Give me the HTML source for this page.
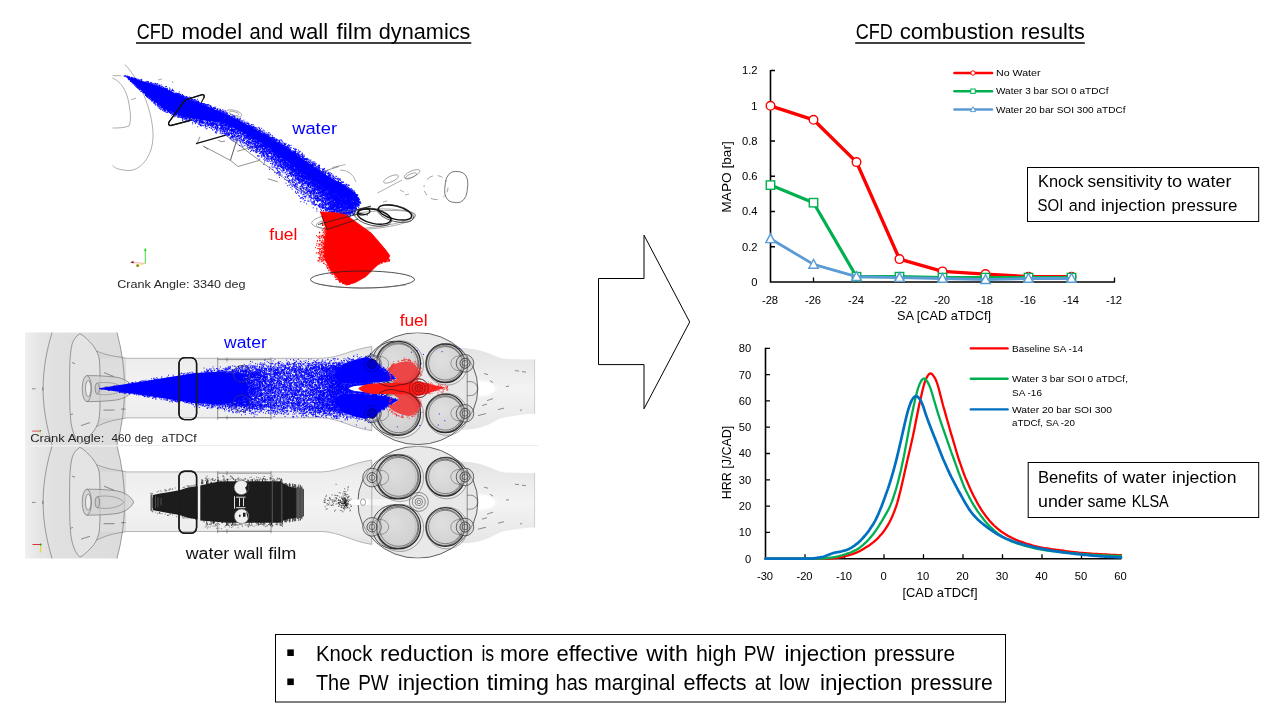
<!DOCTYPE html>
<html lang="en"><head><meta charset="utf-8"><title>CFD model and combustion results</title>
<style>html,body{margin:0;padding:0;background:#fff;overflow:hidden}svg{display:block}text{font-family:"Liberation Sans", sans-serif;}</style></head>
<body>
<svg width="1280" height="720" viewBox="0 0 1280 720">
<rect width="1280" height="720" fill="#fff"/>
<g id="img1">
<path d="M125 64.6C140 80 152 110 153 133S140 172 127 170.5S115 167 112.5 165.6" fill="none" stroke="#6a6a6a" stroke-width="0.55"/>
<path d="M112.5 75.7H121M112.5 78C122 82 127 92 129 104S131 120 129 126C124 128 118 128 112.5 128" fill="none" stroke="#6a6a6a" stroke-width="0.55"/>
<path d="M131 100l5 -2M158 80l4 -1M172 81l1 2" fill="none" stroke="#6a6a6a" stroke-width="0.55"/>
<path d="M202.9 145.9L230.4 160.4L238 166.5L259.4 160.4M237.3 151.3L256.4 145.9L257.2 152.8M242.6 132.9L258.7 129.1M225.8 135.2L259.4 160.4L287 180.3L309.9 195.6M267.9 178.8L277.8 181.8M199.9 136.7L196.8 144.4M204 146.5l4 3M309.9 175.7L338.9 166.5M309.9 175.7L318 182M300 186l22 14M218 140q3 3 7 1" fill="none" stroke="#6a6a6a" stroke-width="0.55"/>
<path d="M196 143.6L225.8 135.2" fill="none" stroke="#111" stroke-width="1.2"/>
<path d="M230.4 160.4L237.3 138.3" fill="none" stroke="#333" stroke-width="0.8"/>
<ellipse cx="234" cy="113.5" rx="8" ry="3.2" transform="rotate(14 234 113.5)" fill="none" stroke="#6a6a6a" stroke-width="0.55"/>
<ellipse cx="234" cy="113.5" rx="5" ry="1.8" transform="rotate(14 234 113.5)" fill="none" stroke="#6a6a6a" stroke-width="0.55"/>
<path d="M171 125.5Q167.5 125.5 169 122L184 101.5Q185.5 99.5 188 99L201.5 94.8Q205 94 204 97.5L193 118Q192 120 190 120.5Z" fill="none" stroke="#111" stroke-width="1.1"/>
<path d="M124.5 75.5L150.0 83.3L162.5 87.5L183.0 96.5L204.0 104.9L225.0 113.6L246.0 123.9L267.0 135.7L287.5 148.6L300.0 157.0L325.0 174.2L350.0 189.6L357.0 195.6L361.0 204.0L352.0 200.5L340.0 196.1L325.0 188.9L300.0 171.9L287.5 161.7L267.0 146.4L246.0 134.4L225.0 123.6L204.0 120.6L183.0 117.1L162.5 108.1L150.0 98.3L124.5 75.8Z" fill="#0000ff"/>
<path d="M124.1 76.1h0m.7 .2h0m.3-.7h0m.6 .3h0m1.5 .1h0m.4 .3h0m.8 3.1h0m.1-2.6h0m.4 0h0m0 3h0m.5-3.2h0m.8 4.4h0m.4 .4h0m.5 .3h0m.5-4.3h0m.2 0h0m0 .3h0m.1 4.7h0m.9-4.9h0m.1 6.2h0m.3-.2h0m.3 .4h0m.5-5.6h0m.3 0h0m0 0h0m.2 6.6h0m.4-6.5h0m0 7.1h0m.3-6.9h0m.5 .3h0m0 0h0m.2 7.2h0m.1 .2h0m.1-7.6h0m.1 7.5h0m.6 1.2h0m.3-.1h0m.1-8.1h0m.2 8.2h0m.6 .5h0m0 .3h0m.3 .1h0m.1-9h0m.2 9.7h0m.9 .5h0m0 .4h0m.6-10.4h0m.7 11.7h0m.2-11.4h0m.1 11.5h0m.2 .1h0m.3-11.1h0m0 .2h0m.1-1.1h0m1 12.9h0m.5 0h0m.2 .4h0m0 .1h0m1.3 .9h0m.8 1.6h0m0 .1h0m.1-.5h0m.1-.2h0m.1 .4h0m.1-13.1h0m.2-.4h0m.4 13.8h0m0 .9h0m.3-.4h0m.1 .2h0m.1 0h0m.2-14.8h0m0 15.6h0m.2 .3h0m.1-15h0m0 14.2h0m.2-14.6h0m.2 15.8h0m.3-.3h0m.2-14.5h0m.1-1.1h0m.6 15.9h0m.1 .6h0m0 .4h0m.1-.4h0m.2-15.1h0m0 15.1h0m.5 .8h0m.7 .4h0m.1-17h0m0 .8h0m.2 0h0m.1-.3h0m0 16.4h0m.1 .8h0m.2-17.1h0m.2 16.7h0m.1 1.3h0m.3-.8h0m0 .9h0m.2-17.2h0m.3 16.6h0m0 .1h0m0 .3h0m.4-17.6h0m.1 1h0m.3-.7h0m.2 19.2h0m.4-1.2h0m.2 1.3h0m.3-1h0m.1 .7h0m.2-18.1h0m.2 18.1h0m.1 1h0m.1-20.3h0m0 20.2h0m.1-20h0m0 19.1h0m0 2.1h0m.1-20.3h0m.3 20.6h0m.3-21.5h0m.6 1.9h0m.2-1h0m.2 .9h0m0 19.3h0m.1-19.3h0m.3-1.1h0m.4-.6h0m0 20.9h0m0 1h0m0 .3h0m.3 1h0m.1-21.1h0m.1 19.2h0m.4 .9h0m.2 .1h0m.2 1.8h0m.1-22.8h0m.1 .4h0m0 .9h0m0 20.4h0m.2-20.2h0m0 22.2h0m.1-23.1h0m.1 1h0m.2 20h0m.3 1.1h0m.2 .3h0m.1-22h0m.3 22h0m0 1.7h0m.2-22.7h0m.2 22.4h0m.2-24.4h0m.2 22.6h0m.1-.1h0m.2 .5h0m.1-20.9h0m.2-.7h0m0 .2h0m.1 21.7h0m.5 2.1h0m.4-1h0m.1 .2h0m0 .3h0m.2-22.5h0m0 .5h0m0 20.7h0m.4 1.1h0m.2-21.7h0m0 21.1h0m.1 2.4h0m.1-.4h0m.2-1.7h0m0 .6h0m.2-.6h0m0 1.2h0m.1-1.4h0m0 1h0m.1-21.6h0m.2-.4h0m.2 22.2h0m0 .6h0m.1-1.4h0m.1-22.8h0m0 1.9h0m.2 23.3h0m.1-1.2h0m.1-21.8h0m.1 20.9h0m.2 1h0m.2-22h0m.1-2.3h0m0 2.3h0m.3 23.5h0m.1-23h0m.2-1.1h0m0 .5h0m.2 .6h0m0 23.1h0m.1-.2h0m.1-23h0m0 21.1h0m.4 .3h0m0 .6h0m.3 0h0m.1-.6h0m.1 0h0m.1 .4h0m.1 .6h0m.5 .2h0m0 .2h0m.2-21.7h0m0 20.9h0m.2 .9h0m.2-24.1h0m0 2.2h0m0 21.7h0m.1 0h0m.1-22.3h0m0 22.5h0m.2-23.1h0m0 22.8h0m.2 1.2h0m.3 .5h0m.3-22.4h0m.1 21.3h0m.2 0h0m.1 .8h0m.1-22.7h0m.1 22.4h0m.1 2.2h0m.1-23.7h0m.2 21.3h0m.3 0h0m.1 .5h0m.1-23.2h0m.1-.8h0m.1 25.4h0m.1-24.3h0m.1-.2h0m.1 23.2h0m.2-22.7h0m0 23.7h0m.2-23.6h0m.5 23.2h0m0 .5h0m0 .2h0m0 .6h0m.2-1.5h0m.1-22.5h0m0 22.4h0m.3 1.2h0m.3-.1h0m.1-.7h0m.1 2.7h0m.4-2h0m.1 1.4h0m.1-2h0m.3 .8h0m.1-21.8h0m.2 21.7h0m.1-21.5h0m0 21.9h0m.1-.7h0m.3 .1h0m.1-21.4h0m.5 22.4h0m.1-22h0m.1 22.9h0m.1-22.6h0m0 .1h0m.4 .2h0m0 23.1h0m.3-23.1h0m0 21h0m.2-21.6h0m.2 23.5h0m.1-1.6h0m.2 1.1h0m.1-23.2h0m0 1h0m0 21.5h0m.2-21.5h0m0 21.6h0m0 1.3h0m.1-25.3h0m0 2.2h0m.3 0h0m0 22h0m.3-.5h0m.6-21.2h0m0 22.8h0m.2-22.4h0m.1 .3h0m.1-1.1h0m.1 22.7h0m.2 .6h0m.1-.5h0m0 .2h0m.3-21.4h0m0 21.6h0m.6-22h0m0 21.7h0m0 .2h0m.2 1.2h0m.1-23.1h0m.1-.8h0m0 23.3h0m.1 2.2h0m0 .6h0m.1-2.8h0m.1-21.6h0m.1 0h0m0 21.3h0m.1 .8h0m0 1.3h0m.2-2.5h0m.1-20.7h0m.1-.7h0m.1 .6h0m.1 .4h0m.2 .1h0m.1 20.6h0m.3 .2h0m.1 1.3h0m.1-1.3h0m.3-21.3h0m.2 23.3h0m.2-.9h0m.1-.6h0m.1-21.4h0m0 21.1h0m.2 .7h0m.1-21h0m.2 21.4h0m.1 1.5h0m.3-2.5h0m.3-20.7h0m.1-.5h0m0 .3h0m0 21.1h0m.1 .3h0m0 .4h0m.1 .9h0m.1 .4h0m.2-2.1h0m.2-20h0m.2-.7h0m.3 .1h0m0 20.6h0m.2 3.6h0m.1-3.4h0m.2-19.9h0m0 20.9h0m.7 1.3h0m.1-22.8h0m.3-.6h0m.2 22.3h0m0 .3h0m0 .5h0m.1-1.7h0m0 0h0m.2-19.4h0m0 21.1h0m.3-1.7h0m0 0h0m.3-19.8h0m.1 19.7h0m0 1.5h0m.3-22.5h0m0 .2h0m.3 1.4h0m.3 .5h0m0 .2h0m.1 20.8h0m.3-21.1h0m0 21h0m.6-20.8h0m.1 22.7h0m0 1.6h0m.1-24.6h0m.3 20.8h0m.1-19.6h0m0 20.3h0m.2-1.6h0m0 1.4h0m.2-20.5h0m.2 20.2h0m0 .2h0m.4-1.1h0m.1-19.6h0m.1 21.7h0m.1 .4h0m.2-21.9h0m0 19.5h0m.3-19.6h0m.1-.2h0m0 .2h0m0 21.1h0m.2-20.5h0m0 20.6h0m.1-.1h0m.1 2.5h0m.1-22.1h0m.2 21.2h0m.1-1.2h0m.2-.9h0m0 .9h0m.1-1.7h0m0 .2h0m0 2.8h0m.1-1.2h0m.1-.4h0m0 .3h0m.1-20.6h0m0 20.7h0m.1-19.7h0m.1 18.7h0m0 1.1h0m.1-20.1h0m0 18.1h0m.3 .3h0m.1-18.9h0m.2 1.2h0m0 20.6h0m.1-1.9h0m.1-21.7h0m0 21.4h0m.2 6.2h0m.2-25.4h0m0 .8h0m.1-.2h0m0 .2h0m0 17.6h0m.2-17.4h0m.2-1.3h0m0 19.1h0m.1 3.9h0m.1-22.7h0m0 1.1h0m.1-.1h0m.2 19.6h0m.1-19.3h0m.1 18.2h0m0 2.5h0m.1 .8h0m.1-1.9h0m0 .6h0m.1-20.1h0m.2 17.3h0m0 4.2h0m.2-3.6h0m0 .6h0m0 1.4h0m.1-2.5h0m0 1.1h0m.1-1.1h0m0 2h0m.1-.1h0m0 .7h0m.1-1.6h0m0 4.3h0m.1-4.7h0m0 .7h0m.1-18.3h0m.1 17.1h0m0 .7h0m0 4.3h0m.1-.9h0m.1 1.3h0m.1-4.8h0m.2 3h0m.2-20.2h0m0 21.8h0m.2-3.7h0m.1-.7h0m0 1h0m.1 .2h0m.1-19h0m0 22.7h0m.1-22.1h0m.1 17.1h0m0 1.1h0m.1-1.8h0m0 1.7h0m.1-.2h0m0 1.7h0m0 1.6h0m0 .4h0m.1-21.9h0m0 16.7h0m.1 2.5h0m.2-1.1h0m0 .9h0m.1-18.7h0m0 17.6h0m.1 1.6h0m.1-2.2h0m.2-17.3h0m.2 18.6h0m.1 .3h0m.1-18.5h0m0 18.1h0m.1 0h0m0 3.6h0m.1-21.2h0m0 .3h0m.1 17.8h0m.1 1h0m.1-19.8h0m0 19.9h0m.1-20h0m0 .3h0m.1 .2h0m.2 18.6h0m.3-.6h0m.3-17.7h0m.1 20.1h0m0 1h0m.1-20.3h0m.1-1.2h0m0 23.7h0m.1-2.6h0m.1-3.3h0m.1 4.8h0m.1-2.7h0m0 1.3h0m.1-20.4h0m0 .5h0m.1 15.6h0m0 2.3h0m.1-18.6h0m.2 21.8h0m.2-2.9h0m.1 5.3h0m.1-23.8h0m0 .2h0m.1 18.8h0m.1-1.9h0m.1 .6h0m.2-18.2h0m0 1.5h0m0 16.5h0m.1 .2h0m0 3.1h0m.1-3.8h0m0 6.1h0m.1-6.1h0m0 .4h0m.1-1h0m0 .3h0m.1-.2h0m.1 1.6h0m0 1.3h0m.1-1.1h0m0 2.5h0m.1-21.3h0m0 .3h0m0 .5h0m.2 .8h0m0 16.2h0m.3 2.6h0m.1-20.6h0m0 19.5h0m0 1.1h0m.1 .8h0m.1-1.4h0m.2-17.7h0m0 16.3h0m.1 1.9h0m.1-19.9h0m0 16.4h0m.2 3.7h0m.1-3.7h0m.1 6h0m.1-3.8h0m0 .7h0m.1-2.1h0m0 5.3h0m.1-6h0m.1-15.7h0m.2 .1h0m.3 18.6h0m0 1h0m.1-2.3h0m.1-1h0m.1-15.4h0m0 14.9h0m0 3.4h0m.1-2h0m.1-17.3h0m0 .5h0m0 .3h0m0 .8h0m.1 16h0m0 2.3h0m.1-18.8h0m0 16.4h0m0 1.7h0m0 1.1h0m.1-2.4h0m.1-15.8h0m0 0h0m0 20.4h0m.1-5.7h0m0 4.5h0m0 1.2h0m.1-3.5h0m0 0h0m.1-16.9h0m0 15.7h0m.1 1.5h0m.2-17.2h0m.1 15.7h0m0 1.1h0m.2-1.4h0m.1 3.4h0m.1-3.3h0m.1-.9h0m0 .2h0m0 1.7h0m.1 1.6h0m.2-17.7h0m0 21h0m.1-3.3h0m0 1.2h0m0 3h0m.1-4.6h0m0 .1h0m.1-17.6h0m0 15h0m0 1h0m.1-.2h0m.1-15.2h0m0 14.4h0m0 1.3h0m0 .6h0m0 .6h0m.2-1.2h0m.2-16.9h0m0 16.3h0m0 3.8h0m.1-4.9h0m0 .5h0m0 .9h0m.1 3.5h0m.1-19.8h0m0 15.3h0m0 1.6h0m.1-15.9h0m0 14.5h0m.1 .5h0m.1-16.4h0m.1 15.7h0m0 1.6h0m.1 1.5h0m.1-17.7h0m0 20.8h0m.2-6.3h0m.3 4.8h0m.1-4.8h0m.1-14.6h0m.1-1.3h0m0 16.1h0m.1-14.7h0m0 15.3h0m0 4.4h0m.1-19.9h0m0 18.6h0m0 .6h0m0 4.8h0m.1-23.8h0m0 17.5h0m0 .9h0m.1 5.8h0m.1-10.1h0m0 1.8h0m0 .2h0m0 3.8h0m.1-.9h0m0 3.9h0m.1-7h0m0 4.2h0m.3-4.7h0m0 2.4h0m0 2.7h0m0 4.1h0m.1-8.5h0m.1 .9h0m0 4.2h0m.1-5.9h0m.1 .3h0m0 4.8h0m0 1.1h0m0 2.2h0m.1-2.1h0m.1-4.6h0m0 1.6h0m.1-17.6h0m0 13.6h0m0 1.9h0m.1 2.4h0m.1-18.4h0m0 .3h0m0 15.9h0m.1-15.1h0m0 13h0m0 8h0m.1-3.9h0m0 .6h0m.1-18.6h0m0 .6h0m0 16.7h0m0 3.4h0m.1-3.9h0m.1-2.7h0m0 4.3h0m0 .8h0m.1-3h0m0 2.9h0m.1-2.9h0m.1-14.8h0m0 12.1h0m.1 2.1h0m0 .8h0m.2 4.5h0m.3-2.9h0m.3-18.3h0m.1 1.6h0m0 14.2h0m.2-1.5h0m.2-12.9h0m0 13.4h0m0 1.7h0m.2 3.5h0m.1-17.9h0m.1 17.2h0m0 .3h0m.1-4.4h0m.1 .9h0m0 4.3h0m.1-19.6h0m0 14.4h0m0 7.1h0m0 2h0m.1-8.4h0m0 3.8h0m.1-3.4h0m0 .2h0m0 5.2h0m.1-21.3h0m0 2.1h0m0 12.1h0m.1-13.1h0m0 13.3h0m0 3.6h0m.1 2.9h0m.1-6.4h0m0 .8h0m0 1.7h0m0 2.4h0m0 3.5h0m.2-21h0m0 20.5h0m.2-19.9h0m.2 16h0m0 5.9h0m.1-5.7h0m.1 .5h0m.1-17.9h0m0 12.8h0m0 2.1h0m0 .7h0m.1-2.8h0m0 .5h0m0 1.2h0m0 1h0m0 1.4h0m0 2.3h0m0 .4h0m.1-4h0m.1-2.3h0m0 0h0m0 1.5h0m0 3.5h0m.1-.9h0m.1-3.1h0m0 1.9h0m.1-2.9h0m0 3.1h0m.1-15.6h0m0 12.1h0m0 2.3h0m.1-2.4h0m0 2.5h0m0 .6h0m0 5.1h0m.1-2.9h0m0 4.6h0m.1-23.4h0m0 17.4h0m0 8.4h0m.1-9.6h0m.1 1.4h0m0 2.4h0m0 2.3h0m.1-20.5h0m0 13.9h0m0 .3h0m0 .1h0m.1 3.7h0m.1-18.2h0m0 .7h0m0 13.9h0m0 2h0m.1-16.2h0m0 .6h0m0 11.4h0m0 6.1h0m0 1.3h0m.1-2.5h0m.1-4.9h0m0 5.1h0m.1-17h0m0 13.8h0m.1 4h0m0 .2h0m.1-18.3h0m0 18.1h0m0 3.9h0m.1-10h0m.1-13.5h0m0 17.4h0m0 .6h0m.1-3.7h0m0 6.4h0m.1-6.4h0m0 7.4h0m.1-4.3h0m.1-14.8h0m0 12.9h0m0 1.8h0m0 3.6h0m.1-18.1h0m.1-.9h0m0 19.7h0m.1-6.6h0m0 8.2h0m.1-3.8h0m0 1.9h0m0 1.2h0m.1-1.9h0m.1-6.3h0m0 1.7h0m.1-2.3h0m0 2.2h0m0 1.3h0m0 1h0m.1-3.3h0m0 9.5h0m.1-10.7h0m.1 .1h0m0 4.1h0m0 1.8h0m0 4.1h0m.1-23.2h0m0 13.9h0m0 4.9h0m0 4.4h0m.2-20.4h0m0 10.9h0m0 1.2h0m0 2.8h0m.1-3.9h0m.1-12.6h0m0 .9h0m0 12h0m.1 .5h0m0 .3h0m0 5.4h0m.1-4.1h0m0 .6h0m0 .8h0m0 2.6h0m0 3.3h0m.1-8.9h0m0 3.4h0m0 .1h0m0 0h0m0 3h0m0 1.7h0m.1-9.3h0m0 7.9h0m.2-7.6h0m0 .9h0m0 .5h0m0 1.3h0m.1-1.9h0m0 9.6h0m.1-21h0m0 19.9h0m.1-9.2h0m0 .8h0m0 4.8h0m0 2.5h0m.1-19.4h0m.1 .4h0m0 14.3h0m.1-15.6h0m0 1.6h0m0 15h0m.1-2.4h0m0 6.8h0m.1-3.9h0m.1 .6h0m.1-4.8h0m0 6.5h0m0 1.2h0m.1-2.3h0m0 4h0m.1-20.6h0m0 21.7h0m.1-10.8h0m0 1.7h0m0 2.2h0m0 1.2h0m.1-15.2h0m0 10.7h0m0 2.3h0m0 3.1h0m.1-2.9h0m0 1.1h0m0 5.1h0m.2-5.1h0m0 3.9h0m0 2.1h0m.2-9.7h0m0 3.1h0m0 .1h0m0 4.1h0m.1-5.4h0m.1 5.7h0m.1-6.8h0m0 .9h0m0 .6h0m0 .7h0m0 .8h0m0 5.1h0m.1-7.9h0m.1 0h0m0 6.9h0m.1 .3h0m.1-5.5h0m0 4.8h0m0 1.3h0m0 .4h0m0 .5h0m0 .3h0m.1-7.7h0m0 1.2h0m.1-2.3h0m.1-.8h0m0 1h0m.1-11.2h0m0 10.3h0m0 .1h0m0 5.1h0m.1-15.7h0m0 14.8h0m0 2.4h0m0 1.6h0m.1-7.1h0m0 1.6h0m.1-2.8h0m.3 4h0m0 7.8h0m.3-11.4h0m0 .5h0m0 11.9h0m.1-12h0m0 10.5h0m.1-10.8h0m0 3.6h0m0 2.8h0m.1-3.2h0m0 3.6h0m.1-19.2h0m0 15.9h0m.1 3.5h0m.1 4.7h0m.2-10.5h0m0 2.5h0m0 .8h0m0 .1h0m0 5.6h0m.1-20.4h0m0 13.7h0m0 2.5h0m0 .9h0m.1-6.3h0m0 2.7h0m0 .1h0m0 1.1h0m.1-3.4h0m0 1.8h0m0 5h0m0 1.6h0m.1 1.5h0m.1-4.5h0m0 .9h0m.1-2.8h0m.1-3.4h0m0 .1h0m0 .6h0m0 7.7h0m0 3.8h0m.1-23.6h0m0 11.1h0m0 .8h0m0 1.3h0m0 .1h0m0 2.1h0m0 0h0m.1-2h0m0 1.3h0m0 5.8h0m.1-7.4h0m.1 .1h0m0 6.8h0m.1-19.2h0m0 13.5h0m0 .3h0m0 6.6h0m.1-4h0m0 3.4h0m.1-7.8h0m0 .5h0m0 5.6h0m.1-6h0m0 1h0m0 6.5h0m.1-21.7h0m0 2h0m0 13.1h0m0 5.1h0m0 .5h0m.2-2.5h0m0 4.5h0m.1 .5h0m.1 2.7h0m.1-6.9h0m.1-4.7h0m0 .9h0m0 6.2h0m.1-4.7h0m0 .2h0m0 1.1h0m.2-16.9h0m.1-.2h0m0 13h0m0 1.4h0m0 1.3h0m0 .5h0m0 7.2h0m.1-9.5h0m0 4.3h0m.1-1.8h0m0 .5h0m0 3.7h0m0 0h0m.1-7h0m.1-12.8h0m0 13.1h0m0 2.1h0m0 4h0m0 1.5h0m.1-8.1h0m0 .1h0m.1-11.7h0m0 13.2h0m0 4.6h0m.1-19.3h0m0 1.4h0m0 13.1h0m0 4.1h0m.2-3.4h0m.1-13.2h0m0 12.1h0m0 4.8h0m.1-18.4h0m0 12.6h0m.1-.4h0m0 5.6h0m0 1.2h0m.1 .6h0m.1 3.3h0m0 .4h0m.1-6.5h0m.1-3.4h0m0 5.2h0m0 3.4h0m.2-20.6h0m0 11.3h0m0 3.9h0m.1-4.2h0m0 2.9h0m0 .3h0m.1 .5h0m0 4.4h0m.1-7.3h0m.1 2.4h0m.1-.8h0m0 .7h0m0 7h0m.1-20.3h0m0 11.9h0m.1 3.1h0m.2-4.3h0m0 7.3h0m.2-.4h0m.2-17.7h0m0 14.1h0m0 3.7h0m.1-4.5h0m0 1.8h0m.1 4.5h0m.1-4.4h0m0 7.8h0m.1-11.9h0m0 5.6h0m.1-16.4h0m0 14.3h0m.1-15h0m0 .2h0m.1 .5h0m0 17.5h0m.1-5.3h0m0 4.4h0m.1-16.5h0m0 11.7h0m0 1.6h0m0 7.4h0m.1-9.3h0m0 1.3h0m.1 4h0m0 3.7h0m.1-7.5h0m0 4.8h0m0 3.6h0m.1-20.7h0m0 0h0m.1 11.2h0m0 2.4h0m.1-2.7h0m0 .2h0m.1 5.7h0m.1-3.2h0m0 2.2h0m.2-5h0m0 .4h0m0 3.6h0m.1-3.8h0m.1 .4h0m.1-11.3h0m0 15.5h0m0 3.2h0m.1-20.3h0m0 1.3h0m0 17h0m0 1.9h0m.2-3.1h0m.1-15.4h0m0 18.5h0m.1-5.6h0m0 7.7h0m0 4.8h0m.1-9.7h0m0 2.9h0m.1-18h0m0 11.3h0m.1 5.5h0m.1-17.8h0m.2 .2h0m0 12.5h0m0 .8h0m0 5.1h0m0 3.3h0m.2-9.7h0m0 .9h0m0 .1h0m0 .8h0m0 9.2h0m.1-.6h0m.1-24h0m.1 14.1h0m0 2.7h0m.1 4.2h0m.1-7h0m0 1.7h0m0 2.8h0m.1-3.3h0m0 1.8h0m0 5.1h0m.1-3h0m0 .1h0m0 4.2h0m.1-21.4h0m.1 16.4h0m0 8.5h0m.1-23.8h0m0 15.1h0m.2-1.1h0m0 3.5h0m.2 .9h0m0 4.2h0m.2-7.7h0m.1-2.9h0m0 1.1h0m0 5.3h0m.1-19.2h0m.1 13.7h0m0 6.8h0m.1-19.2h0m.1 11.8h0m.1 .9h0m.1 5.8h0m0 .4h0m.1-18.8h0m0 20.5h0m0 3.6h0m.1-11.9h0m.1-.8h0m.1 1.2h0m.1 12.3h0m.1-11.2h0m.1 1.3h0m0 4.6h0m.1-1.1h0m.1-5.7h0m.1-1.2h0m0 4.8h0m0 1.2h0m.1-6.3h0m0 .2h0m0 5.3h0m.1-18.6h0m0 18.9h0m.1-17.2h0m0 21.8h0m.1-9h0m.1-1.2h0m0 5.5h0m0 3.9h0m.1-.5h0m.1-7.2h0m.1 .5h0m0 1.8h0m0 2.5h0m.1-4h0m0 4.5h0m0 2h0m.1-19.9h0m.1 .5h0m0 13.5h0m0 1.2h0m.1 7.7h0m.1-10.3h0m.1 1.6h0m.2-14.7h0m0 1.3h0m0 15.7h0m.1 4.6h0m.3-8.4h0m0 2.3h0m.1-.4h0m.1-2.1h0m0 3.5h0m0 3.2h0m.2-5.5h0m0 6.6h0m.1 .4h0m.1-7.9h0m0 .3h0m0 3.5h0m.1-3.5h0m0 8.6h0m.2-8h0m0 6.9h0m.1-19.9h0m0 14.1h0m0 4h0m.1-3.7h0m0 4.3h0m.1-3.4h0m0 3.3h0m0 1.7h0m.1-21.4h0m0 13h0m0 2.6h0m0 0h0m.1-2.5h0m0 1.2h0m0 9.6h0m.1-10.5h0m.1 4.8h0m.2-3.4h0m0 8.6h0m.1-22.4h0m0 .4h0m0 12.9h0m0 8h0m0 2.7h0m.1-11.3h0m0 4.6h0m0 .1h0m0 1.6h0m.1-6.1h0m0 2.7h0m.1-3.4h0m0 .4h0m0 .3h0m.1 .1h0m0 .2h0m0 1.9h0m0 2.4h0m0 1.1h0m.2-5.9h0m0 1.2h0m.1-1.4h0m0 1h0m0 .8h0m0 4.2h0m.1-16.6h0m.1-1h0m0 18.2h0m0 .7h0m0 2.7h0m0 3.9h0m.1-9.7h0m.1-3.9h0m0 .1h0m0 8h0m0 1.2h0m.1-21.9h0m0 1.2h0m0 11.7h0m0 2.1h0m.1-15.3h0m0 14.6h0m0 1.3h0m0 2.7h0m0 1.6h0m0 4.1h0m.1-7.8h0m0 2h0m0 1.9h0m.1-4.5h0m0 5.8h0m.1-19.3h0m0 .1h0m0 11.1h0m0 5.2h0m.2-4.7h0m0 6.1h0m.2-2.2h0m0 6.8h0m0 .1h0m.2-10.8h0m0 4.8h0m0 .5h0m0 3.7h0m.1-21.2h0m0 .4h0m0 12h0m0 2h0m.1-2.2h0m0 1.3h0m.1-12.6h0m0 11.4h0m0 1.8h0m0 2.2h0m.2-2h0m0 .2h0m0 .4h0m0 4.4h0m.1-18.4h0m0 12.5h0m0 .9h0m.1 .1h0m0 3.3h0m.1-16.8h0m0 12.8h0m0 3.9h0m.1 5.3h0m0 3.6h0m.1-12.9h0m0 8h0m.1-9.4h0m0 6.5h0m0 2.4h0m.1-.6h0m0 2.9h0m.3-21.8h0m0 15.6h0m.1-3.9h0m0 5.4h0m0 3h0m0 3.2h0m.1-12.3h0m0 12.9h0m.1-25.9h0m0 1.9h0m0 15.4h0m0 1.4h0m.1-2.5h0m.1-14.9h0m0 1h0m0 20.5h0m.1-.5h0m.1-8.5h0m.1-12h0m0 11.7h0m0 1h0m0 1.1h0m.1-1.9h0m0 4.1h0m.1-4.2h0m0 6h0m.1-6.2h0m0 3.2h0m.1 5.4h0m0 2.2h0m.1-21.4h0m0 13.1h0m0 3.7h0m0 2.3h0m0 .5h0m.1-20h0m0 .5h0m0 12.4h0m0 7.9h0m.1-7.7h0m0 .5h0m0 3.4h0m.1-2.6h0m.2-16.8h0m0 .1h0m0 16.4h0m0 .5h0m0 5.2h0m0 1.2h0m0 2.6h0m.1-9.7h0m0 4.7h0m0 4.4h0m.1-11.5h0m0 .3h0m0 .6h0m0 3.9h0m.1-4.2h0m0 3.7h0m.1-15.4h0m0 .6h0m.1 10.8h0m0 12h0m.1-24.2h0m0 12.6h0m0 4.6h0m.1-16.6h0m0 24h0m.1-23.2h0m.1 11.1h0m0 .1h0m0 4.2h0m.1-17.2h0m.1 15.2h0m0 .9h0m0 4.6h0m0 1.4h0m.2-21h0m0 .8h0m0 11.5h0m0 1.3h0m0 .4h0m0 2.7h0m0 1h0m.2-.8h0m.1-2.6h0m.1 3.7h0m0 2.4h0m.1-6.9h0m0 2.9h0m0 6.9h0m.1-6.1h0m0 1.5h0m0 0h0m.1-3.2h0m.1-15.3h0m0 17.4h0m.1-4.5h0m0 1.5h0m0 1.4h0m.1-14.4h0m0 12.1h0m0 6.4h0m.1-1h0m0 3.2h0m.1-9.5h0m0 1.5h0m0 3h0m.1-15.8h0m0 16.1h0m.1-17.1h0m0 17h0m0 2.3h0m0 .2h0m0 .3h0m0 3.7h0m.1-7.4h0m0 8.8h0m.1-24.6h0m0 13.7h0m0 .1h0m0 .6h0m0 8.8h0m.1-23.2h0m0 .8h0m0 14.6h0m0 6.1h0m.2-3.7h0m0 1.2h0m.1 .2h0m.1-4.9h0m0 .6h0m0 5.3h0m0 2h0m0 .8h0m.1-8.7h0m0 4.3h0m.1-4.9h0m0 4.8h0m0 5.8h0m.1-11.5h0m0 6.9h0m0 4.9h0m.1-2.9h0m.1-20.3h0m0 16.1h0m.1-17.7h0m0 17.6h0m0 0h0m0 2.8h0m.1-7.2h0m0 1.3h0m.1 6.3h0m.1-19.6h0m0 15.4h0m0 1.2h0m0 2.1h0m0 1h0m0 2.4h0m.1-8.3h0m0 5.4h0m0 1.8h0m.1-6.2h0m.1-2.8h0m0 5.2h0m0 2h0m.1-6.5h0m0 .1h0m0 1.8h0m0 1.9h0m0 2.7h0m0 7.2h0m.1-10h0m.1-.7h0m0 4.8h0m0 6.8h0m.1-12.5h0m.1-2.4h0m0 .2h0m0 6h0m.1-17.1h0m0 15.9h0m.1-4.9h0m0 1.2h0m.1-1.1h0m0 .3h0m0 1.4h0m0 .2h0m.1 3.6h0m.1 8.7h0m.1-24.9h0m0 10.8h0m0 0h0m0 .5h0m0 5.7h0m0 1.8h0m.1-22.4h0m0 14.5h0m0 .8h0m0 8.9h0m.1-7.1h0m0 2.3h0m0 .5h0m.2-17.1h0m0 13.1h0m0 2.6h0m0 .1h0m0 .8h0m.1-16.8h0m0 15.7h0m0 .8h0m0 5.1h0m0 4.4h0m.1-12.2h0m.1-15.8h0m0 3h0m0 16h0m0 6.4h0m.1-3.1h0m.1-21.8h0m0 21.6h0m.1-4.2h0m0 .6h0m0 6.9h0m0 5.7h0m.1-28.4h0m0 .3h0m0 12.6h0m0 2.1h0m0 .1h0m0 .3h0m0 3.7h0m.1-18.6h0m0 14.9h0m0 .6h0m0 4.1h0m.1-20.3h0m0 1.2h0m0 16.6h0m0 .9h0m.2-19.1h0m0 23.4h0m.1-23.9h0m0 16.6h0m.1-.3h0m0 .4h0m.1-15.5h0m0 13h0m0 .3h0m0 1h0m.1 .8h0m0 1.5h0m0 2.2h0m.1-5.1h0m.1 1.5h0m0 2.3h0m0 4.5h0m.1-20.8h0m0 11.5h0m0 1.9h0m0 6.9h0m.1-5.8h0m0 1.3h0m0 3.9h0m.1-6.7h0m0 1h0m0 1.7h0m0 4.4h0m.1-.5h0m0 3.4h0m.1-9.9h0m.1-13.7h0m0 13.1h0m0 12.6h0m.1-12.8h0m0 0h0m0 .6h0m0 6.4h0m0 .1h0m0 .6h0m.1-23.7h0m0 27.6h0m.1-10.3h0m.1 .6h0m0 .1h0m0 1h0m.1-1.3h0m0 9.4h0m.1-10.3h0m0 1h0m0 6.4h0m.1-21.7h0m0 17.5h0m0 1.4h0m0 1.7h0m0 1.9h0m0 3.7h0m.1-25.7h0m0 12.9h0m0 2.4h0m.1-13.6h0m0 12.7h0m0 2.7h0m0 5.8h0m.2-9h0m0 3.4h0m0 2.5h0m0 .8h0m.1-4.3h0m0 6.1h0m.1-21.7h0m0 14.5h0m0 2.7h0m0 4.9h0m.1-21.8h0m.1 12h0m0 1.6h0m0 1.8h0m0 2.1h0m0 .5h0m.1-4.4h0m0 5.7h0m.1-6.9h0m0 2h0m0 5.6h0m0 .9h0m.1-8.1h0m0 .3h0m0 5.6h0m.1-20.9h0m0 24.1h0m0 1.7h0m0 .2h0m.1-11h0m0 4.2h0m.1-.6h0m0 1h0m.1-3.3h0m0 7.2h0m0 1.7h0m.1-22.2h0m0 11.5h0m0 .6h0m0 .4h0m0 .4h0m0 6h0m0 1.3h0m.1-20.2h0m0 .3h0m0 .4h0m0 12.7h0m0 5.5h0m0 2.5h0m0 4.9h0m.1-13.4h0m0 6.3h0m0 2.7h0m0 .2h0m0 9.3h0m.2-19.1h0m0 10.3h0m.1-24.8h0m0 18.2h0m0 .6h0m0 1.8h0m.1-2.7h0m.1-3.5h0m0 4.7h0m0 6h0m0 2.7h0m.1-25.4h0m0 14.9h0m0 1.6h0m0 1.7h0m0 3.5h0m0 1.2h0m.1-9.5h0m0 15.4h0m.1-15.6h0m.1-14.3h0m0 2h0m0 .1h0m0 12.8h0m0 3.4h0m0 10h0m.1-14.3h0m0 7.2h0m.1-7.8h0m0 2.8h0m0 .2h0m0 2.7h0m0 6.1h0m.1-23.2h0m0 11.9h0m0 1.2h0m0 .9h0m.1 .5h0m0 2.9h0m0 1h0m.1-17.9h0m0 11.2h0m0 .1h0m0 2.3h0m0 3.9h0m0 4.8h0m.1-22.9h0m0 .6h0m.1 18.2h0m0 7h0m.1-14.1h0m0 .1h0m.1 5.4h0m.1-3.5h0m0 6.4h0m.1-19.2h0m0 11.2h0m0 3.2h0m0 1.7h0m.1-3.9h0m.1 .2h0m.1-12.9h0m0 13.5h0m0 10.2h0m.1-25.4h0m0 2.2h0m0 11h0m0 2.2h0m0 4.5h0m0 2.2h0m.1-8.4h0m0 .8h0m0 5.7h0m0 1.8h0m.1-4.4h0m0 3.1h0m.1-19.2h0m0 16.1h0m.1 8h0m0 1h0m.1-24.1h0m0 13h0m0 .6h0m0 7.3h0m0 1.8h0m.1-10.7h0m0 1.8h0m0 .5h0m0 2.1h0m.1-4.9h0m0 0h0m0 3.6h0m0 1.4h0m0 3.7h0m0 5.6h0m.1-13.5h0m.1-13.1h0m0 12.5h0m0 2.8h0m0 1.9h0m0 .1h0m0 4.8h0m0 4h0m.2-26.7h0m0 14.1h0m0 1.1h0m0 5.3h0m0 .4h0m.1-19h0m0 18.6h0m0 1.4h0m0 2h0m.1-22.4h0m0 .5h0m0 15.7h0m0 2.5h0m0 1.4h0m.1-8.2h0m0 6.8h0m.1-3.4h0m0 8h0m.1-5.2h0m.1 2.9h0m0 2.8h0m0 2.2h0m.1-8.6h0m.1-17h0m0 .6h0m0 11.1h0m0 1.4h0m0 10.3h0m.1-9.7h0m0 4.6h0m0 2.5h0m.1-22.2h0m0 1.9h0m.1 21.8h0m.1-7.3h0m.1-17.9h0m0 2.2h0m0 .7h0m0 13.4h0m0 1.3h0m0 5.3h0m.1-7.7h0m0 1.8h0m0 .7h0m0 .4h0m0 2.1h0m0 2.8h0m0 2h0m.1-21h0m0 19.5h0m0 4.9h0m.1-28.7h0m0 4.1h0m0 14h0m0 1.4h0m0 .7h0m.1-1.9h0m.1 2.3h0m.1-1.6h0m0 1.7h0m.1-4h0m0 10.9h0m.1-8.1h0m0 17.2h0m.1-33.3h0m0 1.2h0m0 11.6h0m0 .7h0m0 2.2h0m0 5.2h0m.1-4.6h0m0 6.6h0m.1 .1h0m0 8.1h0m.1-32.1h0m.1-1.1h0m0 15.1h0m0 2.6h0m0 1.9h0m.1-2.5h0m0 .8h0m0 2h0m.1-16.1h0m0 13.4h0m.1 1.3h0m.1-2.9h0m0 7.1h0m.1-6.7h0m0 13.6h0m.1-28.9h0m0 3.4h0m.1-.7h0m0 14h0m0 2.2h0m0 2.9h0m0 5.2h0m.1-9.7h0m0 .5h0m0 5.8h0m.1-.1h0m0 .7h0m.2-21.1h0m0 14.1h0m.1-1.4h0m0 2.8h0m0 5h0m.1-7.8h0m0 3.3h0m0 .2h0m.1-3.5h0m0 2.8h0m0 6.4h0m.1-21.9h0m0 18.4h0m0 1.2h0m.1-3.1h0m0 .8h0m0 3.1h0m0 1.9h0m.1-22.3h0m0 16h0m0 6h0m.1-9.2h0m0 10.3h0m.1-22.2h0m0 11.8h0m0 1h0m.1-.9h0m0 1.1h0m0 3.4h0m0 8.4h0m0 2.6h0m.1-14.1h0m0 5.4h0m0 .3h0m0 .1h0m.1-22h0m0 15.1h0m0 5.9h0m0 .9h0m0 3.2h0m0 .4h0m0 2.7h0m0 3.4h0m.1-29h0m0 .6h0m0 12h0m0 6.3h0m.1-21.1h0m0 1.5h0m0 13.4h0m0 6.6h0m0 1h0m.1-7h0m0 2.3h0m0 2.2h0m.1-5.1h0m.1-13.1h0m.1-.6h0m0 25.9h0m0 1.3h0m0 4.8h0m.1-16.8h0m0 .5h0m0 10h0m.1-11.3h0m0 7.8h0m.2-20.9h0m0 21h0m.1-20.8h0m0 12.4h0m0 4.2h0m0 .9h0m.1-18.1h0m0 17.2h0m.1 1.9h0m0 .5h0m.1 .3h0m0 1.4h0m.1-19.9h0m0 11.9h0m0 .3h0m0 .5h0m0 .8h0m0 .4h0m0 .9h0m0 .6h0m0 .9h0m.1-.5h0m0 .5h0m0 3.2h0m0 0h0m0 3.4h0m.1-24.7h0m0 29.4h0m.1-29.5h0m0 14.1h0m.1-12.4h0m0 14.4h0m0 7.6h0m.1-6.4h0m.1-.2h0m0 6.3h0m0 5.1h0m.1-26.1h0m0 12.9h0m0 1.5h0m0 1.3h0m.1-3.7h0m0 .4h0m0 1.9h0m0 5.1h0m0 1h0m0 4.7h0m.1-26.3h0m0 16.5h0m0 .8h0m.1-18.3h0m0 2.5h0m0 13.7h0m.1 1.6h0m0 5.1h0m0 11.8h0m.1-32.8h0m0 14.3h0m.1-13.7h0m0 13.1h0m0 4.3h0m0 1h0m0 1.2h0m.1-20.8h0m0 .7h0m0 12.6h0m0 1.6h0m0 .5h0m0 7.8h0m0 1.4h0m0 1h0m.1-24h0m0 12.3h0m0 5.3h0m0 5.8h0m0 3.2h0m.1-13h0m0 2.1h0m.1-1.8h0m0 1.9h0m0 3h0m0 3h0m.1-9.8h0m0 3.7h0m0 1.7h0m0 4.1h0m0 3.4h0m.1-12.5h0m0 9.8h0m.1-22.6h0m0 14.1h0m0 .2h0m0 2.8h0m.1-.2h0m0 4.2h0m.1-7.7h0m.2 .6h0m0 .9h0m0 4.3h0m0 1.5h0m.1-22h0m0 16.5h0m0 .6h0m0 3.8h0m0 8.7h0m.1-15.3h0m0 3.9h0m0 4.5h0m0 6.5h0m.1-29.1h0m0 1.1h0m0 23.2h0m.1-4.8h0m0 3.7h0m.1-21.9h0m0 13.7h0m0 1h0m0 8.7h0m0 .9h0m0 8.9h0m.1-18.8h0m.1 2h0m0 1.5h0m0 2.7h0m.1-21.5h0m0 2.1h0m0 12.4h0m0 1.1h0m0 5.2h0m.1-18.6h0m0 25.4h0m.1-27.6h0m0 21h0m0 8.3h0m.1-28.6h0m.1 15.8h0m0 1.3h0m0 1.7h0m0 4.8h0m0 5.3h0m.1-12.9h0m0 16.3h0m.1-18.1h0m0 1.2h0m0 1.5h0m0 2.8h0m0 8.1h0m0 2.5h0m.1-15.8h0m.1 7.3h0m0 .3h0m0 2.9h0m.1-9.6h0m0 1h0m0 2.9h0m0 1h0m0 4.6h0m0 .7h0m0 6.7h0m.1-16.1h0m.1-.8h0m0 3.3h0m0 7.5h0m.1-9.4h0m0 13.8h0m0 2h0m.1-16.8h0m0 1h0m0 .4h0m0 8.4h0m0 .3h0m.1-26h0m0 14.9h0m0 5.8h0m0 7.2h0m.1-25.7h0m0 12.6h0m0 .6h0m0 1h0m0 .6h0m0 2.8h0m0 .4h0m0 .3h0m.1-5.4h0m0 7.8h0m.1-5.4h0m0 6.4h0m0 2.2h0m.1-23.7h0m0 17.1h0m.1-3.7h0m0 .1h0m0 1.6h0m0 .7h0m.1-16.3h0m0 16h0m0 1.9h0m0 1.5h0m.1-18.4h0m0 29.2h0m0 3h0m.1-18.8h0m0 .8h0m0 2.3h0m0 1.5h0m0 1h0m0 9.5h0m0 .6h0m0 0h0m.1-14.7h0m0 .8h0m0 .8h0m0 5h0m0 .8h0m.1-24.6h0m0 .1h0m.1 1h0m0 .4h0m0 .5h0m0 16.4h0m0 2.4h0m0 7.7h0m.1-26.8h0m0 14h0m0 21.4h0m.1-35.4h0m0 .5h0m0 .8h0m0 14.2h0m.1-.8h0m0 .1h0m0 4.6h0m.1-19h0m0 1.3h0m0 12.6h0m0 5.9h0m0 1h0m0 2.8h0m0 2.4h0m.1-10.4h0m0 4h0m0 .2h0m0 11.4h0m.1-31.5h0m0 19.5h0m0 3.6h0m0 .2h0m0 .7h0m0 8.1h0m.1 .7h0m.1-18.2h0m0 6.5h0m0 1.4h0m0 2.1h0m.1-6.6h0m0 2.1h0m.1-2.2h0m0 3.1h0m.1-23.2h0m0 4.2h0m0 13.9h0m0 2.1h0m0 1.4h0m0 5.1h0m.1-22.4h0m0 18.9h0m0 .9h0m0 5.9h0m.1-5.3h0m0 8.1h0m.1-15.9h0m0 2.5h0m0 7.4h0m.1-23.8h0m0 14.4h0m0 4.2h0m0 1h0m.1-19.1h0m0 14.2h0m0 4h0m0 5h0m.1-9.6h0m0 3.5h0m0 .2h0m.1-16.5h0m0 13h0m0 2.1h0m0 5.8h0m.1-5.8h0m0 5.9h0m0 2.1h0m.1-9.9h0m0 3h0m0 4.9h0m.1-25.2h0m0 20.7h0m0 .5h0m0 4.1h0m0 .7h0m0 .8h0m0 .2h0m.1-7.2h0m.1-16h0m0 23h0m.1-26h0m0 18.8h0m0 4h0m.1-6.1h0m0 2.7h0m0 6.4h0m0 1.1h0m0 2.8h0m.1-25.9h0m0 .2h0m0 0h0m0 12.9h0m0 8.6h0m0 1.1h0m0 3.5h0m0 4.1h0m.1-32h0m0 18.1h0m0 .5h0m0 3h0m.1-6.7h0m0 1.2h0m0 1.1h0m0 1.6h0m.1-20.6h0m0 19.6h0m0 1.8h0m0 5.4h0m.1-1.3h0m.1-21.4h0m0 13h0m0 8.8h0m.1-8.9h0m0 2.5h0m0 11.2h0m.1-12.2h0m.1 .1h0m0 2.4h0m0 1.9h0m0 2.5h0m.1-7.4h0m0 .2h0m0 8.8h0m.1-24.4h0m0 21.3h0m0 3.9h0m.1-10.4h0m0 2h0m0 .1h0m0 2h0m0 .8h0m0 6h0m.1-26.9h0m.1 20h0m0 1.6h0m0 .1h0m.1-19.1h0m0 .2h0m0 14.4h0m0 10.9h0m.1-10.8h0m0 2.4h0m0 .6h0m0 2.3h0m0 2h0m0 .1h0m.1-21.9h0m0 23.2h0m.1-22.6h0m0 18.1h0m0 3.6h0m0 .2h0m0 1.1h0m0 1h0m.1-8.3h0m0 2.2h0m0 2.1h0m.1-20.2h0m0 14.1h0m0 5.9h0m0 4.8h0m.1-25.9h0m0 18.8h0m0 6.4h0m.1-9.7h0m0 3.5h0m0 6.1h0m0 3h0m.1-26.9h0m0 16.1h0m.1-18.8h0m0 16.7h0m0 5.1h0m.1-4.7h0m0 1.2h0m.1-1.9h0m0 2.5h0m0 .2h0m0 3.5h0m.1-22.1h0m0 .4h0m0 1.6h0m0 15.4h0m0 3.5h0m.1-2.8h0m.1-18h0m0 17.1h0m0 4.3h0m.1-1.8h0m0 3.9h0m0 12.3h0m.1-18.7h0m0 1.5h0m0 4.8h0m.1-22.3h0m0 20.8h0m0 2.8h0m0 8h0m.1-32.2h0m0 18.3h0m0 1.8h0m0 3.4h0m.1-21.7h0m0 .1h0m0 13.9h0m0 2.4h0m0 1.6h0m0 2.2h0m0 1.1h0m0 .8h0m.1-23.9h0m0 17.1h0m0 1h0m0 9.8h0m.1-25.7h0m0 13.9h0m0 16.7h0m.1-15.3h0m0 .9h0m0 .5h0m0 4.3h0m.1-6.7h0m0 .8h0m0 3.4h0m0 .6h0m.1-21.3h0m0 18.5h0m0 10h0m.1-26h0m0 16.5h0m.1-20.1h0m0 18.6h0m0 4.9h0m0 2.1h0m0 14.3h0m.1-17.2h0m0 0h0m0 .3h0m0 .3h0m.1-19.1h0m0 14.9h0m0 1.3h0m0 2.3h0m.1-18.6h0m0 16.1h0m0 11h0m.1-27.7h0m0 15.7h0m0 3.9h0m0 3.2h0m.1-21.8h0m0 14.6h0m0 2.6h0m0 4.4h0m0 .3h0m.1 .7h0m.1-23.6h0m0 .2h0m0 .4h0m0 0h0m0 .6h0m0 14.9h0m0 2.1h0m0 6.3h0m.1-23.6h0m0 19.2h0m0 1.9h0m0 6h0m.1-10.6h0m0 1.4h0m.1 12.3h0m0 2.5h0m.1-15h0m0 6.6h0m.1-5.6h0m0 2h0m.1-20.2h0m0 17.8h0m0 1.6h0m0 .1h0m0 8.5h0m.1-30.4h0m0 .8h0m0 15.3h0m0 1h0m0 1h0m0 2.5h0m0 7.4h0m0 2.9h0m.1-28.8h0m0 16h0m.1 .9h0m0 .4h0m0 12.2h0m0 8.3h0m.1-21.5h0m0 3.5h0m0 1.9h0m.1-5.9h0m0 5.6h0m.1-6.7h0m0 .3h0m0 7h0m0 .8h0m.1-25h0m0 2.3h0m0 18.1h0m.1-20.4h0m0 19.8h0m0 3.6h0m0 6.7h0m.1-28.4h0m0 16.6h0m0 7.1h0m.1-6.1h0m0 .7h0m.1-18.4h0m0 16.8h0m0 1.2h0m0 3.2h0m0 1.5h0m0 11.1h0m.1-32.9h0m0 14.7h0m0 3.1h0m0 10.2h0m.1-.6h0m0 3.1h0m0 3.6h0m.1-16.7h0m0 1.5h0m0 .5h0m0 6.2h0m.1-29.3h0m0 3.2h0m0 1.5h0m0 15.7h0m.1-.7h0m0 3.9h0m.1-21.9h0m0 3.4h0m0 15.6h0m0 2.1h0m0 .3h0m0 1.1h0m.1-22.8h0m0 2h0m0 .9h0m0 0h0m0 19.1h0m0 13.7h0m.1-11.8h0m0 15.4h0m.1-21.2h0m0 3.2h0m0 8.5h0m0 5.1h0m.1-16h0m0 1h0m0 7.7h0m0 7h0m.2-30.5h0m0 16.4h0m0 2h0m0 11.4h0m0 .7h0m.1-31h0m0 0h0m0 16.2h0m0 5.7h0m0 1.6h0m.1-27.5h0m0 22.3h0m0 4.3h0m0 1h0m.1-5.3h0m0 .5h0m0 1.6h0m0 3.7h0m.1-9.8h0m0 17.3h0m.1-31.3h0m0 14.2h0m0 7.7h0m.1-21.5h0m0 16.7h0m0 2.6h0m0 .4h0m0 4.9h0m.1-8.3h0m0 16.5h0m0 1.3h0m.1-36.5h0m0 16.9h0m0 1h0m0 1h0m0 7.6h0m.1-6.4h0m0 2.3h0m0 2.4h0m0 1.1h0m.1-23.7h0m0 .4h0m0 14.6h0m0 0h0m0 .8h0m.1-15.3h0m0 14.6h0m0 9.3h0m.1-25.5h0m0 16.4h0m0 .4h0m0 2.4h0m.1-1.2h0m0 2.4h0m0 3.6h0m0 1.9h0m.1-8.9h0m0 3.8h0m0 10.8h0m0 7.2h0m.1-42.3h0m0 27h0m0 2.7h0m0 1.3h0m.1-28.8h0m0 18.6h0m0 .8h0m0 1.5h0m.1-1.9h0m0 3h0m0 3.4h0m.1-7.1h0m0 .7h0m0 .7h0m0 .5h0m0 17.3h0m.1-34h0m0 15.1h0m.1 .5h0m0 .2h0m0 .9h0m0 .4h0m0 2.5h0m0 1.7h0m0 .4h0m0 3.7h0m.1-10.5h0m0 .2h0m0 1.6h0m0 .3h0m0 7.2h0m.1-9.8h0m0 .9h0m0 3.6h0m0 1.3h0m0 1.6h0m0 .5h0m0 2.7h0m0 3.4h0m.1 1.9h0m.1-15.8h0m0 1h0m0 1.1h0m0 7.6h0m.1-4.9h0m0 2h0m0 .5h0m0 1.2h0m0 12h0m.1-17.1h0m0 .5h0m0 19.6h0m.1-19.9h0m0 2.3h0m0 1.7h0m.1-4.5h0m.1-2.6h0m0 1.9h0m0 1.2h0m0 1.3h0m0 1.1h0m0 3.2h0m0 6h0m0 1.6h0m.1-30.4h0m0 14.6h0m0 4.3h0m0 7.7h0m.1-8.8h0m0 .5h0m0 .4h0m0 9h0m0 1.1h0m.1-30.2h0m0 1.4h0m0 14.3h0m0 .5h0m0 2.9h0m0 .1h0m0 4.1h0m0 12.5h0m.1-19.9h0m0 .6h0m0 1.1h0m.1-.3h0m0 .4h0m0 2h0m0 1.1h0m0 3.3h0m0 2.9h0m0 7.5h0m.1-18.2h0m0 14.7h0m.1-29.9h0m0 20.8h0m0 12.2h0m.1-15.9h0m0 6.3h0m.1-7.6h0m0 .1h0m0 1.6h0m0 9.9h0m0 3.8h0m.1-30.4h0m0 14.1h0m0 1.3h0m0 .3h0m0 .1h0m0 .1h0m0 1.1h0m0 1.8h0m0 4.2h0m.1-27h0m0 2.6h0m0 16.7h0m.1 2.9h0m0 4h0m0 .2h0m.1-22.7h0m0 19h0m0 5.1h0m.1-24.6h0m.1 .2h0m0 18.4h0m0 2.1h0m0 3.2h0m0 6.4h0m.1-12.3h0m0 6.3h0m0 9h0m.1-32.3h0m0 18.5h0m0 .5h0m0 7.5h0m.1-27.8h0m0 34.5h0m.1-32.8h0m0 17.4h0m0 .6h0m0 .6h0m0 1.5h0m0 .7h0m0 8.7h0m.1-13.1h0m0 15.8h0m.1-33h0m0 1h0m0 17.2h0m0 .6h0m0 9.3h0m.1-.1h0m.1-30.7h0m0 2h0m0 18.5h0m0 .6h0m0 .2h0m0 3.2h0m0 1.2h0m0 11.5h0m.1-38.5h0m0 5.2h0m0 15h0m0 2.3h0m0 1h0m0 4.1h0m.1-7.9h0m0 1.7h0m0 5.2h0m0 11.8h0m0 .8h0m.1-35.9h0m0 .2h0m0 .4h0m0 17.9h0m0 3.1h0m0 3.6h0m.1-24.7h0m0 17h0m0 .5h0m.1-19.1h0m0 27.2h0m0 .2h0m.1-28.5h0m0 4.4h0m0 14.9h0m0 1.6h0m0 3.3h0m0 .6h0m0 1.7h0m0 7.7h0m.1-31.7h0m0 .2h0m0 17.4h0m0 3.7h0m0 2.5h0m0 8.7h0m0 1.4h0m0 5.5h0m.1-39.2h0m0 1.7h0m0 15.3h0m0 1.5h0m0 2.5h0m0 3.9h0m0 3.8h0m0 11.9h0m.1-41h0m0 1.6h0m0 .3h0m0 17.5h0m0 .1h0m0 .8h0m0 6.9h0m0 5.5h0m.1-30.5h0m0 18.9h0m0 5.6h0m0 .7h0m0 .9h0m.1-30.5h0m0 .2h0m0 19.6h0m0 4.6h0m0 1.7h0m0 9.3h0m.1-33.6h0m0 18.3h0m0 18.9h0m.1-12.7h0m0 13.1h0m.1-39.7h0m0 20.6h0m0 12h0m0 4.2h0m.1-15.7h0m0 .8h0m0 .6h0m0 5.4h0m0 1.1h0m0 5.1h0m.1-28.9h0m0 15.3h0m0 2h0m.1 .5h0m0 1.5h0m0 13.4h0m0 6.3h0m.1-39.7h0m.1 17.3h0m0 4.2h0m.1-5.4h0m0 3.1h0m0 2.2h0m0 1.7h0m0 12.7h0m.1-35.6h0m0 16.8h0m0 1.4h0m0 .6h0m0 1.2h0m0 1.2h0m0 0h0m0 3.7h0m0 5.9h0m.1-10.7h0m0 2.1h0m0 2.4h0m0 .2h0m0 .9h0m.1-25.2h0m0 16h0m0 11.9h0m.1-6.7h0m0 8h0m.2-13.8h0m0 3.6h0m.1-1.5h0m0 5.3h0m0 7.8h0m0 2.2h0m.1-33.6h0m0 22.3h0m0 3.4h0m0 10.6h0m0 1.9h0m.1-18.2h0m0 .7h0m0 4.7h0m0 .7h0m.1-27.7h0m0 22.9h0m0 2.5h0m0 15h0m.1-37.9h0m0 .5h0m0 15.9h0m0 7.7h0m.1-6.3h0m0 4.6h0m0 1.1h0m0 1.3h0m.1-26.4h0m0 1.6h0m0 16.1h0m0 7.5h0m0 2.4h0m0 8.7h0m.1-15.5h0m0 2.6h0m0 1.8h0m.1-25.9h0m0 1.4h0m0 17.8h0m0 2h0m0 2h0m.1-19.7h0m0 15.6h0m0 1.7h0m0 .7h0m0 19.3h0m.1-42.9h0m0 4.7h0m0 17.1h0m0 .4h0m0 .1h0m0 .9h0m0 1.3h0m0 3.3h0m0 .4h0m0 .6h0m0 3.7h0m.1-27.6h0m0 19.3h0m0 1.8h0m0 1.9h0m0 2.7h0m.1-25.3h0m0 15.4h0m0 .1h0m0 1.2h0m0 .2h0m0 0h0m0 1.6h0m0 5.6h0m0 .4h0m0 15.8h0m.1-22.5h0m0 1.2h0m0 .3h0m0 5.3h0m.1-7.7h0m0 .9h0m0 .1h0m0 6.2h0m0 1.4h0m0 9.6h0m.1-14.6h0m0 1.4h0m0 6.1h0m.1-12h0m0 3h0m.1 7h0m0 1.4h0m.1-27.6h0m0 1h0m0 19.5h0m0 2.3h0m.1-22.2h0m0 15.6h0m0 2h0m.1 1.3h0m0 .9h0m0 3.9h0m0 16.7h0m.1-44.4h0m0 .3h0m0 2h0m0 18.5h0m.1-.3h0m0 8.1h0m0 2h0m0 .8h0m.1-10.2h0m0 3.5h0m.1-20.1h0m0 26.4h0m0 8.5h0m.1-36.1h0m0 22h0m0 1.4h0m0 2.8h0m0 4.9h0m.1-14.3h0m0 4.3h0m0 0h0m0 4.5h0m0 .3h0m0 6.2h0m.1-13.6h0m0 .1h0m0 2.2h0m0 .4h0m0 1.9h0m0 1.4h0m0 1.8h0m0 7.1h0m.1-37.4h0m0 24.3h0m0 3.6h0m0 10.1h0m0 9.2h0m.2-42.4h0m0 16.7h0m0 3.2h0m0 2.6h0m.1-21.8h0m0 17.1h0m0 4.2h0m.2-2.3h0m0 25.9h0m.1-24.5h0m0 5.6h0m0 5.6h0m0 9.4h0m.1-21h0m0 6.4h0m0 3.5h0m0 1.9h0m0 5h0m.1-36.8h0m0 16.5h0m0 0h0m0 3.1h0m0 3.7h0m.1-23.2h0m0 18.1h0m0 1.8h0m0 3.4h0m0 1.1h0m.1-26.8h0m0 35.3h0m0 .7h0m0 .6h0m0 1.2h0m.1-16.2h0m0 16.7h0m.1-13.4h0m0 1.4h0m0 4.3h0m0 0h0m.1-30.2h0m0 18.7h0m0 0h0m0 .6h0m0 1.3h0m0 4.4h0m.1-5.6h0m0 3.2h0m0 3.8h0m0 4.6h0m0 .2h0m.1-10.4h0m0 2h0m0 3.1h0m0 .1h0m0 17.2h0m.1-22.3h0m0 1.6h0m0 .7h0m0 4.7h0m0 9.2h0m0 5.6h0m.1-17.3h0m.1-5.4h0m0 1.6h0m.1-23.1h0m0 1.7h0m0 1h0m0 2.1h0m0 18.6h0m0 4.4h0m0 16.6h0m.1-44.6h0m0 21h0m0 .9h0m0 3.3h0m0 1.7h0m0 2.5h0m0 2.1h0m0 10.2h0m.1-38.5h0m0 1.3h0m0 18.4h0m0 0h0m0 5h0m.1-7.4h0m0 2.8h0m0 1.3h0m0 6.7h0m0 1.8h0m.1-29.3h0m0 17.6h0m0 3.9h0m.1-23.8h0m0 1.2h0m0 2h0m0 19.4h0m0 2.4h0m0 1.1h0m0 5.5h0m.1-30.4h0m0 2.5h0m0 18.3h0m0 .4h0m0 3h0m.1-22.4h0m0 17.1h0m0 3.7h0m0 .5h0m0 1.7h0m0 6.2h0m0 1h0m.1-13.7h0m0 1.1h0m0 2.5h0m0 3.6h0m0 1.8h0m0 .8h0m0 7.2h0m0 8h0m.1-40.6h0m0 16.4h0m0 1.1h0m0 3.8h0m0 3.8h0m0 0h0m0 4.9h0m.1-12h0m0 4.7h0m0 2.5h0m0 12.9h0m.1-21h0m0 12.4h0m0 3h0m.1-33h0m0 20.6h0m0 .1h0m0 1.5h0m0 14.1h0m0 4.3h0m.1-23.3h0m0 4.6h0m0 4.1h0m0 5.2h0m.2-11.4h0m0 .3h0m0 16h0m.1-37.3h0m0 18.5h0m0 4.4h0m0 8.1h0m0 4.8h0m.1-35.9h0m0 18.9h0m0 1.3h0m0 .4h0m0 2.6h0m0 .6h0m0 4.5h0m.1-26.5h0m0 18.2h0m0 6.5h0m.1-26.9h0m0 2.4h0m0 .9h0m0 17.7h0m0 .7h0m0 2.8h0m0 .2h0m0 4.6h0m0 9.1h0m0 7.5h0m.1-47.1h0m0 20.1h0m0 2.6h0m0 3.3h0m.1-22.5h0m0 .7h0m0 16.1h0m0 3.2h0m.1-.6h0m.1-18.7h0m0 33.5h0m.1-16.3h0m0 2.7h0m0 3.1h0m0 1.4h0m0 12.7h0m.1-19.8h0m0 11h0m.1-10.7h0m0 3.3h0m0 .5h0m0 2h0m0 .6h0m0 8h0m0 9.1h0m.2-41.2h0m0 37.4h0m.1-17.3h0m0 2.3h0m0 1.6h0m0 6h0m0 7.7h0m0 3.5h0m.1-41.7h0m0 17.5h0m0 3.2h0m0 16.8h0m0 1.9h0m.1-39.7h0m0 18.2h0m0 .9h0m0 .6h0m0 .4h0m0 15h0m.1-17.5h0m0 1.4h0m0 12.6h0m.1-30.5h0m0 16.8h0m0 8.7h0m0 8.2h0m.1-14.6h0m0 3h0m0 1.1h0m.1-5.3h0m0 4.6h0m0 14.8h0m.1-18.9h0m0 5.7h0m.1-5.5h0m0 4.9h0m.1-22.2h0m0 26.8h0m0 1.4h0m.1-5.9h0m0 4.3h0m0 6.7h0m.1-17.3h0m0 .3h0m0 .5h0m.1 3.2h0m0 .5h0m0 .1h0m0 .2h0m0 1.8h0m0 7.6h0m.1-31.7h0m0 18.2h0m0 18.4h0m.1-36.4h0m0 17.1h0m0 .5h0m0 1.4h0m0 8.4h0m0 1.6h0m0 1.5h0m.1-30.1h0m0 18.3h0m0 1.2h0m0 24.5h0m.1-44.6h0m0 .8h0m0 16.8h0m0 1.1h0m.1-19.5h0m0 3h0m0 15.1h0m0 1.1h0m0 5.2h0m0 10h0m.1-14.6h0m0 1.3h0m0 .5h0m0 2.9h0m0 1.1h0m0 3.6h0m.1-29.4h0m0 3.4h0m0 16.1h0m0 2.5h0m0 1.2h0m0 11h0m0 .1h0m.1-15.5h0m0 2.8h0m0 3.8h0m0 1.5h0m.1-7.9h0m.1 5h0m0 6.8h0m.1-12.1h0m.1 8.1h0m0 2.8h0m0 4.1h0m.1-12.8h0m0 .5h0m0 1.9h0m0 2.4h0m0 .8h0m0 .4h0m0 6.3h0m.1-32.7h0m0 .9h0m0 18.7h0m0 1.3h0m0 10.2h0m0 5.1h0m.1-16.3h0m0 4.6h0m.1 1.7h0m0 15.2h0m.1-37.9h0m0 20.2h0m.1-22.8h0m0 1.4h0m0 24.6h0m0 .9h0m0 14.8h0m.1-23.8h0m0 1.1h0m0 3.1h0m0 1.7h0m0 7h0m0 3.1h0m0 4.3h0m.1-16.9h0m0 3.3h0m0 .6h0m0 .3h0m0 1.3h0m0 .4h0m0 4.7h0m.1-13.3h0m0 .8h0m0 9.8h0m.1-11.2h0m0 .3h0m0 8h0m.1-24.7h0m0 22.8h0m0 2.1h0m.1-24.3h0m0 17.3h0m0 .7h0m0 .1h0m0 3h0m0 8.5h0m.1-29.6h0m0 16.7h0m0 1.8h0m0 4.5h0m0 .1h0m0 1.1h0m0 9.7h0m.1-13h0m0 8.8h0m.1-31.9h0m0 18.6h0m0 .7h0m0 0h0m0 4.3h0m0 6.2h0m0 .5h0m0 1.1h0m0 10.1h0m.1-20.6h0m0 .3h0m0 2.4h0m0 .7h0m0 .2h0m0 .8h0m0 6.6h0m.1-11.8h0m0 2.6h0m0 .4h0m.1-20h0m0 16.1h0m0 5.5h0m0 3h0m.1-2.9h0m0 7.3h0m0 4.2h0m.1-12.5h0m.1-4.6h0m0 3.5h0m.1-3.4h0m0 5.7h0m0 6.6h0m.1-30.6h0m0 1.6h0m0 .3h0m0 16h0m0 .1h0m0 4.3h0m0 10.6h0m0 2.8h0m.1-14.9h0m0 2.6h0m0 6.3h0m.1-7.9h0m0 4.9h0m0 .5h0m0 1.4h0m0 7.2h0m.1-5.4h0m0 1.2h0m0 3.5h0m0 1.5h0m0 .1h0m0 .5h0m.1-18.4h0m0 0h0m0 13h0m.1-31.7h0m0 19h0m0 2.3h0m0 4.2h0m0 1.2h0m.1-23.6h0m0 15.9h0m0 11.4h0m0 4.1h0m0 4.6h0m.1-14.6h0m0 .1h0m0 8.2h0m.1-29.8h0m0 15.4h0m0 2.6h0m0 .9h0m0 3.8h0m0 .6h0m0 5.5h0m.1-30.7h0m0 19.4h0m0 2.1h0m.1-3h0m0 1h0m0 1.1h0m0 1.7h0m0 9.2h0m0 1.3h0m.1-34.7h0m0 22.4h0m0 10.6h0m0 6.9h0m.1-35.5h0m0 17h0m0 2.7h0m0 7.7h0m0 2.2h0m0 1.9h0m0 5.2h0m.1-18.7h0m0 1.2h0m0 6.8h0m0 5h0m.2-15.3h0m0 2h0m0 1.8h0m.1-19.2h0m0 16.4h0m.1 16.5h0m.1-34.8h0m0 28.6h0m0 0h0m0 10.9h0m.1-21.6h0m0 4.3h0m0 1h0m0 2.2h0m0 2.9h0m0 1h0m0 4.8h0m0 1.2h0m.1-33.1h0m0 16.1h0m0 .5h0m0 3.9h0m0 2.3h0m0 1.4h0m0 3.2h0m0 6h0m.1-36.6h0m0 22.3h0m.1-2.8h0m0 2.1h0m0 10.7h0m0 10h0m.1-23.9h0m0 .9h0m0 .1h0m0 .3h0m0 5.2h0m.1-5.3h0m0 .1h0m0 1.7h0m0 6.9h0m0 .3h0m0 8.2h0m0 3.4h0m.1-37.2h0m0 15.5h0m0 .5h0m0 .7h0m0 1.2h0m0 .2h0m0 11h0m.1-29.2h0m0 16.2h0m0 .3h0m0 .3h0m0 .1h0m0 .3h0m0 .4h0m0 2.4h0m0 .9h0m0 .3h0m0 5.8h0m.1-9.5h0m0 1h0m0 2.8h0m0 2.6h0m.1-24.9h0m0 1.7h0m0 23h0m0 13.9h0m.1-17.4h0m0 8.2h0m.1-28.9h0m0 .7h0m0 .6h0m0 38.2h0m.1-41.8h0m0 22.6h0m0 .9h0m0 3h0m0 1.2h0m0 .7h0m.1-26.8h0m0 .9h0m0 18.2h0m.1-20.2h0m0 1.5h0m0 1.1h0m0 .8h0m0 17.4h0m0 2.3h0m0 3.3h0m.1-6.3h0m0 .2h0m0 2.5h0m0 13.4h0m.1-15.7h0m0 .5h0m0 4.3h0m0 4h0m0 5.5h0m0 10.6h0m.1-26h0m0 1.3h0m0 3.3h0m0 7.6h0m.1-4.6h0m0 .8h0m0 .7h0m0 1h0m0 2h0m0 1.8h0m0 3.4h0m0 2.9h0m0 2.2h0m.1-12.9h0m0 12.6h0m.1-20.4h0m0 .2h0m0 9h0m.1-9.1h0m0 2.5h0m0 4.6h0m0 2.4h0m0 8.1h0m.1-39.4h0m0 19.6h0m0 .4h0m0 2h0m0 .4h0m0 .5h0m0 .5h0m0 6.6h0m.1-25.9h0m0 15.9h0m0 4.8h0m0 6.3h0m0 5.4h0m0 3.2h0m.1-38h0m0 1.3h0m0 21.4h0m0 3.7h0m0 5h0m0 1.1h0m.1-32.6h0m0 19.5h0m0 7.5h0m0 6.3h0m0 5.1h0m0 .8h0m.1-19.7h0m0 2h0m0 15.5h0m0 3.7h0m.1-39.5h0m0 17.6h0m0 2.5h0m0 3.7h0m0 .3h0m0 2.6h0m0 1.3h0m0 5.1h0m0 4.3h0m.1-18.7h0m0 .5h0m0 2.9h0m0 4.1h0m0 2h0m.1-8.5h0m0 5.3h0m0 .4h0m.1-8h0m0 2.4h0m0 1.6h0m0 1.3h0m0 2.2h0m0 14.4h0m0 1.4h0m.1-39.8h0m0 19.9h0m0 .7h0m0 .2h0m0 1.5h0m0 5.7h0m0 .2h0m0 3.6h0m.1-35.1h0m0 4.6h0m.2 16.9h0m0 .4h0m0 4.2h0m0 1.7h0m0 1.8h0m.1-5.9h0m0 2.1h0m0 6.9h0m0 3.4h0m0 .6h0m.1-35.1h0m0 25.2h0m0 .1h0m0 9.9h0m.1-33.8h0m0 .4h0m0 17.2h0m0 1.8h0m0 2.5h0m0 9.1h0m0 1.9h0m.1-33.9h0m0 2.8h0m0 16.8h0m0 14.3h0m0 .4h0m0 6h0m.1-20.5h0m0 1.2h0m0 6.4h0m0 4.9h0m0 8.8h0m.1-21.7h0m0 .9h0m0 1.4h0m.1-18.1h0m0 17.6h0m0 .5h0m0 3.8h0m0 10.5h0m.1-16.7h0m0 1.8h0m0 .8h0m0 3h0m0 1.4h0m0 2.9h0m0 1.8h0m0 3.9h0m.1-10.8h0m0 8.3h0m0 2.2h0m.1-12.3h0m0 .1h0m0 .9h0m0 5h0m.1-3.1h0m.1-21.5h0m0 15.7h0m0 .2h0m0 .6h0m0 10.6h0m.1-31.1h0m0 3.9h0m0 15.3h0m0 1.3h0m0 1.9h0m0 6.3h0m0 7.9h0m.1-13.9h0m0 7h0m0 10.9h0m.1-37.8h0m0 20.3h0m0 3h0m0 3.2h0m0 5.3h0m.1-30.1h0m0 16.1h0m0 2.6h0m0 10.8h0m0 .8h0m0 5.5h0m0 .3h0m0 3.7h0m.1-24.6h0m0 4.9h0m0 1.1h0m0 6.5h0m.1-9h0m0 24.1h0m.1-21.9h0m0 6.2h0m0 4.2h0m0 9.5h0m.1-24.1h0m0 1.6h0m0 13.2h0m.1-13.5h0m0 2.8h0m0 9.3h0m.1-31.6h0m0 23.3h0m0 5.4h0m0 1.6h0m0 .6h0m0 .3h0m0 .3h0m0 3.4h0m.1-16.9h0m0 2h0m0 6.1h0m0 7.3h0m0 .2h0m.1-15.5h0m0 .1h0m0 2.4h0m0 1.3h0m0 .2h0m0 .9h0m0 3.5h0m.1-7.8h0m0 .3h0m0 1.6h0m0 6.2h0m.1-27.6h0m0 18.2h0m0 .3h0m0 1.6h0m0 1.2h0m0 14.2h0m.1-33.2h0m0 15.7h0m0 1.2h0m0 .7h0m0 5.5h0m0 4.6h0m0 1h0m.1-2.1h0m0 1.6h0m0 .7h0m0 1h0m0 .1h0m0 3h0m.1-33.2h0m0 21.2h0m0 .3h0m0 7.7h0m.1-28.4h0m0 .1h0m0 20.8h0m0 8h0m0 1h0m0 1.1h0m0 .2h0m.1-32.7h0m0 1.5h0m0 16.4h0m0 1.9h0m0 .8h0m0 2.6h0m0 10.2h0m0 4.4h0m0 .5h0m.1-40.2h0m0 1.2h0m0 .2h0m0 23.7h0m0 1.5h0m0 .7h0m0 .3h0m0 5.8h0m.1-13.5h0m0 2.1h0m0 2.8h0m0 2.2h0m0 1.2h0m.1 11.6h0m.1-40.3h0m0 20.6h0m0 .8h0m0 2.5h0m0 4.4h0m0 12.7h0m.1-38.2h0m0 20.9h0m0 4.2h0m0 5.4h0m.1-3.4h0m.1-25.4h0m0 18.3h0m0 4.5h0m.1-24.4h0m.1-2.5h0m0 1.7h0m0 2.6h0m0 15.7h0m0 1.9h0m0 1.4h0m0 6.6h0m0 5h0m0 5h0m.1-37.6h0m0 19.6h0m0 .5h0m0 2.9h0m0 1.2h0m0 7.3h0m.1-31.6h0m0 18.2h0m0 13.9h0m.1-33.7h0m0 19.3h0m0 1.7h0m0 5.5h0m0 .3h0m0 3.6h0m0 9.7h0m0 1.1h0m.1-42.1h0m0 3h0m0 1.6h0m0 17.1h0m0 .2h0m0 1.9h0m0 1.2h0m0 4h0m0 6.3h0m0 4h0m0 1.6h0m.1-40.1h0m0 4.3h0m0 16.3h0m0 1.9h0m0 3.9h0m.1-21.8h0m0 22.4h0m.1-2.7h0m0 1.4h0m0 6.5h0m0 1.8h0m.1 6.4h0m.1-16.9h0m0 2.4h0m0 2.1h0m0 6.1h0m0 .7h0m0 3h0m0 .4h0m0 .6h0m0 1h0m0 1h0m.1-21h0m0 .8h0m0 2.1h0m0 .5h0m0 2.1h0m0 5.2h0m0 7.1h0m.1-32.7h0m0 16.5h0m0 .1h0m0 1.4h0m0 .8h0m0 7.1h0m.1-3.6h0m0 2.3h0m0 3.9h0m.1-12.4h0m0 9.5h0m0 15.4h0m.1-24.7h0m0 .2h0m0 1.5h0m0 3.8h0m0 1.3h0m0 2.3h0m0 .4h0m0 2.7h0m0 .9h0m0 7.5h0m.1-37.5h0m0 16.7h0m0 .1h0m0 1.6h0m0 .5h0m0 2.3h0m0 .3h0m0 .4h0m.1-2.7h0m0 3.8h0m0 .1h0m0 2.4h0m.1-3.2h0m0 13h0m0 3.8h0m.1-23.2h0m0 2.3h0m0 1.4h0m.1-21.3h0m0 19.7h0m0 .2h0m0 1.3h0m0 5.9h0m.1-7.7h0m0 .7h0m.1 2.2h0m0 .7h0m0 2.9h0m.1 1.1h0m0 2.3h0m0 3.1h0m0 1h0m0 4.4h0m.1-7.4h0m0 5.6h0m.1-13.9h0m0 5.1h0m0 14.6h0m.1-20.1h0m0 3.6h0m.1-22.1h0m0 15.1h0m0 .3h0m0 .1h0m0 5h0m0 3.8h0m0 8.8h0m0 2.4h0m.1-35.7h0m0 16.1h0m0 3.9h0m0 0h0m0 .8h0m0 3.7h0m0 .7h0m0 4.2h0m.1-12h0m0 .8h0m0 2.2h0m.1-3.6h0m0 6.6h0m0 3.1h0m0 1h0m0 1.6h0m0 .2h0m0 1.4h0m0 4.4h0m.1-34.5h0m0 21.1h0m0 8.4h0m.1-13.1h0m0 .3h0m0 1.6h0m0 .2h0m0 3.8h0m0 8.9h0m0 1.4h0m0 2.9h0m.1-20.5h0m0 1.7h0m0 1.2h0m0 10.5h0m0 2.4h0m0 .6h0m0 .5h0m0 3.8h0m.1-18.8h0m0 1.3h0m0 1.8h0m0 4.8h0m0 1.6h0m0 7.8h0m0 2h0m.1-17.4h0m0 4.5h0m0 .5h0m0 2.3h0m.1-29.2h0m0 1h0m0 .8h0m0 22h0m0 .1h0m0 2.4h0m0 5.4h0m0 4.4h0m0 .4h0m.1-33.7h0m0 15.6h0m0 2.9h0m0 2.6h0m0 1.2h0m0 5.4h0m0 2h0m.1-13.9h0m0 1.4h0m0 .2h0m0 .4h0m0 1.1h0m0 .7h0m0 15.4h0m.1-37.2h0m0 1.9h0m0 16.8h0m0 3h0m0 1.6h0m0 1.9h0m0 12.4h0m0 1h0m0 4.5h0m.1-19.2h0m0 .2h0m0 1.6h0m0 3.4h0m0 2.6h0m.1-29.2h0m0 19.8h0m0 3.6h0m0 2.4h0m0 9.2h0m.1-17.3h0m0 2h0m0 .8h0m0 2.4h0m0 2.4h0m0 14.6h0m.1-42.3h0m0 22.1h0m0 5.8h0m0 3.6h0m0 6.2h0m.1-37.7h0m0 2.4h0m0 .6h0m0 17.9h0m0 .2h0m0 .2h0m0 .4h0m0 .8h0m0 14.6h0m.1-15.2h0m0 2.7h0m0 6h0m0 1.2h0m0 8.9h0m.1-20.4h0m0 5.6h0m0 6.5h0m0 3.4h0m.1-33.8h0m0 17.6h0m0 3h0m0 .1h0m0 1.7h0m0 .6h0m0 3.9h0m.1-29.9h0m0 19.4h0m0 .3h0m0 1.5h0m0 1h0m0 .6h0m0 3.9h0m0 7h0m0 1.4h0m0 .7h0m0 .7h0m0 3.2h0m.1-39.2h0m0 21.7h0m0 6.4h0m0 10.1h0m.1-37.6h0m0 18.7h0m0 5.2h0m.1-22.4h0m0 26.7h0m0 .7h0m0 8.2h0m.1-17h0m0 .1h0m0 8.6h0m0 5.8h0m.1-11.6h0m0 .8h0m0 1.4h0m.1-.5h0m0 8.3h0m0 2.2h0m.1-36.7h0m0 22h0m0 9.7h0m0 2.5h0m.1-13.6h0m0 2h0m0 7.9h0m.1-26.5h0m0 22.1h0m0 8.1h0m.1-28.8h0m0 15.6h0m0 .6h0m0 1.5h0m0 1.2h0m0 3.2h0m0 .4h0m0 1.8h0m0 .2h0m0 4.3h0m0 11.1h0m.1-39.8h0m0 .1h0m0 16.1h0m0 .9h0m0 1.3h0m0 .5h0m0 2.7h0m0 8.1h0m0 3.7h0m0 .9h0m0 1h0m.1-9.6h0m0 .1h0m.1-9.5h0m.1-.7h0m0 2.5h0m0 4.2h0m0 4.5h0m0 1.2h0m0 .6h0m0 4.4h0m.1-16.7h0m0 .2h0m0 3.1h0m0 14.3h0m0 1.9h0m.1-37.8h0m0 1.4h0m0 1h0m0 16.1h0m0 6.3h0m0 2.1h0m0 6h0m.1-31.8h0m0 .8h0m0 17.1h0m0 3.5h0m0 .7h0m0 1.1h0m0 5.3h0m0 5.2h0m0 3.2h0m.1-36.9h0m0 16.6h0m0 15h0m0 5.6h0m.1-37.2h0m0 16.7h0m0 7.4h0m0 3.5h0m0 2.8h0m.1-10.3h0m0 3.1h0m0 2h0m0 .3h0m0 2.2h0m0 3.4h0m.1-13.1h0m0 4.2h0m0 5.8h0m0 4.8h0m0 8.6h0m0 .9h0m.1-43.5h0m0 20.5h0m0 1.3h0m0 4.3h0m0 2.3h0m0 1.3h0m0 1.1h0m0 1h0m0 1.8h0m.1-15.4h0m0 1h0m0 2.9h0m0 6h0m0 4.5h0m0 3.1h0m0 2.6h0m0 1.8h0m.1-40.6h0m0 18.8h0m0 2.4h0m0 1h0m0 4.2h0m.1-2.4h0m0 1.2h0m0 2.4h0m0 9.2h0m0 .3h0m0 1.3h0m.1-17.1h0m0 1.5h0m0 4.5h0m0 9.5h0m.1-18.2h0m0 14.4h0m0 9.8h0m.1-24.1h0m0 2.4h0m0 3h0m0 14.7h0m.1-19h0m0 13.2h0m0 6.6h0m.1-20.2h0m0 4h0m0 3.2h0m0 1.2h0m.1-25.9h0m0 21.2h0m0 8h0m.1-6h0m0 1.2h0m0 1.3h0m0 1h0m0 8.5h0m.1-13.4h0m0 6.1h0m0 3h0m0 1h0m0 4.6h0m.1-9.3h0m0 3.1h0m.1-11.6h0m0 2.6h0m0 2h0m0 1.2h0m0 .6h0m0 11.3h0m.1-15.9h0m0 .4h0m0 2h0m0 .5h0m0 2.6h0m0 .1h0m0 8.6h0m0 2.6h0m.1-17.5h0m0 15.5h0m.1-18h0m0 1.5h0m0 2.3h0m0 1.7h0m0 7.1h0m.1-32.2h0m0 22.7h0m0 .1h0m0 3.7h0m.1-24.2h0m0 1.9h0m0 18.8h0m0 2h0m0 1.7h0m0 5.7h0m.1-11.9h0m0 3.9h0m0 .3h0m0 2.5h0m0 1h0m0 1.7h0m0 12.2h0m.1-39.4h0m0 23.2h0m0 .9h0m0 .4h0m0 3.5h0m0 2.7h0m.1-7.3h0m0 2.9h0m0 .7h0m.1-5.7h0m0 2.4h0m0 8.9h0m.1-14.8h0m0 1.1h0m0 6.6h0m0 .1h0m0 3.3h0m.1-28.8h0m0 17.3h0m0 .9h0m0 2.4h0m0 1.8h0m0 6.8h0m0 .3h0m0 .5h0m0 4.1h0m0 1.8h0m0 1.7h0m0 1.9h0m.1-40.8h0m0 1.1h0m0 19.7h0m0 10h0m0 .8h0m0 3.4h0m0 .5h0m0 .2h0m.1-32.3h0m0 .7h0m0 17.1h0m.1-18.1h0m0 19.5h0m0 3.5h0m0 6.1h0m0 4.4h0m0 .2h0m.1-16.1h0m0 12.5h0m.1-31.9h0m0 1.2h0m0 16.8h0m0 .4h0m0 .7h0m0 1.2h0m0 4.4h0m0 4.3h0m0 10.1h0m.1-38.9h0m0 17h0m0 2.4h0m0 5.7h0m0 1h0m.1-8.7h0m0 1.4h0m0 5.4h0m0 4h0m0 2.2h0m0 4.1h0m.1-11.5h0m0 1.1h0m0 1.6h0m0 3.1h0m0 6.8h0m.1-17.1h0m0 2.5h0m0 1.1h0m0 1.1h0m0 0h0m0 1.5h0m0 .2h0m0 1.1h0m0 1.1h0m0 3.1h0m.1-28.2h0m0 .3h0m0 15.4h0m0 4.1h0m0 1.6h0m0 .8h0m0 0h0m0 .9h0m0 1h0m0 2.7h0m0 5.5h0m0 1.6h0m.1-34.5h0m0 16.9h0m0 1.5h0m0 0h0m0 1h0m0 5h0m0 1.3h0m0 5.1h0m.1 3.1h0m.1-34.6h0m0 20h0m0 4.9h0m0 7.6h0m0 3.2h0m0 1.2h0m0 2.1h0m.1-40.5h0m0 19.3h0m.1-18.1h0m0 19.4h0m0 .2h0m0 .2h0m0 7.7h0m0 .5h0m0 1.1h0m0 9.4h0m.1-40h0m0 20.9h0m0 .1h0m0 4.1h0m0 1.8h0m0 3.5h0m0 1.6h0m0 1.4h0m0 1.2h0m0 2.8h0m.1-18.8h0m0 .2h0m0 4.2h0m0 9.6h0m0 2h0m0 1.4h0m0 .2h0m0 2.8h0m.1-35h0m0 .6h0m0 16.1h0m0 2h0m0 1.1h0m0 7.2h0m0 2.7h0m0 .3h0m.1-29.9h0m0 14.6h0m0 7.3h0m0 3.2h0m0 .8h0m0 3.6h0m.1-30.6h0m0 17.7h0m0 .5h0m0 4.1h0m0 1.8h0m0 2h0m0 1.4h0m0 5.3h0m.1-33.3h0m0 16.3h0m0 .4h0m0 5.8h0m0 3.9h0m0 4h0m0 3h0m0 6.5h0m.1-22.5h0m0 .9h0m0 4.7h0m0 9.5h0m0 .9h0m.1-10.7h0m0 6.7h0m0 2.8h0m.1-14.6h0m0 2.1h0m0 .2h0m0 1.9h0m0 6.5h0m0 .5h0m0 5.2h0m0 1.8h0m.1-17.5h0m0 2.9h0m0 .9h0m0 4.6h0m0 2.9h0m.1-30.2h0m0 18.1h0m0 4.4h0m0 .6h0m0 2.7h0m0 2.6h0m0 1h0m0 .8h0m0 6h0m.1-19h0m0 .5h0m0 0h0m0 .3h0m0 0h0m0 3.4h0m0 9.3h0m0 .5h0m.1-28.2h0m0 14.8h0m0 2h0m0 .2h0m0 .1h0m0 1.7h0m0 1h0m0 .7h0m0 2.7h0m0 2.8h0m0 8.6h0m.1-17.7h0m0 1.3h0m0 2.2h0m0 .8h0m0 3.1h0m0 1.3h0m0 6h0m0 5.7h0m.1-3.6h0m0 .2h0m.1-18.8h0m0 2h0m0 14.1h0m0 .9h0m.1-36.3h0m0 19h0m0 6.7h0m0 1.4h0m0 6.6h0m0 1.4h0m.1-16.3h0m0 1.8h0m0 .1h0m0 2.2h0m0 .3h0m0 2.1h0m0 2.6h0m0 3.4h0m0 1.6h0m0 1h0m0 .4h0m0 1.5h0m.1-15.4h0m0 1.9h0m0 .4h0m0 3.8h0m0 2.4h0m0 5.7h0m.1-12.5h0m0 0h0m0 5.8h0m0 6.6h0m0 1.5h0m.1-33.5h0m0 17h0m0 10.2h0m0 3.5h0m0 6h0m.1-34.6h0m0 14.3h0m0 2.8h0m0 2.2h0m0 3.5h0m0 4.6h0m0 .4h0m.1-12.2h0m0 .8h0m0 1.7h0m0 0h0m0 2.9h0m0 4.6h0m.1-26.6h0m0 18.2h0m0 13.6h0m0 3.5h0m.1-19.8h0m0 3.9h0m0 0h0m0 2.7h0m0 9.8h0m0 2.1h0m0 .4h0m.1-18.5h0m0 5.1h0m0 2.8h0m0 .1h0m0 1.9h0m0 2.9h0m.1-2.6h0m0 1.3h0m0 .3h0m.1-11.3h0m0 2.8h0m0 5.3h0m0 3.5h0m0 .6h0m0 1.6h0m0 .1h0m0 2.4h0m.1-15.8h0m0 .5h0m0 1.2h0m0 1.7h0m0 1.5h0m0 8h0m0 .1h0m.1-31.3h0m0 17.5h0m0 0h0m0 .6h0m0 .3h0m0 1.7h0m0 2h0m0 4.2h0m0 .4h0m0 4.2h0m0 1.5h0m0 .4h0m.1-33.5h0m0 3.3h0m0 14.6h0m0 .1h0m0 2h0m0 .3h0m0 2.7h0m0 0h0m0 5h0m0 2.3h0m0 .4h0m0 0h0m0 .2h0m0 7.6h0m.1-17.5h0m0 2.1h0m0 12.6h0m.1-17.3h0m0 .2h0m0 1.9h0m0 .5h0m0 2.6h0m0 10h0m0 .7h0m0 .2h0m0 3.3h0m0 .3h0m.1-34.6h0m0 19h0m0 2.6h0m0 1.5h0m0 .8h0m0 5.3h0m.1-31.2h0m0 16.6h0m0 5.4h0m0 1.2h0m0 5.8h0m0 .6h0m0 1.7h0m0 3.7h0m.1-9.3h0m0 .6h0m0 2.2h0m0 2.6h0m0 1.7h0m0 1.8h0m0 4.2h0m.1-37.5h0m0 .9h0m0 16.7h0m0 1.5h0m0 3.8h0m0 1.7h0m0 1.2h0m0 .8h0m0 .5h0m0 .8h0m0 6.2h0m0 6.9h0m.1-21.9h0m0 .2h0m0 2.7h0m0 9.4h0m0 1.9h0m.1-32.3h0m0 15.8h0m0 2.2h0m0 3.4h0m0 6.9h0m0 2.4h0m0 .1h0m.1-30.8h0m0 14.5h0m0 2.2h0m0 5.5h0m0 7.9h0m.1-.9h0m.1-28.6h0m0 14.1h0m0 2.2h0m0 4.1h0m0 .4h0m0 2.3h0m0 4h0m.1-11.2h0m0 3.2h0m0 1.3h0m0 .1h0m0 .1h0m0 3h0m0 1.6h0m0 12.6h0m.1-37.6h0m0 14.3h0m0 .9h0m0 3.9h0m0 3.9h0m0 2.3h0m0 .1h0m0 5.6h0m0 3.1h0m.1-7.4h0m0 3.2h0m0 3.4h0m.1-35.6h0m0 18h0m0 1.7h0m0 3.1h0m0 4.8h0m0 .6h0m0 1.1h0m0 .6h0m0 4.3h0m.1-15.9h0m0 2.2h0m0 8.3h0m0 4.5h0m.1-14.8h0m0 .6h0m0 2.2h0m0 .6h0m0 5.3h0m0 5.3h0m0 2.8h0m0 1.9h0m.1-18.9h0m0 7.9h0m0 2.9h0m0 5h0m0 .2h0m.1-17.7h0m0 9.1h0m0 .1h0m0 2h0m0 5.2h0m.1-16.5h0m0 2.2h0m0 1.6h0m0 3.8h0m0 1.2h0m0 .7h0m0 1.9h0m0 2.9h0m0 1.7h0m.1-14.7h0m0 1.4h0m0 1.3h0m0 .3h0m0 .5h0m0 3.8h0m0 .9h0m0 1.4h0m0 6.6h0m0 5.5h0m.1-18.6h0m0 1.8h0m0 .1h0m0 6.2h0m0 8.5h0m.1-19.8h0m0 .2h0m0 .1h0m0 1.9h0m0 8.5h0m0 2.4h0m0 1.2h0m.1-9.9h0m0 0h0m0 9.4h0m.1-30.6h0m0 16.7h0m0 .3h0m0 .3h0m0 1h0m0 1.6h0m0 .1h0m0 2.6h0m0 1.3h0m0 .3h0m0 1.7h0m0 1.1h0m.1-24.8h0m0 32.5h0m.1-18.8h0m0 2.1h0m0 .1h0m0 2.5h0m0 2.5h0m0 4.4h0m0 3.9h0m0 .9h0m.1-32.1h0m0 18.7h0m0 .8h0m0 2.1h0m0 4.6h0m0 4.9h0m0 4.8h0m.1-18.1h0m0 1.6h0m0 .5h0m0 .4h0m0 .1h0m0 .1h0m0 1.5h0m0 1.1h0m0 1.2h0m0 12.3h0m.1-38.8h0m0 19h0m0 3.6h0m0 .3h0m0 5.6h0m0 .5h0m0 .6h0m0 .4h0m0 .9h0m0 7.4h0m.1-15.5h0m0 5.7h0m0 2h0m0 0h0m.1-30.2h0m0 18.2h0m0 2.1h0m0 2.9h0m0 .5h0m0 4.2h0m0 .4h0m0 2.5h0m.1-28.4h0m0 16h0m0 .1h0m0 2.8h0m0 3.1h0m0 .8h0m0 2.4h0m0 3h0m0 6.8h0m.1-18.7h0m0 3h0m0 2.8h0m.1-4.5h0m0 1.3h0m0 .6h0m0 .7h0m0 1.9h0m0 8h0m0 2.1h0m0 2.8h0m.1-6.7h0m0 0h0m0 2.8h0m0 2.8h0m0 .3h0m.1-31.8h0m0 15.2h0m0 3.9h0m0 1.2h0m0 .6h0m0 .5h0m0 1.4h0m0 .4h0m0 3.3h0m0 .3h0m0 .7h0m0 1.7h0m0 3.9h0m0 2.6h0m0 1.5h0m.1-22.4h0m0 2.6h0m0 3.5h0m0 .5h0m0 3.3h0m0 5.9h0m0 .5h0m.1-31h0m0 13.8h0m0 2.2h0m0 .2h0m0 2.7h0m0 2.6h0m0 .7h0m0 2.7h0m0 .6h0m0 4.4h0m0 3.1h0m.1-16.3h0m0 1h0m0 .9h0m0 2.3h0m0 1.3h0m0 4.7h0m0 8.6h0m.1-14.8h0m0 2.3h0m0 1.2h0m0 9.3h0m.1-36.1h0m0 20.7h0m0 6h0m0 2.6h0m0 1.6h0m0 1.8h0m.1-16.8h0m0 .8h0m0 1.1h0m0 .8h0m0 .2h0m0 1.4h0m0 .1h0m0 5h0m0 .4h0m0 2.6h0m0 2.9h0m0 2.6h0m0 .4h0m.1-16.4h0m0 3.2h0m0 2.6h0m0 3.6h0m0 2.3h0m0 2.1h0m0 1.2h0m0 3.1h0m0 2.7h0m.1-22.3h0m0 4.2h0m0 4.6h0m0 .3h0m0 4.5h0m.1-12.8h0m0 .9h0m0 3.6h0m0 .2h0m0 3.4h0m0 1.5h0m0 4.3h0m0 1.3h0m.1-31.4h0m0 15.9h0m0 1.5h0m0 3.5h0m0 2.8h0m0 .2h0m0 1.4h0m0 1.8h0m0 .5h0m0 10h0m.1-20.2h0m0 .4h0m0 8.4h0m.1-27.8h0m0 3.4h0m0 16.8h0m0 .7h0m0 3.1h0m0 .1h0m.1-23.5h0m0 17.4h0m0 3.5h0m0 2h0m0 1.8h0m0 1.2h0m0 2.3h0m0 1.7h0m0 2.5h0m0 5.8h0m.1-21.3h0m0 3.8h0m0 .3h0m0 2.1h0m0 .5h0m0 .1h0m0 2.2h0m0 3.2h0m0 2.7h0m.1-28.7h0m0 .3h0m0 17.1h0m0 .3h0m0 .2h0m0 8.8h0m.1-29.7h0m0 2.6h0m0 16.3h0m0 .7h0m0 .7h0m0 1.6h0m0 4.2h0m0 8.8h0m.1-32h0m0 .7h0m0 19.2h0m0 3.7h0m0 0h0m0 .1h0m0 8.5h0m.1-33.1h0m0 .3h0m0 14.4h0m0 .5h0m0 7.8h0m0 .1h0m0 1.8h0m0 .8h0m0 .9h0m0 .3h0m0 1h0m0 .2h0m0 4.2h0m.1-15h0m0 .3h0m0 2.4h0m0 2.6h0m0 1.3h0m0 1.7h0m0 1.2h0m0 5.9h0m.1-31h0m0 19.7h0m0 3h0m0 5.3h0m0 1h0m0 1.3h0m.1-16h0m0 6.2h0m0 1.8h0m0 3.2h0m0 3.4h0m0 2.4h0m.1-33.7h0m0 16.5h0m0 2.1h0m0 2.1h0m0 1h0m0 .3h0m0 2.9h0m0 8.6h0m0 1.9h0m.1-19.8h0m0 .6h0m0 1.1h0m0 1.3h0m0 .4h0m0 .4h0m0 3.6h0m0 1.1h0m0 2.9h0m0 .3h0m0 .1h0m0 .8h0m0 2.9h0m.1-15.5h0m0 4.3h0m0 .6h0m0 7h0m0 .7h0m0 3.3h0m.1-29.1h0m0 15.8h0m0 1h0m0 3.7h0m0 3.2h0m0 3.3h0m.1-11.6h0m0 3.8h0m0 .5h0m0 .9h0m0 .3h0m0 5.5h0m0 1.4h0m.1-30.7h0m0 19.1h0m0 .4h0m0 1.3h0m0 11h0m0 1.3h0m0 .3h0m0 1.3h0m.1-17.8h0m0 2.6h0m0 1.6h0m0 1.2h0m0 7.5h0m0 .1h0m0 2.1h0m0 1.2h0m.1-30.5h0m0 14h0m0 .2h0m0 5.3h0m0 .6h0m0 1.1h0m0 1h0m0 6.8h0m0 0h0m.1-15h0m0 6.5h0m0 .9h0m0 3.5h0m.1-28.2h0m0 20h0m0 2.7h0m0 4.7h0m0 5.9h0m0 1.6h0m.1-30.6h0m0 14.5h0m0 .8h0m0 3.8h0m0 4.4h0m0 2.9h0m0 1.8h0m.1-13.7h0m0 .1h0m0 1.9h0m0 2.2h0m0 1.6h0m0 .9h0m0 .7h0m0 2h0m0 2.7h0m0 2.5h0m0 1.3h0m.1-34.8h0m0 1h0m0 16.3h0m.1 1.9h0m0 .4h0m0 .6h0m0 1.2h0m0 .6h0m0 1.4h0m0 2.5h0m0 2.7h0m0 3.9h0m.1-28h0m0 .2h0m0 13.9h0m0 0h0m0 7.8h0m0 4.1h0m.1-29.1h0m0 17.5h0m0 2.9h0m.1-17.9h0m0 .8h0m0 12.9h0m0 8.7h0m0 2.5h0m0 5.8h0m.1-31h0m0 14.8h0m0 .8h0m0 6.1h0m0 1.1h0m0 2.4h0m0 4.5h0m0 .6h0m.1-15.3h0m0 .4h0m0 .5h0m0 .6h0m0 4.8h0m0 .4h0m0 1.7h0m0 1.1h0m0 3.2h0m0 .3h0m0 2.5h0m.1-15.6h0m0 .2h0m0 2.2h0m0 1.8h0m0 1.3h0m0 .1h0m0 8.9h0m0 1.5h0m0 3.2h0m.1-19.1h0m0 7.2h0m.1-20.8h0m0 14.5h0m0 1.7h0m0 .9h0m0 .4h0m0 0h0m0 .4h0m0 .5h0m0 4.4h0m.1-24.7h0m0 1.7h0m0 20.1h0m0 2.7h0m0 1.5h0m0 4.1h0m.1-11.5h0m0 4h0m0 .2h0m0 1h0m0 1.8h0m0 .3h0m0 1.5h0m0 .9h0m0 .6h0m0 1.7h0m0 .2h0m.1-30h0m0 16h0m0 .8h0m0 4.1h0m0 1.5h0m0 5.3h0m0 2.3h0m.1-15.8h0m0 1.2h0m0 3.5h0m0 2.4h0m0 1.3h0m0 1.7h0m0 2.9h0m0 3.6h0m.1-17h0m0 1.4h0m0 4.9h0m0 1.7h0m0 4.9h0m0 .3h0m0 1.3h0m0 2.6h0m.1-31.8h0m0 2.2h0m0 .2h0m0 12.5h0m0 3.9h0m0 4.1h0m0 .3h0m0 8.7h0m.1-16h0m0 7.7h0m0 0h0m0 .4h0m0 1h0m0 3.5h0m0 4h0m0 .6h0m.1-14.8h0m0 1h0m0 9.2h0m0 3.6h0m.1-15.7h0m0 5.9h0m0 .3h0m0 2.8h0m0 6.7h0m.1-29.3h0m0 21h0m0 5.7h0m.1-13h0m0 .2h0m0 2.6h0m0 1.3h0m0 5.6h0m0 6.2h0m.1-29.8h0m0 14.1h0m0 5.4h0m0 4.1h0m0 .8h0m0 1h0m.1-12.2h0m0 1.1h0m0 .1h0m0 5.7h0m0 .6h0m0 1.2h0m0 4.2h0m0 3.3h0m.1-31.8h0m0 .6h0m0 15.6h0m0 1.1h0m0 .5h0m0 1.2h0m0 1.8h0m0 3h0m0 2.2h0m0 6.7h0m0 1.2h0m.1-18.9h0m0 1.3h0m0 1.4h0m0 0h0m0 2.4h0m0 .4h0m0 .4h0m0 7.2h0m0 .2h0m.1-12.9h0m0 .6h0m0 .4h0m0 2.3h0m0 5.6h0m0 .6h0m0 2.9h0m0 .3h0m0 4.8h0m.1-15.9h0m0 .1h0m0 .5h0m0 .2h0m0 9.1h0m0 1.6h0m0 1.4h0m0 2.5h0m0 1.2h0m.1-18.6h0m0 1.1h0m0 2.4h0m0 .2h0m0 .4h0m0 .7h0m0 1.4h0m0 .2h0m0 3.5h0m0 5.4h0m0 3.7h0m.1-16h0m0 3.1h0m0 .2h0m0 .8h0m0 2.6h0m0 4.3h0m0 1.6h0m.1-15.4h0m0 1.3h0m0 1.2h0m0 1.8h0m0 3.5h0m0 6h0m.1-12.4h0m0 6.4h0m0 1.2h0m0 2.1h0m0 5.4h0m.1-31.4h0m0 2.7h0m0 15h0m0 .5h0m0 2.6h0m0 1.4h0m0 4.2h0m0 2.7h0m.1-10h0m0 5.5h0m0 1h0m0 2h0m0 3h0m0 .4h0m0 .7h0m.1-14.9h0m0 .4h0m0 3.9h0m0 6.4h0m0 2.8h0m.1-30.7h0m0 2.9h0m0 14.3h0m0 1h0m0 1.2h0m0 .8h0m0 .6h0m0 .3h0m0 .8h0m0 3.9h0m0 6.6h0m0 6.1h0m.1-35h0m0 14h0m0 2.7h0m.1-4.6h0m0 2.9h0m0 .1h0m0 5.4h0m0 3.1h0m.1-24.6h0m0 14.5h0m0 .3h0m0 1.6h0m0 0h0m0 5.5h0m0 1h0m0 1.6h0m0 .5h0m0 2.3h0m.1-14.2h0m0 .5h0m0 5.5h0m0 9.9h0m0 1.1h0m.1-13.4h0m0 5h0m0 1.9h0m.1-9.6h0m0 1.8h0m0 2.7h0m0 .2h0m0 2h0m0 5.1h0m0 1.9h0m0 1.1h0m0 .5h0m.1-12.8h0m0 4.7h0m0 8h0m.1-29.3h0m0 15h0m0 3.2h0m0 2.2h0m.1-7h0m0 3.9h0m0 1.8h0m0 1.6h0m0 .4h0m0 2.5h0m0 4.6h0m.1-14.2h0m0 6.4h0m0 1.5h0m0 .6h0m0 4.8h0m0 1h0m0 2.9h0m.1-16.5h0m0 .2h0m0 10.2h0m0 .6h0m0 1.1h0m0 4.4h0m0 1h0m.1-18.5h0m0 .2h0m0 4.2h0m0 .1h0m0 3.7h0m0 .1h0m0 1.6h0m0 .5h0m0 4.4h0m0 .6h0m0 .6h0m.1-28.6h0m0 14.4h0m0 1.7h0m0 1.7h0m0 4.6h0m0 1.7h0m.1-23.5h0m0 13.4h0m0 13.9h0m0 .3h0m.1-15h0m0 1.8h0m0 1.9h0m0 .3h0m0 9.1h0m0 5.5h0m.1-31.8h0m0 12.5h0m0 2.5h0m0 .9h0m0 .6h0m0 14.6h0m.1-30h0m0 13.9h0m0 2.5h0m0 .8h0m0 5h0m0 5h0m.1-28.5h0m0 16.7h0m0 0h0m0 .3h0m0 .6h0m0 0h0m0 .6h0m0 3.4h0m0 1.2h0m.1-22.1h0m0 14.7h0m0 5.2h0m0 1.4h0m.1-20.8h0m0 16.1h0m0 2.8h0m0 2h0m0 0h0m.1-3.6h0m0 .5h0m0 6.1h0m0 .2h0m0 .7h0m.1-24.9h0m0 15.7h0m0 .2h0m0 2.2h0m0 .1h0m0 3.8h0m0 1.6h0m0 3h0m.1-9.8h0m0 5.3h0m0 5.6h0m.1-14.8h0m0 6.7h0m0 .9h0m0 1.5h0m0 1.9h0m0 2h0m0 3.6h0m.1-28.8h0m0 13.7h0m0 .3h0m.1-2.6h0m0 .5h0m0 2.1h0m0 .5h0m0 2.5h0m0 6.3h0m0 .2h0m0 1h0m.1-27.5h0m0 15h0m0 .2h0m0 12.7h0m0 .4h0m.1-28h0m0 .3h0m0 1.8h0m0 14.4h0m0 4.2h0m0 .2h0m0 3h0m0 1.3h0m0 .6h0m0 3.3h0m.1-13.2h0m0 3.2h0m.1-3.7h0m0 .5h0m0 1.5h0m0 8.6h0m0 1.9h0m0 .5h0m0 .9h0m0 1.3h0m.1-15.2h0m0 .4h0m0 1.4h0m0 .5h0m0 1.1h0m0 .2h0m0 1.9h0m0 .7h0m0 1.6h0m0 .4h0m0 10.7h0m.1-19.9h0m0 .6h0m0 3.7h0m0 .7h0m0 1.6h0m0 2.1h0m0 .4h0m0 4h0m0 2.7h0m.1-29.3h0m0 13.9h0m0 4.6h0m0 .6h0m0 3.2h0m0 7.7h0m0 1.6h0m.1-32.2h0m0 2.9h0m0 13.3h0m0 1h0m0 2.7h0m0 3h0m0 2.3h0m.1-9.7h0m0 1.8h0m0 .8h0m0 2.8h0m0 1.2h0m0 2.2h0m0 3.3h0m0 1.2h0m0 1.5h0m.1-14.2h0m0 4.8h0m0 8.2h0m.1-13.6h0m0 0h0m0 1.1h0m0 1.1h0m0 3.7h0m0 2.9h0m0 5.8h0m.1-15.6h0m0 6h0m0 1.5h0m0 .6h0m0 3.7h0m.1-7.5h0m0 .1h0m0 5.4h0m0 .1h0m.1-9.8h0m0 .5h0m0 2.8h0m0 4.8h0m0 .4h0m0 1.5h0m.1-22.9h0m0 1.6h0m0 11.3h0m0 1.1h0m0 2.6h0m0 3.6h0m0 1.3h0m0 1h0m0 .6h0m0 3.2h0m.1-12.6h0m0 0h0m0 .8h0m0 .7h0m0 9.4h0m0 3.8h0m.1-13.2h0m0 6.6h0m0 8.1h0m.1-12.1h0m0 2.9h0m0 1.4h0m0 2.6h0m0 2.9h0m.1-26h0m0 12.3h0m0 .5h0m0 1.8h0m0 1.3h0m0 .3h0m0 3h0m0 .6h0m0 4.8h0m0 1.4h0m0 1.4h0m.1-14.7h0m0 2.6h0m0 1.1h0m0 2.1h0m0 3.2h0m0 3.3h0m.1-27.9h0m0 14.6h0m0 8.3h0m.1-8.8h0m0 .5h0m0 .2h0m0 1.4h0m0 1.5h0m0 .6h0m0 3.9h0m0 1.2h0m0 4.1h0m.1-12.5h0m0 2.3h0m0 1.6h0m0 0h0m0 4.3h0m.1-23.1h0m0 2.2h0m0 14.9h0m0 .6h0m0 .7h0m0 0h0m0 1.9h0m0 1.2h0m0 3.9h0m0 .2h0m0 1.5h0m0 1.4h0m.1-14.4h0m0 0h0m0 .2h0m0 .6h0m0 5.2h0m0 6.4h0m0 3h0m.1-26.5h0m0 11.9h0m0 1.5h0m0 3.6h0m0 2.1h0m0 .1h0m0 5.2h0m.1-12.5h0m0 1.4h0m0 .3h0m0 5.2h0m0 1.4h0m.1-5.8h0m0 10.2h0m.1-12h0m0 1.7h0m0 .3h0m0 .2h0m0 .7h0m0 2.1h0m0 .5h0m0 1.4h0m0 .2h0m.1-19.7h0m0 11.7h0m0 7.1h0m0 1.8h0m0 2.4h0m0 5.4h0m.1-8.1h0m0 4.3h0m.1-27.5h0m0 15.3h0m0 .8h0m0 .8h0m0 1.1h0m0 1.2h0m0 .3h0m0 1.7h0m0 5.5h0m.1-11.8h0m0 .3h0m0 1.7h0m0 .9h0m0 2.4h0m0 3.2h0m0 1.5h0m0 2h0m0 .6h0m.1-13h0m0 1.6h0m0 5.6h0m0 .1h0m0 1.6h0m0 4.4h0m0 1.7h0m0 3.2h0m.1-28.9h0m0 16.1h0m0 .8h0m0 4.3h0m0 2.8h0m.1-10.9h0m0 1h0m0 .1h0m0 2.2h0m0 1.4h0m.1-18.3h0m0 11.5h0m0 2h0m0 1.9h0m0 2h0m0 .7h0m0 5.8h0m0 .6h0m.1-24h0m0 11.7h0m0 3.5h0m0 5.4h0m0 1.4h0m0 1.2h0m0 1.8h0m.1-13.2h0m0 5.1h0m0 5.8h0m0 2.1h0m0 3.2h0m.1-27.5h0m0 10.5h0m0 0h0m0 1h0m0 14.6h0m.1-13.6h0m0 6.3h0m0 2.7h0m.1-21.9h0m0 11.2h0m0 4h0m0 .5h0m0 5.7h0m0 3.2h0m.1-13.9h0m0 7.2h0m0 6.6h0m.1-12.5h0m0 7h0m0 2.3h0m0 2.1h0m.1-11.9h0m0 1.7h0m0 2.8h0m0 .6h0m0 7.1h0m0 .8h0m0 1.3h0m0 .1h0m.1-25.1h0m0 10.5h0m0 2.3h0m0 .3h0m0 1.6h0m0 1.1h0m0 1.3h0m0 .4h0m0 1.5h0m0 4.3h0m.1-11.1h0m0 1.6h0m0 2.1h0m0 .4h0m0 1.2h0m0 .4h0m0 1.2h0m0 4.7h0m.1-10.6h0m0 1.9h0m0 .6h0m0 1.5h0m0 .7h0m0 .7h0m.1-6.2h0m0 .5h0m0 1.2h0m0 .8h0m0 1.9h0m.1-4.5h0m0 2.6h0m0 0h0m0 2.5h0m0 1.1h0m0 4.2h0m.1-9.3h0m0 .2h0m0 1h0m0 1.7h0m0 6.5h0m.1-6.9h0m0 .2h0m0 .4h0m0 .8h0m0 4.5h0m.1-23.1h0m0 1.4h0m0 .6h0m0 13.8h0m0 1.4h0m0 2.2h0m0 .9h0m0 1.3h0m0 1.2h0m0 .5h0m.1-9.5h0m0 .6h0m0 3.8h0m0 0h0m0 1h0m0 3.7h0m.1-11h0m0 9.4h0m.1-9.5h0m0 1h0m0 .8h0m0 5.7h0m0 1.6h0m0 2.1h0m0 .9h0m.1-11.8h0m0 1.1h0m0 1.4h0m0 4.6h0m0 1.6h0m0 2.7h0m.1-9.2h0m0 .5h0m0 1.7h0m0 5.1h0m0 1.2h0m.1-22.2h0m0 1.6h0m0 14.8h0m.1-15.4h0m0 12.9h0m0 6h0m0 .7h0m.1-6.9h0m0 1.1h0m0 2h0m0 3.5h0m0 1.7h0m0 1.2h0m.1-9.5h0m0 2.3h0m0 .3h0m0 .3h0m0 1.5h0m0 3.4h0m.1-20.4h0m0 11.7h0m0 .1h0m0 3.5h0m0 5.6h0m0 2h0m.1-11.1h0m0 2.5h0m0 1.9h0m0 .4h0m0 3.9h0m.1-9.4h0m0 3.3h0m0 .7h0m0 1.4h0m0 .8h0m0 0h0m0 .8h0m0 1.2h0m.1-3.5h0m0 3.9h0m0 .8h0m0 1.5h0m0 1.5h0m.1-21.9h0m0 18.2h0m0 .5h0m0 1.5h0m0 1.2h0m0 1.8h0m.1-24.8h0m0 1.1h0m0 10.5h0m0 1.2h0m0 4h0m0 2.8h0m0 1.5h0m.1-8h0m0 4.2h0m0 2.9h0m0 .2h0m.1-18.6h0m0 8.8h0m0 4.8h0m0 2.2h0m.1-6h0m0 .5h0m0 4.3h0m0 1.3h0m.1-15.9h0m0 10.8h0m0 .3h0m.1 5.5h0m0 5.6h0m.1-10.5h0m0 6.8h0m0 2.6h0m.1-10.8h0m0 1.6h0m0 .8h0m0 .3h0m0 1h0m0 1.3h0m0 7.2h0m.1-11.9h0m0 1.1h0m0 1.9h0m0 8.5h0m.1-21.8h0m0 16h0m.1-4.7h0m0 6.2h0m.1-18h0m0 1.1h0m0 9.2h0m0 .3h0m0 .3h0m0 .2h0m0 2h0m0 .8h0m0 2.5h0m.1 1.7h0m.1-19.3h0m0 13.2h0m0 3.2h0m0 3h0m0 3h0m.1-21.4h0m0 9.8h0m0 2.3h0m0 6.7h0m0 .5h0m0 .2h0m.1-8.6h0m.1 1.5h0m.1-11.4h0m0 9.1h0m0 1.3h0m0 1.1h0m0 .2h0m0 .5h0m.1-12.5h0m0 1.1h0m0 9.3h0m0 .7h0m0 4.4h0m0 3.1h0m.1-3.5h0m0 .3h0m.1-14.2h0m0 12.2h0m0 .2h0m0 1.8h0m.1-15h0m0 10.1h0m0 2.6h0m0 1.5h0m0 1.8h0m.1-6.5h0m0 1.3h0m0 6.1h0m0 2.2h0m.1-10.3h0m0 1.7h0m0 1.3h0m0 .3h0m0 .4h0m0 5.1h0m.2-16.3h0m0 8.6h0m0 .5h0m0 2.9h0m0 .2h0m.2 .2h0m0 2h0m0 .1h0m.1-3.2h0m0 1.4h0m0 1.7h0m0 1.4h0m0 1.2h0m.1-17.2h0m0 8.2h0m0 1h0m0 1.2h0m0 .6h0m0 1.9h0m0 .1h0m0 .2h0m0 1.1h0m0 .3h0m.1-14.1h0m0 8.2h0m0 .8h0m0 .7h0m0 1.1h0m0 .9h0m.1-2.5h0m0 1h0m0 3.9h0m.1-4h0m0 1.5h0m0 2h0m.1-3.4h0m0 3.8h0m0 .7h0m.1-5.2h0m.1-9.4h0m0 .4h0m0 7.7h0m0 1.1h0m0 4.6h0m0 1.2h0m.1-14.4h0m0 8.7h0m0 .1h0m.2-9.5h0m0 .2h0m.1 8.9h0m.1 1.2h0m.1-10h0m0 .7h0m0 10.7h0m.1-3h0m0 2.6h0m.1-2.7h0m.1 1.6h0m.1-.7h0m0 .4h0m.1-1.2h0m.1-7.7h0m0 11h0m.1-11.5h0m.1 2.2h0m0 6.2h0m.1 1.1h0m0 1.2h0m.1-1.6h0m.1-6.2h0m0 6.6h0m.1 .8h0m.1-1.6h0m.1-5.2h0m0 7.1h0m.1-1.6h0m.1-6.1h0m0 6.7h0m0 1.2h0m0 1.7h0m.1-8.8h0m.3 .5h0m0 .4h0m.1-.2h0m0 .2h0m0 4.3h0m0 .2h0m0 1.2h0m0 .4h0m1-4.3h0m.3 .9h0m.4 .9h0" stroke="#0000ff" stroke-width="0.9" stroke-linecap="square" fill="none"/>
<path d="M202.9 145.9L230.4 160.4L238 166.5L259.4 160.4M237.3 151.3L256.4 145.9L257.2 152.8M242.6 132.9L258.7 129.1M225.8 135.2L259.4 160.4L287 180.3L309.9 195.6M267.9 178.8L277.8 181.8M199.9 136.7L196.8 144.4M204 146.5l4 3M309.9 175.7L338.9 166.5M309.9 175.7L318 182M300 186l22 14M218 140q3 3 7 1" fill="none" stroke="#223" stroke-width="0.5" opacity="0.35"/>
<path d="M190 120.5L171 125.5Q167.5 125.5 169 122L184 101.5Q185.5 99.5 188 99L201.5 94.8Q205 94 204 97.5" fill="none" stroke="#111" stroke-width="1.3" stroke-linecap="round"/>
<ellipse cx="363.5" cy="219.5" rx="52" ry="10" transform="rotate(-4 363.5 219.5)" fill="none" stroke="#6a6a6a" stroke-width="0.55"/>
<ellipse cx="366" cy="220" rx="50" ry="8" transform="rotate(-6 366 220)" fill="none" stroke="#6a6a6a" stroke-width="0.55"/>
<path d="M320.4 211.9L333.0 212.5L344.9 214.5L352.8 219.8L362.0 226.4L371.2 233.0L379.2 242.2L385.8 250.1L389.7 255.4L388.4 259.4L379.2 263.3L373.9 268.6L366.0 276.5L355.4 282.5L346.2 285.1L339.6 280.5L332.5 272.0L327.5 264.5L324.5 256.0L324.0 248.0L325.0 240.0L326.4 231.0L325.5 225.0L323.0 219.0Z" fill="#ff0000" stroke="#ff0000" stroke-width="0.8" stroke-linejoin="round"/>
<path d="M315.5 247.7h0m.8 5.2h0m.1-7.6h0m.1-9.7h0m.3 7.9h0m.1 9.5h0m.4-16.2h0m0 4.9h0m.3-1.1h0m.1 8h0m.2 12.1h0m.3-14.4h0m0 2.1h0m0 12.6h0m.1-8.4h0m.1 .1h0m.2 7.8h0m.1-22.9h0m0 20h0m.2-21.4h0m0 17.9h0m.1-10.3h0m0 .3h0m0 4.7h0m.2-12.1h0m0 8.2h0m.1-.4h0m.1-12.2h0m0 6.4h0m0 19.3h0m.1-21h0m0 3.7h0m0 19.2h0m.1-27.5h0m0 16.5h0m0 1.9h0m.1-18.5h0m0 .8h0m0 18.2h0m0 1.6h0m0 .8h0m0 4.2h0m.1-12.8h0m0 13.8h0m.1-22.6h0m0 2.1h0m0 2.3h0m0 6h0m0 2.9h0m0 3.6h0m0 4.7h0m0 4h0m.1-26.2h0m0 21.5h0m.1-2h0m.1-16.2h0m0 10.3h0m0 9.7h0m.1-18.4h0m0 8.8h0m0 7.4h0m.1-1.7h0m.1-11h0m.1 10.8h0m.1-3.2h0m.1-27.9h0m.1 24.9h0m.1-5.8h0m0 12.2h0m0 4.8h0m.2-6.8h0m0 1.3h0m0 3.1h0m.1-20.3h0m0 7.2h0m0 8h0m0 7.1h0m.2-18.2h0m.1-4.3h0m0 5.5h0m0 5.7h0m0 11.8h0m0 1.7h0m.1-16.1h0m0 2.6h0m0 3h0m0 .8h0m0 .5h0m0 .7h0m.1-18h0m0 15.4h0m.1-14.1h0m0 1.3h0m0 7.7h0m0 12.6h0m.1-36.1h0m0 30.2h0m.1 8.8h0m.1-37.5h0m0 11.8h0m0 10.9h0m0 2.3h0m0 2.3h0m0 5.6h0m.1-8.6h0m0 9.5h0m.1-27.1h0m0 .1h0m.1-4.9h0m0 10.2h0m0 4.4h0m.1-15.5h0m0 17.8h0m0 6.6h0m0 3.5h0m.1-30.3h0m0 2.9h0m0 .5h0m0 27.4h0m0 1.9h0m0 4h0m.1-16.5h0m0 1.9h0m0 17.1h0m.1-20.2h0m0 19.5h0m.1-27.9h0m.1 2.5h0m0 3h0m0 2.7h0m0 2.9h0m0 5.9h0m0 9.5h0m.1-15.6h0m0 2.9h0m0 2h0m0 7.1h0m0 3.5h0m.2-24h0m0 8.2h0m0 3.7h0m0 .1h0m0 4.7h0m0 .4h0m0 5.8h0m.1-21.1h0m0 .2h0m0 9.9h0m0 4.6h0m0 3.9h0m.1-26.4h0m0 3.2h0m0 4.7h0m0 7.1h0m0 8.1h0m0 3.8h0m0 7.3h0m.1-6.6h0m0 3.6h0m.1-14.2h0m.1-14.7h0m0 16.1h0m0 5.6h0m0 6.6h0m0 3.7h0m.1-37.9h0m0 10.8h0m0 1.8h0m0 4.5h0m0 .2h0m0 1.1h0m0 2.4h0m0 3.2h0m0 4.8h0m0 2.5h0m0 6.2h0m.1-40.5h0m0 2.2h0m0 31.5h0m0 .3h0m.1-34.4h0m0 6.8h0m0 26.1h0m0 .3h0m0 4.3h0m.1-29.3h0m0 3.3h0m0 3.5h0m0 .3h0m0 6.5h0m.1-16.6h0m0 9.6h0m0 .6h0m0 20h0m.1-34.2h0m0 13.1h0m0 2.6h0m.1 .7h0m.1-10.9h0m0 2.1h0m0 3.2h0m0 4.6h0m0 2.3h0m0 .7h0m0 15.1h0m0 .6h0m0 1.7h0m.2-34.4h0m0 7.5h0m0 25.7h0m.1-25.8h0m0 4.3h0m0 3.6h0m.1-15.5h0m0 12.8h0m0 .7h0m0 21.3h0m.1 1.6h0m.1-26.6h0m0 30.2h0m.1-29.2h0m0 24.4h0m0 1h0m.2-30.9h0m0 1.4h0m0 .8h0m0 2.1h0m.1-4.1h0m0 29.9h0m0 .2h0m.1-30.8h0m0 3.4h0m.1-4.3h0m.1 32.1h0m.1-31.3h0m0 31.4h0m.1-30.7h0m.1 32.1h0m.1-.4h0m.2 .5h0m.1 2.9h0m0 1.8h0m.4-1.3h0m.2 2.8h0m.1-.5h0m.3-2.2h0m.2 2.1h0m0 .3h0m.2-.3h0m.1-.7h0m.3 3.7h0m.3-1.7h0m.7-.8h0m.3 2h0m.4-1.5h0m0 1.5h0m.1-1.4h0m0 .9h0m.3-.1h0m.1 1.4h0m.2 2.3h0m.1-.8h0m.3-1.6h0m0 2.1h0m.2-2.5h0m.6 .9h0m0 .4h0m0 2.2h0m0 .4h0m.1-1.8h0m.1-.4h0m.4 .5h0m0 1.4h0m.2 .5h0m.4-1.4h0m1.1 1.1h0m0 0h0m.4 1.9h0m0 .7h0m.3-1.6h0m.6 2.5h0m.1-.4h0m.1 2.2h0m.2-2.7h0m.3 2.5h0m.5-.4h0m.2 .5h0m.5-.5h0m1.1 .6h0m0 .3h0m.4 .6h0m.1 .3h0m.3 .2h0m0 0h0m0 1.2h0m.1-1.4h0m.3 .3h0m0 0h0m.4 .8h0m0 .2h0m.1-.7h0m.3 .1h0m.7 .6h0m1.1 1.4h0m.1-.6h0m.5 .3h0m.4 .4h0m.4 .1h0m2.8 3.8h0m1.2-3.5h0m.1 .3h0m.1-.5h0m0 .4h0m0 .4h0m.1-.8h0m.3 .1h0m.8 .2h0m.1 .3h0m.3-.5h0m.3-.4h0m.2-.5h0m.1-.5h0m0 .1h0m0 .2h0m.2-.3h0m.1-.4h0m.5 .9h0m.1-1.1h0m0 .6h0m.5 .4h0m1-2h0m.1 0h0m0 .1h0m0 .6h0m0 1.1h0m.4-1.7h0m.2 .4h0m.1-1.1h0m0 .1h0m.2-.2h0m.3 0h0m0 .1h0m.3 .1h0m0 .5h0m.3-.8h0m.4-.2h0m.3-.4h0m.1-.6h0m.1 .5h0m.1-.6h0m.1 0h0m.1-.2h0m.3-.3h0m.1 0h0m.1 .6h0m.1-.8h0m0 .8h0m.1-.5h0m.2-.1h0m.1-.4h0m0 .2h0m.1-.3h0m0 1.1h0m.3-.4h0m.1-.6h0m.1-.2h0m.3-.3h0m.1 .3h0m0 .1h0m.3-.6h0m.6-.3h0m.3 .6h0m.3-.9h0m.6-.7h0m0 .1h0m.4 0h0m.2-.4h0m.2 .7h0m.1-1.1h0m.4-.2h0m.1 1.9h0m.2-1.5h0m.3-.5h0m.2 .3h0m.4 .2h0m.7-1.1h0m.1-.8h0m0 1h0m.3-.9h0m0 1.9h0m.1-1.6h0m.2-.7h0m.2 0h0m.2-.1h0m0 .7h0m1-1.2h0m.2 .2h0m.1 0h0m.2-.8h0m0 .3h0m0 .4h0m.1-.7h0m.2-.3h0m0 .6h0m.1-.5h0m.2 .3h0m.2 .8h0m.3-1.8h0m0 .6h0m0 .1h0m.1-.1h0m.1 .1h0m.3-.9h0m0 .4h0m.1-.1h0m.4-.2h0m.3 .5h0m.5-1.3h0m.8-.4h0m0 .3h0m.1-.1h0m.1 .2h0m.1-1h0m0 1h0m.2-1.2h0m.6-.3h0m.2-.2h0m.1 0h0m0 .3h0m.2-.1h0m.1-.5h0m0 .3h0m.1-.1h0m.3-.2h0m0 .2h0m.5-.7h0m.3-.2h0m.1-.1h0m0 .2h0m0 .3h0m.1-.6h0m.4 .3h0m.5-.6h0m.6-.8h0m.1 1.4h0m.6-1.8h0m0 .8h0m.1-.9h0m.2-.2h0m.2 1h0m.2-.4h0m.2-.8h0m0 0h0m.2-.3h0m.5-.4h0m0 .6h0m.1 .5h0m.1-1.3h0m.7 .3h0m.2-.4h0m.4-.6h0m0 .5h0m.1-.5h0m.2 .1h0m.1 .2h0m.3-.8h0m.5 .6h0m.1-.6h0m.2-.5h0m0 .8h0m.5 .7h0m.1-1.5h0m.3-.1h0m.1 .1h0m.7-.3h0m.4 1h0m.3-1h0m.6 .7h0m.4-1.6h0m0 .4h0m.2-.3h0m1.2 .2h0m.2-.8h0m.1 .4h0m.2-.1h0m.4 .7h0m.1 .2h0m.3-1.3h0m.1 .6h0m.1-.4h0m.3 .2h0m.1-.4h0m.1 .5h0m.3-.6h0m.5 .2h0m.1 .8h0m.5-.8h0m.8 .1h0m.1-1.3h0m0 1h0m.6 0h0m.1-1.2h0m0 1h0m.2-.7h0m0 1.2h0m.1-.5h0m.1 .1h0m.2-1h0" stroke="#ff0000" stroke-width="0.9" stroke-linecap="square" fill="none"/>
<path d="M322 216L327 229.5L358 219M318 224.5L360 213.5" fill="none" stroke="#222" stroke-width="0.8"/>
<ellipse cx="374" cy="216.5" rx="17" ry="7" transform="rotate(12 374 216.5)" fill="none" stroke="#111" stroke-width="1.4"/>
<ellipse cx="373" cy="217" rx="19" ry="8.5" transform="rotate(12 373 217)" fill="none" stroke="#222" stroke-width="0.7"/>
<ellipse cx="395" cy="212.5" rx="17" ry="6.5" transform="rotate(14 395 212.5)" fill="none" stroke="#111" stroke-width="1.4"/>
<ellipse cx="395.5" cy="213.5" rx="18.5" ry="8" transform="rotate(14 395.5 213.5)" fill="none" stroke="#222" stroke-width="0.7"/>
<ellipse cx="364" cy="212" rx="6" ry="2.6" transform="rotate(-10 364 212)" fill="none" stroke="#111" stroke-width="1.2"/>
<path d="M357 210l14 -4M358 213l10 2" fill="none" stroke="#111" stroke-width="0.9"/>
<ellipse cx="362.5" cy="279.5" rx="52" ry="8.5" fill="none" stroke="#222" stroke-width="0.8"/>
<path d="M318 284q40 8 88 1" fill="none" stroke="#6a6a6a" stroke-width="0.55"/>
<rect x="445" y="171.5" width="22.5" height="31" rx="9" ry="12" fill="none" stroke="#444" stroke-width="0.7" transform="rotate(6 456 187)"/>
<circle cx="436" cy="187.5" r="12" fill="none" stroke="#666" stroke-width="0.6" stroke-dasharray="5 4 2 6 7 5"/>
<ellipse cx="391" cy="179" rx="8" ry="2.8" transform="rotate(-24 391 179)" fill="none" stroke="#6a6a6a" stroke-width="0.55"/>
<ellipse cx="412" cy="174" rx="8.5" ry="3" transform="rotate(-24 412 174)" fill="none" stroke="#6a6a6a" stroke-width="0.55"/>
<ellipse cx="411" cy="176" rx="6" ry="2" transform="rotate(-24 411 176)" fill="none" stroke="#6a6a6a" stroke-width="0.55"/>
<path d="M377.5 193L402 180M332 167.5L345.5 164.5M340 170q12 0 16 12M400 190l4 2M405 195l4 -1M383 202l4 -1" fill="none" stroke="#6a6a6a" stroke-width="0.55"/>
<path d="M145.3 250V263.4" stroke="#22dd22" stroke-width="0.9"/><path d="M143.9 251l1.4 -3.2l1.4 3.2z" fill="#22dd22"/>
<path d="M133 262.5L145.3 263.4" stroke="#ee9999" stroke-width="0.8"/><path d="M133.5 261l-3.3 1.2l3.3 1.4z" fill="#7a1010"/>
<path d="M145.3 263.4L138 265.5" stroke="#e6e060" stroke-width="0.8"/><circle cx="137.6" cy="265.7" r="1.4" fill="#8a8a00"/>
<text x="117.2" y="287.5" font-size="10.4" fill="#2a2a2a" textLength="128.4" lengthAdjust="spacingAndGlyphs">Crank Angle: 3340 deg</text>
<text x="292.2" y="134" font-size="17.2" fill="#0000ff" textLength="44.8" lengthAdjust="spacingAndGlyphs">water</text>
<text x="269.3" y="239.9" font-size="17.4" fill="#ff0000" textLength="28.1" lengthAdjust="spacingAndGlyphs">fuel</text>
</g>
<defs><linearGradient id="gl" x1="0" x2="1" y1="0" y2="0"><stop offset="0" stop-color="#f0f0f0"/><stop offset="0.12" stop-color="#e6e6e6"/><stop offset="0.3" stop-color="#e0e0e0"/><stop offset="1" stop-color="#dcdcdc"/></linearGradient><linearGradient id="gt" x1="0" x2="0" y1="0" y2="1"><stop offset="0" stop-color="#e3e3e3"/><stop offset="0.15" stop-color="#ededed"/><stop offset="0.5" stop-color="#f3f3f3"/><stop offset="0.85" stop-color="#ededed"/><stop offset="1" stop-color="#e2e2e2"/></linearGradient><linearGradient id="ge" x1="0" x2="0" y1="0" y2="1"><stop offset="0" stop-color="#e4e4e4"/><stop offset="0.5" stop-color="#f3f3f3"/><stop offset="1" stop-color="#e6e6e6"/></linearGradient><radialGradient id="gv" cx="0.4" cy="0.4" r="0.7"><stop offset="0" stop-color="#dedede"/><stop offset="1" stop-color="#cacaca"/></radialGradient></defs>
<g id="img2">
<clipPath id="ca"><rect x="25" y="332.5" width="513.5" height="112.7"/></clipPath>
<g clip-path="url(#ca)"><g transform="translate(0 388.6)">
<path d="M25 -60H116A216.5 216.5 0 0 1 116 60H25Z" fill="url(#gl)"/>
<path d="M100 -30.3H322C340 -31 352 -39.5 371.8 -42.2V42.2C352 39.5 340 30 322 29.3H100Z" fill="url(#gt)"/>
<path d="M461 -40.6C472 -40.5 480 -38.5 489 -35.3C496 -32.5 499 -30.5 505 -29.8C515 -29 524 -29.2 534.8 -29.2V25.2C524 25.5 515 27 504 29C498 30.5 494 33.5 489 35.8C480 39.5 472 41 461 41.1Z" fill="url(#ge)"/>
<path d="M466 -9H480C491 -8.5 497.5 -4 497.5 0S491 8.5 480 9H466Z" fill="#f6f6f6"/><path d="M467 -7H481C490 -6.8 495 -3 495 0S490 6.8 481 7H467Z" fill="#fff"/>
<path d="M534.6 -29.2V25.2" stroke="#aaa" stroke-width="0.5"/>
<ellipse cx="417.8" cy="0" rx="60" ry="56" fill="#e7e7e7" fill-opacity="0.9" stroke="#3a3a3a" stroke-width="0.8"/>
<path d="M366 -2.8C380 -3.6 398 -3.8 410 -3.2V3.2C398 3.8 380 3.6 366 2.8Z" fill="#f5f5f5"/>
<path d="M96.4 -37.6C101 -35.8 105 -34.3 110.3 -33.2C115 -32.2 119 -31.8 126 -30.5V29.5C119 30.6 115 31.4 110.3 32.6C105 34 101 36 96.4 38C100.5 30 100.6 -29 96.4 -37.6Z" fill="#d2d2d2" opacity="0.6"/>
<path d="M79.9 -54.9C84 -53 87 -49.5 89.4 -47.1C93 -43.5 95 -40.5 96.4 -37.6C98.5 -34 99.3 -30.5 99.5 -27.1C100.3 -18 100.3 18 99.5 26.7C99.2 30.5 98.3 34.5 96.4 38C95 41 93 44 89.4 47.4C87 49.8 84 53 79.9 54.9C76.5 52 74.2 47 72.6 41.5C71 36 70.6 31 70.4 26.7C69.4 18 69.4 -18 70 -28.9C70.3 -33 70.8 -39 72.1 -44.5C73.6 -49 76 -52.5 79.9 -54.9Z" fill="#e6e6e6" opacity="0.75"/>
<path d="M79.9 -54.9C84 -53 87 -49.5 89.4 -47.1C93 -43.5 95 -40.5 96.4 -37.6C98.5 -34 99.3 -30.5 99.5 -27.1C100.3 -18 100.3 18 99.5 26.7C99.2 30.5 98.3 34.5 96.4 38C95 41 93 44 89.4 47.4C87 49.8 84 53 79.9 54.9C76.5 52 74.2 47 72.6 41.5C71 36 70.6 31 70.4 26.7C69.4 18 69.4 -18 70 -28.9C70.3 -33 70.8 -39 72.1 -44.5C73.6 -49 76 -52.5 79.9 -54.9Z" fill="none" stroke="#5a5a5a" stroke-width="0.55"/>
<path d="M96.4 -37.6C101 -35.8 105 -34.3 110.3 -33.2C115 -32.2 119 -31.8 126 -30.5M96.4 38C101 36 105 34 110.3 32.6C115 31.4 119 30.6 126 29.5" fill="none" stroke="#6a6a6a" stroke-width="0.5"/>
<path d="M52.3 -57C46.5 -38 43.1 -19 43.1 0S46.5 38 52.3 57M116.8 -57A216.5 216.5 0 0 1 116.8 57" fill="none" stroke="#5a5a5a" stroke-width="0.55"/>
<path d="M32 0.2h3.5M42.8 -1.5v3.5M72 -26l3 1M70.5 26l2.5 -0.7M81 37l9 -3M103.5 21.5h11M121 20.5h4.5M104 -16l10 4" fill="none" stroke="#4a4a4a" stroke-width="0.6"/>
<path d="M86.8 -13C98 -13 108 -12.5 117 -11.3C126 -9.5 131.5 -5 133.7 0C131.5 5 126 9.5 117 11.3C108 12.5 98 13 86.8 13Z" fill="#d0d0d0" opacity="0.75"/>
<path d="M86.8 -13C98 -13 108 -12.5 117 -11.3C126 -9.5 131.5 -5 133.7 0C131.5 5 126 9.5 117 11.3C108 12.5 98 13 86.8 13Z" fill="none" stroke="#5a5a5a" stroke-width="0.55"/>
<path d="M97.3 -5.5C108 -7.5 120 -5 124 0C120 5 108 7.5 97.3 5.5" fill="none" stroke="#6a6a6a" stroke-width="0.45"/>
<ellipse cx="86.8" cy="0" rx="4.6" ry="13" fill="#d4d4d4" stroke="#5a5a5a" stroke-width="0.55"/>
<ellipse cx="88.2" cy="0" rx="2.7" ry="8" fill="#ececec" stroke="#5a5a5a" stroke-width="0.55"/>
<ellipse cx="97.3" cy="0" rx="2.2" ry="5.5" fill="#c8c8c8" stroke="#5a5a5a" stroke-width="0.55"/>
<path d="M126 -30.3H322C340 -31 352 -39.5 371.8 -42.2V42.2C352 39.5 340 30 322 29.3H126" fill="none" stroke="#777" stroke-width="0.5"/>
<circle cx="394.0" cy="-25.3" r="22" fill="#d6d6d6" fill-opacity="0.6" stroke="#3a3a3a" stroke-width="0.9"/>
<circle cx="398.5" cy="-25.3" r="22" fill="url(#gv)" fill-opacity="0.85" stroke="#2a2a2a" stroke-width="1.3"/>
<circle cx="398.5" cy="-25.3" r="19.4" fill="none" stroke="#444" stroke-width="0.6"/>
<circle cx="397.9" cy="-24.900000000000002" r="20.8" fill="none" stroke="#333" stroke-width="0.6"/>
<circle cx="400.0" cy="-24.3" r="23.6" fill="none" stroke="#555" stroke-width="0.5"/>
<circle cx="394.0" cy="24.7" r="22" fill="#d6d6d6" fill-opacity="0.6" stroke="#3a3a3a" stroke-width="0.9"/>
<circle cx="398.5" cy="24.7" r="22" fill="url(#gv)" fill-opacity="0.85" stroke="#2a2a2a" stroke-width="1.3"/>
<circle cx="398.5" cy="24.7" r="19.4" fill="none" stroke="#444" stroke-width="0.6"/>
<circle cx="397.9" cy="25.099999999999998" r="20.8" fill="none" stroke="#333" stroke-width="0.6"/>
<circle cx="400.0" cy="25.7" r="23.6" fill="none" stroke="#555" stroke-width="0.5"/>
<circle cx="445.3" cy="-25.3" r="19.3" fill="url(#gv)" fill-opacity="0.85" stroke="#2a2a2a" stroke-width="1.3"/>
<circle cx="445.3" cy="-25.3" r="16.7" fill="none" stroke="#444" stroke-width="0.6"/>
<circle cx="444.7" cy="-24.900000000000002" r="18.1" fill="none" stroke="#333" stroke-width="0.6"/>
<circle cx="446.8" cy="-24.3" r="20.900000000000002" fill="none" stroke="#555" stroke-width="0.5"/>
<circle cx="445.3" cy="24.8" r="19.3" fill="url(#gv)" fill-opacity="0.85" stroke="#2a2a2a" stroke-width="1.3"/>
<circle cx="445.3" cy="24.8" r="16.7" fill="none" stroke="#444" stroke-width="0.6"/>
<circle cx="444.7" cy="25.2" r="18.1" fill="none" stroke="#333" stroke-width="0.6"/>
<circle cx="446.8" cy="25.8" r="20.900000000000002" fill="none" stroke="#555" stroke-width="0.5"/>
<circle cx="372" cy="-24.6" r="9.3" fill="#cdcdcd" fill-opacity="0.5" stroke="#333" stroke-width="0.7"/>
<circle cx="372" cy="-24.6" r="5" fill="none" stroke="#333" stroke-width="0.8"/>
<circle cx="372" cy="-24.6" r="2.8" fill="none" stroke="#333" stroke-width="0.6"/>
<circle cx="372" cy="24.7" r="9.3" fill="#cdcdcd" fill-opacity="0.5" stroke="#333" stroke-width="0.7"/>
<circle cx="372" cy="24.7" r="5" fill="none" stroke="#333" stroke-width="0.8"/>
<circle cx="372" cy="24.7" r="2.8" fill="none" stroke="#333" stroke-width="0.6"/>
<circle cx="465" cy="-25.3" r="8.8" fill="#cdcdcd" fill-opacity="0.5" stroke="#333" stroke-width="0.7"/>
<circle cx="465" cy="-25.3" r="5" fill="none" stroke="#333" stroke-width="0.8"/>
<circle cx="465" cy="-25.3" r="2.8" fill="none" stroke="#333" stroke-width="0.6"/>
<circle cx="465" cy="24.8" r="8.8" fill="#cdcdcd" fill-opacity="0.5" stroke="#333" stroke-width="0.7"/>
<circle cx="465" cy="24.8" r="5" fill="none" stroke="#333" stroke-width="0.8"/>
<circle cx="465" cy="24.8" r="2.8" fill="none" stroke="#333" stroke-width="0.6"/>
<ellipse cx="380" cy="-24.6" rx="8.7" ry="7.5" fill="none" stroke="#555" stroke-width="0.5"/>
<ellipse cx="380" cy="24.7" rx="8.7" ry="7.5" fill="none" stroke="#555" stroke-width="0.5"/>
<ellipse cx="459.5" cy="-25.3" rx="8.7" ry="7.5" fill="none" stroke="#555" stroke-width="0.5"/>
<ellipse cx="459.5" cy="24.8" rx="8.7" ry="7.5" fill="none" stroke="#555" stroke-width="0.5"/>
<circle cx="418.8" cy="-0.3" r="9.5" fill="none" stroke="#444" stroke-width="0.6"/>
<circle cx="418.8" cy="-0.3" r="6.5" fill="none" stroke="#444" stroke-width="0.6"/>
<circle cx="418.8" cy="-0.3" r="3.8" fill="none" stroke="#444" stroke-width="0.6"/>
<circle cx="418.8" cy="-0.3" r="1.8" fill="none" stroke="#444" stroke-width="0.6"/>
<path d="M467.2 -33V33M467.2 -7H470.5A7 7 0 0 1 470.5 7H467.2" fill="none" stroke="#4a4a4a" stroke-width="0.6"/>
<path d="M484 -15l4 1M490 -8l3 2M487 12l6 -2M482 17l5 -1.5M498 21l6 -1.5M515 -18l4 0.5M522 -17l4 0.5M520 22l2 -1M506 -2l3 -0.5M478 27l8 -2" fill="none" stroke="#4a4a4a" stroke-width="0.6"/>
<rect x="179" y="-31" width="17.6" height="62" rx="5.5" ry="6" fill="none" stroke="#1a1a1a" stroke-width="1.4"/>
<path d="M217.7 -31V31M271 -31V31M217.7 -29H271M217.7 29H271M227 -31v4M227 31v-4" fill="none" stroke="#555" stroke-width="0.6"/>
<circle cx="241.5" cy="-14.8" r="8.3" fill="none" stroke="#555" stroke-width="0.6"/>
<circle cx="241.5" cy="14.7" r="8.3" fill="none" stroke="#555" stroke-width="0.6"/>
<path d="M99.0 -0.4L150.0 -8.4L195.0 -15.6L222.0 -17.0L238.0 -14.5L246.0 -8.0L249.0 0.0L246.0 8.0L238.0 13.5L222.0 16.0L195.0 14.6L150.0 7.6L99.0 0.4Z" fill="#0000ff"/>
<path d="M335.0 -16.0L344.0 -25.0L356.0 -29.0L366.0 -31.5L374.0 -28.0L378.0 -21.5L384.0 -17.0L391.0 -13.0L396.4 -10.0L390.0 -7.8L380.0 -6.3L366.0 -5.6L352.0 -4.6L345.0 -5.0L338.0 -7.0L335.0 -11.0Z" fill="#0000ff"/>
<path d="M335.0 16.0L344.0 24.5L356.0 28.5L366.0 30.5L374.0 27.0L381.0 21.5L389.0 17.0L398.7 11.4L390.0 8.6L381.0 6.8L366.0 5.6L352.0 4.6L345.0 5.0L338.0 7.0L335.0 11.0Z" fill="#0000ff"/>
<clipPath id="ctube"><path d="M100 -29.8H322C340 -30.5 352 -39 371.8 -41.7V-50H480V50H371.8V41.7C352 39 340 29.5 322 28.8H100Z"/></clipPath>
<g clip-path="url(#ctube)">
<path d="M101.8 1.0h0m3.3-2.5h0m1.8-.3h0m1.5 3.5h0m.8 .1h0m5-4.9h0m2.6-.1h0m2.8 7.2h0m.3-.6h0m.1 .4h0m.9 0h0m1-.1h0m.8 .3h0m.5 .3h0m.9-.2h0m.4 .2h0m.3 .8h0m.9-.9h0m.3 .1h0m0 .1h0m2.7-9.7h0m.1 9.9h0m.7 .7h0m.2-.3h0m.3 .1h0m1.9-11.2h0m.4 0h0m.7 .1h0m1.1 11.7h0m.6-.2h0m.9-12h0m1 12.7h0m2 .2h0m1.4-.1h0m.2-13.5h0m.1 .2h0m.1-.1h0m1.5-.7h0m.3 14.4h0m.5 .1h0m.2 0h0m.2-14.4h0m.6 14.8h0m.2-.3h0m.2-14.6h0m.3 15.8h0m0 0h0m.6-.1h0m.1-.4h0m.8-15.9h0m1.1 16.7h0m.5-.8h0m0 .3h0m.7 .6h0m.7-.6h0m.2-16.1h0m0 16.7h0m.8-.5h0m1.6-17.7h0m1 19.6h0m.6-.5h0m.3-.7h0m.4-18.5h0m.1-.5h0m.5 18.9h0m.1-17.6h0m.3 18h0m.3-18.3h0m.3 17.9h0m.2-17.8h0m.1 19.5h0m.2 .3h0m.4-1.8h0m.3-19.4h0m1.1 .4h0m2 19.9h0m1.4 1.4h0m.3-1.5h0m.1-20.1h0m.4-1.1h0m2.1 22.9h0m.1-.7h0m1.6 .8h0m.8 .1h0m.6-.7h0m.1-22.1h0m.3 23.1h0m.1-1h0m.4-22h0m.5-2.1h0m1.2 26.5h0m.5-2h0m.9 1.5h0m.6-.5h0m.5 .2h0m.2 1.1h0m.1-2.2h0m.7-24.7h0m0 24.9h0m.2-23.7h0m.4 23.8h0m.1 .3h0m.5-.3h0m.7 .8h0m.1 .6h0m.3-.6h0m.1 .1h0m.3-.4h0m1 .4h0m0 .9h0m.1-.3h0m.5-.7h0m0 .1h0m.2 .8h0m1.3-27.3h0m.2 27.4h0m.4-.4h0m.1 0h0m0 .2h0m.1-.5h0m.9-27.3h0m.8-.8h0m.6 .5h0m1.2 27.8h0m.1 .1h0m.1-27.3h0m.3-.4h0m1-.5h0m.2 29h0m.1 .4h0m1.2-28.5h0m.2 28.4h0m.4-.2h0m.3 .1h0m.1-29.5h0m.3 29.6h0m.4-28.5h0m.2-.4h0m0 .4h0m.8 28.8h0m.1 .3h0m.2-30.6h0m1 .4h0m1 30.1h0m0 .5h0m.1-.9h0m.3 1h0m.3-31.6h0m.1 30.8h0m.7-29.9h0m.1 31.2h0m.5-31h0m0 31.7h0m1.3 1.9h0m.8-2.7h0m.1-.5h0m.3 2.3h0m.1-1.1h0m.3-32.7h0m.4 33.5h0m0 0h0m1.5-1.9h0m.1-.3h0m.4 .3h0m0 2h0m.3-1.2h0m.3 3h0m.4-3.2h0m.7 0h0m.5 1.3h0m.2-1.6h0m.5-31.8h0m0 31.7h0m.3-.2h0m.3 2.1h0m.3-.5h0m.5-.7h0m.3 .6h0m.1-1.1h0m0 1.8h0m.3-1.8h0m.3-36h0m.3 3.1h0m.2 35.1h0m.2-34.6h0m.6 .6h0m.2 33.6h0m.4-1.2h0m.2-33h0m0 34.1h0m.4-36.6h0m.1 3.1h0m0 31.6h0m.2-31.8h0m0 33.5h0m.2-35.1h0m.2 37.5h0m.2-36.2h0m0 36.5h0m.1-36.8h0m0 32.5h0m0 4h0m.3-2.3h0m.1-35.8h0m0 34.7h0m.1-34.4h0m.2 1.7h0m0 33.9h0m.2-33.8h0m.1-1.4h0m.1 34.8h0m.2-1.4h0m.1 3.7h0m.2-2.6h0m.1 1.1h0m.4-34h0m.1-3.2h0m.1 35.8h0m.2-35.5h0m0 34.8h0m.7-33.8h0m.2 37.7h0m.1-37.2h0m0 .3h0m.2-2.2h0m.2 35.9h0m0 2h0m.1-35.2h0m0 34.4h0m.2 1.2h0m.2-36.2h0m0 33.8h0m.1 .5h0m0 2.5h0m.2-35.9h0m.1 32.2h0m.2 1h0m0 1.8h0m.2-.6h0m.2-35.5h0m0 34h0m0 2.1h0m.1-40h0m.2 37.5h0m.3-.2h0m.1 2.7h0m.2-38.1h0m0 36h0m.1 .2h0m.3 .4h0m.2-.9h0m.1-33.8h0m.2-.8h0m0 35.8h0m.6 1.1h0m.1-1.8h0m.8-.5h0m.3 .7h0m.3-36.7h0m0 .1h0m.1 35.9h0m.1-33.4h0m.3 34.3h0m0 2.6h0m.2 .5h0m.2-39.1h0m.2 2.1h0m.1 33.2h0m.3-34h0m0 .8h0m0 35.7h0m.2-2.6h0m.2 .4h0m.2-34.5h0m0 38.3h0m.1-37.6h0m.1 33.3h0m0 2.9h0m.1-38.4h0m.1 2.2h0m0 35h0m.2-35.3h0m.4 34.5h0m0 .4h0m.2-.9h0m0 2.3h0m.3-40.3h0m.1 37.7h0m.1 3h0m.1 .5h0m.2-.7h0m.1-36.9h0m0 .9h0m.3-.9h0m.2 34.1h0m.5-34.5h0m0 38.7h0m.1-4.2h0m0 .6h0m.1 0h0m0 1.4h0m.2-36.1h0m0 .4h0m0 0h0m.1 36.4h0m.1-36.3h0m.3 35.2h0m.1 .4h0m.3-37.9h0m0 2.3h0m.1 .2h0m.1 37.2h0m.1-3.4h0m.3-.1h0m.1-.6h0m.3 0h0m0 4.7h0m.1-4.2h0m.1 4.7h0m.1-40.4h0m.1 2.2h0m0 33.1h0m.2 4h0m0 2.5h0m.1-40.6h0m.1 1.7h0m0 34.5h0m.1-35h0m0 .5h0m.2-2.4h0m0 35.5h0m0 .1h0m0 .9h0m.2-.2h0m.1 1.2h0m.1-38.3h0m0 38.5h0m.1-1.4h0m.1-38.1h0m0 .6h0m.2 .6h0m.1 1.9h0m.1 .7h0m.1 37.6h0m.2-39.2h0m.1 34.3h0m.2 .3h0m0 1.8h0m.1-37.1h0m0 .5h0m.3 34h0m0 .4h0m.1 1.8h0m.1 .2h0m.1-37.1h0m0 2.7h0m.2-2.4h0m0 34.7h0m0 .2h0m0 .4h0m.1-33.3h0m.2-4.5h0m0 .9h0m0 36.7h0m.1-36.2h0m.1 40.2h0m0 2.2h0m.2-38.1h0m.1 31.1h0m.1-33.9h0m.1 34.5h0m0 1.1h0m0 .1h0m0 1.5h0m0 .1h0m.1 4.3h0m.1-44.5h0m.1 1.4h0m0 38.9h0m0 .6h0m.1-40.7h0m0 1.5h0m0 3h0m.1 34.4h0m.1-34.1h0m0 35.8h0m0 3.2h0m.2-38.4h0m0 31.3h0m0 .3h0m0 .5h0m0 1.2h0m.2 4h0m.1-41.3h0m0 36.1h0m0 2.1h0m.1-.6h0m.1-2.1h0m.1-37.7h0m0 5.1h0m.1-3.9h0m0 39.3h0m.4-1.1h0m.1-36.4h0m0 2.6h0m0 0h0m0 .7h0m0 35.3h0m.1-1.6h0m.1-1.2h0m.1-1.5h0m.3 1.9h0m0 4.7h0m.1-38.8h0m0 34.4h0m.1-32.9h0m0 32.1h0m0 .1h0m0 2.1h0m0 1.1h0m.1 1.2h0m.2-38.9h0m0 2.1h0m0 30.9h0m0 3.2h0m.1-3.3h0m0 0h0m0 .3h0m0 2.9h0m.1-3.4h0m0 1.1h0m.1-34.2h0m0 2.3h0m.1-6.7h0m0 6.3h0m0 30.9h0m0 1.5h0m.1-33.9h0m0 1.3h0m0 32.7h0m0 6.8h0m.1-5.9h0m.1-.6h0m.1-35.1h0m0 .8h0m.1-1.2h0m0 2.2h0m0 32.4h0m.1 1.1h0m0 4.5h0m0 3.1h0m.2-41.5h0m0 .9h0m0 32.2h0m0 1.2h0m0 1.6h0m0 1.3h0m.1-4h0m0 7.7h0m.1-41.5h0m0 32.7h0m0 0h0m0 1.5h0m.1-1.2h0m.1 .1h0m0 1.1h0m.1-32.5h0m0 32.7h0m.1 .5h0m.2-33.9h0m0 36.6h0m.1-34.9h0m.1-7h0m0 3.2h0m0 34.5h0m.2-.5h0m0 1.7h0m.1 .8h0m.1-36.1h0m0 1.3h0m0 2.1h0m0 30.2h0m0 4.6h0m.1-4.3h0m.1 .4h0m.1-32.3h0m0 31.4h0m0 .6h0m0 .3h0m0 .3h0m0 2.7h0m.2-37.2h0m0 35.1h0m0 4.7h0m.1-43.5h0m0 7.1h0m0 30.5h0m.1-33.3h0m0 1.2h0m0 1.8h0m.1 30.1h0m.1 .6h0m0 1.3h0m0 .5h0m0 .7h0m0 5.4h0m.1-39.8h0m.1 1.1h0m0 .2h0m0 31.3h0m.1-36.7h0m0 3.9h0m0 31.1h0m.1-31.5h0m0 32.1h0m0 3.8h0m.1-3.9h0m0 .1h0m.1-35.1h0m0 38.6h0m.1-35.8h0m0 1.7h0m0 31.6h0m0 .1h0m.1-35.4h0m.1 .8h0m0 32.2h0m0 1.8h0m0 .5h0m0 3h0m.1-34.7h0m0 .6h0m0 29.5h0m0 0h0m0 1.7h0m0 1.6h0m.1-36.7h0m0 2.8h0m0 30.1h0m.1 .2h0m0 1.4h0m0 .8h0m0 .5h0m0 .2h0m0 6h0m.1-8.6h0m.1-33.5h0m0 39.2h0m.1-6.4h0m0 2.5h0m0 .2h0m.1-32.1h0m0 29.3h0m0 .5h0m0 8.5h0m0 1.3h0m.1-44.3h0m0 38.3h0m.1-34h0m0 29.6h0m0 7.6h0m.1-6.4h0m.2-29.8h0m0 28.8h0m.1-30.9h0m.1 1.1h0m.1-2h0m0 .9h0m0 31.7h0m0 1.6h0m.1-36.2h0m0 3.7h0m0 .5h0m0 30.5h0m.1-33h0m0 2h0m0 1.3h0m0 28.9h0m0 7.4h0m.1-6.2h0m0 1.2h0m.1-34.8h0m0 2h0m.1 .2h0m0 .9h0m0 .1h0m0 32.4h0m.1-39.3h0m0 .5h0m0 .1h0m0 3.2h0m0 .8h0m.1 2.2h0m0 31.5h0m0 3.3h0m.1-41.5h0m0 6.4h0m0 29.3h0m0 .4h0m0 2.4h0m.1-36.1h0m0 5.4h0m0 0h0m0 27.6h0m0 .3h0m0 3.6h0m.2-.8h0m.1-.3h0m.1-.5h0m0 8.2h0m.1-44.5h0m0 33.7h0m.1-33.2h0m0 5.3h0m0 27.9h0m0 1.1h0m0 1.4h0m.1-30.5h0m0 27.7h0m0 2.1h0m0 1.7h0m.1-4.1h0m0 1.1h0m0 1.2h0m0 5.2h0m.1-35.4h0m0 1.8h0m0 .3h0m0 31.6h0m.1-38.4h0m0 3.4h0m0 2h0m0 .4h0m0 1.1h0m0 29.3h0m0 1.4h0m.1-39.1h0m0 6.3h0m0 31.4h0m.1-31.5h0m0 1.9h0m0 28.5h0m0 .9h0m.1-35.3h0m0 3.4h0m0 .5h0m0 1.3h0m0 .1h0m0 .1h0m0 28.4h0m.1-1.1h0m0 2.5h0m.1-34.8h0m.1 .7h0m0 5.4h0m0 28h0m0 2.1h0m.1-34.4h0m0 31.4h0m0 1.8h0m.1-33.1h0m0 .1h0m0 2.4h0m0 26.4h0m0 .3h0m0 1.2h0m0 .5h0m0 8.4h0m.1-9.9h0m0 3.3h0m.1-29.7h0m0 1.5h0m0 24.3h0m0 .3h0m0 2h0m0 .8h0m0 .4h0m.1-36.5h0m0 32.7h0m0 4.1h0m0 .2h0m0 2h0m.1-36.9h0m0 5.2h0m0 1.2h0m0 24.9h0m.1-30.5h0m0 2.5h0m0 3.8h0m0 26.6h0m0 1.9h0m0 5.4h0m.1-34.6h0m0 25.8h0m0 5.1h0m.1-31.7h0m0 27.8h0m0 1.9h0m0 2.3h0m.1-40.5h0m0 5h0m0 2.3h0m0 35.2h0m.1-35h0m0 .4h0m0 .2h0m0 .6h0m0 25.1h0m0 2.9h0m0 2.3h0m0 1.2h0m0 8.1h0m.1-44.5h0m0 5.4h0m0 .7h0m0 23.2h0m0 2.3h0m.1-34.2h0m0 6.7h0m0 29.2h0m0 .6h0m0 2.7h0m.1-36h0m0 29.4h0m0 .4h0m0 .8h0m0 1.2h0m0 .5h0m0 2.3h0m0 .8h0m.1-4.3h0m.1-36.2h0m0 2.6h0m.1 4.8h0m0 1.7h0m0 25h0m0 1h0m0 1.7h0m0 1.8h0m.1-5.1h0m0 .4h0m0 3.8h0m0 .6h0m0 1h0m.1-28.9h0m0 29.4h0m.1-35h0m0 1.1h0m0 3.6h0m0 23.9h0m0 .9h0m0 2.3h0m0 1.4h0m.1-38.2h0m0 3.3h0m0 6.9h0m0 1.6h0m0 24.6h0m0 2.2h0m.1-37.4h0m0 3.5h0m0 4.3h0m0 0h0m0 .7h0m0 1.9h0m0 26.4h0m0 .4h0m0 1.5h0m.1-38.1h0m0 3.8h0m0 3.1h0m0 2.6h0m0 23.4h0m0 1.9h0m0 0h0m0 7.2h0m.1-40.4h0m0 4.4h0m0 1.2h0m0 .7h0m0 1.8h0m0 26.2h0m0 1.1h0m.1-33.8h0m0 3.4h0m0 3.7h0m0 21.4h0m0 6.7h0m0 3.5h0m.1-34.3h0m0 .8h0m0 .6h0m0 23h0m.1-28.5h0m0 .5h0m0 1.9h0m0 4.3h0m0 24.4h0m.1-1.3h0m0 3.4h0m.1-37.9h0m0 5.1h0m0 1.2h0m0 27.8h0m0 1.2h0m0 .7h0m.1-31.2h0m0 .8h0m0 3.8h0m0 .1h0m0 28.7h0m.1-29.6h0m0 27.7h0m0 .2h0m0 8.3h0m0 .8h0m.1-38.7h0m0 1.8h0m0 .1h0m0 23.9h0m0 8.6h0m.1-37.6h0m0 4.1h0m0 1.5h0m0 .8h0m0 .1h0m0 29.4h0m.1-4.2h0m0 .4h0m.1-2.7h0m0 0h0m0 3.3h0m0 2.9h0m0 2.2h0m0 1.9h0m.1-38.3h0m0 2.5h0m0 1.6h0m0 29h0m0 .1h0m0 1.2h0m0 6.7h0m.1-39.4h0m0 2.3h0m0 2.9h0m0 .3h0m0 25h0m0 1.8h0m.1-41h0m0 6.3h0m0 .7h0m0 7.5h0m0 .2h0m0 18.8h0m0 .3h0m0 6.7h0m0 2h0m0 0h0m.1-34.7h0m0 4.7h0m0 .1h0m0 21.4h0m0 1h0m0 3h0m.1-31.5h0m0 5.5h0m0 .2h0m0 1h0m0 1.5h0m0 28.9h0m.1-37h0m0 27.4h0m0 4.2h0m0 1.9h0m0 2h0m0 1h0m.1-31.5h0m0 1.8h0m0 23h0m0 .2h0m.1-25.9h0m0 3.9h0m0 18.9h0m0 4.6h0m0 5.3h0m.1-33.4h0m0 24.1h0m.1-29.6h0m0 6.5h0m0 1h0m0 .6h0m0 24.8h0m0 .1h0m.1-33.7h0m0 7.4h0m0 23.5h0m0 .8h0m0 2.1h0m0 2.9h0m.1-35.5h0m0 3.8h0m0 1.1h0m0 1.3h0m0 .7h0m0 2.4h0m0 20.7h0m0 6.5h0m0 .3h0m0 5.7h0m0 .5h0m.1-40.2h0m0 26.7h0m.1-24.9h0m0 .3h0m0 1h0m0 .5h0m0 .2h0m0 3.6h0m0 19.1h0m0 1h0m0 1.3h0m0 1.9h0m0 2.4h0m0 9.1h0m.1-48.2h0m0 4.4h0m0 1.4h0m0 3.2h0m0 2.8h0m0 1.2h0m0 18.3h0m0 2.7h0m0 1.9h0m0 3h0m0 5.4h0m0 1.2h0m.1-40h0m0 2.5h0m0 .9h0m.1-8h0m0 3.6h0m0 4.4h0m0 .4h0m0 21.7h0m0 1.2h0m0 3.6h0m.1-31.2h0m0 .7h0m0 6.8h0m0 .3h0m0 .5h0m0 .6h0m0 .5h0m0 0h0m0 17.3h0m0 1.5h0m0 .8h0m0 3.2h0m0 1.7h0m.1-34.4h0m0 8.2h0m0 26.5h0m0 1.3h0m0 2.9h0m.1-43.6h0m0 9.5h0m0 .1h0m0 27h0m.1-32.4h0m0 .8h0m0 2.1h0m0 29.3h0m0 4.1h0m.1-32h0m0 2.5h0m0 20.3h0m0 3.9h0m0 .4h0m0 1.9h0m0 3h0m.1-37.3h0m0 1.6h0m0 3.7h0m0 24.5h0m0 2.1h0m0 4.9h0m0 2.6h0m.1-38.5h0m0 6.2h0m0 23h0m0 11h0m.1-38.1h0m0 1.3h0m0 2.5h0m0 0h0m0 3.6h0m0 19.9h0m0 3.7h0m0 1.2h0m.1-8.5h0m0 .1h0m0 .6h0m0 3.1h0m0 .6h0m0 3.8h0m0 3.3h0m.1-35h0m0 .8h0m0 1h0m0 4.5h0m0 2.3h0m0 18.8h0m0 1.7h0m0 .3h0m.1-35.8h0m0 1.3h0m0 4h0m0 1h0m0 25.5h0m0 .8h0m0 6.5h0m0 0h0m0 1.6h0m0 1h0m.1-33.3h0m0 2.8h0m0 1.8h0m0 0h0m0 16h0m0 2.7h0m.1-21.4h0m0 .3h0m0 2h0m0 4.5h0m0 12.5h0m0 2.5h0m0 4.7h0m0 5.9h0m.1-37.2h0m0 .2h0m0 7.9h0m0 1.8h0m0 2.3h0m0 13.5h0m0 .7h0m0 4.5h0m0 .1h0m0 0h0m0 2.5h0m0 5.4h0m.1-38.8h0m0 4.1h0m0 3.7h0m0 3.9h0m0 18h0m0 2.3h0m0 1.6h0m0 3h0m.1-31.6h0m0 2.9h0m0 17.6h0m0 6h0m0 .3h0m0 .2h0m.1-36.7h0m0 1h0m0 8.6h0m0 2.9h0m0 .6h0m0 .2h0m0 2h0m0 12.4h0m0 1.1h0m0 .3h0m0 2.8h0m0 4.7h0m.1-34.4h0m0 7.3h0m0 0h0m0 .5h0m0 2.5h0m0 .5h0m0 .1h0m0 .5h0m0 .4h0m0 13.7h0m0 .1h0m0 1.4h0m0 3.5h0m0 2.3h0m0 3h0m0 .3h0m0 5.2h0m.1-43.9h0m0 13.3h0m0 13.3h0m0 2.3h0m0 1.4h0m0 5.9h0m0 3.6h0m.1-30.6h0m0 2.7h0m0 1.1h0m0 .4h0m0 19.5h0m0 1h0m0 .9h0m0 .4h0m.1-31.8h0m0 1.5h0m0 7.7h0m0 5.1h0m0 9.7h0m0 1.7h0m0 2.8h0m0 1.9h0m0 .5h0m0 5.3h0m0 3.5h0m.1-34.4h0m0 4.3h0m0 2.7h0m0 .9h0m0 2.1h0m0 0h0m0 8.1h0m0 .8h0m0 0h0m0 1.1h0m0 1.3h0m.1-21.7h0m0 .4h0m0 3.4h0m0 3.3h0m0 1.3h0m0 9.6h0m0 3.9h0m0 3.8h0m0 .8h0m0 1.3h0m0 2.8h0m.1-27.9h0m0 .6h0m0 19.1h0m0 5.6h0m.1-33.9h0m0 4.1h0m0 3h0m0 1.9h0m0 1.3h0m0 5.8h0m0 7.6h0m0 1.1h0m0 4h0m0 2.8h0m0 .4h0m0 2.3h0m0 2.4h0m0 1h0m.1-35.1h0m0 1.7h0m0 4.9h0m0 2.6h0m0 2.5h0m0 2.1h0m0 6.2h0m0 1.6h0m0 1.4h0m0 5.7h0m0 3.5h0m0 5.2h0m.1-33.7h0m0 .7h0m0 2.4h0m0 1.6h0m0 2.5h0m0 .6h0m0 1.1h0m0 13h0m0 .6h0m0 6.3h0m0 .7h0m.1-37h0m0 11.7h0m0 2.7h0m0 5h0m0 10.5h0m0 6h0m0 2h0m.1-37.2h0m0 8.9h0m0 9.7h0m0 3.7h0m0 4.6h0m0 5.7h0m0 1.7h0m.1-30.5h0m0 1.3h0m0 10.1h0m0 7.3h0m0 5.3h0m0 0h0m0 2.4h0m0 .1h0m0 .9h0m0 .6h0m0 3.6h0m.1-34.9h0m0 6.4h0m0 4.4h0m0 2.9h0m0 1.1h0m0 0h0m0 4.1h0m0 6.4h0m0 13.8h0m.1-42.4h0m0 7.4h0m0 19.6h0m0 1.8h0m0 .1h0m0 7.4h0m0 .2h0m0 .2h0m0 3.1h0m.1-32h0m0 1.3h0m0 .3h0m0 .5h0m0 1.8h0m0 1.4h0m0 .3h0m0 9h0m0 8.6h0m0 .3h0m0 6.5h0m0 1.4h0m.1-35h0m0 1.8h0m0 2.5h0m0 8.9h0m0 5h0m0 2.1h0m0 6.1h0m0 1h0m.1-29.7h0m0 6.2h0m0 4.7h0m0 1.3h0m0 1.3h0m0 3h0m0 1.4h0m0 .1h0m0 1.8h0m0 5.6h0m0 2.3h0m.1-8.6h0m0 20.4h0m.1-28.6h0m0 3h0m0 8.4h0m0 .7h0m0 1.4h0m0 7.7h0m0 3h0m0 1.1h0m0 1.5h0m0 .5h0m0 1.7h0m0 2.7h0m0 .5h0m0 1.2h0m.1-41.1h0m0 13.2h0m0 2.5h0m0 15.2h0m0 2.5h0m0 1.3h0m.1-34.9h0m0 2.1h0m0 9.8h0m0 .3h0m0 2.1h0m0 2h0m0 6.7h0m0 4.6h0m0 2.8h0m0 3.4h0m0 .2h0m0 3.8h0m.1-27.6h0m0 .3h0m0 .8h0m0 .5h0m0 5.4h0m0 .7h0m0 4.1h0m0 3.9h0m0 8h0m0 3.2h0m0 1.4h0m.1-18.3h0m0 1.3h0m0 2.3h0m0 2.6h0m0 1.3h0m0 1.5h0m0 .4h0m0 5.8h0m0 .2h0m0 1.1h0m0 .9h0m0 5.7h0m.1-45.2h0m0 1.9h0m0 6.7h0m0 1.2h0m0 1.2h0m0 2.6h0m0 3.6h0m0 2h0m0 3.5h0m0 .9h0m0 .5h0m0 11.1h0m0 4.1h0m.1-33.9h0m0 .1h0m0 9.5h0m0 3.4h0m0 5h0m0 5.8h0m0 2h0m0 4.5h0m0 3.9h0m.1-43.8h0m0 8.4h0m0 6.5h0m0 .8h0m0 4.1h0m0 7h0m0 1.4h0m0 5.1h0m0 1.9h0m0 1.5h0m0 2.7h0m0 .8h0m.1-30.8h0m0 11.6h0m0 10.1h0m0 10.8h0m0 4.4h0m0 .6h0m.1-21.9h0m0 1.4h0m0 6.2h0m0 7.7h0m0 1.5h0m.1-34.1h0m0 2.4h0m0 2.5h0m0 1.5h0m0 4.5h0m0 .8h0m0 9h0m0 5.3h0m0 .2h0m0 7.1h0m0 3.2h0m.1-40.9h0m0 3.8h0m0 3.7h0m0 1.8h0m0 7.1h0m0 1.7h0m0 .1h0m0 2.2h0m0 2.3h0m0 1.3h0m0 .4h0m0 6h0m0 .1h0m0 2.7h0m0 4.2h0m.1-43.3h0m0 9.5h0m0 .3h0m0 .3h0m0 1.6h0m0 4h0m0 3.8h0m0 7h0m0 .1h0m0 7.4h0m0 16h0m.1-44.8h0m0 8.4h0m0 2.5h0m0 6.3h0m0 5.9h0m0 3.6h0m0 .8h0m0 3.9h0m0 .8h0m0 2.8h0m.1-26.2h0m0 .6h0m0 4.4h0m0 2.5h0m0 5.9h0m.1-15.2h0m0 2.6h0m0 .8h0m0 10.2h0m0 1.8h0m0 14.2h0m0 5h0m.1-19.7h0m0 1h0m0 4.7h0m0 .2h0m0 .3h0m0 1.8h0m0 .8h0m0 1.2h0m0 7.4h0m.1-23.2h0m0 5.5h0m0 5.3h0m0 3.5h0m0 6.3h0m0 .9h0m.1-27.8h0m0 0h0m0 2.3h0m0 1.1h0m0 3.2h0m0 .7h0m0 2.8h0m0 1.3h0m0 4.4h0m0 8.1h0m0 5.3h0m0 4.5h0m.1-44.6h0m0 8.5h0m0 .1h0m0 .2h0m0 2.7h0m0 8.9h0m0 5.8h0m0 .3h0m0 16.2h0m.1-36.1h0m0 3.4h0m0 7.3h0m0 1.1h0m0 1.7h0m0 0h0m0 2.8h0m0 15.4h0m.1-35.1h0m0 14.3h0m0 3.2h0m0 7.6h0m0 2.7h0m0 1.8h0m0 1.9h0m0 1.2h0m.1-25.8h0m0 4.7h0m0 7.2h0m0 1.3h0m0 .6h0m0 .7h0m0 8.8h0m0 .2h0m0 4.2h0m0 .7h0m.1-29h0m0 7.2h0m0 4.7h0m0 3.9h0m0 0h0m0 1h0m0 4.9h0m0 6h0m0 .8h0m0 3.3h0m0 .8h0m0 6.3h0m.1-43.1h0m0 1.6h0m0 1h0m0 1.1h0m0 .9h0m0 1.3h0m0 4.2h0m0 2.2h0m0 9.1h0m0 .2h0m0 1.4h0m0 1h0m0 3.8h0m0 .7h0m0 .1h0m.1-26.9h0m0 4.8h0m0 4.6h0m0 2.8h0m0 1.3h0m0 4h0m0 2.6h0m0 3.5h0m0 3.2h0m0 9h0m.1-40.1h0m0 2.8h0m0 10.3h0m0 6.2h0m0 1.3h0m0 2.3h0m0 6h0m0 4h0m0 1.2h0m0 .6h0m.1-20.4h0m0 .1h0m0 7.4h0m0 2.6h0m0 2h0m0 4.4h0m0 7.4h0m0 5.9h0m.1-39.4h0m0 4.6h0m0 3.1h0m0 2.4h0m0 2h0m0 2.9h0m0 1.3h0m0 2.3h0m0 .8h0m0 20.5h0m.1-45.2h0m0 6.5h0m0 16.1h0m0 1h0m0 2.3h0m0 2.1h0m0 9.1h0m0 1.7h0m.1-44.4h0m0 4.4h0m0 1.2h0m0 6.2h0m0 6.3h0m0 .1h0m0 .7h0m0 0h0m0 1.5h0m0 .3h0m0 10.4h0m0 11.5h0m0 2h0m.1-32.2h0m0 2.7h0m0 .3h0m0 7.1h0m0 4.9h0m0 .1h0m0 1.9h0m0 3.5h0m0 7h0m0 .2h0m0 6.5h0m.1-34.9h0m0 4.1h0m0 .1h0m0 8.4h0m0 6.7h0m0 2.6h0m0 3h0m0 1.1h0m0 0h0m0 4.7h0m0 .6h0m0 1.9h0m0 2.8h0m.1-43.6h0m0 6.5h0m0 1.1h0m0 3.3h0m0 5.2h0m0 2.3h0m0 3.8h0m0 6.4h0m0 4.8h0m0 3.6h0m0 1.8h0m0 2.3h0m.1-35.9h0m0 3h0m0 2.2h0m0 4.4h0m0 1.2h0m0 .4h0m0 2.1h0m0 1.5h0m0 .1h0m0 2.3h0m0 7.4h0m0 5.5h0m0 6.6h0m.1-38.6h0m0 6.7h0m0 6.5h0m0 .5h0m0 1.7h0m0 4.3h0m0 .8h0m0 1.1h0m0 21.8h0m.1-38.7h0m0 4h0m0 7.1h0m0 4.6h0m0 4.9h0m0 3.7h0m0 6.8h0m0 .5h0m.1-35.3h0m0 2.6h0m0 2.5h0m0 1h0m0 14.3h0m0 3.2h0m0 9.2h0m0 3.5h0m0 1.2h0m.1-35.9h0m0 3.5h0m0 12.9h0m0 .3h0m0 .5h0m0 .7h0m0 12.2h0m.1-36.6h0m0 6.8h0m0 1.4h0m0 11.3h0m0 8.2h0m0 1.2h0m0 5.2h0m.1-20.4h0m0 8.7h0m0 1.5h0m0 4.5h0m0 9.3h0m0 2.4h0m0 2.6h0m.1-38.9h0m0 7.3h0m0 4.3h0m0 8.2h0m0 5.4h0m0 5h0m0 5.2h0m.1-21.5h0m0 .3h0m0 1h0m0 2.5h0m0 0h0m0 .8h0m0 8.7h0m0 8.4h0m0 2.9h0m.1-31.5h0m0 .9h0m0 4.3h0m0 3.2h0m0 21.5h0m0 .2h0m0 7.3h0m.1-38.3h0m0 .4h0m0 1.2h0m0 4.3h0m0 3.5h0m0 3.5h0m0 .6h0m0 3.3h0m0 2h0m0 1.8h0m0 3.1h0m0 4.6h0m0 1.2h0m.1-37.7h0m0 5.2h0m0 .8h0m0 0h0m0 1.2h0m0 17h0m0 .2h0m0 .3h0m.1-25.1h0m0 7.6h0m0 1h0m0 2.1h0m0 8.8h0m0 3.2h0m0 6.2h0m0 9h0m0 7.9h0m.1-40h0m0 3h0m0 4.5h0m0 6.7h0m0 1.9h0m0 2.8h0m0 1.6h0m0 7.6h0m0 1.4h0m.1-28.4h0m0 .8h0m0 15.9h0m0 0h0m0 10.5h0m0 .9h0m.1-28h0m0 5.9h0m0 .4h0m0 .2h0m0 7.6h0m0 2.5h0m0 4.4h0m0 7.8h0m0 13.7h0m.1-48.5h0m0 4h0m0 1.2h0m0 1.8h0m0 3.5h0m0 .8h0m0 3.7h0m0 .3h0m0 5.1h0m0 1h0m0 3.6h0m0 .2h0m0 5.7h0m.1-10.5h0m0 3.9h0m.1-25.2h0m0 6.9h0m0 1.1h0m0 1.8h0m0 4.9h0m0 12.1h0m0 1.1h0m0 1.2h0m0 1.9h0m0 9.9h0m.1-39.1h0m0 7.9h0m0 8.6h0m0 .8h0m0 2.6h0m0 5h0m0 4.3h0m0 2.1h0m0 6h0m.1-30.5h0m0 .5h0m0 .7h0m0 5.4h0m0 1.6h0m0 1.4h0m0 .6h0m0 6.4h0m0 7.9h0m0 9.1h0m.1-42.3h0m0 11.4h0m0 1.3h0m0 .3h0m0 4.6h0m0 5.5h0m0 .2h0m0 3.2h0m0 1.7h0m0 2.4h0m0 1.4h0m0 5.7h0m0 .1h0m0 1.6h0m.1-29.1h0m0 23.3h0m0 5.2h0m0 3.7h0m0 1.7h0m.1-45.3h0m0 5.7h0m0 .3h0m0 23.8h0m0 8.5h0m0 2.2h0m0 1.9h0m0 .4h0m0 5.8h0m.1-40h0m0 2.5h0m0 2.9h0m0 3h0m0 10.4h0m0 .8h0m0 1.4h0m0 2.9h0m0 4.8h0m.1-22.4h0m0 6.2h0m0 2.6h0m0 .2h0m0 3.4h0m.1-19.3h0m0 5.7h0m0 15.4h0m0 13.9h0m.1-40.4h0m0 8.4h0m0 11.7h0m0 9.3h0m0 2.4h0m0 2.8h0m0 2.8h0m.1-38.5h0m0 5.9h0m0 .1h0m0 2.4h0m0 4.6h0m0 7.3h0m0 17.3h0m0 7.4h0m.1-48.5h0m0 8.8h0m0 14.4h0m0 1.9h0m0 3.7h0m0 4.9h0m0 0h0m0 .6h0m0 1.6h0m.1-26.1h0m0 4h0m0 0h0m0 12h0m0 1.8h0m0 .2h0m0 14.5h0m.1-34.5h0m0 7.8h0m0 6h0m0 3.1h0m0 8.1h0m0 3.5h0m0 .9h0m.1-26.2h0m0 .9h0m0 2.4h0m0 1.2h0m0 5.3h0m0 6h0m0 5.6h0m0 .9h0m0 5.1h0m0 2.8h0m0 .3h0m.1-36h0m0 1.3h0m0 7.2h0m0 6.9h0m0 .2h0m0 3.2h0m0 4.1h0m0 6.5h0m.1-32.2h0m0 2.4h0m0 1.4h0m0 2.5h0m0 .6h0m0 .9h0m0 16.6h0m0 2.2h0m0 .5h0m0 2.8h0m0 6.2h0m0 1.3h0m0 7.6h0m.1-41.9h0m0 4.9h0m0 5.4h0m0 2h0m0 .6h0m0 1.3h0m0 7.9h0m0 6.7h0m0 8.2h0m.1-37.4h0m0 0h0m0 3.5h0m0 .7h0m0 1.3h0m0 3.2h0m0 8.1h0m0 1.5h0m0 2.1h0m0 9.5h0m0 5h0m0 2.5h0m0 .1h0m.1-26.7h0m0 0h0m0 .5h0m0 5.1h0m0 10h0m0 12.8h0m.1-33.2h0m0 10.7h0m0 2.9h0m0 7.7h0m0 3.9h0m.1-29.4h0m0 1.5h0m0 25h0m.1-25h0m0 1.9h0m0 9h0m0 4.4h0m0 9.9h0m0 11.1h0m.1-33h0m0 2.1h0m0 3.4h0m0 13.3h0m0 6.9h0m0 5.3h0m.1-34.7h0m0 1.2h0m0 3h0m0 2.6h0m0 1.8h0m0 8.8h0m0 5.2h0m0 1.4h0m0 6.2h0m0 .2h0m0 3.4h0m0 1.5h0m.1-40.3h0m0 12.8h0m0 0h0m0 3.3h0m0 9.1h0m0 12.2h0m0 2.7h0m0 1.4h0m.1-38.8h0m0 6h0m0 2h0m0 7h0m0 9.7h0m0 20.4h0m.1-40.7h0m0 5h0m0 14.8h0m0 4.4h0m0 6.6h0m0 6.3h0m.1-40h0m0 2.5h0m0 .4h0m0 12.8h0m0 1.1h0m0 .5h0m0 3.4h0m0 2.1h0m0 11.6h0m0 3.8h0m0 .1h0m.1-43.5h0m0 3.8h0m0 1.3h0m0 5.8h0m0 8.5h0m0 22.3h0m0 .9h0m.1-44.4h0m0 5.1h0m0 8.1h0m0 7.5h0m0 5.4h0m0 4.9h0m0 1.1h0m0 5.5h0m.1-20h0m0 5.3h0m0 .4h0m0 1.8h0m0 2.5h0m0 7h0m.1-18.7h0m0 1.6h0m0 .1h0m0 1.8h0m0 7.9h0m0 1h0m0 10.4h0m0 2.6h0m.1-34.4h0m0 1.5h0m0 .1h0m0 2.1h0m0 3h0m0 9h0m0 10.3h0m0 1.1h0m0 3.5h0m.1-31.8h0m0 1.6h0m0 4.9h0m0 6.8h0m0 1.3h0m0 2.5h0m0 .6h0m0 .6h0m0 4.3h0m0 8.8h0m0 2.3h0m0 1.6h0m.1-32.6h0m0 1.7h0m0 .2h0m0 3h0m0 2.3h0m0 1.9h0m0 8.5h0m.1-21.3h0m0 10.3h0m0 .3h0m0 14.3h0m0 7.8h0m0 0h0m0 1.3h0m0 .1h0m0 .3h0m.1-33.4h0m0 3.7h0m0 1.6h0m0 2.1h0m0 2h0m0 .4h0m0 .2h0m0 4.9h0m0 4.4h0m0 1.5h0m0 7.6h0m0 3h0m0 2.8h0m0 1.1h0m.1-29.5h0m.1-3.1h0m0 2.2h0m0 .1h0m0 12.2h0m0 1.1h0m0 1.7h0m0 3.8h0m0 1.4h0m0 3.8h0m0 10.5h0m.1-36.8h0m0 2.5h0m0 2.6h0m0 13.6h0m0 1.7h0m.1-20h0m0 4.2h0m0 10.6h0m0 2.7h0m0 6.3h0m0 2.9h0m.1-29.9h0m0 2.8h0m0 .3h0m0 2.6h0m0 6.2h0m0 .4h0m0 17h0m0 .1h0m0 4.9h0m0 1.4h0m0 1.8h0m.1-33.9h0m0 2.3h0m0 1.7h0m0 1.7h0m0 1.6h0m0 7.5h0m0 8.3h0m0 4h0m.1-28.2h0m0 7.7h0m0 1.5h0m0 6.1h0m0 1.3h0m0 1.5h0m.1-8.2h0m0 2.2h0m0 1.5h0m0 .9h0m0 16.1h0m0 3.2h0m0 3.6h0m.1-39.7h0m0 5.9h0m0 4.4h0m0 1.7h0m0 5.9h0m0 6.9h0m0 4.8h0m0 1.9h0m.1-33.5h0m0 2.3h0m0 .7h0m0 .7h0m0 3.9h0m0 7.3h0m0 .9h0m0 7.6h0m0 4.9h0m0 .3h0m0 15.5h0m.1-43.3h0m0 1.4h0m0 8.1h0m0 4.1h0m0 1.1h0m0 2.9h0m0 8.7h0m0 4.5h0m0 12.6h0m.1-33.4h0m0 .6h0m0 5.4h0m0 .4h0m0 3.8h0m0 6.1h0m0 7.4h0m.1-35.4h0m0 6.8h0m0 10.3h0m0 5.6h0m0 2.9h0m0 16.1h0m.1-42h0m0 8.2h0m0 4.7h0m0 10.6h0m0 2.8h0m0 2.3h0m0 10.3h0m0 1.6h0m.1-43.1h0m0 2.2h0m0 .7h0m0 6.9h0m0 3.3h0m0 .4h0m0 5.8h0m0 4.8h0m0 0h0m0 .2h0m0 6.5h0m0 .6h0m0 5.7h0m0 1.2h0m0 2.5h0m.1-35.4h0m0 2.7h0m0 1.5h0m0 7.6h0m0 3.3h0m0 2.6h0m0 11.5h0m0 5h0m0 .9h0m0 .3h0m0 1h0m0 .3h0m0 0h0m.1-36.2h0m0 1h0m0 4h0m0 .9h0m0 2.4h0m0 3h0m0 4.5h0m0 2.7h0m0 7.7h0m0 0h0m0 8.6h0m.1-34.1h0m0 2.1h0m0 .7h0m0 4.1h0m0 .2h0m0 4.4h0m0 3.9h0m0 3.3h0m.1-6.1h0m0 16.4h0m.1-24.9h0m0 .7h0m0 6.3h0m0 1.8h0m0 1h0m0 .2h0m0 9.8h0m0 .3h0m0 12.8h0m.1-30.7h0m0 4.2h0m0 1.7h0m0 3.3h0m0 .2h0m0 4h0m0 1.4h0m0 1.3h0m0 .2h0m0 10.8h0m0 .7h0m0 3.3h0m.1-29.6h0m0 7.2h0m0 7.2h0m0 16.9h0m.1-38.2h0m0 .4h0m0 3.5h0m0 .1h0m0 13.7h0m0 18.6h0m.1-43.9h0m0 13.4h0m0 .8h0m0 3.3h0m0 14h0m0 7.8h0m0 1.2h0m0 .9h0m0 4.5h0m.1-33.5h0m0 9h0m0 .8h0m0 3.1h0m0 2.2h0m0 2h0m0 2h0m0 4.2h0m0 1.3h0m0 1.6h0m.1-39.9h0m0 7.8h0m0 1h0m0 1.7h0m0 1.9h0m0 .8h0m0 2.6h0m0 6.4h0m0 2.6h0m0 3.1h0m0 3.6h0m0 .1h0m0 6.2h0m0 4.3h0m0 1.4h0m0 .4h0m.1-35.8h0m0 2.1h0m0 1.8h0m0 12.9h0m0 6h0m0 .7h0m0 .4h0m0 9.2h0m0 .1h0m0 2.7h0m0 .8h0m0 4h0m0 8.1h0m.1-55.1h0m0 3.5h0m0 1.8h0m0 0h0m0 3.1h0m0 6.8h0m0 1.3h0m0 1.8h0m0 13.3h0m0 1.9h0m0 1.1h0m0 2.1h0m0 3h0m.1-34.4h0m0 7.1h0m0 2.8h0m0 1h0m0 .1h0m0 14.1h0m0 13.7h0m.1-31.6h0m0 16.5h0m0 .6h0m0 2.1h0m0 1h0m0 9.4h0m0 2h0m.1-34.1h0m0 .4h0m0 12.2h0m0 1.7h0m0 1.6h0m0 3.1h0m0 1.5h0m.1-27.2h0m0 7.3h0m0 .9h0m0 .7h0m0 5.4h0m0 .1h0m0 8.5h0m0 1.5h0m0 5.5h0m0 7h0m0 5.6h0m.1-20.1h0m0 2.5h0m0 .3h0m0 .9h0m0 6.3h0m0 4h0m0 1.6h0m.1-37.5h0m0 7.8h0m0 19.1h0m0 3.1h0m0 .5h0m0 6.1h0m0 .6h0m0 5.2h0m.1-44.9h0m0 16.6h0m0 11.6h0m0 3.9h0m0 4.9h0m0 3.8h0m.1-37.2h0m0 2h0m0 11.9h0m0 6.7h0m0 4h0m0 11.3h0m.1-34.5h0m0 13.7h0m0 5.3h0m0 .1h0m0 4.8h0m0 .4h0m.1-28.1h0m0 27.8h0m0 5.7h0m0 1.5h0m0 3.1h0m0 2.6h0m.1-22.8h0m0 5.9h0m0 2.8h0m0 2h0m0 3.7h0m.1-35.5h0m0 4.8h0m0 2.5h0m0 5.5h0m0 2.8h0m0 3.9h0m0 2.5h0m0 8.5h0m0 3h0m0 7.2h0m0 3h0m.1-37.6h0m0 11.9h0m0 1.7h0m0 5.1h0m0 12.6h0m0 8h0m.1-36.7h0m0 9.2h0m0 1.8h0m0 2.6h0m0 .5h0m0 11.4h0m0 4.7h0m.1-26.9h0m0 2.2h0m0 3.9h0m0 11.3h0m0 .1h0m0 4.1h0m0 2.2h0m.1-27.2h0m0 6h0m0 6.5h0m0 1.2h0m0 8.6h0m0 4.3h0m0 .1h0m0 .7h0m0 8.9h0m.1-35.9h0m0 5.7h0m0 4.7h0m0 23h0m.1-40.8h0m0 2h0m0 3.5h0m0 8.9h0m0 4.6h0m0 5.3h0m0 12.9h0m0 5.4h0m.1-35.4h0m0 3.2h0m0 8.5h0m0 2.5h0m0 11.7h0m0 6.9h0m0 2.6h0m.1-44.1h0m0 2.2h0m0 2.5h0m0 7.1h0m0 .8h0m0 2.3h0m0 1.6h0m0 20.4h0m0 4.9h0m0 12.2h0m.1-45.4h0m0 1.5h0m0 2.4h0m0 24.6h0m0 .9h0m.1 2.9h0m0 1.9h0m.1-31.5h0m0 1.1h0m0 3.2h0m0 0h0m0 1.3h0m0 6.3h0m0 6.8h0m.1-21.5h0m0 2h0m0 1.6h0m0 .3h0m0 2.3h0m0 1.3h0m0 5.7h0m0 7h0m0 2h0m0 7.1h0m0 7.6h0m0 3.3h0m.1-46h0m0 3.8h0m0 7.2h0m0 3.6h0m0 .3h0m0 4.1h0m0 4.1h0m0 6.8h0m0 4.5h0m.1-36.3h0m0 13h0m0 10.7h0m.1-2.9h0m0 3.8h0m0 10.9h0m.1-28.1h0m0 1.3h0m0 33.6h0m0 2.1h0m.1-44.5h0m0 34.1h0m.1-30.6h0m0 12.7h0m0 3.4h0m0 4.3h0m0 1.7h0m0 10.8h0m.1-25.6h0m0 1.9h0m0 0h0m0 1.5h0m0 2.1h0m0 .3h0m0 13.9h0m0 5.3h0m0 5.8h0m0 .9h0m.1-20.4h0m0 1h0m0 2.6h0m0 14.9h0m.1-27.2h0m0 2.3h0m0 .6h0m0 .4h0m0 18.9h0m0 .7h0m0 .8h0m.1-38.8h0m0 5.2h0m0 5.3h0m0 3.5h0m0 1h0m0 14.6h0m0 5h0m0 .1h0m0 3.4h0m0 8.8h0m.1-37.4h0m0 10.3h0m0 7h0m0 10.1h0m0 6.5h0m.1-37.4h0m0 2.2h0m0 3.7h0m0 6.2h0m0 4.3h0m0 1.3h0m0 1.2h0m0 .9h0m0 10.7h0m0 2.4h0m0 3.2h0m.1-34h0m0 .8h0m0 2.6h0m0 .5h0m0 1.6h0m0 5.2h0m0 .2h0m0 7.6h0m0 4.1h0m0 3.5h0m0 1.4h0m0 1.7h0m0 5.1h0m.1-45.1h0m0 9.3h0m0 7.5h0m0 .1h0m0 8.5h0m0 15.8h0m0 .9h0m.1-38.2h0m0 6.4h0m0 6h0m0 3.3h0m0 9h0m0 4.8h0m0 2.3h0m0 .5h0m0 5.1h0m0 .1h0m0 5.5h0m.1-39h0m0 .3h0m0 2.4h0m0 7.3h0m0 11.4h0m0 1.7h0m.1-32.5h0m0 13.5h0m0 2.8h0m0 1.9h0m0 .2h0m0 3.8h0m0 2.3h0m0 3h0m0 6.9h0m0 1.5h0m0 9.2h0m0 .6h0m0 .5h0m0 1.5h0m.1-31.7h0m0 9h0m0 3.6h0m0 3.5h0m0 4.6h0m0 4.9h0m0 .8h0m0 4.6h0m0 .5h0m.1-36.5h0m0 26.4h0m0 2.8h0m0 .9h0m.1-22.1h0m0 .9h0m0 2.1h0m0 .3h0m0 6.7h0m0 3.6h0m0 8.8h0m.1-25.5h0m0 4.6h0m0 .6h0m0 .2h0m0 1.1h0m0 .7h0m0 .5h0m0 .1h0m.1-9.6h0m0 15.2h0m0 2.1h0m0 7.8h0m0 1.6h0m0 13.7h0m0 5h0m.1-49.9h0m0 10.9h0m0 4.3h0m0 6.5h0m0 9.7h0m.1-22.9h0m0 1h0m0 4.1h0m0 1.9h0m0 0h0m0 4.4h0m0 5.1h0m0 1.3h0m0 7.4h0m0 2.9h0m.1-30.5h0m0 5.5h0m0 7.5h0m0 9.6h0m0 5.4h0m.1-33.1h0m0 4h0m0 3.4h0m0 .2h0m0 10.8h0m0 16.9h0m0 4.5h0m.1-43.9h0m0 8h0m0 10h0m0 2.6h0m0 5.3h0m.1-22.7h0m0 13.4h0m0 8.5h0m0 2.1h0m0 13.1h0m0 2h0m.1-38.3h0m0 7.2h0m0 7.8h0m0 1.8h0m0 8.6h0m.1-17.6h0m0 2.8h0m0 19.4h0m0 6.1h0m0 6.1h0m.1-42.7h0m0 .6h0m0 3.3h0m0 6.6h0m0 7.2h0m0 .5h0m0 13.6h0m0 6.3h0m.1-49.7h0m0 13.8h0m0 3h0m0 .4h0m0 .3h0m0 2.6h0m0 1.6h0m0 5.1h0m0 8.3h0m0 6.6h0m0 5.9h0m0 .4h0m.1-28.2h0m0 18.6h0m.1-29.5h0m0 4.6h0m0 12.8h0m0 .7h0m0 1.6h0m0 9.6h0m0 10.5h0m.1-31h0m0 11.5h0m0 6.5h0m0 .6h0m0 11h0m.1-28.3h0m0 5h0m0 1.9h0m0 3.7h0m0 10.9h0m.1-26.9h0m0 15.5h0m0 1.5h0m0 .5h0m0 1.2h0m0 15.6h0m.1-43.4h0m0 13.3h0m0 16.8h0m0 1.6h0m0 .5h0m0 1h0m0 3.1h0m0 4.8h0m0 1.7h0m.1-14.7h0m0 7.7h0m0 5.1h0m.1-28.1h0m0 17.7h0m0 9h0m.1-23.3h0m0 .1h0m0 7h0m0 13.1h0m0 4.9h0m0 3.3h0m.1-29.7h0m0 2.3h0m0 1h0m0 1h0m0 .3h0m0 12.5h0m0 6.2h0m0 6.7h0m.1-32.9h0m0 .2h0m0 11.6h0m0 24.7h0m.1-35.3h0m0 15.3h0m0 3.1h0m0 3.1h0m0 5.2h0m.1-34.9h0m0 .9h0m0 16.7h0m0 3.4h0m0 8.1h0m0 .8h0m0 2.9h0m0 1.3h0m.1-4.2h0m0 1.3h0m.1-29.7h0m0 22.1h0m0 7.4h0m0 5.3h0m0 1h0m0 7.3h0m.1-26.7h0m0 1.4h0m0 4.2h0m0 3.4h0m0 2.3h0m0 3.2h0m0 4.2h0m0 .5h0m0 .5h0m.1-23.3h0m0 1h0m0 5.1h0m0 1h0m0 3.4h0m0 14.6h0m0 4.3h0m.1-44.4h0m0 2.9h0m0 4.3h0m0 12.2h0m0 7.8h0m0 .3h0m0 3h0m0 1.3h0m0 8.1h0m0 .1h0m0 .5h0m0 .1h0m.1-32.9h0m0 12.8h0m0 4.5h0m0 8.3h0m0 5.7h0m0 1.5h0m0 6.3h0m.1-33h0m0 6.2h0m0 2.8h0m0 .8h0m0 8.2h0m0 2.1h0m0 .6h0m0 9.7h0m.1-47.6h0m0 6.8h0m0 15.1h0m0 .1h0m.1-26.1h0m0 8.1h0m0 7.7h0m0 6.2h0m0 8.7h0m0 5.3h0m0 1.5h0m0 1h0m0 3.9h0m0 6.1h0m0 .7h0m0 5.9h0m.1-44.2h0m0 .8h0m0 31.4h0m0 1.8h0m0 1.4h0m0 2h0m.1-35.9h0m0 .6h0m0 10h0m0 3h0m0 4.9h0m0 2.3h0m0 11.2h0m0 7.6h0m.1-19.9h0m0 6.3h0m0 2.3h0m.1-21.4h0m0 11.4h0m.1-14h0m0 7.4h0m0 10.1h0m.1-21.5h0m0 .1h0m0 10.7h0m0 5h0m0 2.6h0m0 1.4h0m0 .2h0m0 19.4h0m.1-42.4h0m0 5.8h0m0 11.3h0m0 12.2h0m0 2.3h0m0 .7h0m.1-31.2h0m0 13.8h0m0 2.2h0m0 2h0m0 8h0m0 1.1h0m0 10.6h0m.1-33.4h0m0 6.3h0m0 3.2h0m0 1.1h0m0 3h0m0 6.5h0m0 5h0m.1-6.5h0m0 10.2h0m0 0h0m.1-38.8h0m0 9.8h0m0 6.3h0m0 26.3h0m.1-30.5h0m0 6.6h0m0 17.1h0m.1-28.1h0m0 3.2h0m0 24.9h0m0 5.8h0m.1-24h0m0 11.2h0m0 4.9h0m0 .7h0m0 4.5h0m0 .2h0m0 4.9h0m0 4.8h0m.1-43.3h0m0 2.4h0m0 5.1h0m0 5.8h0m0 3.1h0m0 3.9h0m0 2.1h0m0 4.1h0m0 3.3h0m0 5.7h0m.1-37.3h0m0 2.1h0m0 6.8h0m0 2.6h0m0 6.1h0m0 .3h0m0 1.9h0m0 2.3h0m0 1.5h0m0 9.5h0m0 3.3h0m0 1h0m.1-38.1h0m0 25.1h0m0 9.3h0m.1-9.5h0m0 14.4h0m0 1.5h0m0 1.3h0m0 1.2h0m0 4.3h0m.1-34.9h0m0 .7h0m0 1.9h0m0 1.6h0m0 6.7h0m0 3.1h0m0 13.3h0m.1-41.1h0m0 5h0m0 4.3h0m0 7h0m0 18.9h0m0 .3h0m.1-32.7h0m0 4.3h0m0 1h0m0 1.5h0m0 9.6h0m0 9.5h0m0 2.1h0m0 3.2h0m.1-31.1h0m0 8.7h0m0 27.2h0m0 1.5h0m.1-39.3h0m0 11.4h0m0 .9h0m0 5.2h0m0 5.2h0m0 6.4h0m0 0h0m0 2.2h0m0 1.7h0m.1-28.3h0m0 6h0m0 1.7h0m0 .2h0m0 .5h0m0 1.1h0m0 7.3h0m0 10.3h0m0 6.7h0m.1-41h0m0 22.6h0m0 .3h0m0 4.4h0m0 1.7h0m.1-24.4h0m0 1.6h0m0 10h0m0 19.9h0m0 6.2h0m.1-17.4h0m0 1.1h0m0 17.9h0m.1-27.5h0m0 2.4h0m0 6.2h0m0 9.2h0m0 4h0m.1-16.9h0m0 .2h0m0 2.6h0m0 1.1h0m0 5h0m0 14h0m0 2.2h0m0 .2h0m.1-40.9h0m0 5.3h0m0 6h0m0 1.4h0m0 6.9h0m0 1.6h0m0 17.3h0m.1-44.3h0m0 5.7h0m0 10.7h0m0 1.6h0m0 5.8h0m0 2.8h0m0 .2h0m0 7.1h0m0 .2h0m0 0h0m0 4.9h0m0 4.4h0m.1-36.8h0m0 .4h0m0 14.9h0m0 1.4h0m0 16.5h0m0 9.5h0m.1-36.4h0m0 1.8h0m0 5.9h0m0 .7h0m0 15.6h0m.1-19.4h0m0 4.1h0m0 16.5h0m.1-17.2h0m0 7.7h0m0 .5h0m0 17.1h0m.1-46.6h0m0 27.8h0m0 2h0m0 3.7h0m0 1.7h0m0 8.7h0m.1-22.9h0m0 5.1h0m0 3.8h0m0 4.8h0m0 7.9h0m.1-37.9h0m0 11.1h0m0 1.8h0m0 9.7h0m0 9.1h0m0 8.8h0m.1-40.9h0m0 13.2h0m0 6.9h0m0 5.2h0m.1-34.6h0m0 13.5h0m0 2.2h0m0 5h0m0 2.5h0m0 14.4h0m.1-21.5h0m0 2.7h0m0 .7h0m0 .2h0m0 11.6h0m0 0h0m0 .2h0m0 2.1h0m0 5.3h0m0 4.8h0m.1-38.2h0m0 24.4h0m0 7.3h0m0 5h0m0 3.9h0m0 .6h0m0 .5h0m.1-29.5h0m0 3.5h0m0 9.3h0m0 3.6h0m0 12.4h0m0 6.1h0m0 .5h0m.1-50.4h0m0 12.1h0m0 7.2h0m0 1.8h0m0 .9h0m0 4.1h0m0 3h0m0 2.4h0m0 6.9h0m0 .4h0m0 2.4h0m0 5.3h0m0 3h0m.1-41h0m0 14.4h0m0 3.5h0m0 5.4h0m0 4.1h0m0 2.5h0m0 .3h0m0 6.5h0m0 6.7h0m.1-46.4h0m0 20.9h0m0 23.8h0m.1-39.9h0m0 .9h0m0 7.5h0m0 12.9h0m0 8h0m.1-26.6h0m0 2.5h0m0 6.5h0m0 .7h0m0 4.8h0m0 17h0m0 4.9h0m.1-42.2h0m0 3h0m0 7h0m0 10h0m0 11.7h0m0 3.2h0m.1-34.6h0m0 11.5h0m0 1.9h0m0 13.5h0m0 8.7h0m.1-29.6h0m0 11.8h0m.1-16.1h0m0 4.7h0m0 1.3h0m0 5h0m0 5h0m0 4.9h0m0 4.1h0m0 3.4h0m0 10h0m0 3.7h0m.1-45.2h0m0 6.4h0m0 9.9h0m0 2.6h0m0 1.4h0m0 .6h0m0 4.9h0m0 3h0m0 8.7h0m0 11.9h0m.1-46.2h0m0 .1h0m0 8.6h0m0 .7h0m0 12.4h0m0 5.1h0m0 9.3h0m.1-30h0m0 9.1h0m0 10.3h0m0 5.7h0m0 4.6h0m0 2.1h0m0 13.1h0m.1-50.7h0m0 15.2h0m0 7.1h0m0 4h0m0 .2h0m0 5.8h0m0 1.7h0m.1-30.7h0m0 2.9h0m0 6.3h0m0 1.6h0m0 2h0m0 6.5h0m0 2.7h0m.1-25.6h0m0 2.8h0m0 2.7h0m0 4.6h0m0 7.9h0m0 9.8h0m0 7.3h0m.1-33.3h0m0 0h0m0 .2h0m0 3.2h0m0 17.8h0m0 1.7h0m0 11.4h0m0 3.7h0m0 .2h0m0 4.2h0m.1-39h0m0 4h0m0 1.4h0m0 5.3h0m0 1h0m0 4.3h0m0 1.9h0m0 13.6h0m0 1.8h0m.1-43.6h0m0 11.1h0m0 9.1h0m0 9.2h0m0 2h0m0 3.7h0m0 3.1h0m0 .3h0m.1-44.6h0m0 7.5h0m0 1.1h0m0 .9h0m0 4.8h0m0 1.3h0m0 .8h0m0 8h0m0 5.5h0m0 .6h0m0 6h0m.1-21.1h0m0 2.9h0m0 17.9h0m.1-20.7h0m0 22.9h0m0 10.1h0m0 5.5h0m.1-49.2h0m0 .6h0m0 6.4h0m0 .1h0m0 1.2h0m0 5.8h0m0 23.8h0m0 1.5h0m0 8.1h0m0 1.3h0m.1-32.5h0m0 6.6h0m0 1.1h0m0 3.6h0m0 13.9h0m.1-36h0m0 2.4h0m0 .5h0m0 18.6h0m0 .5h0m0 3.7h0m0 13h0m.1-35.1h0m0 14.5h0m0 3.4h0m0 2.3h0m0 3.3h0m0 6.8h0m.1-30.7h0m0 .1h0m0 4.8h0m0 3.1h0m0 7.1h0m0 2.7h0m0 .3h0m0 9.9h0m0 2.3h0m.1-33.9h0m0 .4h0m0 3.3h0m0 .5h0m0 4.7h0m0 13.6h0m0 .9h0m0 4.8h0m0 1.7h0m0 6.4h0m0 6.5h0m.1-26.5h0m.1-21.8h0m0 6.9h0m0 13h0m0 2.1h0m0 17.1h0m0 4h0m.1-36.7h0m0 6h0m0 4.7h0m0 4.3h0m0 6.1h0m0 14.1h0m.1-35.9h0m0 3.5h0m0 1.4h0m0 .7h0m0 9.9h0m0 9.7h0m0 5.4h0m0 1.8h0m0 1.3h0m.1-32.9h0m0 12.6h0m0 6.6h0m0 12.7h0m0 18.3h0m.1-53.3h0m0 3h0m0 3.7h0m0 11.5h0m0 17.8h0m0 2.1h0m.1-18.3h0m0 1.5h0m0 10.8h0m0 5.3h0m.1-31.6h0m0 1.9h0m0 25.6h0m0 1.3h0m0 1.3h0m0 .9h0m.1-29.7h0m0 8.8h0m0 28.3h0m0 3.1h0m.1-44.5h0m0 .8h0m0 13.5h0m0 4.3h0m0 .3h0m0 6h0m.1-20.2h0m0 3.9h0m0 4h0m0 3.5h0m.1-13.5h0m0 14.9h0m0 10.2h0m0 9.7h0m.1-33.1h0m0 3.6h0m0 2.5h0m0 2.6h0m0 6.1h0m0 4.1h0m0 2.5h0m0 13h0m0 1.5h0m.1-37.6h0m0 15.7h0m0 .1h0m0 4.8h0m0 18.4h0m.1-42.3h0m0 .6h0m0 .4h0m0 .8h0m0 4.1h0m0 3.4h0m0 2.5h0m0 8.9h0m0 6.5h0m0 6.7h0m.1-34.8h0m0 5.4h0m0 5.5h0m0 2.3h0m0 17.2h0m0 1.7h0m0 9.6h0m.1-37.3h0m0 3h0m0 5.3h0m0 15.3h0m0 1.6h0m0 14.3h0m.1-43.5h0m0 22.3h0m0 1.4h0m0 6.6h0m0 14.1h0m.1-45.3h0m0 5h0m0 5.7h0m0 21.1h0m0 5.9h0m.1-42.3h0m0 4.3h0m0 13.7h0m0 15h0m0 2.4h0m0 7.9h0m0 1.4h0m.1-39.9h0m0 1.5h0m0 1.5h0m0 .7h0m0 5.6h0m0 4.4h0m0 1.2h0m0 1h0m0 11h0m0 1.6h0m0 9.1h0m0 .1h0m.1-37.7h0m0 4.1h0m0 9.1h0m0 1.6h0m0 20.9h0m.1-30.5h0m0 .3h0m0 1.8h0m0 1.1h0m0 9.4h0m0 2.6h0m0 .6h0m0 31.6h0m.1-58.4h0m0 2h0m0 5.2h0m0 11.4h0m0 .6h0m0 3h0m0 3.9h0m0 3.7h0m0 1.2h0m0 2.7h0m.1-17h0m0 .7h0m0 6.6h0m0 1.3h0m0 3.8h0m0 7.6h0m0 3.7h0m0 6.6h0m.1-44h0m0 7.6h0m0 21.2h0m0 2.4h0m0 10.2h0m.1-36.6h0m0 9.5h0m0 14.1h0m0 1.6h0m0 6.1h0m0 4.7h0m0 .8h0m.1-44.4h0m0 7.8h0m0 6.8h0m0 15.1h0m0 14.7h0m0 5.6h0m.1-46.9h0m0 7.7h0m.1-10.1h0m0 .5h0m0 10.1h0m0 2.3h0m.1-9.5h0m0 5.2h0m0 4.3h0m0 8.1h0m0 4.9h0m0 .4h0m0 1.2h0m.1-21.8h0m0 13.1h0m0 7h0m0 11.8h0m0 5.3h0m.1-33.4h0m0 .3h0m0 5.7h0m0 1.2h0m0 3.5h0m0 1.9h0m0 8.1h0m0 .9h0m0 5.9h0m0 4.8h0m0 3.2h0m.1-44.9h0m0 13.7h0m0 13.3h0m0 6h0m0 10.4h0m0 3.3h0m.1-26.6h0m0 .4h0m0 1.4h0m0 .7h0m0 1.4h0m0 .1h0m.1-9.7h0m0 3.2h0m0 .3h0m0 15.2h0m0 13.6h0m.1-38.8h0m0 9h0m0 2.4h0m0 5.4h0m0 1.7h0m0 .4h0m0 11.4h0m.1-37.7h0m0 3.9h0m0 16h0m0 18.8h0m.1-24.1h0m0 12.4h0m0 0h0m0 11.5h0m.1-10.8h0m0 18.3h0m0 3.5h0m.1-39.4h0m0 .8h0m0 .1h0m0 1.3h0m0 8.2h0m0 10.4h0m0 2.4h0m0 .4h0m0 8.2h0m0 4.4h0m.1-37.7h0m0 2.8h0m0 18.2h0m0 5.5h0m0 1.2h0m0 2.1h0m0 1.7h0m.1-46.5h0m0 14.9h0m0 1.7h0m0 4.7h0m0 14.9h0m.1-31.9h0m0 4.4h0m0 3h0m0 17.2h0m0 6.4h0m0 6.1h0m0 1.2h0m0 1.7h0m.1-24.6h0m0 7.5h0m0 1.3h0m0 14.4h0m0 8.6h0m.1-34.3h0m0 .2h0m0 5.7h0m0 1.4h0m0 2h0m0 14.6h0m.1-20.5h0m0 14h0m0 5.7h0m0 1h0m0 6.2h0m.1-27.5h0m0 4.3h0m0 20.3h0m0 1.2h0m0 3.1h0m0 5.2h0m.1-41.5h0m0 9h0m0 8.8h0m0 3.1h0m0 1.5h0m0 7h0m0 4.2h0m.1-21.8h0m0 1.9h0m0 17.1h0m.1-35.6h0m0 8.4h0m0 .1h0m0 8h0m0 8.1h0m.1-22.5h0m0 .6h0m0 3.4h0m0 .6h0m0 .6h0m0 12.8h0m0 2.8h0m0 8.9h0m.1-29.6h0m0 8.6h0m0 6.2h0m0 8h0m0 1.5h0m0 18.1h0m.1-33.2h0m0 6.5h0m0 8.4h0m0 12.6h0m0 3.5h0m0 .2h0m0 5.5h0m.1-45.3h0m0 27.2h0m0 .5h0m0 10.6h0m0 .3h0m.1-41.3h0m0 17h0m0 .8h0m0 .6h0m0 12.9h0m0 8.8h0m0 8.3h0m.1-41.8h0m0 11.9h0m0 .8h0m0 10.5h0m0 1.7h0m0 17.2h0m.1-43.8h0m0 2.8h0m0 20h0m0 17.3h0m.1-45.2h0m0 14.1h0m0 8.3h0m0 .9h0m0 2.3h0m.1-20.2h0m0 9h0m0 10.5h0m0 12h0m.1-32.9h0m0 8.5h0m0 2.7h0m0 6.9h0m0 10.9h0m0 3.9h0m0 4h0m0 6.2h0m.1-49h0m0 2.1h0m0 5h0m0 6.8h0m0 .3h0m0 15.6h0m0 17.1h0m.1-39.2h0m0 1.1h0m0 22h0m0 .3h0m0 5h0m0 3.9h0m.1-29.5h0m0 2.6h0m0 10.8h0m0 .2h0m0 21.5h0m.1-13.7h0m0 .1h0m0 15.1h0m.1-45h0m0 4.4h0m0 1.5h0m0 7.6h0m0 15.7h0m0 1.7h0m0 1.5h0m.1-30.8h0m0 18.3h0m0 12.6h0m0 5.5h0m.1-31.2h0m0 6.1h0m0 6.3h0m0 18.8h0m0 1.7h0m0 4.5h0m.1-13.9h0m0 12.6h0m.1-32.6h0m0 9.6h0m0 3.1h0m0 7.3h0m0 10.1h0m0 2.3h0m0 3.1h0m.1-40.7h0m0 6h0m0 2h0m0 7.8h0m0 1h0m.1-16.7h0m0 22.2h0m0 3h0m0 1.8h0m0 6h0m0 .9h0m.1-34.4h0m0 4.8h0m0 3.3h0m0 9.1h0m0 2.8h0m0 8.7h0m0 12.9h0m.1-31.2h0m0 4.4h0m0 5.1h0m0 11.9h0m0 10.1h0m.1-40.7h0m0 9.3h0m0 5.9h0m0 .7h0m0 10.6h0m0 2.6h0m.1-34.3h0m0 6.8h0m0 9.7h0m0 11.4h0m0 2.9h0m0 4.2h0m0 2.8h0m0 5.2h0m0 2.2h0m.1-41.6h0m0 2.8h0m0 7h0m0 9.4h0m0 4.2h0m0 13.8h0m0 .6h0m0 1.3h0m0 5.7h0m.1-50.2h0m0 8.4h0m0 17h0m0 9.8h0m0 3.2h0m0 2h0m0 2.1h0m.1-21.7h0m0 16h0m0 7h0m.1-35.5h0m0 1.1h0m0 1.5h0m0 10h0m0 1.7h0m0 2.3h0m0 5.3h0m0 .4h0m.1-27.8h0m0 3.4h0m0 1.6h0m0 8.7h0m0 2.6h0m0 3.8h0m.1-20.2h0m0 6h0m0 1.3h0m0 13.4h0m0 23.7h0m.1-36.8h0m0 10.6h0m0 28.9h0m.1-46.5h0m0 12.3h0m0 6.3h0m0 .2h0m0 10.7h0m0 5.3h0m0 7.3h0m.1-44.2h0m0 7.3h0m0 12.7h0m0 7.5h0m0 1.8h0m0 2.4h0m0 10.2h0m.1-37.3h0m0 5.5h0m0 29.3h0m0 2.5h0m.1-38.4h0m0 12.8h0m0 1.7h0m0 7.4h0m0 11.4h0m0 1.6h0m.1-34h0m0 4h0m0 .5h0m0 5.7h0m0 3h0m0 12.7h0m0 2h0m0 11h0m.1-30.4h0m0 1.9h0m0 8.3h0m0 1.7h0m.1-19.9h0m0 5.8h0m0 2.6h0m0 4.9h0m0 1.6h0m0 13.3h0m0 2.3h0m0 4.2h0m0 7.5h0m0 .3h0m.1-46.8h0m0 6.1h0m0 1.8h0m0 10.4h0m0 18.4h0m.1-33.6h0m0 15.8h0m0 1.8h0m0 3.2h0m0 1.9h0m0 7.8h0m0 6.8h0m.1-38.5h0m0 1.5h0m0 4.8h0m0 4.9h0m0 12.6h0m0 25h0m.1-50.9h0m0 14.5h0m0 1h0m0 1h0m0 4.7h0m0 6h0m0 9.2h0m0 .7h0m0 1.5h0m.1-36.2h0m0 11.4h0m0 10.4h0m0 20.8h0m.1-43.6h0m0 .1h0m0 12.5h0m0 10.6h0m0 4h0m0 2.1h0m0 8.9h0m.1-39.8h0m0 10h0m0 12.5h0m0 2.3h0m0 17.5h0m.1-27.1h0m0 4.8h0m0 1.2h0m0 9.4h0m.1-29.8h0m0 28h0m0 13.3h0m0 .7h0m.1-27.7h0m0 16.1h0m0 1.2h0m.1-17.5h0m0 1.1h0m0 1.1h0m0 4.5h0m0 .8h0m0 .4h0m.1-20.9h0m0 1.1h0m0 25.1h0m0 1.7h0m0 7.3h0m0 5.7h0m0 4.8h0m.1-45h0m0 8.6h0m0 2.1h0m0 .8h0m0 7.4h0m0 2.8h0m0 2.4h0m0 3.4h0m0 4.1h0m0 3.5h0m.1-31.2h0m0 7.1h0m0 .7h0m0 10h0m0 2.4h0m0 2.5h0m0 3.7h0m0 2h0m.1-5.4h0m0 .4h0m0 .8h0m0 7.2h0m.1-27.3h0m0 4.5h0m0 6.6h0m0 .4h0m0 11.4h0m.1-26.3h0m0 .9h0m0 3.4h0m0 2.9h0m0 2.2h0m0 4.6h0m0 .7h0m0 3.3h0m0 19.6h0m.1-50.1h0m0 13.7h0m0 4.5h0m0 1.8h0m0 1.7h0m0 7.5h0m0 8.5h0m0 5.8h0m0 2.6h0m.1-43h0m0 1.5h0m0 3.7h0m0 2h0m0 .7h0m0 15h0m0 .9h0m0 24.1h0m.1-33.1h0m0 5.7h0m0 6.6h0m0 11.3h0m0 4.4h0m0 1.3h0m0 3.1h0m0 1.6h0m.1-44.2h0m0 4.3h0m0 5.8h0m0 .7h0m0 .9h0m0 3.2h0m0 1.6h0m0 4.4h0m0 12.7h0m.1-29.5h0m0 7.6h0m0 13.7h0m.1 1.1h0m0 .6h0m0 10.5h0m.1-41.8h0m0 12.5h0m0 1.4h0m0 1.5h0m0 4.3h0m0 3.7h0m0 15.9h0m0 .8h0m0 .2h0m0 0h0m0 10.5h0m.1-41h0m0 5.1h0m0 15.4h0m0 .3h0m0 14.2h0m.1-44.5h0m0 9.3h0m0 2h0m.1-12.1h0m0 17.8h0m.1-12h0m0 9.3h0m0 7.2h0m0 7.1h0m0 5h0m0 2.1h0m0 6h0m0 1.2h0m0 4.8h0m.1-48.5h0m0 4.7h0m0 16.9h0m0 2.6h0m0 7.3h0m0 .7h0m0 .8h0m0 .1h0m0 6.1h0m0 4.7h0m0 3.3h0m.1-45.1h0m0 4.3h0m0 24.6h0m0 .5h0m0 2.5h0m0 2.9h0m.1-35.5h0m0 9.3h0m0 17.5h0m0 6.9h0m0 2.8h0m0 .2h0m0 3.1h0m0 6.1h0m.1-40.9h0m0 5.4h0m0 7.7h0m0 4.5h0m0 1.5h0m0 12.9h0m.1-27.5h0m0 2.6h0m0 17.7h0m0 .8h0m.1-33.4h0m0 10.9h0m0 17.5h0m0 .7h0m0 .5h0m0 23h0m.1-46.8h0m0 1h0m0 7.8h0m0 6.5h0m0 11.8h0m0 11.1h0m.1-32.8h0m0 8.5h0m0 20.2h0m0 4.4h0m.1-40h0m0 2.5h0m0 8.5h0m0 2.6h0m0 10.4h0m.1-12.9h0m0 11.3h0m0 10.9h0m0 2.8h0m.1-30.4h0m0 1.9h0m0 2.2h0m0 6.6h0m0 8.7h0m0 22.2h0m.1-49.2h0m0 11.9h0m0 23.4h0m0 .8h0m0 1.4h0m0 .4h0m0 0h0m.1-30h0m0 5.6h0m0 1.2h0m0 6.8h0m0 6.7h0m0 6.1h0m0 4.5h0m0 .3h0m0 .1h0m.1-25.5h0m0 3.6h0m.1-16.7h0m0 4.8h0m0 11.2h0m0 2.5h0m0 4.4h0m0 3.8h0m0 .2h0m0 9.7h0m0 5.4h0m.1-28h0m0 1.8h0m0 .7h0m0 4.9h0m0 2.4h0m0 1.5h0m0 3.3h0m0 1.6h0m.1-32.4h0m0 14.7h0m0 7.9h0m0 3.6h0m0 9h0m0 6.4h0m.1-36.3h0m0 15.4h0m0 1.1h0m0 6h0m0 4.3h0m0 3.8h0m0 4.4h0m0 2.9h0m0 15.8h0m.1-57.8h0m0 3.6h0m0 3h0m0 26.7h0m0 1.4h0m0 .3h0m0 .2h0m.1-31.6h0m0 1.2h0m0 5.1h0m0 11.7h0m0 1.7h0m0 9.4h0m.1-25.6h0m0 9.6h0m0 .1h0m0 2.8h0m0 14.4h0m.1-27.4h0m0 2.9h0m0 13.5h0m0 11.2h0m.1-33.4h0m0 19.6h0m0 5.8h0m0 .9h0m0 .4h0m0 6h0m0 10.8h0m.1-51.3h0m0 14.3h0m0 1.5h0m0 3.2h0m0 3h0m0 7.2h0m.1-11.6h0m0 .4h0m0 47.4h0m.1-55.6h0m0 2.9h0m0 11.1h0m0 2.6h0m0 15.8h0m0 .6h0m0 12h0m.1-34.8h0m0 9.4h0m0 6.2h0m0 6.3h0m0 .3h0m0 8.4h0m.1-42.4h0m0 9.1h0m0 1.9h0m0 2.7h0m0 7.4h0m.1-10.2h0m0 2.7h0m0 4.9h0m0 3.5h0m0 2.9h0m0 3.2h0m.1-33.7h0m0 22.8h0m0 2.1h0m0 3.5h0m0 4.8h0m0 15.3h0m.1-29.7h0m0 9h0m0 13.3h0m0 2.9h0m.1-26.2h0m0 2.6h0m0 5.1h0m0 3.3h0m0 .4h0m0 19.2h0m.1-36.7h0m0 13.4h0m0 2h0m0 2.3h0m0 1.3h0m0 9.9h0m0 2.6h0m0 3.7h0m.1-36.3h0m0 5.9h0m0 4.5h0m0 8.2h0m0 1.1h0m0 4.4h0m0 .1h0m0 2.5h0m.1-24.7h0m0 .8h0m0 6.9h0m0 5.4h0m0 4.8h0m0 10h0m0 8.9h0m0 2.6h0m0 .2h0m.1-54.5h0m0 22.7h0m0 .3h0m0 9.6h0m0 .1h0m0 6.6h0m0 14.1h0m.1-46.3h0m0 19.3h0m0 22.1h0m.1-36.2h0m0 4.3h0m0 16.6h0m0 .2h0m0 12.8h0m0 5.6h0m.1-37.6h0m0 7.2h0m0 7.3h0m0 3.8h0m0 4.4h0m0 2.9h0m0 .6h0m.1-14.8h0m0 1.2h0m0 4.7h0m0 15h0m0 3.6h0m.1-24.1h0m0 9.2h0m0 1.2h0m0 10h0m.1-35.9h0m0 8.7h0m0 16.4h0m0 2.3h0m0 7.4h0m0 .7h0m0 1.5h0m.1-36.6h0m0 1.3h0m0 .2h0m0 1.2h0m0 9.8h0m0 20.3h0m.1-14.4h0m0 1h0m0 3.2h0m0 .8h0m0 3.1h0m0 1.6h0m0 7.8h0m.1-25h0m0 .3h0m0 23.1h0m0 1.7h0m0 5.7h0m.1-26.8h0m0 3.2h0m0 2h0m0 18.1h0m.1-37.9h0m0 .4h0m0 24.5h0m0 2h0m0 10.8h0m.1-12.1h0m0 .4h0m0 5.2h0m0 .9h0m.1-25h0m0 21h0m0 4.4h0m0 3.2h0m0 1.5h0m.1-41.7h0m0 7h0m0 6.4h0m0 13.9h0m0 4h0m0 .4h0m.1-28.4h0m0 1h0m0 1.7h0m0 4.8h0m0 7.8h0m0 21.6h0m0 3.4h0m.1-28.7h0m0 17.1h0m0 .4h0m0 5.4h0m.1-31h0m0 20.1h0m0 3.4h0m0 2.7h0m0 .2h0m0 3.1h0m0 4.9h0m0 .4h0m0 9h0m0 3h0m.1-50.4h0m0 4.1h0m0 11.8h0m0 7.4h0m0 16.8h0m0 9.6h0m0 .7h0m.1-41.9h0m0 23.1h0m0 .2h0m0 1.1h0m0 3.6h0m0 2.9h0m.1-28.6h0m0 12.1h0m0 .5h0m0 1.4h0m0 .7h0m0 24.8h0m.1-38.1h0m0 1.4h0m0 1h0m0 15.5h0m0 6.3h0m0 1.4h0m0 3.4h0m0 .7h0m0 .1h0m.1-44h0m0 3.8h0m0 3.6h0m.1-8.4h0m0 .2h0m0 11h0m0 22.7h0m0 4.8h0m0 9.7h0m.1-52.7h0m0 9.5h0m0 19.3h0m0 10.7h0m0 6.9h0m.1-40.5h0m0 1h0m0 9.8h0m0 11.7h0m0 4.9h0m0 7.4h0m0 16.3h0m.1-53.2h0m0 24.1h0m0 3.4h0m0 3.5h0m0 2.2h0m0 1.2h0m0 2.7h0m0 2.4h0m0 7h0m.1-41h0m0 8h0m0 9.5h0m0 3h0m0 18h0m.1-46.9h0m0 6h0m0 .7h0m0 9.9h0m0 3.2h0m0 1.2h0m0 2.9h0m0 9h0m0 9.3h0m0 3.2h0m0 2.3h0m.1-40.6h0m0 12h0m0 3.1h0m0 13.8h0m0 .4h0m0 9.1h0m0 2.1h0m.1-37.1h0m0 5.2h0m0 3.7h0m0 4.5h0m0 6.7h0m0 1.7h0m0 9.9h0m0 8.4h0m.1-41h0m0 2.2h0m0 22.2h0m0 6.6h0m0 8.9h0m0 11.6h0m.1-58.8h0m0 2.2h0m0 11.3h0m0 .6h0m0 6.4h0m0 2.1h0m0 7.7h0m0 3.7h0m0 6.8h0m0 7.3h0m.1-48.1h0m0 5.8h0m0 2.1h0m0 5.3h0m0 17.1h0m0 9.9h0m.1-39.3h0m0 18.8h0m0 7.3h0m0 4.4h0m0 10h0m0 2.2h0m0 7.6h0m.1-42.1h0m0 19.4h0m0 3.9h0m0 2.7h0m0 12.2h0m.1-3.1h0m0 1.6h0m.1-43.6h0m0 5.9h0m0 1.2h0m0 0h0m0 6.9h0m0 4.4h0m0 3.7h0m0 7.3h0m0 15.4h0m.1-33.7h0m0 11.5h0m0 2h0m0 4.4h0m0 1.5h0m.1-30.5h0m0 4.4h0m0 .2h0m0 2.3h0m0 22.3h0m0 .1h0m0 .3h0m0 .1h0m0 3.8h0m0 12.2h0m.1-44.5h0m0 4.9h0m0 7.7h0m0 6h0m0 9.3h0m0 .3h0m0 1.3h0m0 2.1h0m0 7.6h0m0 4.8h0m.1-35.9h0m0 8.4h0m0 7.8h0m0 2.9h0m0 2.1h0m.1-27h0m0 .8h0m0 1.1h0m0 8.1h0m0 6.4h0m0 19h0m.1-34.6h0m0 6.2h0m0 12.5h0m0 3.9h0m0 .5h0m0 .3h0m0 15.6h0m0 2.1h0m.1-48h0m0 7.7h0m0 2h0m0 11h0m0 8.3h0m0 6.6h0m0 .5h0m0 5h0m0 1.2h0m.1-41.7h0m0 22.7h0m0 22.5h0m0 .2h0m.1-38.2h0m0 19h0m0 17.7h0m.1-33.1h0m0 .5h0m0 8.3h0m0 3h0m0 24.5h0m0 3h0m.1-46.4h0m0 6.7h0m0 9.6h0m0 7.3h0m0 13.1h0m.1-42.4h0m0 7.7h0m0 3.1h0m0 2.6h0m0 2.9h0m0 10.5h0m0 0h0m0 11.8h0m0 2.1h0m0 10.3h0m.1-34.9h0m0 .1h0m0 3.1h0m0 4.9h0m0 3.1h0m0 2.2h0m0 10.8h0m0 1.3h0m0 1.6h0m0 3.3h0m.1-42.8h0m0 .5h0m0 1.1h0m0 7.9h0m0 0h0m0 5.7h0m0 13.3h0m0 1.6h0m0 5.8h0m.1-28.9h0m0 12.6h0m0 2.1h0m0 .4h0m0 6.6h0m0 .4h0m.1-22.7h0m0 9.5h0m0 5.1h0m0 5.4h0m0 2.5h0m0 1.5h0m0 3.1h0m.1-36.8h0m0 6.9h0m0 3.5h0m0 .9h0m0 2h0m0 .5h0m0 .1h0m0 7.7h0m0 3.6h0m0 2.3h0m0 10.9h0m0 .9h0m0 15.3h0m.1-59.3h0m0 10.6h0m0 10.1h0m0 1.3h0m0 3.3h0m0 7.2h0m0 10.2h0m0 21.2h0m.1-50.9h0m0 7h0m0 3.1h0m0 4.9h0m0 10.2h0m0 .7h0m0 4.2h0m0 4.8h0m.1-37.6h0m0 17h0m0 6h0m0 14.5h0m0 .8h0m0 14.5h0m.1-22.2h0m0 2.4h0m0 4h0m0 16.2h0m.1-49.3h0m0 11.2h0m0 10.5h0m0 5.4h0m0 5.9h0m.1-29.2h0m0 .8h0m0 3.1h0m0 11.6h0m0 6h0m0 2.4h0m0 9.7h0m.1-31.8h0m0 1.2h0m0 13.4h0m0 3.8h0m0 3.4h0m0 1.3h0m0 10.4h0m.1-42.6h0m0 22.3h0m0 15.5h0m0 2.5h0m.1-37h0m0 16.1h0m0 4.3h0m0 10.9h0m0 1.9h0m.1-26.9h0m0 .9h0m0 4.1h0m0 3.5h0m0 16.7h0m0 7.9h0m.1-37.2h0m0 17.2h0m0 1.4h0m0 3.6h0m0 3.7h0m0 6.6h0m0 .7h0m0 3.1h0m0 2.3h0m0 5.6h0m.1-53.9h0m0 15.6h0m0 1.3h0m0 9.3h0m0 2.9h0m0 2.6h0m0 6.5h0m0 2.3h0m.1-21.1h0m0 1.5h0m0 1.4h0m0 .5h0m0 1.3h0m0 14.9h0m0 .1h0m.1-32.4h0m0 20.8h0m0 6.6h0m0 6.6h0m.1-44.5h0m0 10h0m0 5h0m0 1h0m0 1.3h0m0 15.9h0m0 1.3h0m0 1.8h0m0 7h0m0 5.7h0m0 1h0m.1-40.2h0m0 10.1h0m0 13h0m0 5.5h0m0 8.6h0m.1-37.8h0m0 6.5h0m0 6.5h0m0 16h0m0 .5h0m.1-15.5h0m0 4.2h0m0 3.9h0m0 8.2h0m0 3.9h0m0 1.3h0m.1-45.3h0m0 5.3h0m0 36.4h0m0 1.6h0m0 1.3h0m0 1.4h0m.1-33.4h0m0 8.2h0m0 11.4h0m0 .5h0m0 9.5h0m0 4.5h0m0 1.5h0m.1-36.3h0m0 2.4h0m0 5.9h0m0 8.8h0m0 5.2h0m0 1.1h0m0 6.3h0m.1-33.4h0m0 .1h0m0 10.8h0m0 1.2h0m0 1.3h0m0 3.4h0m0 21.2h0m0 .9h0m0 1.9h0m.1-43.9h0m0 1.6h0m0 4h0m0 7.9h0m0 14.6h0m.1-28.6h0m0 6.1h0m0 7.3h0m0 25.7h0m.1-32.2h0m0 8.4h0m0 20.6h0m0 8h0m0 6.5h0m.1-34.9h0m0 5.1h0m0 29h0m.1-49.8h0m0 3.7h0m0 2.7h0m0 3h0m0 13.7h0m0 2.7h0m0 .8h0m0 1.4h0m0 6.5h0m0 4.6h0m0 1h0m0 5.4h0m0 1.4h0m.1-36.8h0m0 7.9h0m0 5.8h0m0 10.1h0m0 2.2h0m0 1.9h0m.1-29.7h0m0 13.5h0m0 5.9h0m0 3.9h0m0 .6h0m0 6.7h0m0 3.5h0m0 3.6h0m.1-42.6h0m0 6.5h0m0 15.1h0m0 1.9h0m0 1.7h0m0 12.7h0m0 2.5h0m.1-35.8h0m0 3.7h0m0 7.5h0m0 2.4h0m0 .5h0m0 5.3h0m0 6.8h0m0 5.8h0m.1-36.2h0m0 1.8h0m0 3.7h0m0 4.2h0m0 4.8h0m0 .4h0m0 22.3h0m.1-35.5h0m0 11.2h0m0 9.3h0m0 1.4h0m0 7.7h0m0 11.6h0m.1-34h0m0 1.3h0m0 6.5h0m0 3.9h0m0 11.8h0m0 6.4h0m0 .3h0m0 4.2h0m.1-41.1h0m0 8h0m0 7.5h0m0 11.1h0m0 7.4h0m.1-42.3h0m0 6.7h0m0 3.1h0m0 20.4h0m0 8.1h0m0 .8h0m0 3.8h0m0 4.4h0m0 5.1h0m.1-26.4h0m0 11.7h0m0 3.9h0m0 7.1h0m0 3.6h0m.1-51.7h0m0 2.7h0m0 2.8h0m0 13.2h0m0 8.9h0m0 5.6h0m0 6h0m0 1h0m.1-37.9h0m0 4.5h0m0 4.3h0m0 2.6h0m0 8.9h0m0 3.3h0m0 .6h0m0 7.7h0m0 13.2h0m.1-45h0m0 2.8h0m0 1.5h0m0 20.3h0m0 9.7h0m.1-41.6h0m0 12.8h0m0 4.3h0m0 2h0m0 20.9h0m0 6h0m.1-32.1h0m0 1.6h0m0 16.9h0m0 8.8h0m0 8.4h0m0 5.3h0m.1-45.4h0m0 3.2h0m0 11.9h0m0 8h0m0 5.3h0m.1-.7h0m0 2.2h0m0 13.7h0m.1-40.6h0m0 6.2h0m0 7.8h0m0 .2h0m0 2.4h0m0 3.8h0m0 1.4h0m0 5h0m0 9.3h0m0 2.8h0m.1-37.5h0m0 2.3h0m0 3.2h0m0 .9h0m0 24.9h0m0 .7h0m0 3.2h0m.1-31.6h0m0 .1h0m0 1.9h0m0 2.9h0m0 3.8h0m0 .8h0m0 .7h0m0 2.4h0m0 .7h0m0 21.3h0m0 4.4h0m.1-38.6h0m0 7.3h0m0 .5h0m0 10.6h0m0 7.9h0m0 10.9h0m0 9.4h0m0 1.4h0m.1-60.3h0m0 11.6h0m0 32.1h0m.1-52.1h0m0 11.7h0m0 6.1h0m0 4.6h0m0 5h0m0 11.7h0m0 17.1h0m0 6.7h0m.1-45.4h0m0 20.8h0m0 1.7h0m0 .9h0m0 3.7h0m0 1.5h0m0 5.4h0m0 5h0m0 5.3h0m.1-40.1h0m0 1.9h0m0 7.6h0m0 3.7h0m.1-17h0m0 2.7h0m0 8.9h0m0 7.8h0m0 3.7h0m.1-4h0m0 4.7h0m0 2.7h0m.1-29.7h0m0 .9h0m0 1.3h0m0 6.5h0m0 7h0m0 4.8h0m0 4.4h0m0 .5h0m0 9.3h0m.1-39.3h0m0 .8h0m0 12.8h0m0 8.6h0m0 14.3h0m0 .7h0m.1-34.3h0m0 2.1h0m0 7.4h0m0 3.1h0m0 4.9h0m0 .4h0m0 1.4h0m0 23.7h0m.1-26.5h0m.1-11.3h0m0 6.7h0m0 5.7h0m0 7.2h0m0 13.1h0m0 2.6h0m0 15.4h0m0 1.4h0m.1-52.2h0m0 .2h0m0 3.2h0m0 13.9h0m0 5.4h0m0 10h0m0 4.4h0m.1-23h0m0 12.3h0m0 6.6h0m0 9.3h0m.1-44.7h0m0 8.3h0m0 17.5h0m0 8.4h0m0 .7h0m0 9.1h0m.1-37.5h0m0 8.5h0m0 10.3h0m0 17.1h0m.1-43.9h0m0 12.7h0m0 2.1h0m0 .9h0m0 2h0m0 13.5h0m0 .1h0m0 4.4h0m0 5.5h0m.1-40.3h0m0 2.1h0m0 4h0m0 17.6h0m0 18.9h0m.1-34.6h0m0 6h0m0 1.8h0m0 7.2h0m0 1.4h0m0 21.7h0m0 .3h0m0 2.4h0m.1-46.4h0m0 4.1h0m0 15.9h0m0 12.5h0m0 3.2h0m0 5h0m.1-40.9h0m0 10.9h0m0 8.6h0m0 6.9h0m0 16h0m.1-49.6h0m0 17.8h0m0 3.8h0m0 9.2h0m0 1.5h0m0 3.4h0m0 .6h0m0 .5h0m0 4.7h0m.1-33.6h0m0 6.6h0m0 8.2h0m0 8.5h0m0 5.1h0m0 9.1h0m.1-44.7h0m0 14.8h0m0 12.2h0m0 13h0m0 1.1h0m0 2h0m0 .3h0m.1-36h0m0 5.7h0m0 6.7h0m0 9.9h0m0 5.9h0m.1-20.4h0m0 2.5h0m0 2.5h0m0 11.1h0m0 2.5h0m0 3.4h0m0 1.5h0m0 1.1h0m0 5.6h0m0 1.2h0m0 6.1h0m.1-56h0m0 15h0m0 5h0m0 21.1h0m0 2.1h0m.1-32h0m0 .2h0m0 3.5h0m0 1.9h0m0 8.6h0m0 8.7h0m0 0h0m0 5.1h0m0 9.4h0m.1-46.2h0m0 27.9h0m0 9.3h0m0 .9h0m.1-14.3h0m0 4.6h0m0 11.2h0m0 7h0m0 3.3h0m0 3.9h0m.1-46.2h0m0 1.9h0m0 4.5h0m0 .7h0m0 12.6h0m0 6.2h0m0 12.4h0m0 .1h0m0 1.1h0m.1-35.5h0m0 2.7h0m0 21.6h0m0 2.6h0m0 4.5h0m0 2.4h0m.1-29.5h0m0 16.5h0m0 3.6h0m0 .5h0m0 2.1h0m0 6.4h0m0 .6h0m0 .1h0m.1-39.8h0m0 3.7h0m0 2.1h0m0 5.5h0m0 1.7h0m0 21.5h0m0 2.4h0m0 5.6h0m.1-60.5h0m0 22.7h0m0 32.1h0m0 3.7h0m.1-39.8h0m0 6.4h0m0 4.5h0m0 25.7h0m0 2.1h0m0 10h0m.1-37.3h0m0 13.7h0m0 7.8h0m0 10.1h0m0 .3h0m.1-47.9h0m0 3.2h0m0 3.4h0m0 1.4h0m0 22h0m0 6.9h0m0 5.9h0m.1-36.5h0m0 8.3h0m0 .2h0m0 5.7h0m0 5.3h0m0 11.9h0m0 5h0m.1-45.6h0m0 7.6h0m0 11.8h0m0 2.3h0m0 1.4h0m0 10.5h0m.1-25.3h0m0 3h0m0 24h0m0 8.3h0m0 .7h0m.1-44.6h0m0 6.3h0m0 9.4h0m0 .2h0m0 .1h0m0 3.2h0m0 9.8h0m0 .1h0m0 .5h0m0 2.7h0m0 8h0m0 5.8h0m.1-29.3h0m0 10.5h0m0 1.1h0m0 7.1h0m0 5.8h0m.1-31.6h0m0 6.8h0m0 6.6h0m0 8h0m0 5.5h0m0 7.3h0m.1-35.5h0m0 7.3h0m0 15.9h0m0 4.3h0m0 .4h0m0 2.2h0m0 4.9h0m0 9.5h0m.1-47.8h0m0 11.7h0m0 12.4h0m0 20.9h0m.1-51.9h0m0 5.3h0m0 4.8h0m0 12.5h0m0 3.7h0m0 5.7h0m0 1.3h0m0 .7h0m0 .9h0m0 9.9h0m0 2.9h0m0 .4h0m0 3.9h0m.1-42h0m0 1.8h0m0 1.9h0m0 4.2h0m0 4.7h0m0 2h0m0 .8h0m0 4.9h0m0 5.8h0m0 6.9h0m.1-37h0m0 3.5h0m0 4.7h0m0 6.9h0m0 .9h0m0 .9h0m0 1.5h0m0 .6h0m0 4.7h0m0 17.2h0m0 1.4h0m0 7.8h0m.1-46.4h0m0 2.1h0m0 1h0m0 9.3h0m0 7.1h0m0 8.5h0m0 7.1h0m0 .5h0m.1-36.9h0m0 1.3h0m0 3.7h0m0 7.8h0m0 3.5h0m0 11.4h0m0 14.7h0m.1-43.8h0m0 .9h0m0 10.3h0m0 12.5h0m0 18.5h0m.1-41.5h0m0 .8h0m0 .3h0m0 3.2h0m0 9.7h0m0 13.2h0m0 5.6h0m0 4.7h0m0 6.8h0m0 2.5h0m.1-57.3h0m0 11.5h0m0 1.8h0m0 3.1h0m0 2.2h0m0 5.2h0m0 6.2h0m0 8.1h0m0 6.7h0m.1-34h0m0 31.4h0m0 15.3h0m.1-33.7h0m0 5.7h0m0 14.6h0m0 3.2h0m0 1.7h0m.1-28.9h0m0 .7h0m0 1h0m0 8.2h0m0 2.1h0m0 14.1h0m.1-40.1h0m0 7h0m0 7.2h0m0 2.8h0m0 9.6h0m0 4.5h0m0 5.8h0m.1-5h0m0 1.1h0m0 11.8h0m0 3h0m.1-42.2h0m0 1.5h0m0 11.6h0m0 7.3h0m0 2.1h0m0 11.8h0m0 .3h0m.1-41.2h0m0 5h0m0 1.6h0m0 3.2h0m0 1.9h0m0 21.4h0m0 4.5h0m0 2.2h0m0 1.4h0m0 1.7h0m0 1.4h0m.1-41.8h0m0 4.4h0m0 16.1h0m0 3.7h0m0 17.7h0m.1-31.1h0m0 3.5h0m0 4.6h0m0 9h0m0 2h0m0 6.9h0m0 9.5h0m.1-38.2h0m0 1.6h0m0 5.8h0m0 4.3h0m0 1h0m0 9.3h0m0 12.2h0m.1-37.2h0m0 2.8h0m0 26h0m0 1.1h0m0 4.6h0m.1-37.1h0m0 24.4h0m0 14.1h0m0 2.3h0m.1-28.1h0m.1-14.3h0m0 10.1h0m0 6.2h0m0 12.9h0m0 4.2h0m0 .8h0m.1-29.3h0m0 5.4h0m0 2.3h0m0 1.2h0m0 2.1h0m0 1.4h0m0 4.8h0m0 2.4h0m0 2.1h0m0 .8h0m0 22.9h0m.1-53h0m0 10.2h0m0 2.1h0m0 .1h0m0 17h0m0 5h0m.1-32.6h0m0 .7h0m0 .1h0m0 1.1h0m0 3.9h0m0 7.2h0m0 1.7h0m0 7.1h0m0 1.3h0m0 11.1h0m.1-38.2h0m0 2.2h0m0 10.3h0m0 2.1h0m0 9h0m0 7.6h0m0 11.4h0m0 2.6h0m0 7.4h0m.1-48h0m0 4.5h0m0 6.1h0m0 20.8h0m0 6.3h0m0 6.4h0m.1-51h0m0 13.7h0m0 1.4h0m0 2.1h0m0 1.9h0m0 13.4h0m0 6.8h0m0 1.5h0m0 6.9h0m.1-42.4h0m0 8.4h0m0 11.5h0m0 2.9h0m0 1.7h0m.1-25h0m0 10.1h0m0 1h0m0 16.4h0m0 18.7h0m0 .4h0m.1-39.8h0m0 24.1h0m0 .2h0m0 3h0m0 4.6h0m0 7.8h0m.1-40.8h0m0 5h0m0 0h0m0 1.5h0m0 8h0m0 23.3h0m0 2.3h0m0 8.6h0m.1-38.5h0m0 26.1h0m0 2.8h0m.1-36.4h0m0 5.9h0m0 2.9h0m0 7.4h0m0 4.8h0m0 2.7h0m0 10.5h0m.1-40.9h0m0 3.1h0m0 .9h0m0 3.8h0m0 2h0m0 23.5h0m0 9.2h0m.1-25.7h0m0 .1h0m0 .1h0m0 1.7h0m0 1.5h0m0 10.4h0m0 3.5h0m0 4.2h0m0 2.4h0m0 1.4h0m.1-43.7h0m0 8.5h0m0 5.4h0m0 3.5h0m0 3.3h0m0 1.1h0m0 7.8h0m0 2.1h0m.1-11.8h0m0 2.3h0m0 2.4h0m0 5.3h0m0 1.1h0m0 1.7h0m0 11.2h0m0 1.4h0m0 2.6h0m.1-42.8h0m0 13.1h0m0 1.7h0m0 8h0m0 6.3h0m0 4.7h0m0 2.9h0m0 6.5h0m.1-40.2h0m0 9.2h0m0 3.5h0m0 .2h0m0 .9h0m0 14.5h0m0 5.3h0m0 3.6h0m0 8.9h0m.1-54.9h0m0 6h0m0 5.8h0m0 3.6h0m0 2.3h0m0 4.4h0m0 3.3h0m0 .9h0m0 23.1h0m.1-37.6h0m0 3.1h0m0 6.9h0m0 10.5h0m0 14.2h0m0 3.5h0m.1-35.6h0m0 3.2h0m0 9h0m0 3.8h0m0 10.6h0m.1-36.4h0m0 .5h0m0 2h0m0 3.5h0m0 17.8h0m0 6.5h0m.1-32.7h0m0 2.7h0m0 4.5h0m0 17.7h0m0 .1h0m0 1.9h0m0 1.6h0m0 5.3h0m0 5h0m0 3.6h0m0 1.5h0m0 .7h0m.1-42.6h0m0 8.3h0m0 3.1h0m0 1h0m0 1.2h0m0 8.6h0m0 5.3h0m0 7.5h0m0 4h0m.1-37.5h0m0 2.5h0m0 24.1h0m0 2.5h0m0 2.5h0m0 11.9h0m.1-37h0m0 1.8h0m0 4h0m0 .3h0m.1-11.4h0m0 3.8h0m0 13.1h0m0 3.2h0m0 1.5h0m0 14.8h0m.1-39.7h0m0 8.2h0m0 9h0m0 1.1h0m0 1.9h0m0 2.3h0m0 3.3h0m0 2h0m.1-35.9h0m0 17.7h0m0 .5h0m0 5.2h0m0 7.1h0m0 5.7h0m0 7.1h0m0 .7h0m0 5.2h0m0 1.9h0m0 1.9h0m0 5.6h0m.1-53.3h0m0 3.3h0m0 2.9h0m0 7h0m0 9.1h0m0 .3h0m0 8.7h0m0 4.4h0m.1-20.1h0m0 1h0m0 2.9h0m0 10.9h0m0 10.6h0m.1-40.2h0m0 34.3h0m0 0h0m0 2.1h0m0 7.4h0m.1-35.6h0m0 2.1h0m0 5.2h0m0 1.8h0m0 4.7h0m0 5.1h0m0 20.5h0m0 1.4h0m.1-56.3h0m0 10.5h0m0 5.4h0m0 11.3h0m0 1h0m0 11.9h0m0 8.1h0m0 2.5h0m0 5.8h0m.1-42.2h0m0 5.6h0m0 13h0m0 3.7h0m0 5.2h0m0 6.9h0m.1-38.6h0m0 7h0m0 .8h0m0 15h0m0 .7h0m0 8.4h0m0 5.1h0m0 2.2h0m0 1.6h0m.1-43.2h0m0 1.8h0m0 2.2h0m0 2.6h0m0 .5h0m0 3.8h0m0 1.2h0m0 .4h0m0 4.2h0m0 12.3h0m0 11.5h0m.1-37.2h0m0 3.4h0m0 3.5h0m0 11.8h0m0 11.4h0m0 24.2h0m.1-46.2h0m0 .5h0m0 4h0m0 1.7h0m0 17.2h0m0 2.2h0m0 9.9h0m.1-37.6h0m0 12.3h0m0 .8h0m0 0h0m0 1.5h0m0 .7h0m0 18.4h0m0 1h0m.1-46.5h0m0 16.6h0m0 1.1h0m0 9.1h0m0 2.5h0m0 13h0m0 4.7h0m.1-32.2h0m0 11.6h0m0 .8h0m0 5.2h0m0 12.9h0m.1-40h0m0 .4h0m0 14.8h0m0 6.8h0m0 .3h0m0 5.7h0m0 10h0m0 4.5h0m.1-40.9h0m0 2.4h0m0 5.6h0m0 5.9h0m0 .4h0m0 6.5h0m0 1.6h0m0 .4h0m0 3.8h0m0 5.4h0m0 5.1h0m0 .4h0m0 1.2h0m.1-45.1h0m0 2.6h0m0 5.5h0m0 4.4h0m0 9.7h0m0 7.5h0m0 4.5h0m0 3.4h0m0 13.2h0m.1-45.1h0m0 6.3h0m0 6.3h0m0 6.1h0m0 5h0m0 6h0m.1-36.1h0m0 2.7h0m0 13.9h0m0 7.1h0m0 8.9h0m0 19.7h0m.1-38.9h0m0 .8h0m0 2h0m0 7.9h0m0 7.9h0m0 12.7h0m0 2.6h0m0 5.8h0m0 2h0m.1-41.1h0m0 5.7h0m0 .7h0m0 4.2h0m0 13h0m0 1.7h0m0 .7h0m0 0h0m0 5.8h0m0 1.8h0m.1-42.8h0m0 5.2h0m0 3.5h0m0 4.2h0m0 2.2h0m0 8.7h0m0 2h0m0 1.7h0m0 5.2h0m0 8.2h0m0 6h0m.1-49.9h0m0 6.6h0m0 1.5h0m0 1.4h0m0 13.3h0m0 8h0m0 2.2h0m0 4.8h0m0 13.6h0m.1-49.4h0m0 12.3h0m0 10.6h0m0 1.2h0m0 17.5h0m0 1.6h0m.1-41.9h0m0 .8h0m0 26.5h0m0 5.3h0m.1-37.8h0m0 5.1h0m0 5.6h0m0 2.2h0m0 2.9h0m0 2.2h0m0 2h0m0 11h0m0 6.6h0m0 1.9h0m0 .4h0m0 9.9h0m0 .8h0m.1-44.8h0m0 7.2h0m0 5.8h0m0 10.5h0m0 1.1h0m0 2h0m.1-26h0m0 7.4h0m0 3.1h0m0 3.5h0m0 4.6h0m0 26.9h0m.1-42.2h0m0 4.8h0m0 5.4h0m0 8.6h0m0 8h0m0 1.5h0m0 6h0m0 .6h0m.1-40.2h0m0 1.6h0m0 7.8h0m0 3.2h0m0 12.1h0m0 18.3h0m.1-49.4h0m0 7.6h0m0 11.6h0m0 7.3h0m0 2.6h0m0 .4h0m0 10.1h0m0 6h0m.1-11.4h0m0 1.6h0m0 2h0m0 13.1h0m.1-47.2h0m0 3.2h0m0 6.6h0m0 8.3h0m0 6.5h0m0 8.6h0m0 4.8h0m0 .8h0m0 5h0m0 4h0m.1-38.6h0m0 11.2h0m0 3.4h0m0 .9h0m0 15.7h0m0 1.2h0m.1-38.3h0m0 24.1h0m0 0h0m0 4.5h0m0 8.6h0m.1-38.3h0m0 10.1h0m0 27.5h0m0 7.2h0m.1-40.1h0m0 18h0m0 5.3h0m0 8.3h0m0 .7h0m0 .5h0m.1-35.7h0m0 2.2h0m0 9.1h0m0 4.9h0m0 2.5h0m0 2.2h0m0 4.3h0m0 10.8h0m0 1.7h0m0 .8h0m0 7.5h0m.1-36h0m0 21.1h0m0 7.8h0m0 3.5h0m.1-49h0m0 2.9h0m0 8.8h0m0 .3h0m0 4.5h0m0 7.4h0m0 4.2h0m0 3.6h0m0 4h0m0 5h0m0 5.3h0m.1-54h0m0 15.7h0m0 1.2h0m0 24.3h0m0 14.9h0m.1-44.9h0m0 5.3h0m0 .3h0m0 15.6h0m0 5.9h0m0 7h0m0 4h0m0 .8h0m0 5h0m.1-33.8h0m0 1.7h0m0 8.8h0m0 4.6h0m0 .8h0m0 6.3h0m0 .5h0m0 7.9h0m0 1.3h0m.1-33.9h0m0 15.8h0m0 11.2h0m0 12h0m0 .2h0m.1-50h0m0 2.8h0m0 .6h0m0 8.6h0m0 10.3h0m0 13.2h0m0 .4h0m0 5h0m0 5.1h0m0 2.4h0m0 2.1h0m0 3.6h0m.1-48.7h0m0 3.6h0m0 4.4h0m0 9.3h0m0 4.5h0m0 18.1h0m0 4.5h0m0 1.3h0m0 2.5h0m.1-53.9h0m0 9.3h0m0 3.8h0m0 4.4h0m0 3.4h0m0 .1h0m0 5.2h0m0 1.4h0m0 8h0m0 .8h0m0 5.3h0m0 10.8h0m.1-34.7h0m0 17.2h0m0 .8h0m0 6.5h0m0 4.9h0m0 1.1h0m.1-58.9h0m0 14h0m0 3.3h0m0 6.4h0m0 3.9h0m0 13.6h0m0 8.5h0m0 2.1h0m0 6h0m0 1.6h0m0 6.3h0m0 5.8h0m.1-43h0m0 10.8h0m0 4.7h0m0 5h0m.1-38h0m0 3.8h0m0 .6h0m0 1.2h0m0 1.8h0m0 10.2h0m0 .8h0m0 .9h0m0 3.5h0m0 1.3h0m0 10.7h0m0 4h0m0 1.9h0m0 8.4h0m.1-47.7h0m0 8.6h0m0 .5h0m0 2.5h0m0 10.1h0m0 3h0m0 4.9h0m0 .5h0m0 .1h0m0 2.9h0m0 .5h0m0 .5h0m0 1.2h0m0 8.5h0m.1-44.6h0m0 2.2h0m0 1.6h0m0 25.2h0m0 8h0m0 1.3h0m0 3.9h0m.1-38.6h0m0 5.4h0m0 1.6h0m0 3.7h0m0 2.6h0m0 5.4h0m0 1.9h0m0 5.5h0m.1-25.6h0m0 1h0m0 1.7h0m0 37.1h0m0 9.8h0m.1-43.8h0m0 6.5h0m0 9.2h0m0 .4h0m0 2h0m0 1.1h0m0 5.3h0m0 10.4h0m0 8.7h0m.1-45.8h0m0 14.2h0m0 11h0m0 8.1h0m0 4.6h0m0 3.4h0m.1-42.9h0m0 18.1h0m0 1.3h0m0 .8h0m0 5.6h0m0 5.4h0m0 2.3h0m0 5.9h0m.1-47.7h0m0 2.1h0m0 1.7h0m0 5.9h0m0 16.5h0m0 2.9h0m0 8.7h0m0 17.6h0m.1-42.6h0m0 5.5h0m0 14.7h0m0 .7h0m0 4.5h0m0 7.5h0m.1-36.3h0m0 4.2h0m0 2h0m0 12.5h0m0 .7h0m0 10.9h0m0 2.4h0m0 1.6h0m.1-37.2h0m0 19h0m0 2.5h0m0 2.1h0m0 16.9h0m0 .5h0m.1-44.2h0m0 8.9h0m0 15.6h0m0 1.9h0m0 4h0m0 3.4h0m0 .9h0m0 4.3h0m0 6h0m.1-38.3h0m0 16.9h0m0 3.8h0m0 1.1h0m0 5.4h0m0 4.7h0m0 9.5h0m.1-36h0m0 12.2h0m0 10.7h0m0 5.7h0m0 1.6h0m.1-34.9h0m0 4.5h0m0 5h0m0 7.1h0m0 0h0m0 11.4h0m0 7.8h0m0 1.4h0m.1-41.7h0m0 2.3h0m0 3.9h0m0 1.5h0m0 5.7h0m0 1.1h0m0 21.4h0m0 2.1h0m0 1.4h0m0 3.9h0m0 .5h0m.1-59.6h0m0 22.7h0m0 2.1h0m0 1.8h0m0 1.7h0m0 5.7h0m0 2h0m0 9.2h0m0 1.3h0m0 5.4h0m0 13.5h0m.1-42.5h0m0 8.8h0m0 7.6h0m0 12.2h0m0 2.2h0m0 8h0m.1-53h0m0 7h0m0 39.3h0m0 7.6h0m.1-35.9h0m0 2.9h0m0 2.3h0m0 15.5h0m0 1.8h0m0 2.7h0m.1-20.8h0m0 .3h0m0 11.1h0m0 7.6h0m0 7.5h0m0 .6h0m0 3h0m.1-43.7h0m0 .9h0m0 9h0m0 2.2h0m0 .7h0m0 2.8h0m0 3h0m0 3.7h0m0 35.3h0m.1-63.4h0m0 .6h0m0 2.2h0m0 1.1h0m0 .6h0m0 12.7h0m0 .9h0m0 2.7h0m0 3.5h0m0 3.4h0m0 5.6h0m0 15h0m0 1.1h0m0 4.4h0m.1-34.1h0m0 9.7h0m0 4.2h0m0 3.5h0m0 8h0m0 .2h0m.1-40.5h0m0 2.6h0m0 9.3h0m0 11.7h0m0 0h0m0 6.1h0m0 1.6h0m0 3.2h0m0 3.6h0m0 3.9h0m.1-31.4h0m0 3.8h0m0 .2h0m0 .6h0m0 2.7h0m0 2.6h0m0 .3h0m0 6.9h0m0 4h0m0 2.6h0m0 6.3h0m.1-45.7h0m0 10h0m0 1.1h0m0 4.2h0m0 14.8h0m0 2.6h0m0 4.9h0m0 .8h0m0 4.3h0m0 7.1h0m.1-45.4h0m0 .8h0m0 4.8h0m0 4.7h0m0 19.5h0m0 .5h0m0 .7h0m0 4h0m0 3.8h0m0 1.8h0m.1-42.8h0m0 21.4h0m0 5.7h0m0 .3h0m0 5.7h0m0 1.9h0m0 5.4h0m0 1.2h0m0 2.1h0m0 2h0m.1-44.8h0m0 1.8h0m0 1.5h0m0 7.6h0m0 7h0m0 7.5h0m0 10.1h0m0 3.5h0m0 5.5h0m.1-46.5h0m0 5.3h0m0 15.1h0m0 1.3h0m0 .4h0m0 6.1h0m0 3.1h0m0 .1h0m0 3.7h0m0 2.5h0m0 5.1h0m0 .5h0m0 1.7h0m0 2.3h0m.1-42.4h0m0 .7h0m0 5.4h0m0 4.9h0m0 3.1h0m0 2.4h0m0 13.6h0m0 .6h0m0 2h0m0 1h0m0 1.1h0m0 16h0m.1-51.5h0m0 9.8h0m0 11.7h0m0 5.6h0m0 4h0m0 2.7h0m0 1h0m.1-40.1h0m0 9.5h0m0 2.4h0m0 6.9h0m0 1.2h0m0 4.4h0m0 .1h0m0 25.4h0m0 1h0m.1-47.3h0m0 1h0m0 2.9h0m0 1.7h0m0 5.9h0m0 11.8h0m0 3.6h0m0 2.1h0m0 .3h0m0 2h0m0 1.8h0m0 2.6h0m0 .7h0m0 10.2h0m.1-38.7h0m0 3.5h0m0 1.8h0m0 12.2h0m0 2.9h0m0 9.5h0m0 .2h0m0 8.7h0m.1-37.8h0m0 4.1h0m0 .9h0m0 4.8h0m0 2.9h0m0 .1h0m0 .3h0m0 11.4h0m0 17.7h0m.1-63.7h0m0 18.6h0m0 6.9h0m0 15.9h0m0 1.7h0m0 .1h0m0 .8h0m0 7.8h0m0 3.3h0m0 .2h0m0 .1h0m0 5.6h0m.1-45.9h0m0 11.4h0m0 7.1h0m0 3.8h0m0 3.6h0m0 2.5h0m0 2.2h0m0 .7h0m0 10.5h0m0 2.2h0m.1-37.6h0m0 1.3h0m0 .9h0m0 1.7h0m0 6.3h0m0 3.4h0m0 4.1h0m0 15.8h0m0 2h0m0 1.2h0m0 1.2h0m.1-38.7h0m0 1.7h0m0 2.2h0m0 1.5h0m0 4.9h0m0 11.4h0m0 1.4h0m0 1.1h0m0 1.7h0m0 11.7h0m.1-47.1h0m0 7.8h0m0 6.1h0m0 .8h0m0 .1h0m0 9h0m0 12.2h0m0 2.3h0m0 7.5h0m.1-45.7h0m0 11.6h0m0 2.7h0m0 3.4h0m0 4.9h0m0 3.1h0m0 2.5h0m0 .5h0m0 2.3h0m0 15.6h0m0 .2h0m0 6.4h0m.1-41.6h0m0 8.7h0m0 3.6h0m0 2.2h0m0 11.6h0m0 5.2h0m.1-37h0m0 5.7h0m0 15h0m0 3.5h0m.1-7h0m0 3.9h0m0 6.8h0m0 .8h0m0 4.2h0m0 16.3h0m.1-39.6h0m0 3h0m0 9h0m0 2.2h0m0 4.5h0m0 2.9h0m0 5.6h0m0 1.9h0m0 2.9h0m.1-43.2h0m0 23.7h0m0 6.5h0m0 1.2h0m0 3h0m0 6.9h0m.1-47.6h0m0 8.9h0m0 .6h0m0 11.3h0m0 7.6h0m0 .7h0m0 6h0m0 .6h0m0 6.8h0m0 6.4h0m.1-20h0m0 .2h0m0 1.8h0m0 12.8h0m0 .7h0m.1-44.2h0m0 5h0m0 15h0m0 9.5h0m0 3.6h0m0 6.5h0m0 2.1h0m0 .1h0m0 4.2h0m.1-44.8h0m0 .6h0m0 4.6h0m0 4.1h0m0 10.3h0m0 0h0m0 18.3h0m.1-33.3h0m0 5.4h0m0 1.2h0m0 2h0m0 1.7h0m0 1h0m0 .9h0m0 4.9h0m0 5.1h0m0 1.9h0m0 9.5h0m0 17.3h0m.1-53.5h0m0 .7h0m0 15.8h0m0 15.1h0m0 14.3h0m.1-43.6h0m0 3.7h0m0 2.1h0m0 1.2h0m0 3.6h0m0 3.7h0m0 .8h0m0 .5h0m0 6.2h0m0 7.3h0m0 .4h0m0 10.4h0m.1-41.5h0m0 10.5h0m0 1.2h0m0 1.1h0m0 2.1h0m0 12.8h0m0 .5h0m0 5.2h0m0 .4h0m0 1.5h0m0 5.6h0m0 .1h0m0 1.2h0m0 0h0m0 7.6h0m.1-53.7h0m0 3.2h0m0 3.3h0m0 6.8h0m0 8.1h0m0 8.2h0m0 15h0m0 4.5h0m.1-50.8h0m0 4.2h0m0 11.4h0m0 .8h0m0 3.4h0m0 1.5h0m0 1h0m0 11.4h0m0 1.2h0m0 0h0m0 4.1h0m0 11.1h0m.1-41.6h0m0 .9h0m0 7.5h0m0 1.7h0m0 11.2h0m0 4h0m0 3.3h0m0 1.5h0m0 15.5h0m.1-51h0m0 .8h0m0 .1h0m0 34.9h0m0 3.3h0m0 1h0m0 4.2h0m.1-43.7h0m0 .9h0m0 1.5h0m0 1h0m0 1.4h0m0 .1h0m0 5.8h0m0 1.9h0m0 .5h0m0 2.7h0m0 6.2h0m0 15.7h0m0 2.7h0m0 .7h0m0 1.1h0m0 2.1h0m0 6.6h0m.1-47.9h0m0 .4h0m0 .4h0m0 6.9h0m0 6.1h0m0 16.1h0m0 .8h0m0 10.5h0m.1-43.6h0m0 3.1h0m0 6.6h0m0 4.1h0m0 5.2h0m0 .6h0m0 1.1h0m0 5.6h0m0 3.1h0m0 5.4h0m0 4.1h0m0 3.7h0m.1-38.3h0m0 3h0m0 2.4h0m0 1.4h0m0 2.7h0m0 2.9h0m0 1.6h0m0 1.8h0m0 2.7h0m0 1.9h0m0 6.7h0m0 1.6h0m0 3.1h0m0 2.9h0m0 .5h0m0 1.6h0m0 1.3h0m0 1.1h0m0 .4h0m.1-49.4h0m0 20.4h0m0 .5h0m0 1.6h0m0 8.6h0m0 7.5h0m0 2.1h0m0 2.5h0m0 5h0m0 .2h0m0 1.4h0m.1-43.9h0m0 5.3h0m0 15.5h0m0 6.7h0m0 1.7h0m0 4.3h0m0 .1h0m0 3.1h0m0 .1h0m0 7.1h0m.1-48.6h0m0 4.5h0m0 2.7h0m0 .2h0m0 10.1h0m0 .7h0m0 6.6h0m0 7.8h0m0 1.6h0m0 1.1h0m0 2.6h0m0 4.3h0m0 1.9h0m.1-35.1h0m0 6.6h0m0 11.4h0m0 4.9h0m0 5.5h0m0 2.7h0m0 1.9h0m0 5.3h0m.1-41.2h0m0 9.6h0m0 2.7h0m0 11.8h0m0 4.7h0m0 .2h0m0 9.1h0m0 9.8h0m.1-50.9h0m0 3.1h0m0 6.5h0m0 4h0m0 16.4h0m0 4.3h0m0 1h0m0 4h0m.1-40h0m0 9.1h0m0 10h0m0 1.4h0m0 3.4h0m0 2.5h0m0 .3h0m0 .9h0m0 2h0m0 3.2h0m0 10.8h0m0 7h0m.1-44.2h0m0 1.2h0m0 10.5h0m0 10.7h0m0 1.1h0m0 0h0m0 1.3h0m0 1.9h0m0 5.4h0m0 2.4h0m0 .4h0m0 1.5h0m0 4.2h0m0 .9h0m0 2.1h0m.1-45.9h0m0 2.7h0m0 8.1h0m0 0h0m0 12.5h0m0 8.5h0m0 3.7h0m0 1.2h0m0 .6h0m0 2.1h0m.1-40.4h0m0 8.8h0m0 3.8h0m0 7h0m0 9.7h0m0 8.7h0m0 .2h0m0 2.3h0m.1-38.8h0m0 3.4h0m0 1.4h0m0 21.3h0m0 1h0m0 1.4h0m0 15h0m.1-45.1h0m0 1.1h0m0 24.6h0m0 .2h0m0 3.9h0m0 3.7h0m0 10.9h0m0 2.4h0m0 3.9h0m.1-51h0m0 10.1h0m0 3.3h0m0 5.5h0m0 3h0m0 5.5h0m0 1.3h0m0 .8h0m0 11.2h0m.1-39.6h0m0 3h0m0 4h0m0 1.8h0m0 .6h0m0 4.5h0m0 2.4h0m0 4.4h0m0 .4h0m0 2.2h0m0 .3h0m0 3.4h0m0 5.3h0m0 2.4h0m0 7.6h0m0 4.4h0m.1-52.1h0m0 8.1h0m0 1.4h0m0 4h0m0 10.1h0m0 12.6h0m0 0h0m0 1.4h0m0 1.2h0m0 .1h0m0 1.2h0m0 .5h0m0 .9h0m0 6h0m.1-41.2h0m0 .2h0m0 1.9h0m0 2.9h0m0 4.4h0m0 6.1h0m0 .6h0m0 11.4h0m0 1.5h0m0 7h0m0 7.6h0m.1-43.6h0m0 8.1h0m0 2.1h0m0 8.9h0m0 4.7h0m0 3.7h0m0 10h0m.1-38.9h0m0 .1h0m0 26.2h0m0 8.2h0m0 3.2h0m0 .6h0m0 3h0m.1-38.7h0m0 5.7h0m0 13.8h0m0 5.2h0m0 6h0m0 9.6h0m.1-39.4h0m0 4.5h0m0 13.3h0m0 4.6h0m0 .7h0m0 2.2h0m0 .4h0m0 2.5h0m0 6.8h0m0 3.6h0m.1-35.4h0m0 8h0m0 2.8h0m0 2.1h0m0 3.7h0m0 2.2h0m0 6.7h0m0 2h0m0 9.5h0m0 2.6h0m.1-43.4h0m0 4h0m0 5.9h0m0 1.8h0m0 8.5h0m0 15.7h0m0 2h0m0 3.8h0m0 1.3h0m.1-50.5h0m0 1.8h0m0 7.9h0m0 9.4h0m0 1.7h0m0 10.9h0m0 6.8h0m0 6h0m0 4.1h0m0 1.3h0m.1-41.1h0m0 6.6h0m0 2.5h0m0 2.5h0m.1 .1h0m0 15.2h0m0 5.5h0m.1-38.9h0m0 10.7h0m0 .5h0m0 1.6h0m0 3.1h0m0 9.9h0m0 3h0m0 3.7h0m0 12.5h0m0 2.4h0m.1-56h0m0 12.8h0m0 3.6h0m0 4h0m0 2.3h0m0 2.3h0m0 3.8h0m0 1.6h0m0 3h0m0 2.7h0m0 13.9h0m.1-38.3h0m0 1.9h0m0 9.6h0m0 1.6h0m0 .7h0m0 .7h0m0 3.6h0m0 1.5h0m0 5.2h0m0 2.1h0m0 8.8h0m0 1.8h0m.1-42.4h0m0 7h0m0 5.7h0m0 4h0m0 10.3h0m0 2.4h0m0 5.9h0m0 2.4h0m0 .4h0m0 1.7h0m0 4.5h0m.1-46.3h0m0 28.4h0m0 .1h0m0 9.1h0m0 7.4h0m0 7.6h0m0 2.4h0m.1-50.4h0m0 12.6h0m0 6.1h0m0 2.5h0m0 3.1h0m0 10h0m0 5.2h0m0 3.9h0m.1-44.3h0m0 5.2h0m0 1.6h0m0 4h0m0 1.1h0m0 5h0m0 4.3h0m0 11.1h0m0 7.6h0m0 8.5h0m.1-43.5h0m0 9.2h0m0 15.2h0m.1-18.6h0m0 4.6h0m0 4.3h0m0 13h0m.1-34.4h0m0 4.4h0m0 .4h0m0 2.4h0m0 1.5h0m0 8.4h0m0 16.5h0m0 1.7h0m0 .6h0m0 12.1h0m.1-45.6h0m0 .9h0m0 2.2h0m0 3.2h0m0 8.7h0m0 9h0m0 19h0m0 4.3h0m.1-45.8h0m0 1h0m0 4.6h0m0 8.8h0m0 3.2h0m0 1.8h0m0 5.1h0m0 6.4h0m0 10.4h0m0 2.1h0m0 .4h0m0 2.6h0m0 2.6h0m.1-50.7h0m0 .8h0m0 2.6h0m0 5.4h0m0 1.1h0m0 1.2h0m0 1.3h0m0 7h0m0 .1h0m0 1.5h0m0 1.6h0m0 4.4h0m0 10h0m0 2.2h0m0 4h0m.1-44.5h0m0 5.5h0m0 1.5h0m0 1.1h0m0 .9h0m0 3h0m0 4.7h0m0 9.3h0m0 12.1h0m0 1.7h0m0 6.7h0m0 2.8h0m0 .9h0m0 3.5h0m.1-48.1h0m0 4.5h0m0 12.5h0m0 6.1h0m0 8.5h0m0 2.4h0m0 1.4h0m0 .5h0m0 1.8h0m0 8.6h0m.1-44.9h0m0 1.6h0m0 .2h0m0 5.1h0m0 2h0m0 1.5h0m0 5.6h0m0 5.2h0m0 3.3h0m0 .4h0m0 1.5h0m0 7.7h0m.1-40.5h0m0 6.6h0m0 1.9h0m0 1.8h0m0 1.7h0m0 1.1h0m0 .2h0m0 1.3h0m0 8h0m0 8.9h0m0 .3h0m0 8.2h0m0 2.3h0m0 .5h0m.1-34.3h0m0 4.6h0m0 1.6h0m0 4.6h0m0 8.5h0m0 14.8h0m0 1.3h0m.1-36.4h0m0 4h0m0 14.1h0m0 5h0m0 1h0m0 14.5h0m.1-41.4h0m0 3.7h0m0 .2h0m0 .2h0m0 1.2h0m0 6.4h0m0 1.6h0m0 .7h0m0 5.9h0m0 3.9h0m0 1.4h0m0 3.9h0m0 8.4h0m.1-39h0m0 .5h0m0 12.3h0m0 12.7h0m0 6.6h0m0 9.3h0m.1-37.7h0m0 2.9h0m0 1.1h0m0 3.8h0m0 2.7h0m0 2.3h0m0 13.7h0m0 1.2h0m0 3.1h0m0 1.9h0m0 .3h0m0 1.6h0m.1-32h0m0 5.5h0m0 3.7h0m0 16.3h0m0 .6h0m0 25.5h0m.1-57.4h0m0 15.7h0m0 5.6h0m0 2h0m0 8.6h0m0 1.3h0m0 .2h0m0 2.4h0m0 1h0m0 6.5h0m0 3.6h0m.1-45.4h0m0 1.1h0m0 1.1h0m0 9.1h0m0 .6h0m0 6.8h0m0 .3h0m0 2.1h0m0 5.8h0m0 .2h0m0 5.9h0m0 5.3h0m.1-41.2h0m0 2.4h0m0 6.9h0m0 2.1h0m0 14.3h0m0 .7h0m0 1h0m0 .8h0m0 9.7h0m0 .1h0m0 1.4h0m.1-46.3h0m0 9.8h0m0 .8h0m0 6.3h0m0 .9h0m0 .8h0m0 .8h0m0 1.9h0m0 3.6h0m0 2.4h0m0 19.5h0m0 0h0m0 3.2h0m.1-40.6h0m0 6.4h0m0 .3h0m0 .6h0m0 .1h0m0 .1h0m0 5.7h0m0 5h0m0 2.5h0m0 .4h0m0 4.1h0m0 1.5h0m0 9h0m0 .9h0m0 2.9h0m0 2.8h0m.1-36h0m0 1.4h0m0 .6h0m0 1.1h0m0 3.9h0m0 9.7h0m0 5.1h0m0 2.9h0m0 4.9h0m0 5.9h0m0 2.8h0m.1-41.8h0m0 9.2h0m0 1.2h0m0 .6h0m0 3.9h0m0 1.1h0m0 3.2h0m0 4.8h0m0 .4h0m0 4.6h0m0 2.7h0m0 .3h0m0 3.3h0m.1-44.1h0m0 8.3h0m0 8.4h0m0 1.1h0m0 2h0m0 2.6h0m0 .3h0m0 12.6h0m0 1.3h0m0 3.5h0m0 8.8h0m.1-52.9h0m0 4.7h0m0 9.5h0m0 .6h0m0 1.3h0m0 20.7h0m0 3.5h0m0 .1h0m0 2.3h0m0 1.8h0m0 10.4h0m.1-45.5h0m0 1.8h0m0 9h0m0 7.7h0m0 1.3h0m0 1.1h0m0 1.3h0m0 .3h0m0 7.5h0m0 .1h0m.1-23.1h0m0 2.8h0m0 9h0m0 3h0m0 4.8h0m0 5.7h0m0 4.4h0m0 5.5h0m.1-45.7h0m0 4.3h0m0 0h0m0 .5h0m0 2.2h0m0 2.3h0m0 1.8h0m0 3.7h0m0 3.8h0m0 7.3h0m0 7.2h0m0 .8h0m0 .3h0m0 5.1h0m0 1.2h0m0 3.3h0m.1-42h0m0 13.3h0m0 10.4h0m0 .1h0m0 7.8h0m0 6.2h0m0 1.1h0m0 2.6h0m0 1.4h0m0 4.2h0m.1-50.4h0m0 5.2h0m0 10.3h0m0 .1h0m0 2.7h0m0 3.3h0m0 8h0m0 14.8h0m.1-42.6h0m0 4.5h0m0 13.8h0m0 7.7h0m0 3.1h0m0 .7h0m0 2.5h0m0 2.4h0m0 8h0m0 .8h0m.1-45.9h0m0 5.1h0m0 .7h0m0 14h0m0 6.6h0m0 13.3h0m.1-30.4h0m0 1h0m0 6.9h0m0 4.5h0m0 4.9h0m0 6h0m0 4.9h0m0 7.8h0m0 .2h0m.1-42.5h0m0 3.2h0m0 10.8h0m0 11h0m0 19.5h0m.1-26.5h0m0 7.4h0m0 2h0m0 7.5h0m0 3.5h0m0 5h0m0 6h0m.1-51.8h0m0 10h0m0 .7h0m0 13h0m0 1.7h0m0 1.4h0m0 1.1h0m0 1.2h0m0 6.6h0m0 1.9h0m0 6.3h0m.1-36.6h0m0 3.4h0m0 .6h0m0 .4h0m0 1.8h0m0 9.8h0m0 2.5h0m0 3.4h0m0 13.8h0m0 2.6h0m0 4h0m.1-45.6h0m0 1.9h0m0 .9h0m0 .9h0m0 1.6h0m0 3.9h0m0 1.5h0m0 7.5h0m0 3.4h0m0 2.8h0m0 .4h0m0 2.5h0m0 4.1h0m0 2.2h0m0 .9h0m0 8.3h0m0 1.7h0m0 .9h0m.1-44.9h0m0 .5h0m0 .2h0m0 6.7h0m0 .7h0m0 .3h0m0 1.5h0m0 1.6h0m0 .3h0m0 1.6h0m0 3h0m0 1.3h0m0 1.8h0m0 4.4h0m0 3.8h0m0 2.6h0m0 3.6h0m0 1.8h0m0 .6h0m0 .8h0m0 1.3h0m0 1.4h0m0 .6h0m.1-46.4h0m0 3.6h0m0 15.8h0m0 23.4h0m0 1.5h0m0 .8h0m0 6.7h0m.1-43.1h0m0 8.9h0m0 6.8h0m0 1.3h0m0 2.6h0m0 4.8h0m.1-23.3h0m0 4.5h0m0 1.7h0m0 .1h0m0 1.3h0m0 6h0m0 5.5h0m0 .8h0m0 1.4h0m0 8.3h0m0 4.8h0m0 5.7h0m.1-48.4h0m0 6.9h0m0 4.3h0m0 5.3h0m0 1.4h0m0 1.9h0m0 1.6h0m0 1.6h0m0 1.7h0m0 4.7h0m0 1.9h0m0 7.5h0m0 4.1h0m0 1.3h0m0 1.6h0m0 1.7h0m0 2.8h0m.1-52.8h0m0 7h0m0 3.1h0m0 1.4h0m0 2.3h0m0 7.5h0m0 4.9h0m0 .2h0m0 10.7h0m0 .9h0m0 .4h0m0 8.4h0m0 3.4h0m0 .8h0m.1-49.9h0m0 3.7h0m0 3.4h0m0 4h0m0 5h0m0 7.2h0m0 2.2h0m0 8.7h0m0 3.2h0m0 2.6h0m0 11.7h0m.1-39.7h0m0 6.1h0m0 6.1h0m0 1.1h0m0 2.2h0m0 .5h0m0 1.1h0m0 1.8h0m0 .2h0m0 .6h0m0 7.9h0m0 3.6h0m.1-36.4h0m0 2.2h0m0 1.6h0m0 3.7h0m0 1.8h0m0 .4h0m0 3.3h0m0 .6h0m0 7h0m0 2.8h0m0 0h0m0 1.7h0m0 .7h0m0 7.8h0m.1-33.5h0m0 4.6h0m0 13.5h0m0 0h0m0 6.3h0m0 4.7h0m0 10.4h0m.1-41.1h0m0 7.8h0m0 2.2h0m0 5.2h0m0 2.5h0m0 1.6h0m0 6.3h0m0 .1h0m0 1.2h0m0 .7h0m0 .4h0m0 2.8h0m0 11.6h0m.1-23.9h0m0 1.6h0m0 .2h0m0 2.7h0m0 .6h0m0 2.3h0m0 2.8h0m0 4.1h0m0 8.3h0m0 1.5h0m0 .6h0m0 3.6h0m.1-38.3h0m0 6.8h0m0 4.5h0m0 7.1h0m0 2.3h0m0 2.7h0m0 1.6h0m0 .7h0m0 3.1h0m.1-40h0m0 8.6h0m0 6.5h0m0 2.9h0m0 2.5h0m0 1.4h0m0 .1h0m0 .3h0m0 3.6h0m0 .6h0m0 3.7h0m0 10h0m0 .3h0m0 .2h0m0 10.1h0m.1-49.7h0m0 5.2h0m0 6.3h0m0 .7h0m0 2.5h0m0 5.4h0m0 2.7h0m0 .4h0m0 8.7h0m0 3.8h0m0 2h0m0 1.9h0m0 2.1h0m0 3.9h0m.1-45.5h0m0 1.1h0m0 6.2h0m0 8.9h0m0 .8h0m0 1.8h0m0 8h0m0 4.4h0m0 10h0m0 2.6h0m0 6h0m.1-49.9h0m0 .3h0m0 4.2h0m0 2.7h0m0 .8h0m0 3.4h0m0 .5h0m0 3.7h0m0 4.4h0m0 .7h0m0 .9h0m0 2.7h0m0 .3h0m0 4.4h0m0 1.9h0m0 1.6h0m0 2.2h0m0 8.4h0m.1-48.6h0m0 5.4h0m0 2.7h0m0 3h0m0 7.6h0m0 4.3h0m0 1.7h0m0 5.5h0m0 4.3h0m0 .5h0m0 12.5h0m.1-35.7h0m0 4.5h0m0 2.2h0m0 1.6h0m0 1.2h0m0 3.9h0m0 1.6h0m0 3h0m0 .3h0m0 4.4h0m0 1.9h0m0 4.5h0m0 5.8h0m0 1.2h0m0 2.2h0m0 3.1h0m0 11.8h0m.1-51.1h0m0 1.7h0m0 .9h0m0 1.6h0m0 9.7h0m0 4.5h0m0 4.2h0m0 13.2h0m.1-35.9h0m0 5.2h0m0 2.9h0m0 5.1h0m0 4.8h0m0 3.9h0m0 .6h0m0 .5h0m0 1.2h0m0 27.1h0m.1-64.9h0m0 21.2h0m0 1.6h0m0 .4h0m0 2.4h0m0 8.1h0m0 .6h0m0 4.4h0m0 3h0m0 .1h0m0 2.4h0m0 3.4h0m0 9.5h0m.1-50.4h0m0 4.1h0m0 3h0m0 .4h0m0 4.9h0m0 .5h0m0 .4h0m0 1.8h0m0 3.1h0m0 3.4h0m0 5.6h0m0 5.8h0m0 1.6h0m0 6.4h0m0 5.7h0m.1-47.9h0m0 2h0m0 2.8h0m0 4.4h0m0 1.7h0m0 .3h0m0 0h0m0 1.1h0m0 .3h0m0 2.8h0m0 9.9h0m0 .9h0m0 .4h0m0 .2h0m0 2.1h0m0 .9h0m0 1h0m0 3.3h0m0 2.7h0m.1-36.4h0m0 5.6h0m0 6.8h0m0 1.3h0m0 .7h0m0 2.6h0m0 1.3h0m0 2.2h0m0 1.4h0m0 2.8h0m0 .9h0m0 2.5h0m0 8.8h0m0 .7h0m0 .2h0m0 1h0m0 2.4h0m0 2.2h0m.1-57h0m0 18.8h0m0 14.7h0m0 1.9h0m0 8h0m0 .5h0m0 8.2h0m0 3.9h0m.1-43.5h0m0 2.5h0m0 1.7h0m0 3h0m0 1.4h0m0 1.9h0m0 2h0m0 1.1h0m0 1.8h0m0 .3h0m0 1.8h0m0 3.5h0m0 11.8h0m0 2.3h0m0 7.9h0m0 1.1h0m.1-40.6h0m0 2h0m0 .3h0m0 3.7h0m0 8.8h0m0 1.8h0m0 5.7h0m0 2.4h0m0 7.1h0m0 1.6h0m0 .8h0m0 5.8h0m0 .6h0m0 4.9h0m.1-38.6h0m0 3.7h0m0 .1h0m0 2.7h0m0 1.5h0m0 .6h0m0 1.2h0m0 5.9h0m0 2.9h0m0 .5h0m0 8.4h0m0 1.9h0m0 3.6h0m.1-43h0m0 4h0m0 6.5h0m0 11.2h0m0 .4h0m0 4.9h0m0 6.6h0m0 1h0m0 .2h0m0 4.4h0m0 .6h0m0 13.8h0m0 1.2h0m.1-45.5h0m0 3.9h0m0 1.5h0m0 1.3h0m0 1.8h0m0 .2h0m0 5.3h0m0 .4h0m0 .1h0m0 .9h0m0 2.4h0m0 3.4h0m0 .3h0m0 2.4h0m0 3.4h0m0 2.1h0m0 1.1h0m.1-41.5h0m0 3.6h0m0 .5h0m0 16.4h0m0 2.2h0m0 6.1h0m0 .1h0m0 8.5h0m0 2.8h0m0 .3h0m0 2.8h0m.1-39.8h0m0 3.9h0m0 1.3h0m0 .7h0m0 28.9h0m0 4.6h0m0 1.6h0m0 1.7h0m.1-46.9h0m0 6.4h0m0 .8h0m0 11h0m0 3.9h0m0 6.4h0m0 4.4h0m0 7.9h0m0 3.2h0m0 2.4h0m.1-34.6h0m0 1.7h0m0 9h0m0 1h0m0 .7h0m0 6.9h0m0 2.8h0m0 0h0m0 1.8h0m0 4.9h0m0 .5h0m0 3.4h0m0 2.5h0m0 .9h0m.1-45.1h0m0 1h0m0 1.2h0m0 8.8h0m0 2.9h0m0 4.3h0m0 .3h0m0 1.7h0m0 .9h0m0 5.4h0m0 20.2h0m.1-54.3h0m0 6.8h0m0 4h0m0 9.4h0m0 2.7h0m0 5.8h0m0 4.2h0m0 4.4h0m0 .3h0m0 5.4h0m0 1.5h0m0 2.9h0m.1-43.2h0m0 .8h0m0 4.3h0m0 9.6h0m0 3h0m0 4.1h0m0 2.2h0m0 4.4h0m0 1.3h0m0 .4h0m0 8.7h0m0 3.1h0m0 3.6h0m0 10.8h0m.1-55.1h0m0 2.1h0m0 3.1h0m0 6.1h0m0 .4h0m0 6h0m0 2.6h0m0 6.8h0m0 6.1h0m0 .1h0m0 3.6h0m0 .5h0m0 6.1h0m0 .1h0m0 2.3h0m0 .7h0m0 9.4h0m.1-45.2h0m0 14.2h0m0 8.1h0m0 2h0m0 1.7h0m.1-29.9h0m0 .9h0m0 2.5h0m0 .4h0m0 2.8h0m0 6.1h0m0 .2h0m0 .1h0m0 .1h0m0 .4h0m0 1h0m0 13.4h0m0 2.1h0m0 1.7h0m0 .6h0m0 8.5h0m0 2h0m.1-61.5h0m0 20.4h0m0 2.6h0m0 1.6h0m0 5h0m0 6.5h0m0 4.8h0m0 7h0m0 2.9h0m0 12.6h0m.1-56.4h0m0 7.1h0m0 1.8h0m0 2.3h0m0 0h0m0 6.8h0m0 1.7h0m0 .2h0m0 1.2h0m0 11.4h0m0 .2h0m0 1.1h0m0 2.4h0m0 .2h0m0 2.1h0m0 7.8h0m0 .7h0m0 1.8h0m.1-45h0m0 2.7h0m0 1.9h0m0 .8h0m0 3.8h0m0 4.3h0m0 2.6h0m0 2.8h0m0 6.9h0m0 5.6h0m0 3h0m0 1.1h0m0 5.5h0m0 5.2h0m0 2.2h0m0 4.6h0m.1-50h0m0 7.6h0m0 7.5h0m0 3.3h0m0 1.4h0m0 6.1h0m0 1.9h0m0 .1h0m0 7.1h0m0 1.6h0m0 4.3h0m.1-41.8h0m0 4.2h0m0 0h0m0 8.1h0m0 7.4h0m0 4.7h0m0 5.2h0m0 2h0m0 1.4h0m0 1.7h0m0 7.6h0m0 8.5h0m0 .9h0m0 .1h0m0 5.1h0m.1-52.7h0m0 3.9h0m0 4.8h0m0 .3h0m0 2.8h0m0 7.8h0m0 0h0m0 2.9h0m0 2.3h0m0 3.2h0m0 .9h0m0 3.5h0m.1-38.4h0m0 2.3h0m0 1.2h0m0 .9h0m0 7.4h0m0 3.2h0m0 1h0m0 1.1h0m0 .9h0m0 5.3h0m0 3.2h0m0 .5h0m0 7.7h0m0 10.6h0m0 .3h0m0 3.8h0m0 3.7h0m0 5.2h0m.1-55.4h0m0 6.6h0m0 14.8h0m0 .5h0m0 2.6h0m0 3.4h0m0 .5h0m0 1.3h0m0 .5h0m0 1.5h0m0 4.8h0m0 3.8h0m0 .4h0m0 3.1h0m0 1.9h0m.1-42.2h0m0 23h0m0 7.1h0m0 4.6h0m0 1.4h0m0 1.1h0m0 10.9h0m.1-51h0m0 3.1h0m0 1.4h0m0 3.7h0m0 5.2h0m0 .2h0m0 .3h0m0 .3h0m0 2.5h0m0 .8h0m0 .6h0m0 3.2h0m0 1.5h0m0 1.2h0m0 3.5h0m0 2.3h0m0 7.5h0m0 1.1h0m0 2.7h0m0 1.8h0m.1-40.6h0m0 5.6h0m0 0h0m0 .7h0m0 2.3h0m0 1.6h0m0 5.7h0m0 .8h0m0 3h0m0 8.3h0m0 2.8h0m0 5h0m0 2.1h0m0 .4h0m0 3.2h0m0 2.7h0m.1-54.9h0m0 2.5h0m0 2.5h0m0 12.7h0m0 1.9h0m0 .4h0m0 8.9h0m0 .3h0m0 3.2h0m0 .7h0m0 .2h0m0 4.3h0m0 3.2h0m0 .8h0m0 1.4h0m0 5.4h0m0 .4h0m0 .3h0m0 1.6h0m.1-40.2h0m0 2.6h0m0 1.3h0m0 17h0m0 2.1h0m0 0h0m0 2.3h0m0 4.7h0m0 .6h0m0 2.4h0m0 .2h0m0 3.9h0m0 .5h0m0 4.1h0m.1-42.9h0m0 9h0m0 1.4h0m0 .2h0m0 8.4h0m0 4.6h0m0 7.6h0m0 2.2h0m0 .3h0m0 .1h0m0 0h0m0 2.6h0m0 .8h0m0 8.1h0m.1-43.4h0m0 3.3h0m0 3.4h0m0 .9h0m0 1.1h0m0 2.2h0m0 .3h0m0 .8h0m0 10h0m0 2.7h0m0 .4h0m0 11.2h0m0 2.8h0m0 .9h0m0 2.1h0m.1-32.2h0m0 .6h0m0 .4h0m0 1.6h0m0 .2h0m0 .9h0m0 11.4h0m0 11.8h0m.1-47.5h0m0 7.3h0m0 20.2h0m0 .6h0m0 3.8h0m0 1.6h0m0 1.3h0m0 1.4h0m0 14.3h0m.1-42.5h0m0 .1h0m0 1.2h0m0 1.3h0m0 .8h0m0 22.2h0m0 .5h0m0 13h0m0 2.2h0m.1-45.6h0m0 4.8h0m0 20.4h0m0 5.4h0m0 2.9h0m0 2.2h0m0 7.9h0m.1-37.3h0m0 .6h0m0 11.4h0m0 1.8h0m0 1.1h0m0 .3h0m0 .3h0m0 .3h0m0 4.6h0m0 3.7h0m0 4.9h0m0 8.6h0m0 1.2h0m0 3.7h0m.1-44.9h0m0 1.3h0m0 .5h0m0 2.6h0m0 21.2h0m0 4.6h0m0 14.1h0m.1-43.5h0m0 2.2h0m0 2h0m0 8.4h0m0 7.9h0m0 1.1h0m0 2.2h0m0 .5h0m0 7h0m0 6.7h0m0 4h0m0 0h0m.1-40.8h0m0 10.6h0m0 1.4h0m0 .5h0m0 2.8h0m0 3.8h0m0 9.5h0m0 9.9h0m0 3.4h0m0 1.2h0m0 4.1h0m.1-45.1h0m0 11h0m0 .7h0m0 5.6h0m0 18.8h0m0 1.8h0m0 6.8h0m0 2.9h0m.1-49.7h0m0 1.1h0m0 .5h0m0 1.2h0m0 10.9h0m0 3.2h0m0 2.5h0m0 1.6h0m0 3.7h0m0 .8h0m0 .1h0m0 2.1h0m0 10.7h0m0 9.6h0m0 .3h0m.1-51.2h0m0 .1h0m0 .5h0m0 15.3h0m0 1.7h0m0 0h0m0 3.5h0m0 5.7h0m0 4h0m0 12.1h0m.1-45.5h0m0 7.4h0m0 13.1h0m0 .9h0m0 12h0m0 1h0m0 .2h0m0 13.1h0m.1-42.2h0m0 .9h0m0 .4h0m0 13.4h0m0 2.7h0m0 2h0m0 .1h0m0 5.4h0m0 1.2h0m0 1h0m0 .3h0m0 0h0m0 .3h0m0 .8h0m0 .7h0m0 8.2h0m0 4.3h0m.1-42.6h0m0 14.5h0m0 .2h0m0 .7h0m0 2.9h0m0 5.2h0m0 .9h0m0 4.9h0m0 10.5h0m0 11.2h0m.1-47.6h0m0 8.8h0m0 1.3h0m0 5.8h0m0 3.4h0m0 4.1h0m0 15.1h0m.1-24.4h0m0 .6h0m0 4.5h0m0 3.5h0m0 12.6h0m0 7.6h0m0 2.3h0m.1-50h0m0 3.4h0m0 11.2h0m0 .9h0m0 1.7h0m0 2h0m0 1.1h0m0 .5h0m0 3.7h0m0 .7h0m0 15.1h0m0 5.4h0m.1-49.3h0m0 1.6h0m0 3.1h0m0 3.1h0m0 18h0m0 1.9h0m0 16.5h0m0 .2h0m0 .1h0m0 .4h0m0 5.2h0m0 4.8h0m.1-53.7h0m0 4.3h0m0 .8h0m0 1.2h0m0 14.1h0m0 1.2h0m0 .2h0m0 .1h0m0 3.7h0m0 .1h0m0 0h0m0 .7h0m0 3.1h0m.1-28.7h0m0 .7h0m0 2h0m0 0h0m0 1.6h0m0 11.8h0m0 0h0m0 5h0m0 5.9h0m0 .2h0m0 2.5h0m0 15.9h0m0 1.9h0m.1-42.9h0m0 16.7h0m0 3.1h0m0 .3h0m0 26.5h0m0 2.6h0m.1-54.3h0m0 16.5h0m0 1.8h0m0 7.5h0m0 0h0m0 5.4h0m0 13h0m.1-23.5h0m0 8.3h0m0 .1h0m0 .1h0m0 1.8h0m0 14h0m0 7.5h0m.1-50.6h0m0 15h0m0 2.5h0m0 1.7h0m0 7.4h0m0 .7h0m0 15.9h0m0 1.3h0m.1-43h0m0 14.5h0m0 4.9h0m0 5.1h0m0 15.1h0m0 3.7h0m.1-51.5h0m0 22.5h0m0 2.3h0m0 1.8h0m0 4.5h0m.1-22.7h0m0 .1h0m0 .8h0m0 1.3h0m0 11.7h0m0 1.7h0m0 .6h0m0 2.6h0m0 5.9h0m0 .5h0m.1-25.4h0m0 14.3h0m0 2h0m0 3h0m0 2.3h0m0 5.3h0m0 .6h0m0 12.4h0m0 5.9h0m0 1.3h0m.1-47.5h0m0 .2h0m0 1.9h0m0 13.7h0m0 2h0m0 1.3h0m0 1.1h0m0 5h0m0 16.6h0m0 3.4h0m0 10.4h0m.1-63.8h0m0 6.2h0m0 21.1h0m0 3.9h0m0 27.9h0m.1-49.5h0m0 .9h0m0 12.4h0m0 1.3h0m0 .9h0m0 0h0m0 1h0m0 1.1h0m0 .8h0m0 .3h0m0 .8h0m0 3.2h0m0 19.9h0m.1-28.5h0m0 2.6h0m0 .2h0m0 2.7h0m0 2.8h0m0 3.2h0m0 17.8h0m.1-45.6h0m0 1.8h0m0 .6h0m0 .3h0m0 0h0m0 13.4h0m0 3.3h0m0 3.1h0m0 1.3h0m0 2.8h0m0 15.6h0m0 1.3h0m0 2.7h0m.1-49.5h0m0 3.7h0m0 .8h0m0 1.4h0m0 13h0m0 8.3h0m0 .1h0m0 3.1h0m0 18.7h0m.1-47.7h0m0 24.8h0m0 .1h0m0 3.5h0m0 .3h0m0 17.8h0m.1-47h0m0 20.4h0m0 1.7h0m0 .2h0m0 .9h0m0 3.9h0m0 .3h0m0 1.4h0m0 .8h0m0 .5h0m.1-27.7h0m0 1.1h0m0 .2h0m0 15.4h0m0 1.7h0m0 1.6h0m0 .8h0m0 3.3h0m0 .5h0m0 18.1h0m.1-44.5h0m0 .3h0m0 .3h0m0 17h0m0 5.7h0m0 .3h0m0 2.8h0m0 2.3h0m0 22.6h0m.1-48.2h0m0 17.6h0m0 3.6h0m0 .7h0m0 2h0m0 17.4h0m0 3h0m0 1h0m.1-60.9h0m0 10.8h0m0 .7h0m0 1.5h0m0 19h0m0 5.6h0m0 4h0m.1-31h0m0 19.9h0m0 1.5h0m0 5h0m0 3h0m0 17.3h0m0 .6h0m0 .3h0m0 1.1h0m0 6.9h0m.1-52.3h0m0 19.3h0m0 .3h0m0 3.5h0m0 4.4h0m0 19.3h0m.1-30.4h0m0 1.5h0m0 5.8h0m0 1.5h0m0 2.2h0m0 1.3h0m0 15.1h0m0 1.6h0m.1-23.9h0m0 3.7h0m.1-27.4h0m0 1.2h0m0 .6h0m0 2.5h0m0 15.1h0m0 .4h0m0 .2h0m0 2.7h0m0 1.3h0m0 2h0m0 20.5h0m0 2.2h0m0 3.5h0m.1-50.1h0m0 1.6h0m0 14.9h0m0 4.8h0m0 .8h0m0 25.2h0m.1-48h0m0 17.6h0m0 1.2h0m0 .3h0m0 1.7h0m0 .4h0m0 .1h0m0 5.2h0m0 2.7h0m0 18.5h0m.1-28.8h0m0 .2h0m0 5.1h0m0 1.2h0m0 3.2h0m0 19h0m0 1.6h0m.1-47.2h0m0 18.7h0m0 .8h0m0 2.3h0m0 1.4h0m0 1.6h0m0 .4h0m.1-7.8h0m0 6h0m0 21.3h0m0 .2h0m0 2.3h0m.1-52.1h0m0 1.9h0m0 20h0m0 .3h0m0 .9h0m0 3.5h0m0 1.3h0m0 3h0m0 17h0m.1-26.4h0m0 2.9h0m0 .6h0m0 2.6h0m0 19.8h0m0 1.2h0m0 2.1h0m0 .4h0m0 1.4h0m0 1.2h0m.1-51h0m0 17.7h0m0 .2h0m0 5.5h0m0 2.3h0m0 .5h0m0 1.7h0m0 17h0m0 .1h0m0 5h0m.1-32.5h0m0 1.3h0m0 28.1h0m.1-48h0m0 21h0m0 6.6h0m.1-8.9h0m0 0h0m0 .1h0m0 10.2h0m0 1.2h0m0 16h0m.1-59.5h0m0 2.2h0m0 31h0m0 4h0m0 3.6h0m0 21.4h0m.1-46.3h0m0 17.4h0m0 1.2h0m0 1.2h0m0 3.8h0m0 4.7h0m0 21.9h0m.1-50.5h0m0 20.8h0m.1-21.9h0m0 1.3h0m0 16.5h0m0 1.1h0m0 4.1h0m0 2.1h0m0 3.3h0m0 17.2h0m0 .6h0m.1-45.2h0m0 23.8h0m0 .6h0m0 2.7h0m.1-27.7h0m0 23.6h0m0 5.5h0m.1-28.2h0m0 17.4h0m0 .3h0m0 1.4h0m0 1.9h0m0 .7h0m0 1.8h0m0 2.5h0m0 .2h0m.1-32h0m0 2.7h0m0 2.8h0m0 24.1h0m0 20.7h0m.1-27.8h0m0 7.8h0m0 .5h0m0 19.6h0m0 1.5h0m.1-29.3h0m0 5.9h0m0 2.5h0m.1-8.8h0m0 3.3h0m0 .6h0m0 .4h0m0 .8h0m0 .7h0m0 .4h0m0 2.7h0m0 29.9h0m.1-36h0m0 0h0m0 7.1h0m0 1.1h0m.1-32.2h0m0 22.7h0m0 1.9h0m0 6.4h0m0 21.2h0m.1-51.1h0m0 20.2h0m0 2h0m0 1.4h0m0 1.6h0m0 .7h0m0 23h0m.1-22.6h0m0 2.7h0m0 21.7h0m.1-27.2h0m0 .9h0m0 1.4h0m.1-2.7h0m0 .7h0m0 .3h0m0 2.8h0m0 .2h0m0 1.7h0m0 20.9h0m.1-24.5h0m0 .2h0m0 1h0m0 4.2h0m0 21.8h0m.1-31.2h0m0 2.6h0m0 1.4h0m0 1.8h0m.1-25.8h0m0 20.3h0m0 1.2h0m0 8.1h0m0 21.2h0m.1-29.4h0m0 3.2h0m0 1.2h0m0 22.3h0m0 .5h0m0 10.9h0m.1-37h0m0 6.4h0m0 20.6h0m.1-49.4h0m0 27.8h0m0 2.2h0m0 .3h0m0 17.9h0m.1-49.4h0m0 25.6h0m0 .8h0m.1-24.6h0m0 19.6h0m0 .8h0m0 2.7h0m0 1.8h0m0 .4h0m0 2.3h0m0 22.5h0m0 9.6h0m.1-38h0m0 2.9h0m0 3.4h0m.1-8.4h0m0 2.5h0m0 .6h0m0 .5h0m0 .2h0m0 1.7h0m0 1.1h0m0 3.2h0m0 23.6h0m.1-32.7h0m0 7.8h0m.1-8.9h0m0 6.3h0m0 .8h0m0 1.2h0m0 1.1h0m0 .3h0m.1 21.9h0m.1-23.5h0m0 1.5h0m0 .2h0m0 .1h0m.1-8h0m0 .9h0m0 1.2h0m.1-27.1h0m0 55.9h0m.1-57.8h0m0 2h0m0 23.7h0m0 2.6h0m0 3.5h0m0 .5h0m0 2.6h0m0 31.8h0m.1-62.5h0m.1 21.1h0m0 4.1h0m0 1.1h0m0 25.5h0m.1-20.9h0m.1-32.8h0m0 27.3h0m0 .2h0m0 3.7h0m.1-4.1h0m.1-2.8h0m0 5h0m.1-6.5h0m0 .3h0m0 2.7h0m0 2.7h0m.1 .7h0m0 1.2h0m.1-2.1h0m0 24.5h0m.1-27.2h0m0 2.1h0m.1-3.4h0m0 4.2h0m0 .4h0m0 .8h0m.1-2.6h0m0 1h0m0 3.6h0m0 26.2h0m0 1h0m.1-34.3h0m0 2.1h0m0 4.8h0m.1-7.3h0m0 1.6h0m0 1.1h0m0 3.3h0m0 1.5h0m0 .4h0m0 21.1h0m.1-26.4h0m0 1.5h0m0 1.6h0m.1-7.1h0m.1 .9h0m0 .8h0m0 2.9h0m0 26.8h0m.1-26.1h0m0 .9h0m0 0h0m0 2.6h0m.1-33.4h0m0 28.3h0m0 1h0m0 2h0m.1-5.8h0m0 5.8h0m.1-4.4h0m0 .7h0m0 .1h0m0 2.6h0m0 .7h0m0 1.5h0m.1-7.3h0m0 0h0m0 2.8h0m0 .4h0m0 5.9h0m.1-8.2h0m0 1.7h0m0 1.3h0m0 2.4h0m.1-2.6h0m0 .8h0m0 .9h0m0 2.7h0m.1-7.8h0m0 7.5h0m0 25.6h0m.1-57.2h0m0 26.7h0m0 .5h0m0 1.6h0m0 1.5h0m0 1.9h0m0 24.3h0m.1-30.6h0m0 .2h0m0 4.9h0m.1-7.5h0m0 2.4h0m0 1.2h0m0 1.7h0m0 3h0m0 .4h0m0 22h0m0 2h0m.1-26.7h0m0 1.4h0m0 .5h0m.1-6.5h0m0 6.1h0m0 22.6h0m0 3.2h0m.1-32.7h0m0 1.1h0m0 1h0m0 5.8h0m0 25.5h0m.1-30.5h0m0 1.5h0m0 3.1h0m0 1h0m.2-31.7h0m0 23.5h0m0 .3h0m0 .5h0m0 7.6h0m0 25.4h0m0 1.1h0m.1-58h0m0 30.1h0m.1-7.9h0m0 .7h0m0 1.4h0m0 3.5h0m0 .4h0m0 1h0m.1-6.8h0m0 3.5h0m0 .9h0m0 .5h0m.1-31.4h0m0 31h0m0 3.4h0m0 24h0m.1-32.4h0m0 1.7h0m0 1.6h0m0 2h0m0 .2h0m0 3.1h0m.1-7.4h0m0 5.2h0m.1-30.1h0m0 23.8h0m0 .4h0m0 6.6h0m0 .3h0m.1-6.8h0m0 .1h0m0 2.3h0m0 1.3h0m0 .8h0m.1-27.7h0m0 27.2h0m.1-30.2h0m0 29.3h0m.1-.3h0m0 .7h0m0 .4h0m.1 3h0m.2-1.4h0m.1 .7h0m.1-4.9h0m0 .2h0m0 .3h0m0 4.8h0m0 1.3h0m0 25.1h0m.1-31.8h0m0 2.5h0m0 .9h0m0 1.1h0m0 26h0m.1-30.8h0m0 7.3h0m.1-30.9h0m0 26.8h0m0 3.7h0m0 .3h0m.1-33.2h0m0 25.5h0m0 1.2h0m0 1.3h0m0 2h0m0 .3h0m0 3.4h0m.1-31.3h0m0 23.6h0m0 .8h0m0 5.4h0m0 .8h0m.1-7.1h0m0 5.2h0m0 0h0m0 1.1h0m.1-2.3h0m0 3.5h0m.1-34.2h0m0 27.8h0m.1 .8h0m0 1.1h0m0 3.1h0m.1-6.9h0m0 1.4h0m0 6.7h0m.1-2.4h0m0 2.2h0m.1-5.4h0m.1 4.5h0m.1-7.2h0m0 1.5h0m0 6.2h0m.1-7.1h0m0 5.9h0m0 25.5h0m.1-29.1h0m0 .8h0m0 2.4h0m.1-1.6h0m0 .7h0m0 .4h0m0 1.8h0m0 26.4h0m.1-32.1h0m0 1.3h0m0 .9h0m.1-1.7h0m0 2.7h0m.1 1.2h0m0 27.8h0m.1-58.4h0m0 .4h0m0 29h0m0 3.7h0m0 0h0m0 .4h0m.1-7.6h0m0 1.1h0m0 3.9h0m0 .2h0m.1-2.6h0m0 2.2h0m.1-5.2h0m0 1.6h0m0 .6h0m0 1.5h0m.1 .7h0m.1-.2h0m0 1.4h0m0 2.1h0m.1-8.3h0m0 1.4h0m0 .1h0m0 5.3h0m0 1.3h0m.1-5.5h0m0 4.6h0m0 1.3h0m.1-33.4h0m0 28.3h0m.1-2.3h0m0 2.9h0m.1-28.2h0m0 25.8h0m0 29.7h0m0 1.1h0m.1-57.4h0m0 27.5h0m0 2.6h0m0 1.5h0m.1-4.7h0m0 4.6h0m0 25h0m0 .7h0m.1-27.7h0m0 .2h0m0 1h0m.1-5.9h0m0 .4h0m0 2.3h0m0 3.3h0m.1-5.8h0m0 .7h0m0 .2h0m0 2h0m0 5.2h0m.1-8h0m0 1.2h0m0 .7h0m.1 1.3h0m0 2.3h0m.1-2.2h0m0 3.4h0m.1-6.7h0m0 1.4h0m0 .6h0m0 2.5h0m0 2.6h0m0 1.2h0m.1-34.2h0m0 30.9h0m0 1.3h0m.1-4h0m.1 2.9h0m0 2.6h0m.1-8h0m0 1.5h0m0 1.7h0m0 3.8h0m0 .4h0m.1-31.5h0m0 31.2h0m.1-35.1h0m0 3h0m0 26.3h0m0 5h0m0 26.2h0m.1-29.1h0m.2-32.1h0m0 30.3h0m0 .8h0m0 .3h0m0 .2h0m0 30.5h0m.1-32.6h0m0 1.2h0m0 1.3h0m0 .3h0m0 1.7h0m0 .3h0m.1-5.9h0m0 1.1h0m0 .4h0m0 .1h0m0 0h0m0 .1h0m0 3.7h0m0 1h0m0 1.8h0m.1-3.4h0m.1-4.6h0m0 4.7h0m0 .4h0m.1-4.7h0m0 .9h0m0 .4h0m0 .5h0m0 .3h0m0 4.2h0m.1-3.3h0m0 1.2h0m.1-2.3h0m0 .2h0m0 3.7h0m.1-6.5h0m0 2.1h0m0 6.1h0m.1-8.2h0m0 3.5h0m.1-2.6h0m0 2h0m0 1.6h0m0 1.5h0m.1-2.6h0m0 2.4h0m0 2.1h0m.1-4.8h0m0 .5h0m0 .7h0m0 3.9h0m.1-5.9h0m0 2.1h0m.1-2.1h0m0 .1h0m0 3.1h0m.1-4.2h0m.1-.1h0m0 .6h0m0 1.8h0m.1-3.3h0m0 .8h0m.1-.4h0m0 2h0m.1 4.4h0m0 27.3h0m.1-33.9h0m.1 2.5h0m0 2.2h0m0 2.5h0m.1-5.5h0m0 .5h0m0 .4h0m0 3.4h0m0 1.9h0m0 .2h0m0 .1h0m.1-1.6h0m0 .5h0m.1-4.4h0m0 2h0m0 2.2h0m0 .8h0m0 .4h0m0 32.3h0m.1-39.1h0m0 .4h0m0 7h0m.1-5.5h0m0 1.7h0m0 1h0m0 .9h0m0 25.8h0m.1-33.5h0m0 4.8h0m0 3.4h0m0 1h0m.1-8h0m0 2.5h0m0 1.9h0m0 1.7h0m0 .5h0m0 1.8h0m.1-7.3h0m0 .3h0m0 1.4h0m0 2.4h0m0 .7h0m0 .8h0m.1 1.2h0m0 25.8h0m.1-27.4h0m0 .2h0m.1-7.1h0m0 .3h0m0 .4h0m0 2.9h0m0 1h0m0 28.8h0m.1-63h0m0 32.6h0m0 .2h0m0 2.6h0m.1-33.4h0m0 28.4h0m0 .6h0m0 .4h0m0 1.7h0m0 4.8h0m.1-5.2h0m0 .8h0m0 32.7h0m0 6.8h0m.1-43.2h0m0 1.7h0m0 .6h0m0 1.5h0m0 .6h0m0 .6h0m.1-4.2h0m0 6.2h0m0 1.2h0m.1-6h0m0 2h0m0 3.5h0m0 .9h0m.1-9.3h0m0 .8h0m0 1h0m0 1h0m0 3.9h0m.1-6.5h0m0 1.9h0m0 3.4h0m0 .7h0m0 1.9h0m.1-8.3h0m0 6.2h0m0 2h0m.1-33.3h0m0 26h0m0 3.2h0m0 3.2h0m0 1h0m.1-7.9h0m0 .1h0m0 1.5h0m0 2.2h0m.1-2.7h0m0 2.2h0m0 1h0m0 1.3h0m0 2.4h0m.1-7.5h0m0 3.2h0m0 1.1h0m0 2.8h0m0 .7h0m0 1h0m0 25.6h0m.1-34.6h0m0 2.2h0m0 4.2h0m0 .4h0m.1-7h0m0 2h0m0 .9h0m0 1.9h0m.1-5h0m0 4.1h0m0 2h0m.1 1.8h0m0 .9h0m.1-8.5h0m0 6.6h0m0 1h0m.1-5.9h0m0 4.8h0m0 2.9h0m.1-4.2h0m0 1.9h0m.1-1.7h0m.1-31.7h0m0 26.2h0m0 .5h0m0 3.6h0m.1-2.9h0m0 5h0m.1 .4h0m.1-4.5h0m0 .2h0m0 .9h0m0 .1h0m0 .3h0m0 .1h0m0 4.1h0m0 26.3h0m.1-33.3h0m0 0h0m0 3h0m0 .4h0m0 4.5h0m.1-5h0m0 .6h0m0 1.6h0m0 .8h0m0 2h0m0 26.6h0m.1-61.5h0m0 26.7h0m0 .1h0m0 4.1h0m.1-5h0m0 .4h0m0 2.9h0m0 2.7h0m0 1.3h0m0 .8h0m0 .1h0m0 0h0m0 .5h0m.1-7.8h0m0 4.2h0m.1-5.1h0m0 4.8h0m0 .3h0m0 1.3h0m0 .2h0m0 .8h0m.1-6.1h0m0 4.5h0m0 .3h0m0 1.5h0m0 1.9h0m.1-7.1h0m0 1.6h0m0 .1h0m0 1.3h0m0 2.8h0m.1-7.7h0m0 2.3h0m0 3.8h0m0 1.2h0m.1-6.4h0m0 .5h0m0 .2h0m0 4.7h0m.1-5.9h0m0 .3h0m0 1.9h0m0 .4h0m.1-2.1h0m0 1.6h0m0 1.2h0m0 4.1h0m.1-5.8h0m0 1.4h0m0 .1h0m.1-.1h0m0 2.7h0m0 .2h0m0 2.7h0m.1-9.9h0m0 4.1h0m0 2.6h0m0 .3h0m0 .3h0m0 .3h0m0 1.1h0m0 .1h0m.1-35.4h0m0 28.5h0m0 4.6h0m.1-4.5h0m0 1.2h0m0 2.7h0m0 .2h0m0 2.1h0m0 .4h0m0 .4h0m.1-8h0m0 1.8h0m.1-2.5h0m0 .5h0m0 .1h0m0 3.3h0m.1 4.2h0m0 .5h0m.1-1.1h0m0 2h0m.1-2.7h0m.1-5.5h0m0 2.6h0m0 5.9h0m0 25.8h0m.1-30.6h0m.1 3.3h0m0 .1h0m.1-4.3h0m0 2.9h0m0 1.8h0m0 26.7h0m.1-34.9h0m0 2.8h0m0 6.8h0m.1-9.6h0m.1 .3h0m0 2h0m0 2.6h0m0 1.7h0m.1-5h0m0 .5h0m0 3.2h0m0 3.6h0m.1-9.1h0m0 4.2h0m0 4.1h0m.1-6.4h0m0 2.3h0m0 3.8h0m0 .7h0m0 .7h0m0 0h0m.1-9.1h0m0 3.4h0m0 1.2h0m.1-5.7h0m0 6.1h0m.1-4.7h0m0 1.9h0m0 3.9h0m0 .5h0m.1-6.9h0m0 2.5h0m0 6.7h0m0 .7h0m.1-9.2h0m.1-1.2h0m0 .1h0m0 .4h0m0 .8h0m0 8.1h0m.1-8.4h0m0 7.6h0m.1-8.7h0m0 4.2h0m.1 1.2h0m.1 4h0m.1-5.8h0m.1-3.9h0m0 .2h0m0 1.5h0m0 1h0m0 .7h0m0 1h0m0 1.5h0m0 2.6h0m0 .9h0m0 .6h0m0 .6h0m.1-6.1h0m.1-4.4h0m0 5.6h0m.1-5h0m0 1h0m0 3.2h0m0 1.1h0m0 .7h0m0 .9h0m0 .1h0m.1-3.5h0m0 6.5h0m.1-10.5h0m0 3.5h0m0 1.9h0m0 2.4h0m0 .5h0m.1-6.7h0m0 1.3h0m0 5.4h0m.1-5.5h0m0 .3h0m0 1.4h0m0 1.3h0m0 .6h0m0 .1h0m0 .9h0m.1-6.5h0m0 3.2h0m0 4.6h0m0 28.8h0m.1-33.9h0m0 1.8h0m.1-1.3h0m0 1h0m0 2.1h0m0 1.8h0m.1-8.5h0m0 6h0m0 .2h0m0 .1h0m0 1.6h0m.1-7.7h0m0 3.4h0m0 1.4h0m0 .9h0m0 38.2h0m.1-41.3h0m0 6.6h0m0 .2h0m0 .1h0m0 .3h0m.1-37.6h0m0 26.9h0m0 2.8h0m0 5.7h0m.1-6.8h0m0 5.6h0m.1-4.4h0m.1-.1h0m0 3.3h0m0 1.8h0m.1-6.6h0m0 3.1h0m0 3.4h0m0 .9h0m0 1.6h0m0 26.9h0m.1-36.7h0m0 5.1h0m0 .1h0m0 30.6h0m.1-31.7h0m0 3.5h0m0 .8h0m.1-6.1h0m0 2.7h0m0 .7h0m0 3.4h0m.1-6.1h0m0 1.2h0m0 2.9h0m.1-7.3h0m0 3.9h0m0 .1h0m0 .8h0m0 .4h0m.1-4.4h0m0 .7h0m0 5.4h0m0 1h0m.1-6.6h0m0 .9h0m0 4.1h0m0 1.5h0m.1-8.1h0m0 1h0m0 1.5h0m0 5.5h0m.1-34.8h0m0 36.1h0m0 1.5h0m.1-3.3h0m0 1.7h0m.1-5.6h0m0 5.9h0m.2-9.4h0m0 .1h0m0 4.3h0m0 1.3h0m0 4.2h0m.1-7.7h0m0 .2h0m0 3.1h0m0 1.4h0m.1-6.8h0m0 2.1h0m0 3.7h0m0 .3h0m0 3.6h0m.1-9.5h0m0 1.3h0m0 5.8h0m0 .3h0m.1-5.9h0m0 2.8h0m0 .1h0m0 5.6h0m0 .3h0m.1-7.3h0m0 3.6h0m0 2.1h0m0 .5h0m.1-6.6h0m0 .2h0m0 3h0m0 4.7h0m0 .1h0m.1-36.5h0m0 30.7h0m0 1.2h0m.1-5.3h0m0 1.3h0m0 1.4h0m0 3h0m0 1h0m0 .2h0m.1-7.8h0m0 .3h0m0 .6h0m0 2.2h0m0 0h0m0 .7h0m.1-29.3h0m0 27.3h0m0 .9h0m0 1.9h0m0 .6h0m.1-4h0m0 5.1h0m.1-6.2h0m0 1.3h0m0 8.2h0m0 1.3h0m.1-10.7h0m0 1.7h0m0 37.3h0m.1-37.1h0m0 5.3h0m0 2.8h0m.1-1.8h0m0 1.9h0m.1-37.1h0m0 28h0m0 6h0m0 .1h0m.1-5.9h0m0 1.5h0m0 5.7h0m.1-6.1h0m0 3h0m0 .2h0m0 .2h0m.1-4.1h0m0 .2h0m0 7.5h0m.1-7.7h0m0 1h0m0 6.6h0m0 .3h0m0 .2h0m0 .5h0m.1-10.3h0m0 .5h0m0 1.8h0m0 8h0m0 .6h0m.1-10.8h0m0 1.8h0m0 2.3h0m0 .8h0m0 4.6h0m.1-34.6h0m0 25.6h0m0 .4h0m0 1.2h0m0 .7h0m0 3.1h0m0 .8h0m0 2.6h0m.1-8.4h0m0 0h0m0 8.4h0m0 26h0m.1-35.8h0m0 2.9h0m0 1.4h0m0 6.1h0m.1-9.2h0m0 2.9h0m0 .8h0m0 3.6h0m.1-8.7h0m0 8.7h0m.1-33.1h0m0 29.2h0m.1-1.1h0m0 1.4h0m0 1.1h0m0 2.6h0m0 .3h0m.1-4.8h0m0 2.9h0m0 1.5h0m.1-35.3h0m0 26.9h0m0 5.3h0m0 .5h0m0 .1h0m0 1.2h0m.1-32.4h0m0 29h0m0 4.7h0m0 .1h0m0 0h0m.1-34.3h0m0 27.6h0m0 6.8h0m.1-38.4h0m0 32.6h0m0 1.6h0m0 .2h0m0 .6h0m0 4.4h0m0 29.7h0m.1-39.2h0m0 1.2h0m.1 5.5h0m0 .9h0m.1-8h0m0 1.4h0m0 2h0m0 2.4h0m0 3.8h0m.1-5.1h0m0 5.5h0m0 1.1h0m.1-9.1h0m0 2.5h0m0 .9h0m0 4.2h0m0 24.6h0m.1-33.3h0m0 2.8h0m0 1h0m0 .7h0m0 2h0m0 1.3h0m0 1.1h0m0 .2h0m.1-8.8h0m0 4.9h0m0 3.1h0m0 1.1h0m.1-1.5h0m.1-7.8h0m0 2.3h0m0 1.4h0m0 .1h0m.1-29.3h0m0 25.7h0m0 0h0m0 2.7h0m.1 1.1h0m0 .7h0m0 3.1h0m0 1.3h0m.1-9.8h0m0 .9h0m0 .7h0m0 2.6h0m0 .6h0m0 2.6h0m0 1.3h0m0 1.5h0m.1-6.2h0m0 2.8h0m0 1.9h0m0 .2h0m0 1.1h0m.1-9.6h0m0 2.1h0m.1-1.4h0m0 .9h0m.1-1.9h0m.1-.6h0m.2 11.1h0m0 .7h0m0 21.8h0m0 .3h0m.1 2h0m.1-24.6h0m.2 .4h0m.1-11.4h0m0 10.8h0m.1-9.3h0m.2-.1h0m.3 9.8h0m0 22h0m.3-21.9h0m.3-2h0m0 .7h0m.1-32.5h0m.3 32.2h0m0 .7h0m0 1h0m0 .4h0m.1-1.5h0m.1-10.3h0m0 .2h0m.1 31.8h0m.3-52.7h0m.3 30.6h0m.1 .1h0m0 1.4h0m.1-33.8h0m0 53.9h0m.1-19.6h0m.1-31.6h0m0 30.9h0m.1-31.1h0m0 52.9h0m.2-21.4h0m.1-30.6h0m0 30.7h0m.3-30.9h0m0 .5h0m0 30.4h0m.1 19.2h0m.1-49.9h0m0 30.7h0m.2-30.6h0m.1 18.9h0m0 30.8h0m.2-18.8h0m.2-29.5h0m0 48.4h0m.2-49h0m.1-.2h0m0 .8h0m.1-2h0m0 .2h0m.1 1.4h0m.1 .9h0m0 16.7h0m.1-17.8h0m0 .7h0m.2 1.1h0m.1 46h0m.1-46.3h0m.2-.2h0m0 1.1h0m.1-2.3h0m0 1.3h0m0 28.2h0m.1-28.6h0m0 .9h0m0 45.3h0m.1-46.3h0m0 2h0m0 16h0m.1-19.1h0m0 2.4h0m0 16h0m.1-16.1h0m.1-2.9h0m0 2.1h0m.3 28.1h0m.1-30.2h0m0 2.7h0m0 .1h0m0 .6h0m0 44.1h0m.2-44.3h0m0 .6h0m.1 .3h0m.1-1.3h0m.3 43.8h0m0 1.1h0m.2-44.4h0m0 43.1h0m.2-44.8h0m.4 3h0m.1-.8h0m0 27.5h0m.2-25.8h0m0 13.6h0m.1-13.7h0m0 25h0m.2-25.6h0m0 .6h0m0 25.2h0m.2-26h0m.1-1.8h0m0 2.7h0m0 40.2h0m.1-41.5h0m.2 .9h0m0 25.4h0m.1-26h0m.2 2h0m.1-1.9h0m.1 41.1h0m.1-41.1h0m0 2h0m.1-2.1h0m0 .3h0m0 2h0m.1 0h0m0 23.6h0m.2-24.4h0m.1-2.7h0m0 41.5h0m.2 .4h0m.1-38.7h0m0 .1h0m0 37.9h0m.2-38.9h0m.1 39.7h0m0 .3h0m.1-41.7h0m0 3.2h0m.1-2.1h0m0 1h0m0 12.3h0m0 13.4h0m.3-.4h0m0 13.1h0m.1-38.3h0m0 17h0m0 21.2h0m.2-12.7h0m.1-26.6h0m.1 1.4h0m0 .9h0m.1-1.3h0m.1-.2h0m0 26h0m.3-26.4h0m.1 .9h0m.1 .2h0m0 11.1h0m.1 13.7h0m0 .9h0m.1-23.8h0m.1-.4h0m0 .7h0m.1-1h0m0 .5h0m.1 .4h0m.1-.7h0m0 35.6h0m.3-34.6h0m0 23.5h0m.2-25.9h0m0 1.9h0m.2-.4h0m0 .1h0m0 34.5h0m.3-35.4h0m.2 .7h0m0 1.2h0m.2-1.6h0m.2 1.1h0m0 .4h0m.1 .3h0m.3 0h0m.1-3h0m0 2.9h0m.1 .9h0m.1 32.6h0m.1-34h0m0 8.5h0m.2 25.5h0m.1-9.8h0m.1-24.2h0m.1-.1h0m.4-.8h0m0 2.9h0m.2-.2h0m.2-.8h0m.1-.1h0m0 1.3h0m.2-.2h0m.3-.2h0m.2 .6h0m.1 29.8h0m.3-30.2h0m.1 5.7h0m0 24.1h0m.1-30.3h0m0 .9h0m0 .7h0m.1-.9h0m.1 .8h0m0 21.8h0m.1-22.9h0m.2-.4h0m.2 .7h0m.1 1.3h0m0 27.8h0m.1-28.3h0m.1 .5h0m1 .4h0m.1 3.5h0m.2-4.8h0m.8 1h0m.1 3.5h0m.8 18.5h0m.7-20.7h0m.3 38.2h0m.8 10.9h0m.4-48.5h0m.2 21h0m1.5 6.9h0m.7-11.3h0m2 20.8h0m2.8-22.1h0m6.1-3.6h0m.5-37.8h0m5.5-1.8h0m.1 38.2h0m2.7 36.9h0m.2-23.1h0m.9 4h0m.2-42.6h0m2.4-9.4h0m14.7 70.7h0m1-11.1h0m2.8-62.3h0m2.8 69h0m14.9-72h0" stroke="#0000ff" stroke-width="0.9" stroke-linecap="square" fill="none"/>
</g>
<circle cx="372" cy="-24.6" r="4.6" fill="#0000c8" stroke="#000070" stroke-width="0.8"/><circle cx="372" cy="-24.6" r="8" fill="none" stroke="#00006a" stroke-width="0.6" opacity="0.7"/>
<circle cx="372" cy="24.7" r="4.6" fill="#0000c8" stroke="#000070" stroke-width="0.8"/><circle cx="372" cy="24.7" r="8" fill="none" stroke="#00006a" stroke-width="0.6" opacity="0.7"/>
<path d="M348.5 0C352 -3 360 -3.6 368.5 -2.6V2.6C360 3.6 352 3 348.5 0Z" fill="#fff"/>
<path d="M358.2 0C361 -3 366 -5 374 -5.2C388 -5.4 400 -5.2 408 -6.5C412 -7.2 416 -7.5 419 -7.2C426 -6 432 -3.5 445.3 -1C432 3 426 6 419 7.2C416 7.5 412 7 408 6.5C400 5.5 388 5.6 374 5.4C366 5 361 3 358.2 0Z" fill="#ff1a1a"/>
<path d="M387.2 -19.3C392 -24 398 -26.5 405.6 -27.4C413 -27.5 418 -23 419.3 -15.5C419 -10 416 -7 410 -5.5H392C396 -8 397 -10 396.4 -10.5C392 -14 390 -17 387.2 -19.3Z" fill="#ee3a3a" opacity="0.92"/>
<path d="M388.8 18C393 23 400 26.5 408.6 27.4C415 26.5 419.5 22 420 15C419.5 10 416 7 410 5.5H392C397 8 399 10 398.7 11.4C395 14 392 16 388.8 18Z" fill="#ee3a3a" opacity="0.92"/>
<path d="M388.2 -15.6h0m.8 31.7h0m0 .2h0m.1-36.2h0m.2 6.5h0m.4 24.8h0m.1-29.6h0m0 38.8h0m0 1.2h0m.1-39.2h0m0 4h0m0 26.7h0m0 4.2h0m.1-34.2h0m0 28.1h0m0 1.7h0m0 4h0m0 4.1h0m.1-38.1h0m0 1h0m.1 1.4h0m0 4.2h0m.1 29.3h0m.1-32.1h0m0 1.5h0m0 21.6h0m.1-19.2h0m.1-10.3h0m.1 7.8h0m.1-9.2h0m0 .8h0m0 30.1h0m0 3.4h0m.1-24.1h0m.1 20.2h0m.1-22.1h0m.1 24.5h0m0 9.3h0m0 2.3h0m.4-46.2h0m0 .2h0m.1 .9h0m0 44.7h0m.1-44.8h0m0 12.5h0m.1-13.8h0m.1-.2h0m.1-1.2h0m0 15.4h0m0 32.4h0m.1-46.4h0m0 .9h0m.1-1.4h0m.1 46h0m.2-12.4h0m.1-33.8h0m0 48.9h0m.1-49.2h0m.1 14.9h0m.3 32.7h0m.1-47.4h0m.3-3h0m0 2.2h0m0 15.9h0m.1 .5h0m.1-.3h0m.1-16.6h0m.2 .7h0m.2 49h0m.3-32.7h0m.4 33.2h0m.1 .6h0m.3-31.8h0m.1 31.5h0m.1-32.7h0m0 14.3h0m.5 .3h0m.2-14.3h0m0 33.6h0m.2-.7h0m.7 .7h0m.8 .5h0m.2-54.8h0m.2 .6h0m.2 54.2h0m.2-54h0m.5 54.4h0m1.7 .9h0m.5-56.6h0m.3 56.7h0m.3-.5h0m0 .6h0m0 .2h0m.3-57h0m.2 .1h0m.2 56.2h0m.6 .9h0m.1-57.3h0m.3-.7h0m.5-1.7h0m0 1.2h0m.1 1.2h0m.7-.4h0m0 .1h0m.9-.6h0m.4 .2h0m.9 57.6h0m.4-57.3h0m.4 56.5h0m.3-55.8h0m0 .1h0m.2-1.5h0m.4 .5h0m0 1h0m.1-.4h0m.2 58.1h0m.4-58.3h0m.1 .5h0m.2-.2h0m.2-.1h0m.3 1h0m.1 .1h0m1.2 55h0m.2-1.1h0m.1-20.4h0m.3 21.7h0m.1-34.2h0m.1-20.3h0m0 54h0m.5-33.8h0m0 .2h0m.5 13.2h0m.2-.4h0m0 19.7h0m.2-32.5h0m0 32.2h0m.1 1.6h0m.2-54.2h0m0 20.5h0m.1-19.4h0m.1 32.8h0m.2 18.5h0m.4-19.2h0m0 1.1h0m.2-14.4h0m.1-20.6h0m0 52.5h0m.1-17.5h0m.1 17.9h0m.3-51.1h0m.3 32.3h0m0 1.3h0m0 0h0m.1-.4h0m0 17.6h0m.1-50h0m0 48.4h0m.2-32.7h0m0 17.2h0m0 15.4h0m.1 .1h0m.1-32.6h0m.1 32.7h0m.2-14.2h0m.1-17.6h0m.1-16h0m.4 .7h0m0 12.7h0m0 .7h0m0 33.3h0m.1-33.3h0m.1 .6h0m.8-15.5h0m0 33.4h0m.1-20.9h0m0 23.7h0m.1-31.9h0m.2-1.2h0m.1 32.8h0m.1 9.4h0m.2-39.5h0m0 32.9h0m.1-28.2h0m.1-4.9h0m0 1.6h0m0 34h0m0 2.4h0m0 .7h0m.1-37.8h0m0 3.4h0m0 27.6h0m0 2.8h0m0 4.6h0m0 1.9h0m.1-45h0m0 5.4h0m0 2.2h0m0 33.9h0m.2-33.4h0m0 .5h0m.1 30.5h0m0 6.1h0m.1-38.5h0m0 31.6h0m.1-34.5h0m0 36.8h0m.1-1.1h0m.1-36.5h0m.1 35.1h0m.2-28.2h0m0 24.5h0m0 1.7h0m.2 1.7h0m0 1.4h0m0 0h0m.2-36.7h0m0 3.4h0m.3 3.4h0m.7 37.2h0m2.7-19.4h0m.3 .9h0m.1-5.9h0m0 .7h0m0 .1h0m.2-1h0m.4 3.9h0m.2 .7h0m.1-4.8h0m.1-3.5h0m0 6.5h0m.1 0h0m.5 .6h0m.3-6.2h0m.4 3.7h0m.2 4.5h0m.1-8.6h0m0 5.5h0m.1-.3h0m.1-2.6h0m0 6.3h0m.1-4.6h0m.1-6.9h0m.3 1.9h0m0 9.5h0m.1-9.7h0m.4 2.2h0m0 2.8h0m0 1.6h0m0 3.4h0m.1-1.2h0m.5-1.5h0m.2-2.1h0m0 3.1h0m.1-4h0m.1 6.1h0m.1-7h0m.3-3.3h0m0 4.9h0m.1 .4h0m.3-4.3h0m.3-1.8h0m.2 5.7h0m.2-2.1h0m.2 3.2h0m.1-3.7h0m0 7.3h0m.1-3.3h0m.1-1.5h0m.2-3.6h0m.4-.7h0m0 6.8h0m.7 .7h0m.2-5.5h0m.2 2.8h0m.2-3.7h0m.1 4.7h0m.2 .7h0m.4-.6h0m.6-.8h0m.1 1.7h0m.1-.4h0m.3-.5h0m.4-.7h0m.2-1h0m0 1.7h0m.3-3.3h0m.1-4.3h0m.3 4.9h0m.1-.6h0m.4 2.7h0m.1 1.2h0m.2-.6h0m0 2.9h0m0 1.8h0m.2-9.1h0m0 2.9h0m.1-2.8h0m.1-1.1h0m0 1.9h0m.1 .3h0m.3 2.8h0m.6 1.2h0m.4-5.8h0m0 1.8h0m.6-1.5h0m.6 6.6h0m.2-5.6h0m0 .3h0m.1 .2h0m.4 1.6h0m0 .6h0m.3-2h0m0 1.4h0m.1 4.1h0m.2-3.9h0m.1-.6h0m.3-3.3h0m.1 6.3h0m.3 .9h0m.2-9.7h0m.1 7.6h0m.4-2.2h0m.2 .6h0m0 1.4h0m.6-.7h0m1-4.3h0m.1 2.6h0m.6 1.5h0m.1-1.7h0m0 .2h0m.5 1.5h0m.1 1.4h0m.1-1.2h0m.2 1.2h0m.1-3.5h0m0 .7h0m.1-.5h0m.1-.6h0m.2 3.3h0" stroke="#f03030" stroke-width="0.8" stroke-linecap="square" fill="none"/>
<circle cx="418.8" cy="-0.3" r="9.5" fill="none" stroke="#5a1010" stroke-width="0.6"/>
<circle cx="418.8" cy="-0.3" r="6.5" fill="none" stroke="#5a1010" stroke-width="0.6"/>
<circle cx="418.8" cy="-0.3" r="3.8" fill="none" stroke="#5a1010" stroke-width="0.6"/>
<circle cx="418.8" cy="-0.3" r="1.8" fill="none" stroke="#5a1010" stroke-width="0.6"/>
<path d="M379 -6A22 22 0 0 0 399.5 -3.8A22 22 0 0 0 420 -17M379 5A22 22 0 0 1 399.5 2.6A22 22 0 0 1 420 16" fill="none" stroke="#401010" stroke-width="1.1" opacity="0.7"/>
<rect x="179" y="-31" width="17.6" height="62" rx="5.5" ry="6" fill="none" stroke="#1a1a1a" stroke-width="1.4"/>
<circle cx="241.5" cy="-14.8" r="8.3" fill="none" stroke="#445" stroke-width="0.6"/>
<circle cx="241.5" cy="14.7" r="8.3" fill="none" stroke="#445" stroke-width="0.6"/>
</g></g>
<clipPath id="cb"><rect x="25" y="446.2" width="513.5" height="112.4"/></clipPath>
<g clip-path="url(#cb)"><g transform="translate(0 502.2)">
<path d="M25 -60H116A216.5 216.5 0 0 1 116 60H25Z" fill="url(#gl)"/>
<path d="M100 -30.3H322C340 -31 352 -39.5 371.8 -42.2V42.2C352 39.5 340 30 322 29.3H100Z" fill="url(#gt)"/>
<path d="M461 -40.6C472 -40.5 480 -38.5 489 -35.3C496 -32.5 499 -30.5 505 -29.8C515 -29 524 -29.2 534.8 -29.2V25.2C524 25.5 515 27 504 29C498 30.5 494 33.5 489 35.8C480 39.5 472 41 461 41.1Z" fill="url(#ge)"/>
<path d="M466 -9H480C491 -8.5 497.5 -4 497.5 0S491 8.5 480 9H466Z" fill="#f6f6f6"/><path d="M467 -7H481C490 -6.8 495 -3 495 0S490 6.8 481 7H467Z" fill="#fff"/>
<path d="M534.6 -29.2V25.2" stroke="#aaa" stroke-width="0.5"/>
<ellipse cx="417.8" cy="0" rx="60" ry="56" fill="#e7e7e7" fill-opacity="0.9" stroke="#3a3a3a" stroke-width="0.8"/>
<path d="M366 -2.8C380 -3.6 398 -3.8 410 -3.2V3.2C398 3.8 380 3.6 366 2.8Z" fill="#f5f5f5"/>
<path d="M96.4 -37.6C101 -35.8 105 -34.3 110.3 -33.2C115 -32.2 119 -31.8 126 -30.5V29.5C119 30.6 115 31.4 110.3 32.6C105 34 101 36 96.4 38C100.5 30 100.6 -29 96.4 -37.6Z" fill="#d2d2d2" opacity="0.6"/>
<path d="M79.9 -54.9C84 -53 87 -49.5 89.4 -47.1C93 -43.5 95 -40.5 96.4 -37.6C98.5 -34 99.3 -30.5 99.5 -27.1C100.3 -18 100.3 18 99.5 26.7C99.2 30.5 98.3 34.5 96.4 38C95 41 93 44 89.4 47.4C87 49.8 84 53 79.9 54.9C76.5 52 74.2 47 72.6 41.5C71 36 70.6 31 70.4 26.7C69.4 18 69.4 -18 70 -28.9C70.3 -33 70.8 -39 72.1 -44.5C73.6 -49 76 -52.5 79.9 -54.9Z" fill="#e6e6e6" opacity="0.75"/>
<path d="M79.9 -54.9C84 -53 87 -49.5 89.4 -47.1C93 -43.5 95 -40.5 96.4 -37.6C98.5 -34 99.3 -30.5 99.5 -27.1C100.3 -18 100.3 18 99.5 26.7C99.2 30.5 98.3 34.5 96.4 38C95 41 93 44 89.4 47.4C87 49.8 84 53 79.9 54.9C76.5 52 74.2 47 72.6 41.5C71 36 70.6 31 70.4 26.7C69.4 18 69.4 -18 70 -28.9C70.3 -33 70.8 -39 72.1 -44.5C73.6 -49 76 -52.5 79.9 -54.9Z" fill="none" stroke="#5a5a5a" stroke-width="0.55"/>
<path d="M96.4 -37.6C101 -35.8 105 -34.3 110.3 -33.2C115 -32.2 119 -31.8 126 -30.5M96.4 38C101 36 105 34 110.3 32.6C115 31.4 119 30.6 126 29.5" fill="none" stroke="#6a6a6a" stroke-width="0.5"/>
<path d="M52.3 -57C46.5 -38 43.1 -19 43.1 0S46.5 38 52.3 57M116.8 -57A216.5 216.5 0 0 1 116.8 57" fill="none" stroke="#5a5a5a" stroke-width="0.55"/>
<path d="M32 0.2h3.5M42.8 -1.5v3.5M72 -26l3 1M70.5 26l2.5 -0.7M81 37l9 -3M103.5 21.5h11M121 20.5h4.5M104 -16l10 4" fill="none" stroke="#4a4a4a" stroke-width="0.6"/>
<path d="M86.8 -13C98 -13 108 -12.5 117 -11.3C126 -9.5 131.5 -5 133.7 0C131.5 5 126 9.5 117 11.3C108 12.5 98 13 86.8 13Z" fill="#d0d0d0" opacity="0.75"/>
<path d="M86.8 -13C98 -13 108 -12.5 117 -11.3C126 -9.5 131.5 -5 133.7 0C131.5 5 126 9.5 117 11.3C108 12.5 98 13 86.8 13Z" fill="none" stroke="#5a5a5a" stroke-width="0.55"/>
<path d="M97.3 -5.5C108 -7.5 120 -5 124 0C120 5 108 7.5 97.3 5.5" fill="none" stroke="#6a6a6a" stroke-width="0.45"/>
<ellipse cx="86.8" cy="0" rx="4.6" ry="13" fill="#d4d4d4" stroke="#5a5a5a" stroke-width="0.55"/>
<ellipse cx="88.2" cy="0" rx="2.7" ry="8" fill="#ececec" stroke="#5a5a5a" stroke-width="0.55"/>
<ellipse cx="97.3" cy="0" rx="2.2" ry="5.5" fill="#c8c8c8" stroke="#5a5a5a" stroke-width="0.55"/>
<path d="M126 -30.3H322C340 -31 352 -39.5 371.8 -42.2V42.2C352 39.5 340 30 322 29.3H126" fill="none" stroke="#777" stroke-width="0.5"/>
<circle cx="394.0" cy="-25.3" r="22" fill="#d6d6d6" fill-opacity="0.6" stroke="#3a3a3a" stroke-width="0.9"/>
<circle cx="398.5" cy="-25.3" r="22" fill="url(#gv)" fill-opacity="0.85" stroke="#2a2a2a" stroke-width="1.3"/>
<circle cx="398.5" cy="-25.3" r="19.4" fill="none" stroke="#444" stroke-width="0.6"/>
<circle cx="397.9" cy="-24.900000000000002" r="20.8" fill="none" stroke="#333" stroke-width="0.6"/>
<circle cx="400.0" cy="-24.3" r="23.6" fill="none" stroke="#555" stroke-width="0.5"/>
<circle cx="394.0" cy="24.7" r="22" fill="#d6d6d6" fill-opacity="0.6" stroke="#3a3a3a" stroke-width="0.9"/>
<circle cx="398.5" cy="24.7" r="22" fill="url(#gv)" fill-opacity="0.85" stroke="#2a2a2a" stroke-width="1.3"/>
<circle cx="398.5" cy="24.7" r="19.4" fill="none" stroke="#444" stroke-width="0.6"/>
<circle cx="397.9" cy="25.099999999999998" r="20.8" fill="none" stroke="#333" stroke-width="0.6"/>
<circle cx="400.0" cy="25.7" r="23.6" fill="none" stroke="#555" stroke-width="0.5"/>
<circle cx="445.3" cy="-25.3" r="19.3" fill="url(#gv)" fill-opacity="0.85" stroke="#2a2a2a" stroke-width="1.3"/>
<circle cx="445.3" cy="-25.3" r="16.7" fill="none" stroke="#444" stroke-width="0.6"/>
<circle cx="444.7" cy="-24.900000000000002" r="18.1" fill="none" stroke="#333" stroke-width="0.6"/>
<circle cx="446.8" cy="-24.3" r="20.900000000000002" fill="none" stroke="#555" stroke-width="0.5"/>
<circle cx="445.3" cy="24.8" r="19.3" fill="url(#gv)" fill-opacity="0.85" stroke="#2a2a2a" stroke-width="1.3"/>
<circle cx="445.3" cy="24.8" r="16.7" fill="none" stroke="#444" stroke-width="0.6"/>
<circle cx="444.7" cy="25.2" r="18.1" fill="none" stroke="#333" stroke-width="0.6"/>
<circle cx="446.8" cy="25.8" r="20.900000000000002" fill="none" stroke="#555" stroke-width="0.5"/>
<circle cx="372" cy="-24.6" r="9.3" fill="#cdcdcd" fill-opacity="0.5" stroke="#333" stroke-width="0.7"/>
<circle cx="372" cy="-24.6" r="5" fill="none" stroke="#333" stroke-width="0.8"/>
<circle cx="372" cy="-24.6" r="2.8" fill="none" stroke="#333" stroke-width="0.6"/>
<circle cx="372" cy="24.7" r="9.3" fill="#cdcdcd" fill-opacity="0.5" stroke="#333" stroke-width="0.7"/>
<circle cx="372" cy="24.7" r="5" fill="none" stroke="#333" stroke-width="0.8"/>
<circle cx="372" cy="24.7" r="2.8" fill="none" stroke="#333" stroke-width="0.6"/>
<circle cx="465" cy="-25.3" r="8.8" fill="#cdcdcd" fill-opacity="0.5" stroke="#333" stroke-width="0.7"/>
<circle cx="465" cy="-25.3" r="5" fill="none" stroke="#333" stroke-width="0.8"/>
<circle cx="465" cy="-25.3" r="2.8" fill="none" stroke="#333" stroke-width="0.6"/>
<circle cx="465" cy="24.8" r="8.8" fill="#cdcdcd" fill-opacity="0.5" stroke="#333" stroke-width="0.7"/>
<circle cx="465" cy="24.8" r="5" fill="none" stroke="#333" stroke-width="0.8"/>
<circle cx="465" cy="24.8" r="2.8" fill="none" stroke="#333" stroke-width="0.6"/>
<ellipse cx="380" cy="-24.6" rx="8.7" ry="7.5" fill="none" stroke="#555" stroke-width="0.5"/>
<ellipse cx="380" cy="24.7" rx="8.7" ry="7.5" fill="none" stroke="#555" stroke-width="0.5"/>
<ellipse cx="459.5" cy="-25.3" rx="8.7" ry="7.5" fill="none" stroke="#555" stroke-width="0.5"/>
<ellipse cx="459.5" cy="24.8" rx="8.7" ry="7.5" fill="none" stroke="#555" stroke-width="0.5"/>
<circle cx="418.8" cy="-0.3" r="9.5" fill="none" stroke="#444" stroke-width="0.6"/>
<circle cx="418.8" cy="-0.3" r="6.5" fill="none" stroke="#444" stroke-width="0.6"/>
<circle cx="418.8" cy="-0.3" r="3.8" fill="none" stroke="#444" stroke-width="0.6"/>
<circle cx="418.8" cy="-0.3" r="1.8" fill="none" stroke="#444" stroke-width="0.6"/>
<path d="M467.2 -33V33M467.2 -7H470.5A7 7 0 0 1 470.5 7H467.2" fill="none" stroke="#4a4a4a" stroke-width="0.6"/>
<path d="M484 -15l4 1M490 -8l3 2M487 12l6 -2M482 17l5 -1.5M498 21l6 -1.5M515 -18l4 0.5M522 -17l4 0.5M520 22l2 -1M506 -2l3 -0.5M478 27l8 -2" fill="none" stroke="#4a4a4a" stroke-width="0.6"/>
<rect x="179" y="-31" width="17.6" height="62" rx="5.5" ry="6" fill="none" stroke="#1a1a1a" stroke-width="1.4"/>
<path d="M217.7 -31V31M271 -31V31M217.7 -29H271M217.7 29H271M227 -31v4M227 31v-4" fill="none" stroke="#555" stroke-width="0.6"/>
<path d="M153.0 -7.2L160.0 -8.8L166.7 -9.8L179.4 -11.9L187.8 -14.7L196.3 -16.0L197.6 -16.0L197.6 17.0L196.3 17.0L187.8 15.5L179.4 12.7L166.7 10.6L160.0 9.4L153.0 8.0ZM200.3 -16.8L210.3 -19.0L218.8 -20.6L227.0 -21.0L281.3 -21.0L283.0 -19.0L289.0 -15.5L296.0 -14.0L296.0 15.5L289.0 16.5L283.0 18.6L281.3 20.5L227.0 20.5L218.8 19.8L210.3 19.0L200.3 18.4Z" fill="#1c1c1c"/>
<path d="M151.0 -7.4V8.4M151.9 -8.0V9.0M152.9 -4.9V5.9M153.8 -4.8V5.8M154.8 -4.6V5.6M155.8 -4.7V5.7M156.7 -4.6V5.6M157.7 -7.1V8.1M158.6 -7.4V8.4M284.0 -17.3V18.3M284.8 -19.1V20.1M285.6 -19.0V20.0M286.3 -19.2V20.2M287.1 -17.4V18.4M287.9 -18.1V19.1M288.7 -15.0V16.0M289.5 -19.1V20.1M290.2 -18.4V19.4M291.0 -14.8V15.8M291.8 -15.7V16.7M292.6 -18.7V19.7M293.4 -16.3V17.3M294.1 -18.0V19.0M294.9 -18.2V19.2M295.7 -17.7V18.7M296.5 -14.5V15.5M297.3 -15.5V16.5M298.0 -15.7V16.7M298.8 -17.8V18.8M299.6 -14.8V15.8M300.4 -17.3V18.3M301.2 -14.8V15.8M301.9 -16.0V17.0M302.7 -13.8V14.8M303.5 -13.1V14.1M261.8 18.0V22.5M260.3 18.0V22.6M211.1 18.0V22.1M233.0 18.0V20.8M259.2 -18.0V-23.3M243.9 18.0V20.5M226.5 18.0V23.3M272.6 -18.0V-22.1M264.3 18.0V21.0M271.6 18.0V22.2M272.7 18.0V21.3M213.0 18.0V21.3M235.2 -18.0V-23.1M281.9 18.0V20.0M258.4 18.0V23.3M218.3 -18.0V-20.1M230.6 18.0V21.1M201.9 -18.0V-23.0M266.2 18.0V20.1M208.0 -18.0V-22.4M276.9 18.0V23.2M222.6 18.0V20.9M249.2 18.0V22.4M211.7 -18.0V-20.4M210.9 -18.0V-20.3M257.0 18.0V21.4M280.6 -18.0V-22.9M281.9 -18.0V-22.4M271.5 18.0V22.8M230.5 -18.0V-20.2M222.4 18.0V20.7M265.8 -18.0V-22.0M252.5 -18.0V-23.2M221.4 -18.0V-20.4M245.9 18.0V21.1M257.2 -18.0V-21.5M282.1 18.0V22.3M218.4 -18.0V-22.9M262.4 -18.0V-23.4M254.6 -18.0V-20.3M213.3 18.0V21.7M255.7 -18.0V-22.5M207.1 -18.0V-22.5M206.7 -18.0V-21.1M206.7 18.0V21.8M214.4 18.0V21.0M217.7 -18.0V-22.2M242.1 18.0V20.7M204.0 18.0V20.2M257.3 -18.0V-22.8M224.1 -18.0V-23.1M262.5 -18.0V-21.8M227.3 -18.0V-23.1M269.9 18.0V21.7M282.3 18.0V21.4M239.9 18.0V22.7M221.9 18.0V21.0M220.9 -18.0V-21.8M263.3 18.0V22.3M206.7 -18.0V-21.0M229.8 18.0V20.3M274.0 -18.0V-23.1M246.4 18.0V20.3M214.0 18.0V20.4M251.5 18.0V21.1M232.6 18.0V23.1M227.7 18.0V23.1M201.8 -18.0V-20.1M252.5 -18.0V-21.1M202.8 -18.0V-22.4" stroke="#1c1c1c" stroke-width="0.75" fill="none"/>
<path d="M150.5 -8.8h0m1.5-.1h0m.1 .4h0m.2 17.7h0m.5 .5h0m3 .3h0m1.4-20.2h0m.4 21.6h0m.7-22.4h0m.8 21.5h0m.4-.1h0m.4 .7h0m.2 .2h0m.2-22.7h0m1.5 1h0m.3 21.8h0m2.8-24.1h0m.1 1.4h0m.2 23.4h0m.6-24.1h0m.1 .8h0m.8-.3h0m1 24.7h0m.2-.3h0m.3 .3h0m.7-25.7h0m.4 .5h0m.6 24h0m.1-25.2h0m.3 0h0m0 25.2h0m1.9-25h0m.4-.2h0m.1 25.8h0m2.6-26.8h0m1.4 28.6h0m2.9 .5h0m2.7-.7h0m.6 1h0m.2-29.8h0m.5 30.5h0m.4-30.8h0m.3-.1h0m.1 29.5h0m.5 1.2h0m1.1-.1h0m.9-31.9h0m1.2 .2h0m0 32.2h0m.2-32h0m.8-.4h0m.8 .6h0m1-.7h0m.1 32.5h0m.8-32.3h0m1.3-.6h0m1.2-.1h0m1.1-.5h0m.3 34.5h0m.9-35.1h0m8.6 42.9h0m.2-46.5h0m.3-1.9h0m.2 0h0m.1 46.2h0m.1-47.6h0m.4 48.8h0m.5-47.2h0m0 45.3h0m.2-48h0m0 3.1h0m.1 .6h0m.1 44.1h0m.2 4h0m.1-47.4h0m0 43.3h0m.1 1h0m.3 2h0m.9-48.3h0m.5 45.8h0m.6 0h0m.1-44.4h0m0 46.9h0m.9-2.1h0m.8-45.3h0m.1 .3h0m.7-1.2h0m.1 0h0m0 1.3h0m.3 46.2h0m.1-45.5h0m.6 43.2h0m.9-43.5h0m0 .3h0m.2 45.5h0m.6-1.8h0m.1-44.7h0m.4 46.2h0m.2-.6h0m.2-1.5h0m.2 4.6h0m1.4-50.6h0m.2 0h0m.2 3h0m.2 43h0m.3 4.5h0m.1-47.8h0m.4 44.3h0m2.2 4h0m1.2-48.8h0m.1-3.4h0m.3-1h0m.6 1.2h0m.1 2h0m.2-.7h0m.9 48.9h0m.5-46.5h0m.1 45.1h0m.6-.2h0m.7-.1h0m.2-46.4h0m.2 .7h0m.1-.1h0m.6 44.7h0m.1-.2h0m.3 1.5h0m.1-45.7h0m.5 44.1h0m.1 1.5h0m.4 1.6h0m.8-47.9h0m.1-2.8h0m.1-.1h0m.9 49h0m.1 .3h0m.1-.4h0m.1 2.5h0m.1-51.1h0m0 47.8h0m.2-46.2h0m.2 .5h0m.1-1h0m.4 46.2h0m.2 2.5h0m.5-47.5h0m.1 .7h0m.1-.5h0m.1 46.1h0m.1-1h0m.4 0h0m.8 1.3h0m.1-1.3h0m.1 .4h0m.4-.4h0m.1-43.9h0m.2 45h0m.1-45.2h0m.6 45h0m.6-45.7h0m.7-1.1h0m0 46.4h0m.2 .9h0m.1 2.4h0m.1-48.7h0m0 1.6h0m.5-2.6h0m.3 1.4h0m1.6-.5h0m.5 45.4h0m.8-45h0m.1 45.6h0m.4 1.3h0m.3-45.8h0m.3-.2h0m.6 .2h0m.2-.9h0m.8 44.3h0m.4-45.4h0m0 .5h0m.6-.1h0m0 46.2h0m1.4-.5h0m.2 1.3h0m.4-45.8h0m.3-.2h0m0 .6h0m.4 46.4h0m.2-46.3h0m0 46h0m.2-1.9h0m.3 .5h0m.2 0h0m.7-47.7h0m.4 2.5h0m.2 45.4h0m.8-48.4h0m.1 3.2h0m.1 43.7h0m.2-44.3h0m0 45.2h0m.3 1h0m1.9-47.1h0m0 47.4h0m.5-46.1h0m1.7 45.3h0m.1-1.6h0m.2-46.5h0m.4 2.2h0m.9 44.5h0m.5-46.3h0m0 47.2h0m1.3-.2h0m.7-46.5h0m.6 1.2h0m1.7 1.4h0m.3 43.9h0m.3-45.8h0m.1 46.2h0m.1-48.2h0m0 2h0m.1-.3h0m.4 .2h0m.3 .4h0m0 46.7h0m.3-49.3h0m0 3.5h0m.2 43.8h0m0 .3h0m.1-.2h0m.4-45.2h0m.4 .9h0m.1 47h0m.2-47h0m1.1 46.2h0m.1 .1h0m.1-46.4h0m1.1 45h0m.6 0h0m.6-.4h0m.4-.4h0m.1-45.7h0m.1 .3h0m0 47h0m.1-45.7h0m.2 45.7h0m.1-47.5h0m.2 46.6h0m.1 .3h0m.8-46.3h0m.1 47.8h0m.5 .6h0m.2-1.5h0m.1-.2h0m.1-46.4h0m.2-2.6h0m.2 49.6h0m.8-46.7h0m1.3 1.5h0m.6 43.8h0m1.1-44.3h0m.3-.3h0m.3-1.5h0m.2 .2h0m.1 45.7h0m1.3-45h0m.3-.7h0m.1 .3h0m.1 45.3h0m.6 1.2h0m.4-1.3h0m.1 1h0m.5-.6h0m.1 1.3h0m.1-47.1h0m.1 1h0m.2 .2h0m0 .2h0m.3 45.8h0m.6 .6h0m.2-1.9h0" stroke="#1c1c1c" stroke-width="0.7" stroke-linecap="square" fill="none" opacity="0.8"/>
<path d="M272.3 -21V21M281.8 -20V20" stroke="#8a8a8a" stroke-width="0.7" opacity="0.8"/>
<path d="M155.5 -6V6M158 -5V5M161 -4V3" stroke="#999" stroke-width="0.6" opacity="0.7"/>
<circle cx="241.4" cy="-14.7" r="7.2" fill="#f0f0f0" stroke="#666" stroke-width="0.6"/>
<circle cx="241.6" cy="14.1" r="7.2" fill="#f0f0f0" stroke="#666" stroke-width="0.6"/>
<path d="M246.5 -19.5a3.5 5 0 0 1 0 9.5a7 7 0 0 0 -1.5 -4.5a4 4 0 0 0 1.5 -5zM243 10.5h2.5v4h-2.5zM239 12.5h1.5v2h-1.5zM246 9a8 8 0 0 1 2 8z" fill="#1c1c1c"/>
<path d="M234.5 -6V6.5M239.5 -4V4M243.5 -4V4M236 -5H245.5M236 5.5H245.5" stroke="#e4e4e4" stroke-width="1" fill="none"/>
<path d="M324.1 -1.2h0m.1 1.3h0m.2-2.1h0m.4 2.3h0m.1-4h0m.2 3.9h0m0 4.5h0m.4-7.1h0m.4-3.2h0m.3 12.7h0m.2-14.1h0m.6 9.9h0m.1 3.7h0m.1-5.3h0m.6-3.3h0m.2 .2h0m.2 3.9h0m.6 .5h0m.3-4h0m.3 2.2h0m.2-5.1h0m.1-.1h0m.5 .8h0m.1 1h0m.7 5.6h0m.4 .3h0m.3-5.5h0m.4-5h0m.1 7.2h0m.5-1.1h0m.1 3.4h0m.2-4.8h0m.1 5.8h0m.3-2.2h0m.3-2.1h0m.8 9.9h0m.2-9.6h0m.1-6.3h0m0 5h0m.3 .4h0m.3-2.7h0m.2 12.2h0m.2-14.7h0m.3-11h0m0 19.8h0m.1-3.1h0m.1-3.4h0m.1 1.3h0m.4-.6h0m.3-2.8h0m0 7.7h0m.7-7.5h0m.6 4.5h0m0 2.6h0m.1-.4h0m.1 1.1h0m.1-3.9h0m0 .7h0m0 5.9h0m.2-.4h0m.2-13.4h0m0 9.8h0m.4 1.9h0m0 .1h0m.2-7.2h0m0 5.7h0m.1-.5h0m.1-2h0m.2 .3h0m0 1.9h0m.2-9.5h0m0 17.4h0m.2-9.2h0m.2-.6h0m0 1.8h0m.1 2.8h0m.2 1.9h0m.3-5.4h0m.2-4.6h0m0 6.2h0m0 3.9h0m.2-1.7h0m.1-7.1h0m0 5h0m0 3.6h0m.1-3.9h0m0 .5h0m0 7.3h0m.1-12.7h0m.5 1.3h0m0 1.7h0m0 2.5h0m.1-4.5h0m.1 5.9h0m.2-11.2h0m0 17.9h0m.1-13h0m0 9h0m.1-5.1h0m0 .3h0m.1-5.6h0m0 1.3h0m0 4.9h0m0 1.8h0m.1-9.4h0m0 4.3h0m.1-.4h0m.1 5.2h0m.1-3.7h0m0 2.2h0m0 4.9h0m.2-8.6h0m.1 8h0m.1-15.8h0m0 6.4h0m.1-7h0m0 11.7h0m.1 3.8h0m0 3h0m.1-8.8h0m.1 1.6h0m0 .4h0m0 .1h0m0 3.6h0m.1-8.7h0m0 3.9h0m.1-13.3h0m0 14.7h0m0 1.8h0m0 1.2h0m.1-12.6h0m0 9.4h0m0 5.5h0m.1-10.2h0m0 1.8h0m.1-4.9h0m0 3.3h0m0 .8h0m0 1.2h0m0 .5h0m0 .8h0m0 .6h0m0 .4h0m.1-5.6h0m0 .8h0m0 3.8h0m0 .1h0m0 0h0m0 .4h0m.1-1.2h0m0 .9h0m0 .3h0m0 2.2h0m.1-2.6h0m0 1.2h0m.1-9.7h0m0 .6h0m0 5.3h0m0 2.7h0m0 5.4h0m.1-7.9h0m0 5.6h0m.1-.1h0m.1-6.6h0m0 2.8h0m0 1.1h0m0 .2h0m0 2.4h0m.1-1.1h0m0 1.3h0m0 .1h0m.1-13.8h0m0 9.7h0m.1-1.1h0m0 .5h0m0 1.7h0m0 1.8h0m0 1h0m.1-5h0m0 3.5h0m0 .5h0m.1-3.5h0m0 4.8h0m0 .4h0m.1-11.3h0m0 1.5h0m0 8.7h0m.1 3.1h0m.2-2.9h0m0 0h0m.1-5.2h0m0 1.7h0m0 3.6h0m.1-4.9h0m0 3h0m0 1.6h0m0 .9h0m0 .3h0m.1 .2h0m.1-3.2h0m.1 2.6h0m.2-5.1h0m.1 3.5h0m.3-6.6h0m0 2.5h0m0 3.8h0m0 3.6h0m0 .3h0m.1-13.1h0m0 9.2h0m.1-13.8h0m0 8.7h0m.1-10.9h0m0 14.3h0m.1-5.2h0m.1 8h0m.3-18.2h0m0 10.3h0m0 6.8h0m.1-2.2h0m.4-1.6h0m.3-3.7h0m0 11.8h0m.6-7.8h0m.2 10.6h0m.3-6.1h0m0 5.3h0m.6-11.1h0m.2 7.6h0m.2-.5h0" stroke="#222" stroke-width="0.8" stroke-linecap="square" fill="none" opacity="0.85"/>
<path d="M348.5 0C352 -3 360 -3.6 368.5 -2.6V2.6C360 3.6 352 3 348.5 0Z" fill="#fff"/>
<ellipse cx="363" cy="0" rx="2.6" ry="3.2" fill="none" stroke="#555" stroke-width="0.5"/>
<rect x="179" y="-31" width="17.6" height="62" rx="5.5" ry="6" fill="none" stroke="#1a1a1a" stroke-width="1.4"/>
</g></g>
<path d="M25 445.6H538" stroke="#ececec" stroke-width="1"/>
<text x="30.2" y="442" font-size="11.4" fill="#1e1e1e" textLength="74.2" lengthAdjust="spacingAndGlyphs">Crank Angle:</text>
<text x="111.4" y="442" font-size="11.4" fill="#1e1e1e" textLength="19.6" lengthAdjust="spacingAndGlyphs">460</text>
<text x="134.8" y="442" font-size="11.4" fill="#1e1e1e" textLength="18.5" lengthAdjust="spacingAndGlyphs">deg</text>
<text x="161.4" y="442" font-size="11.4" fill="#1e1e1e" textLength="35.2" lengthAdjust="spacingAndGlyphs">aTDCf</text>
<text x="224" y="347.8" font-size="17.3" fill="#0000ff" textLength="42.8" lengthAdjust="spacingAndGlyphs">water</text>
<text x="399.7" y="326.4" font-size="17.4" fill="#ff0000" textLength="27.9" lengthAdjust="spacingAndGlyphs">fuel</text>
<text x="185.7" y="558.9" font-size="17.3" fill="#111" textLength="43.6" lengthAdjust="spacingAndGlyphs">water</text>
<text x="233.9" y="558.9" font-size="17.3" fill="#111" textLength="29.0" lengthAdjust="spacingAndGlyphs">wall</text>
<text x="268.2" y="558.9" font-size="17.3" fill="#111" textLength="28.2" lengthAdjust="spacingAndGlyphs">film</text>
<path d="M32.2 431.1H39.8" stroke="#e04040" stroke-width="0.9"/><path d="M40.4 431V435" stroke="#e6e040" stroke-width="0.8"/><circle cx="40.4" cy="430.8" r="0.8" fill="#228822"/>
<path d="M32.5 544.5H41" stroke="#dd3333" stroke-width="1"/><path d="M40.7 545V552.5" stroke="#dddd00" stroke-width="1"/><circle cx="40.7" cy="544.5" r="0.9" fill="#228822"/>
</g>
<text x="136.8" y="38.9" font-size="21.6" fill="#000" textLength="36.9" lengthAdjust="spacingAndGlyphs">CFD</text>
<text x="181.4" y="38.9" font-size="21.6" fill="#000" textLength="60.7" lengthAdjust="spacingAndGlyphs">model</text>
<text x="249.5" y="38.9" font-size="21.6" fill="#000" textLength="33.6" lengthAdjust="spacingAndGlyphs">and</text>
<text x="290" y="38.9" font-size="21.6" fill="#000" textLength="38.2" lengthAdjust="spacingAndGlyphs">wall</text>
<text x="336.4" y="38.9" font-size="21.6" fill="#000" textLength="35.6" lengthAdjust="spacingAndGlyphs">film</text>
<text x="378.8" y="38.9" font-size="21.6" fill="#000" textLength="91.6" lengthAdjust="spacingAndGlyphs">dynamics</text>
<path d="M136 43H471.3" stroke="#000" stroke-width="1.7"/>
<text x="855.7" y="38.9" font-size="21.6" fill="#000" textLength="37.2" lengthAdjust="spacingAndGlyphs">CFD</text>
<text x="899.7" y="38.9" font-size="21.6" fill="#000" textLength="114.2" lengthAdjust="spacingAndGlyphs">combustion</text>
<text x="1020.8" y="38.9" font-size="21.6" fill="#000" textLength="64.0" lengthAdjust="spacingAndGlyphs">results</text>
<path d="M855.2 43H1084.8" stroke="#000" stroke-width="1.7"/>
<path d="M598.5 278.5H644V235.2L689.7 322L644 408.8V364.6H598.5Z" fill="#fff" stroke="#000" stroke-width="1"/>
<rect x="1027.5" y="167.5" width="231.2" height="54" fill="#fff" stroke="#000" stroke-width="1"/>
<text x="1038" y="187.4" font-size="16.8" fill="#000" textLength="45.5" lengthAdjust="spacingAndGlyphs">Knock</text>
<text x="1087.4" y="187.4" font-size="16.8" fill="#000" textLength="75.2" lengthAdjust="spacingAndGlyphs">sensitivity</text>
<text x="1166.9" y="187.4" font-size="16.8" fill="#000" textLength="15.2" lengthAdjust="spacingAndGlyphs">to</text>
<text x="1187.6" y="187.4" font-size="16.8" fill="#000" textLength="43.9" lengthAdjust="spacingAndGlyphs">water</text>
<text x="1037.6" y="210.8" font-size="16.8" fill="#000" textLength="25.8" lengthAdjust="spacingAndGlyphs">SOI</text>
<text x="1068.8" y="210.8" font-size="16.8" fill="#000" textLength="27.0" lengthAdjust="spacingAndGlyphs">and</text>
<text x="1101" y="210.8" font-size="16.8" fill="#000" textLength="64.5" lengthAdjust="spacingAndGlyphs">injection</text>
<text x="1171.4" y="210.8" font-size="16.8" fill="#000" textLength="66.0" lengthAdjust="spacingAndGlyphs">pressure</text>
<rect x="1028.2" y="462.5" width="230.5" height="55" fill="#fff" stroke="#000" stroke-width="1"/>
<text x="1038" y="483.3" font-size="16.8" fill="#000" textLength="60.1" lengthAdjust="spacingAndGlyphs">Benefits</text>
<text x="1103.6" y="483.3" font-size="16.8" fill="#000" textLength="13.5" lengthAdjust="spacingAndGlyphs">of</text>
<text x="1122.5" y="483.3" font-size="16.8" fill="#000" textLength="43.6" lengthAdjust="spacingAndGlyphs">water</text>
<text x="1172" y="483.3" font-size="16.8" fill="#000" textLength="64.4" lengthAdjust="spacingAndGlyphs">injection</text>
<text x="1038" y="506.8" font-size="16.8" fill="#000" textLength="45.5" lengthAdjust="spacingAndGlyphs">under</text>
<text x="1087.4" y="506.8" font-size="16.8" fill="#000" textLength="39.0" lengthAdjust="spacingAndGlyphs">same</text>
<text x="1131.7" y="506.8" font-size="16.8" fill="#000" textLength="37.1" lengthAdjust="spacingAndGlyphs">KLSA</text>
<rect x="275.5" y="634.5" width="730" height="67.5" fill="#fff" stroke="#000" stroke-width="1"/>
<rect x="287.3" y="649.4" width="6.5" height="6.6" fill="#000"/>
<rect x="287.3" y="678.5" width="6.5" height="6.6" fill="#000"/>
<text x="316" y="660.7" font-size="21.6" fill="#000" textLength="56.4" lengthAdjust="spacingAndGlyphs">Knock</text>
<text x="379.9" y="660.7" font-size="21.6" fill="#000" textLength="93.5" lengthAdjust="spacingAndGlyphs">reduction</text>
<text x="481.4" y="660.7" font-size="21.6" fill="#000" textLength="12.8" lengthAdjust="spacingAndGlyphs">is</text>
<text x="500.1" y="660.7" font-size="21.6" fill="#000" textLength="49.0" lengthAdjust="spacingAndGlyphs">more</text>
<text x="556.5" y="660.7" font-size="21.6" fill="#000" textLength="81.7" lengthAdjust="spacingAndGlyphs">effective</text>
<text x="646.3" y="660.7" font-size="21.6" fill="#000" textLength="41.6" lengthAdjust="spacingAndGlyphs">with</text>
<text x="695.9" y="660.7" font-size="21.6" fill="#000" textLength="40.4" lengthAdjust="spacingAndGlyphs">high</text>
<text x="743.7" y="660.7" font-size="21.6" fill="#000" textLength="30.9" lengthAdjust="spacingAndGlyphs">PW</text>
<text x="784.4" y="660.7" font-size="21.6" fill="#000" textLength="82.2" lengthAdjust="spacingAndGlyphs">injection</text>
<text x="874.1" y="660.7" font-size="21.6" fill="#000" textLength="81.0" lengthAdjust="spacingAndGlyphs">pressure</text>
<text x="316" y="689.5" font-size="21.6" fill="#000" textLength="34.2" lengthAdjust="spacingAndGlyphs">The</text>
<text x="358.2" y="689.5" font-size="21.6" fill="#000" textLength="30.6" lengthAdjust="spacingAndGlyphs">PW</text>
<text x="397.7" y="689.5" font-size="21.6" fill="#000" textLength="81.6" lengthAdjust="spacingAndGlyphs">injection</text>
<text x="486.7" y="689.5" font-size="21.6" fill="#000" textLength="62.4" lengthAdjust="spacingAndGlyphs">timing</text>
<text x="555.6" y="689.5" font-size="21.6" fill="#000" textLength="32.1" lengthAdjust="spacingAndGlyphs">has</text>
<text x="594.2" y="689.5" font-size="21.6" fill="#000" textLength="80.9" lengthAdjust="spacingAndGlyphs">marginal</text>
<text x="683.4" y="689.5" font-size="21.6" fill="#000" textLength="63.3" lengthAdjust="spacingAndGlyphs">effects</text>
<text x="754.7" y="689.5" font-size="21.6" fill="#000" textLength="16.3" lengthAdjust="spacingAndGlyphs">at</text>
<text x="779" y="689.5" font-size="21.6" fill="#000" textLength="30.6" lengthAdjust="spacingAndGlyphs">low</text>
<text x="820" y="689.5" font-size="21.6" fill="#000" textLength="82.3" lengthAdjust="spacingAndGlyphs">injection</text>
<text x="910.6" y="689.5" font-size="21.6" fill="#000" textLength="82.2" lengthAdjust="spacingAndGlyphs">pressure</text>
<g id="chart1">
<path d="M770.5 70.0V282.0H1115.0" fill="none" stroke="#000" stroke-width="1.6"/>
<path d="M770.5 246.75h4.5M770.5 211.50h4.5M770.5 176.25h4.5M770.5 141.00h4.5M770.5 105.75h4.5M770.5 70.50h4.5M813.50 282.0v-4.5M856.50 282.0v-4.5M899.50 282.0v-4.5M942.50 282.0v-4.5M985.50 282.0v-4.5M1028.50 282.0v-4.5M1071.50 282.0v-4.5M1114.50 282.0v-4.5" stroke="#000" stroke-width="1.3" fill="none"/>
<text x="757.5" y="285.9" font-size="11.2" fill="#000" text-anchor="end">0</text>
<text x="757.5" y="250.7" font-size="11.2" fill="#000" text-anchor="end">0.2</text>
<text x="757.5" y="215.4" font-size="11.2" fill="#000" text-anchor="end">0.4</text>
<text x="757.5" y="180.2" font-size="11.2" fill="#000" text-anchor="end">0.6</text>
<text x="757.5" y="144.9" font-size="11.2" fill="#000" text-anchor="end">0.8</text>
<text x="757.5" y="109.7" font-size="11.2" fill="#000" text-anchor="end">1</text>
<text x="757.5" y="74.4" font-size="11.2" fill="#000" text-anchor="end">1.2</text>
<text x="770.0" y="303.5" font-size="11.2" fill="#000" text-anchor="middle">-28</text>
<text x="813.0" y="303.5" font-size="11.2" fill="#000" text-anchor="middle">-26</text>
<text x="856.0" y="303.5" font-size="11.2" fill="#000" text-anchor="middle">-24</text>
<text x="899.0" y="303.5" font-size="11.2" fill="#000" text-anchor="middle">-22</text>
<text x="942.0" y="303.5" font-size="11.2" fill="#000" text-anchor="middle">-20</text>
<text x="985.0" y="303.5" font-size="11.2" fill="#000" text-anchor="middle">-18</text>
<text x="1028.0" y="303.5" font-size="11.2" fill="#000" text-anchor="middle">-16</text>
<text x="1071.0" y="303.5" font-size="11.2" fill="#000" text-anchor="middle">-14</text>
<text x="1114.0" y="303.5" font-size="11.2" fill="#000" text-anchor="middle">-12</text>
<text x="944" y="320.4" font-size="13.1" fill="#000" text-anchor="middle" textLength="94" lengthAdjust="spacingAndGlyphs">SA [CAD aTDCf]</text>
<text transform="translate(731.3 176.9) rotate(-90)" font-size="13.1" text-anchor="middle" textLength="71.5" lengthAdjust="spacingAndGlyphs">MAPO [bar]</text>
<path d="M770.5 105.8L813.5 119.8L856.5 162.1L899.5 259.1L942.5 271.4L985.5 274.1L1028.5 276.7L1071.5 276.7" fill="none" stroke="#ff0000" stroke-width="3.4" stroke-linejoin="round" stroke-linecap="round"/>
<circle cx="770.5" cy="105.8" r="4.3" fill="#fff" stroke="#ff0000" stroke-width="1.4"/>
<circle cx="813.5" cy="119.8" r="4.3" fill="#fff" stroke="#ff0000" stroke-width="1.4"/>
<circle cx="856.5" cy="162.1" r="4.3" fill="#fff" stroke="#ff0000" stroke-width="1.4"/>
<circle cx="899.5" cy="259.1" r="4.3" fill="#fff" stroke="#ff0000" stroke-width="1.4"/>
<circle cx="942.5" cy="271.4" r="4.3" fill="#fff" stroke="#ff0000" stroke-width="1.4"/>
<circle cx="985.5" cy="274.1" r="4.3" fill="#fff" stroke="#ff0000" stroke-width="1.4"/>
<circle cx="1028.5" cy="276.7" r="4.3" fill="#fff" stroke="#ff0000" stroke-width="1.4"/>
<circle cx="1071.5" cy="276.7" r="4.3" fill="#fff" stroke="#ff0000" stroke-width="1.4"/>
<path d="M770.5 185.1L813.5 202.7L856.5 276.7L899.5 276.7L942.5 277.6L985.5 277.6L1028.5 277.6L1071.5 277.6" fill="none" stroke="#00b050" stroke-width="3.2" stroke-linejoin="round" stroke-linecap="round"/>
<rect x="766.3" y="180.9" width="8.4" height="8.4" fill="#fff" stroke="#00b050" stroke-width="1.4"/>
<rect x="809.3" y="198.5" width="8.4" height="8.4" fill="#fff" stroke="#00b050" stroke-width="1.4"/>
<rect x="852.3" y="272.5" width="8.4" height="8.4" fill="#fff" stroke="#00b050" stroke-width="1.4"/>
<rect x="895.3" y="272.5" width="8.4" height="8.4" fill="#fff" stroke="#00b050" stroke-width="1.4"/>
<rect x="938.3" y="273.4" width="8.4" height="8.4" fill="#fff" stroke="#00b050" stroke-width="1.4"/>
<rect x="981.3" y="273.4" width="8.4" height="8.4" fill="#fff" stroke="#00b050" stroke-width="1.4"/>
<rect x="1024.3" y="273.4" width="8.4" height="8.4" fill="#fff" stroke="#00b050" stroke-width="1.4"/>
<rect x="1067.3" y="273.4" width="8.4" height="8.4" fill="#fff" stroke="#00b050" stroke-width="1.4"/>
<path d="M770.5 238.8L813.5 264.4L856.5 276.7L899.5 277.6L942.5 278.5L985.5 279.7L1028.5 278.5L1071.5 278.5" fill="none" stroke="#5b9bd5" stroke-width="2.8" stroke-linejoin="round" stroke-linecap="round"/>
<path d="M770.5 233.8L775.2 242.6H765.8Z" fill="#fff" stroke="#5b9bd5" stroke-width="1.4"/>
<path d="M813.5 259.4L818.2 268.2H808.8Z" fill="#fff" stroke="#5b9bd5" stroke-width="1.4"/>
<path d="M856.5 271.7L861.2 280.5H851.8Z" fill="#fff" stroke="#5b9bd5" stroke-width="1.4"/>
<path d="M899.5 272.6L904.2 281.4H894.8Z" fill="#fff" stroke="#5b9bd5" stroke-width="1.4"/>
<path d="M942.5 273.5L947.2 282.3H937.8Z" fill="#fff" stroke="#5b9bd5" stroke-width="1.4"/>
<path d="M985.5 274.7L990.2 283.5H980.8Z" fill="#fff" stroke="#5b9bd5" stroke-width="1.4"/>
<path d="M1028.5 273.5L1033.2 282.3H1023.8Z" fill="#fff" stroke="#5b9bd5" stroke-width="1.4"/>
<path d="M1071.5 273.5L1076.2 282.3H1066.8Z" fill="#fff" stroke="#5b9bd5" stroke-width="1.4"/>
<path d="M954.5 73H992" stroke="#ff0000" stroke-width="2.6" stroke-linecap="round"/>
<path d="M954.5 91.2H992" stroke="#00b050" stroke-width="2.6" stroke-linecap="round"/>
<path d="M954.5 109.5H992" stroke="#5b9bd5" stroke-width="2.6" stroke-linecap="round"/>
<circle cx="973" cy="73" r="2.2" fill="#fff" stroke="#ff0000" stroke-width="1"/>
<rect x="970.8" y="89" width="4.4" height="4.4" fill="#fff" stroke="#00b050" stroke-width="1"/>
<path d="M973 106.8L975.6 111.6H970.4Z" fill="#fff" stroke="#5b9bd5" stroke-width="1"/>
<text x="996" y="76.2" font-size="8.8" fill="#000" textLength="44.5" lengthAdjust="spacingAndGlyphs">No Water</text>
<text x="996" y="94.4" font-size="8.8" fill="#000" textLength="112.5" lengthAdjust="spacingAndGlyphs">Water 3 bar SOI 0 aTDCf</text>
<text x="996" y="112.7" font-size="8.8" fill="#000" textLength="129.5" lengthAdjust="spacingAndGlyphs">Water 20 bar SOI 300 aTDCf</text>
</g>
<g id="chart2">
<path d="M765.5 347.80000000000007V558.7H1121.5" fill="none" stroke="#000" stroke-width="1.6"/>
<path d="M765.5 532.40h4.5M765.5 506.10h4.5M765.5 479.80h4.5M765.5 453.50h4.5M765.5 427.20h4.5M765.5 400.90h4.5M765.5 374.60h4.5M765.5 348.30h4.5M805.00 558.7v-4.5M844.50 558.7v-4.5M884.00 558.7v-4.5M923.50 558.7v-4.5M963.00 558.7v-4.5M1002.50 558.7v-4.5M1042.00 558.7v-4.5M1081.50 558.7v-4.5M1121.00 558.7v-4.5" stroke="#000" stroke-width="1.3" fill="none"/>
<path d="M765.5 558.7L766.8 558.7L768.1 558.7L769.5 558.7L770.8 558.7L772.1 558.7L773.4 558.7L774.7 558.7L776.0 558.7L777.4 558.7L778.7 558.7L780.0 558.7L781.3 558.7L782.6 558.7L783.9 558.7L785.2 558.7L786.6 558.7L787.9 558.7L789.2 558.7L790.5 558.7L791.8 558.7L793.1 558.7L794.5 558.7L795.8 558.7L797.1 558.7L798.4 558.7L799.7 558.7L801.0 558.7L802.4 558.7L803.7 558.7L805.0 558.7L806.3 558.7L807.6 558.7L809.0 558.7L810.3 558.7L811.6 558.7L812.9 558.7L814.2 558.7L815.5 558.7L816.9 558.7L818.2 558.7L819.5 558.7L820.8 558.7L822.1 558.7L823.4 558.7L824.8 558.7L826.1 558.7L827.4 558.6L828.7 558.6L830.0 558.5L831.3 558.4L832.6 558.3L834.0 558.2L835.3 558.0L836.6 557.9L837.9 557.7L839.2 557.5L840.5 557.2L841.9 557.0L843.2 556.6L844.5 556.3L845.8 556.0L847.1 555.7L848.5 555.3L849.8 554.9L851.1 554.5L852.4 554.1L853.7 553.6L855.0 553.1L856.4 552.6L857.7 552.0L859.0 551.4L860.3 550.7L861.6 550.0L862.9 549.2L864.2 548.4L865.6 547.6L866.9 546.8L868.2 546.0L869.5 545.1L870.8 544.1L872.1 543.2L873.5 542.1L874.8 541.0L876.1 539.8L877.4 538.6L878.7 537.2L880.0 535.8L881.4 534.3L882.7 532.7L884.0 531.0L885.3 529.1L886.6 527.1L888.0 524.9L889.3 522.5L890.6 519.9L891.9 517.2L893.2 514.1L894.5 510.8L895.9 507.1L897.2 503.0L898.5 498.4L899.8 493.3L901.1 487.9L902.4 482.2L903.8 476.2L905.1 470.3L906.4 464.5L907.7 458.8L909.0 453.3L910.3 447.7L911.6 441.9L913.0 435.8L914.3 429.4L915.6 422.8L916.9 416.2L918.2 409.8L919.5 403.6L920.9 397.6L922.2 391.8L923.5 386.5L924.8 382.1L926.1 378.7L927.5 376.1L928.8 374.3L930.1 373.4L931.4 373.7L932.7 374.8L934.0 376.6L935.4 379.0L936.7 382.0L938.0 386.0L939.3 390.8L940.6 395.9L941.9 401.0L943.2 406.0L944.6 410.7L945.9 415.4L947.2 420.0L948.5 424.5L949.8 429.1L951.1 433.6L952.5 438.1L953.8 442.6L955.1 447.0L956.4 451.5L957.7 455.8L959.0 460.0L960.4 463.9L961.7 467.7L963.0 471.3L964.3 474.8L965.6 478.1L967.0 481.3L968.3 484.4L969.6 487.4L970.9 490.3L972.2 493.0L973.5 495.7L974.9 498.3L976.2 500.8L977.5 503.2L978.8 505.5L980.1 507.7L981.4 509.8L982.8 511.8L984.1 513.7L985.4 515.5L986.7 517.2L988.0 518.8L989.3 520.4L990.6 521.9L992.0 523.4L993.3 524.7L994.6 526.0L995.9 527.2L997.2 528.4L998.5 529.4L999.9 530.5L1001.2 531.5L1002.5 532.4L1003.8 533.3L1005.1 534.1L1006.5 534.9L1007.8 535.7L1009.1 536.4L1010.4 537.1L1011.7 537.8L1013.0 538.4L1014.4 539.0L1015.7 539.6L1017.0 540.1L1018.3 540.7L1019.6 541.2L1020.9 541.7L1022.2 542.1L1023.6 542.6L1024.9 543.0L1026.2 543.5L1027.5 543.9L1028.8 544.3L1030.2 544.7L1031.5 545.1L1032.8 545.5L1034.1 545.8L1035.4 546.2L1036.7 546.5L1038.0 546.8L1039.4 547.1L1040.7 547.4L1042.0 547.6L1043.3 547.9L1044.6 548.1L1046.0 548.3L1047.3 548.5L1048.6 548.7L1049.9 548.9L1051.2 549.1L1052.5 549.3L1053.8 549.5L1055.2 549.7L1056.5 549.9L1057.8 550.0L1059.1 550.2L1060.4 550.4L1061.8 550.5L1063.1 550.7L1064.4 550.9L1065.7 551.1L1067.0 551.3L1068.3 551.4L1069.7 551.6L1071.0 551.8L1072.3 551.9L1073.6 552.1L1074.9 552.2L1076.2 552.4L1077.5 552.5L1078.9 552.7L1080.2 552.8L1081.5 552.9L1082.8 553.0L1084.1 553.1L1085.5 553.2L1086.8 553.3L1088.1 553.4L1089.4 553.5L1090.7 553.6L1092.0 553.7L1093.3 553.8L1094.7 553.8L1096.0 553.9L1097.3 554.0L1098.6 554.1L1099.9 554.2L1101.2 554.2L1102.6 554.3L1103.9 554.4L1105.2 554.5L1106.5 554.5L1107.8 554.6L1109.2 554.7L1110.5 554.8L1111.8 554.8L1113.1 554.9L1114.4 555.0L1115.7 555.0L1117.0 555.1L1118.4 555.2L1119.7 555.2L1121.0 555.3" fill="none" stroke="#ff0000" stroke-width="2.3" stroke-linejoin="round" stroke-linecap="round"/>
<path d="M765.5 558.7L766.8 558.7L768.1 558.7L769.5 558.7L770.8 558.7L772.1 558.7L773.4 558.7L774.7 558.7L776.0 558.7L777.4 558.7L778.7 558.7L780.0 558.7L781.3 558.7L782.6 558.7L783.9 558.7L785.2 558.7L786.6 558.7L787.9 558.7L789.2 558.7L790.5 558.7L791.8 558.7L793.1 558.7L794.5 558.7L795.8 558.7L797.1 558.7L798.4 558.7L799.7 558.7L801.0 558.7L802.4 558.7L803.7 558.7L805.0 558.7L806.3 558.7L807.6 558.7L809.0 558.7L810.3 558.7L811.6 558.7L812.9 558.7L814.2 558.7L815.5 558.7L816.9 558.7L818.2 558.7L819.5 558.6L820.8 558.6L822.1 558.5L823.4 558.4L824.8 558.3L826.1 558.2L827.4 558.0L828.7 557.9L830.0 557.7L831.3 557.6L832.6 557.3L834.0 557.1L835.3 556.9L836.6 556.6L837.9 556.3L839.2 556.0L840.5 555.6L841.9 555.3L843.2 554.9L844.5 554.5L845.8 554.1L847.1 553.6L848.5 553.2L849.8 552.7L851.1 552.2L852.4 551.6L853.7 551.0L855.0 550.4L856.4 549.7L857.7 549.0L859.0 548.1L860.3 547.2L861.6 546.2L862.9 545.1L864.2 543.9L865.6 542.7L866.9 541.4L868.2 540.0L869.5 538.6L870.8 537.0L872.1 535.4L873.5 533.7L874.8 532.0L876.1 530.1L877.4 528.2L878.7 526.2L880.0 524.0L881.4 521.9L882.7 519.7L884.0 517.4L885.3 515.2L886.6 512.9L888.0 510.4L889.3 507.8L890.6 504.9L891.9 501.6L893.2 498.0L894.5 493.9L895.9 489.6L897.2 485.0L898.5 480.1L899.8 474.9L901.1 469.4L902.4 463.3L903.8 456.8L905.1 450.0L906.4 443.1L907.7 436.2L909.0 429.3L910.3 422.4L911.6 415.7L913.0 409.3L914.3 403.3L915.6 397.6L916.9 392.4L918.2 387.8L919.5 384.3L920.9 381.5L922.2 379.5L923.5 378.6L924.8 378.7L926.1 379.9L927.5 381.9L928.8 384.4L930.1 387.4L931.4 391.2L932.7 395.4L934.0 400.0L935.4 404.7L936.7 409.1L938.0 413.3L939.3 417.3L940.6 421.3L941.9 425.1L943.2 429.0L944.6 432.8L945.9 436.6L947.2 440.3L948.5 444.1L949.8 447.9L951.1 451.6L952.5 455.3L953.8 459.0L955.1 462.6L956.4 466.2L957.7 469.9L959.0 473.5L960.4 477.0L961.7 480.5L963.0 483.8L964.3 487.0L965.6 489.9L967.0 492.7L968.3 495.3L969.6 497.9L970.9 500.3L972.2 502.7L973.5 504.9L974.9 507.0L976.2 509.1L977.5 511.1L978.8 512.9L980.1 514.7L981.4 516.5L982.8 518.2L984.1 519.9L985.4 521.5L986.7 523.0L988.0 524.5L989.3 525.9L990.6 527.2L992.0 528.4L993.3 529.6L994.6 530.8L995.9 531.8L997.2 532.9L998.5 533.9L999.9 534.9L1001.2 535.8L1002.5 536.7L1003.8 537.5L1005.1 538.3L1006.5 539.0L1007.8 539.7L1009.1 540.3L1010.4 540.9L1011.7 541.5L1013.0 542.0L1014.4 542.5L1015.7 542.9L1017.0 543.4L1018.3 543.8L1019.6 544.2L1020.9 544.6L1022.2 545.0L1023.6 545.4L1024.9 545.8L1026.2 546.1L1027.5 546.5L1028.8 546.9L1030.2 547.2L1031.5 547.5L1032.8 547.8L1034.1 548.2L1035.4 548.4L1036.7 548.7L1038.0 549.0L1039.4 549.2L1040.7 549.5L1042.0 549.7L1043.3 549.9L1044.6 550.1L1046.0 550.3L1047.3 550.5L1048.6 550.6L1049.9 550.8L1051.2 551.0L1052.5 551.1L1053.8 551.3L1055.2 551.4L1056.5 551.6L1057.8 551.7L1059.1 551.8L1060.4 552.0L1061.8 552.1L1063.1 552.3L1064.4 552.4L1065.7 552.5L1067.0 552.7L1068.3 552.8L1069.7 552.9L1071.0 553.1L1072.3 553.2L1073.6 553.3L1074.9 553.4L1076.2 553.5L1077.5 553.6L1078.9 553.8L1080.2 553.9L1081.5 554.0L1082.8 554.1L1084.1 554.2L1085.5 554.3L1086.8 554.4L1088.1 554.5L1089.4 554.6L1090.7 554.6L1092.0 554.7L1093.3 554.8L1094.7 554.9L1096.0 555.0L1097.3 555.1L1098.6 555.1L1099.9 555.2L1101.2 555.3L1102.6 555.3L1103.9 555.4L1105.2 555.5L1106.5 555.5L1107.8 555.6L1109.2 555.6L1110.5 555.7L1111.8 555.8L1113.1 555.8L1114.4 555.9L1115.7 555.9L1117.0 556.0L1118.4 556.0L1119.7 556.0L1121.0 556.1" fill="none" stroke="#00b050" stroke-width="2.3" stroke-linejoin="round" stroke-linecap="round"/>
<path d="M765.5 558.7L766.8 558.7L768.1 558.7L769.5 558.7L770.8 558.7L772.1 558.7L773.4 558.7L774.7 558.7L776.0 558.7L777.4 558.7L778.7 558.7L780.0 558.7L781.3 558.7L782.6 558.7L783.9 558.7L785.2 558.7L786.6 558.7L787.9 558.7L789.2 558.7L790.5 558.7L791.8 558.7L793.1 558.7L794.5 558.7L795.8 558.7L797.1 558.7L798.4 558.7L799.7 558.7L801.0 558.7L802.4 558.7L803.7 558.7L805.0 558.7L806.3 558.7L807.6 558.7L809.0 558.7L810.3 558.6L811.6 558.5L812.9 558.4L814.2 558.3L815.5 558.1L816.9 557.9L818.2 557.7L819.5 557.5L820.8 557.2L822.1 557.0L823.4 556.7L824.8 556.3L826.1 555.8L827.4 555.3L828.7 554.8L830.0 554.2L831.3 553.7L832.6 553.3L834.0 552.9L835.3 552.5L836.6 552.3L837.9 552.1L839.2 551.8L840.5 551.6L841.9 551.3L843.2 550.9L844.5 550.6L845.8 550.2L847.1 549.7L848.5 549.2L849.8 548.6L851.1 547.9L852.4 547.0L853.7 546.2L855.0 545.2L856.4 544.2L857.7 543.1L859.0 542.0L860.3 540.7L861.6 539.4L862.9 538.0L864.2 536.5L865.6 534.9L866.9 533.3L868.2 531.6L869.5 529.8L870.8 527.8L872.1 525.8L873.5 523.7L874.8 521.4L876.1 518.9L877.4 516.2L878.7 513.2L880.0 510.1L881.4 506.7L882.7 503.3L884.0 499.8L885.3 496.1L886.6 492.4L888.0 488.6L889.3 484.6L890.6 480.4L891.9 476.1L893.2 471.6L894.5 466.8L895.9 461.7L897.2 456.4L898.5 451.0L899.8 445.4L901.1 439.8L902.4 433.9L903.8 427.9L905.1 422.0L906.4 416.6L907.7 411.7L909.0 407.4L910.3 403.6L911.6 400.6L913.0 398.4L914.3 396.9L915.6 396.2L916.9 396.4L918.2 397.2L919.5 398.8L920.9 400.9L922.2 403.7L923.5 407.3L924.8 411.2L926.1 415.3L927.5 419.1L928.8 422.7L930.1 426.1L931.4 429.5L932.7 432.8L934.0 436.1L935.4 439.4L936.7 442.7L938.0 446.0L939.3 449.4L940.6 452.7L941.9 456.0L943.2 459.2L944.6 462.3L945.9 465.3L947.2 468.3L948.5 471.1L949.8 473.9L951.1 476.6L952.5 479.3L953.8 481.9L955.1 484.4L956.4 486.9L957.7 489.3L959.0 491.8L960.4 494.2L961.7 496.6L963.0 498.9L964.3 501.3L965.6 503.5L967.0 505.7L968.3 507.9L969.6 509.9L970.9 511.7L972.2 513.4L973.5 515.0L974.9 516.5L976.2 517.9L977.5 519.2L978.8 520.4L980.1 521.6L981.4 522.7L982.8 523.8L984.1 524.9L985.4 525.9L986.7 526.9L988.0 527.9L989.3 528.8L990.6 529.8L992.0 530.7L993.3 531.6L994.6 532.4L995.9 533.3L997.2 534.1L998.5 534.9L999.9 535.6L1001.2 536.3L1002.5 537.0L1003.8 537.6L1005.1 538.2L1006.5 538.8L1007.8 539.3L1009.1 539.8L1010.4 540.3L1011.7 540.8L1013.0 541.3L1014.4 541.7L1015.7 542.2L1017.0 542.6L1018.3 543.0L1019.6 543.4L1020.9 543.8L1022.2 544.2L1023.6 544.5L1024.9 544.9L1026.2 545.3L1027.5 545.6L1028.8 546.0L1030.2 546.3L1031.5 546.6L1032.8 546.9L1034.1 547.3L1035.4 547.6L1036.7 547.9L1038.0 548.1L1039.4 548.4L1040.7 548.7L1042.0 548.9L1043.3 549.2L1044.6 549.4L1046.0 549.7L1047.3 549.9L1048.6 550.1L1049.9 550.3L1051.2 550.6L1052.5 550.8L1053.8 551.0L1055.2 551.2L1056.5 551.4L1057.8 551.6L1059.1 551.8L1060.4 551.9L1061.8 552.1L1063.1 552.3L1064.4 552.5L1065.7 552.7L1067.0 552.8L1068.3 553.0L1069.7 553.2L1071.0 553.3L1072.3 553.5L1073.6 553.6L1074.9 553.8L1076.2 553.9L1077.5 554.1L1078.9 554.2L1080.2 554.4L1081.5 554.5L1082.8 554.6L1084.1 554.8L1085.5 554.9L1086.8 555.0L1088.1 555.2L1089.4 555.3L1090.7 555.4L1092.0 555.6L1093.3 555.7L1094.7 555.8L1096.0 555.9L1097.3 556.0L1098.6 556.1L1099.9 556.2L1101.2 556.3L1102.6 556.4L1103.9 556.5L1105.2 556.6L1106.5 556.7L1107.8 556.8L1109.2 556.8L1110.5 556.9L1111.8 557.0L1113.1 557.0L1114.4 557.1L1115.7 557.2L1117.0 557.2L1118.4 557.3L1119.7 557.3L1121.0 557.4" fill="none" stroke="#0070c0" stroke-width="2.7" stroke-linejoin="round" stroke-linecap="round"/>
<text x="751.2" y="562.6" font-size="11.2" fill="#000" text-anchor="end">0</text>
<text x="751.2" y="536.3" font-size="11.2" fill="#000" text-anchor="end">10</text>
<text x="751.2" y="510.0" font-size="11.2" fill="#000" text-anchor="end">20</text>
<text x="751.2" y="483.7" font-size="11.2" fill="#000" text-anchor="end">30</text>
<text x="751.2" y="457.4" font-size="11.2" fill="#000" text-anchor="end">40</text>
<text x="751.2" y="431.1" font-size="11.2" fill="#000" text-anchor="end">50</text>
<text x="751.2" y="404.8" font-size="11.2" fill="#000" text-anchor="end">60</text>
<text x="751.2" y="378.5" font-size="11.2" fill="#000" text-anchor="end">70</text>
<text x="751.2" y="352.2" font-size="11.2" fill="#000" text-anchor="end">80</text>
<text x="765.0" y="580.2" font-size="11.2" fill="#000" text-anchor="middle">-30</text>
<text x="804.5" y="580.2" font-size="11.2" fill="#000" text-anchor="middle">-20</text>
<text x="844.0" y="580.2" font-size="11.2" fill="#000" text-anchor="middle">-10</text>
<text x="883.5" y="580.2" font-size="11.2" fill="#000" text-anchor="middle">0</text>
<text x="923.0" y="580.2" font-size="11.2" fill="#000" text-anchor="middle">10</text>
<text x="962.5" y="580.2" font-size="11.2" fill="#000" text-anchor="middle">20</text>
<text x="1002.0" y="580.2" font-size="11.2" fill="#000" text-anchor="middle">30</text>
<text x="1041.5" y="580.2" font-size="11.2" fill="#000" text-anchor="middle">40</text>
<text x="1081.0" y="580.2" font-size="11.2" fill="#000" text-anchor="middle">50</text>
<text x="1120.5" y="580.2" font-size="11.2" fill="#000" text-anchor="middle">60</text>
<text x="940" y="596.6" font-size="13.1" fill="#000" text-anchor="middle" textLength="75" lengthAdjust="spacingAndGlyphs">[CAD aTDCf]</text>
<text transform="translate(731.3 462.5) rotate(-90)" font-size="13.1" text-anchor="middle" textLength="73.4" lengthAdjust="spacingAndGlyphs">HRR [J/CAD]</text>
<path d="M970.8 348.4H1007.6" stroke="#ff0000" stroke-width="2.4" stroke-linecap="round"/>
<path d="M970.8 378.8H1007.6" stroke="#00b050" stroke-width="2.4" stroke-linecap="round"/>
<path d="M970.8 409.4H1007.6" stroke="#0070c0" stroke-width="2.4" stroke-linecap="round"/>
<text x="1012" y="351.6" font-size="8.8" fill="#000" textLength="71" lengthAdjust="spacingAndGlyphs">Baseline SA -14</text>
<text x="1012" y="382" font-size="8.8" fill="#000" textLength="116" lengthAdjust="spacingAndGlyphs">Water 3 bar SOI 0 aTDCf,</text>
<text x="1012" y="395.5" font-size="8.8" fill="#000" textLength="30" lengthAdjust="spacingAndGlyphs">SA -16</text>
<text x="1012" y="412.5" font-size="8.8" fill="#000" textLength="100" lengthAdjust="spacingAndGlyphs">Water 20 bar SOI 300</text>
<text x="1012" y="426" font-size="8.8" fill="#000" textLength="63" lengthAdjust="spacingAndGlyphs">aTDCf, SA -20</text>
</g>
</svg>
</body></html>
